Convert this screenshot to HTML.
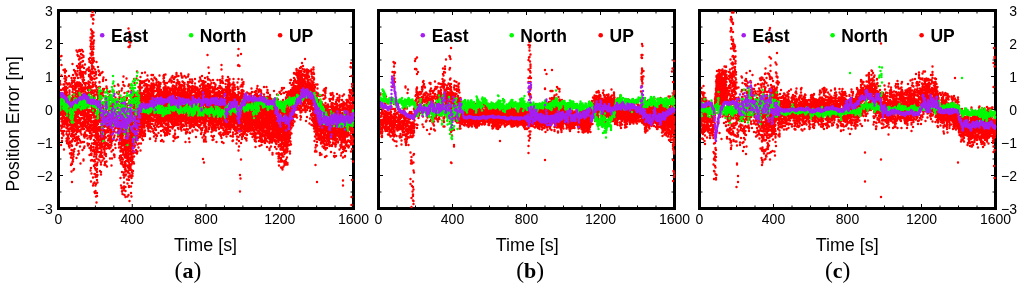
<!DOCTYPE html><html><head><meta charset="utf-8"><style>
html,body{margin:0;padding:0;background:#fff;width:1024px;height:287px;overflow:hidden}
svg{position:absolute;left:0;top:0}
text{font-family:"Liberation Sans", Arial, sans-serif}
</style></head><body>
<svg width="1024" height="287" viewBox="0 0 1024 287">
<defs>
<clipPath id="c0"><rect x="60" y="9.5" width="294.5" height="200"/></clipPath>
<clipPath id="c1"><rect x="380" y="9.5" width="295.5" height="200"/></clipPath>
<clipPath id="c2"><rect x="701" y="9.5" width="295.5" height="200"/></clipPath>
</defs>
<path d="M60 192h1.5M352 192h-1.5M60 175.5h3M352 175.5h-3M60 159h1.5M352 159h-1.5M60 142.5h3M352 142.5h-3M60 126h1.5M352 126h-1.5M60 109.5h3M352 109.5h-3M60 93h1.5M352 93h-1.5M60 76.5h3M352 76.5h-3M60 60h1.5M352 60h-1.5M60 43.5h3M352 43.5h-3M60 27h1.5M352 27h-1.5M76.9375 207v-1.5M76.9375 12v1.5M95.375 207v-1.5M95.375 12v1.5M113.812 207v-1.5M113.812 12v1.5M132.25 207v-3M132.25 12v3M150.688 207v-1.5M150.688 12v1.5M169.125 207v-1.5M169.125 12v1.5M187.562 207v-1.5M187.562 12v1.5M206 207v-3M206 12v3M224.438 207v-1.5M224.438 12v1.5M242.875 207v-1.5M242.875 12v1.5M261.312 207v-1.5M261.312 12v1.5M279.75 207v-3M279.75 12v3M298.188 207v-1.5M298.188 12v1.5M316.625 207v-1.5M316.625 12v1.5M335.062 207v-1.5M335.062 12v1.5" stroke="#000" stroke-width="1" fill="none"/>
<rect x="58.5" y="10.5" width="295" height="198" fill="none" stroke="#000" stroke-width="3"/>
<path d="M380 192h1.5M673 192h-1.5M380 175.5h3M673 175.5h-3M380 159h1.5M673 159h-1.5M380 142.5h3M673 142.5h-3M380 126h1.5M673 126h-1.5M380 109.5h3M673 109.5h-3M380 93h1.5M673 93h-1.5M380 76.5h3M673 76.5h-3M380 60h1.5M673 60h-1.5M380 43.5h3M673 43.5h-3M380 27h1.5M673 27h-1.5M397 207v-1.5M397 12v1.5M415.5 207v-1.5M415.5 12v1.5M434 207v-1.5M434 12v1.5M452.5 207v-3M452.5 12v3M471 207v-1.5M471 12v1.5M489.5 207v-1.5M489.5 12v1.5M508 207v-1.5M508 12v1.5M526.5 207v-3M526.5 12v3M545 207v-1.5M545 12v1.5M563.5 207v-1.5M563.5 12v1.5M582 207v-1.5M582 12v1.5M600.5 207v-3M600.5 12v3M619 207v-1.5M619 12v1.5M637.5 207v-1.5M637.5 12v1.5M656 207v-1.5M656 12v1.5" stroke="#000" stroke-width="1" fill="none"/>
<rect x="378.5" y="10.5" width="296" height="198" fill="none" stroke="#000" stroke-width="3"/>
<path d="M701 192h1.5M994 192h-1.5M701 175.5h3M994 175.5h-3M701 159h1.5M994 159h-1.5M701 142.5h3M994 142.5h-3M701 126h1.5M994 126h-1.5M701 109.5h3M994 109.5h-3M701 93h1.5M994 93h-1.5M701 76.5h3M994 76.5h-3M701 60h1.5M994 60h-1.5M701 43.5h3M994 43.5h-3M701 27h1.5M994 27h-1.5M718 207v-1.5M718 12v1.5M736.5 207v-1.5M736.5 12v1.5M755 207v-1.5M755 12v1.5M773.5 207v-3M773.5 12v3M792 207v-1.5M792 12v1.5M810.5 207v-1.5M810.5 12v1.5M829 207v-1.5M829 12v1.5M847.5 207v-3M847.5 12v3M866 207v-1.5M866 12v1.5M884.5 207v-1.5M884.5 12v1.5M903 207v-1.5M903 12v1.5M921.5 207v-3M921.5 12v3M940 207v-1.5M940 12v1.5M958.5 207v-1.5M958.5 12v1.5M977 207v-1.5M977 12v1.5" stroke="#000" stroke-width="1" fill="none"/>
<rect x="699.5" y="10.5" width="296" height="198" fill="none" stroke="#000" stroke-width="3"/>
<g clip-path="url(#c0)" fill="none" stroke-linecap="round">
<path transform="scale(0.5)" stroke="#ff0000" stroke-width="4.9" d="M116 144zm1-7zm0-27zm0 33zm1 4zm1 60zm0-18zm0 61zm0-137zm1 117zm0-25zm0-39zm0 59zm0 12zm0-20zm0-1zm0-54zm0 43zm0 11zm0-1zm0-20zm0-1zm0 7zm1 11zm0-32zm0 8zm0 16zm0-35zm0 60zm0-27zm0 2zm0 57zm1-81zm0 31zm0 13zm0-11zm0 77zm1-69zm0 35zm0-13zm0-25zm0-67zm0 55zm0-94zm0 140zm0-14zm0-17zm0-91zm0 72zm0 23zm1 4zm0 53zm0-39zm0-46zm0 13zm0 8zm0 25zm0-39zm0-6zm0 2zm0 76zm0-40zm0 26zm0 5zm1-65zm0 12zm0-16zm0 40zm0-4zm0-19zm0 33zm0-28zm0-6zm0 16zm0-25zm0 36zm0-30zm0 17zm0 38zm0-17zm0 16zm1-73zm0 27zm0 46zm0-33zm0 2zm0-24zm0 7zm0-1zm0-5zm0 42zm0-31zm0 24zm0-4zm0-19zm0-12zm0 3zm0 3zm0-40zm0 2zm0 88zm1-57zm0 2zm0 1zm0 57zm0-67zm0 43zm0-38zm0 2zm0 33zm0-8zm0-24zm0 9zm0-22zm0-29zm0 102zm0-52zm0 26zm0-105zm0 77zm0 1zm0-26zm1 34zm0 1zm0-1zm0 16zm0-38zm0 39zm0 19zm0-28zm0 2zm0 7zm0-74zm0 130zm0-70zm0-53zm1 11zm0 1zm0 6zm0 20zm0-9zm0-15zm0-10zm0 31zm0-22zm0 24zm0-37zm0 9zm0-28zm0 33zm0-14zm0 11zm0 60zm0 1zm0-49zm0 29zm0-88zm0 113zm0-24zm0-60zm1 39zm0-45zm0 19zm0-40zm0 45zm0 35zm0-48zm0-22zm0-9zm0 2zm0-6zm0 101zm0-77zm1 43zm0 30zm0-36zm0-11zm0-10zm0 3zm0 23zm0 10zm0-22zm0 22zm0-16zm0 18zm0 21zm0-52zm0 17zm0-16zm0-11zm0 42zm0-18zm1 6zm0-11zm0-15zm0 46zm0-40zm0-7zm0 51zm0-45zm0 16zm0-27zm0 3zm0 71zm0-21zm0 2zm0-69zm0 25zm0 6zm0 52zm0-101zm0 95zm1-22zm0 29zm0-45zm0 64zm0-80zm0 13zm0-9zm0-32zm0 47zm0-36zm0 79zm0-9zm0 20zm0 26zm0-58zm0-33zm0 86zm0-9zm1-38zm0 53zm0 3zm0-53zm0-6zm0 23zm0-27zm0-7zm0 39zm0-41zm0-11zm0 22zm0-34zm0 50zm0-56zm0 44zm0 26zm0-11zm1-25zm0-19zm0 25zm0-16zm0 15zm0-55zm0 41zm0 70zm0-58zm0 48zm0-38zm0 55zm0-35zm0-30zm0 55zm0-28zm0 27zm0-70zm0 51zm0-57zm0 46zm0-70zm0 37zm0 26zm1-12zm0 46zm0-70zm0 23zm0 45zm0-21zm0 1zm0-18zm0 2zm0 4zm0-33zm0-38zm0 45zm0 13zm0 3zm1-8zm0-30zm0 71zm0-65zm0 54zm0-14zm0 2zm0-40zm0 26zm0 4zm0 20zm0 1zm0-43zm0 79zm0-35zm0-43zm0 33zm0-12zm0 31zm0-11zm1 28zm0-49zm0-20zm0-3zm0 10zm0 24zm0 53zm0-125zm0 124zm0-83zm0 21zm0-77zm1 79zm0-43zm0 34zm0-41zm0 77zm0 25zm0-116zm0 66zm0 59zm0-24zm0-27zm0 45zm0 9zm0-122zm0 90zm0-79zm0 73zm1-41zm0 70zm0-36zm0 0zm0-44zm0 6zm0 32zm0 5zm0 58zm0-105zm0 25zm1-14zm0 17zm0 55zm0-85zm0 33zm0-10zm0-27zm0 23zm0-7zm0 10zm0-52zm0 32zm0 34zm1 12zm0 10zm0-1zm0-40zm0 18zm0-19zm0 40zm0 16zm0-59zm0 37zm0-53zm0 118zm0-66zm0-7zm0 41zm0 47zm0-73zm1-59zm0 15zm0 39zm0-28zm0 103zm0-17zm0-4zm0-150zm0 89zm0 55zm0-77zm0 31zm0 36zm0 53zm0-169zm0 30zm0 28zm0 13zm1 6zm0 22zm0 9zm0-53zm0 0zm0 33zm0-31zm0-4zm0-29zm0-37zm0 120zm0 47zm0-79zm0 19zm0-65zm0 80zm0-65zm0 74zm0-125zm0 197zm0-199zm0 65zm0 2zm0 10zm0-77zm0 63zm0-10zm1-90zm0 195zm0-132zm0 20zm0 53zm0-7zm0 59zm0-35zm0-97zm0 139zm0-119zm0-1zm0 65zm0-51zm0 51zm1-39zm0 32zm0 62zm0-81zm0-66zm0 87zm0-63zm0-5zm0 124zm0-119zm0 64zm0 0zm0-85zm0 54zm0-83zm0 157zm0-104zm0-31zm0 129zm0-54zm0-21zm0 46zm0 6zm0-30zm0-69zm1 57zm0-39zm0 17zm0 95zm0-56zm0-74zm0-2zm0 24zm0 47zm0-52zm0 19zm0 98zm0-151zm0 178zm0-79zm1-99zm0 96zm0-81zm0 55zm0-14zm0 120zm0-88zm0-40zm0 26zm0 34zm0-114zm0 34zm0 83zm0-109zm0 23zm0 21zm0 5zm0 90zm0-163zm0 101zm1-5zm0 27zm0-2zm0-20zm0-23zm0-7zm0 12zm0 7zm0-17zm0 21zm0 3zm0 61zm0-51zm0-13zm0-3zm0-70zm1 121zm0-6zm0-120zm0 49zm0 32zm0-34zm0 1zm0 13zm0-48zm0-26zm0 30zm0-31zm0 56zm1-5zm0 32zm0 23zm0-6zm0-42zm0-20zm0-4zm0 48zm0-32zm0 77zm0-102zm0 71zm0-91zm0 39zm0 37zm0 27zm0 4zm1-27zm0 28zm0 5zm0-10zm0-20zm0-25zm0 42zm0-18zm0 4zm0 35zm0-42zm0-25zm0-19zm0-15zm0 21zm0-15zm0 62zm0 43zm0-96zm1 74zm0-105zm0 63zm0-8zm0-34zm0-71zm0 66zm0 107zm0 16zm0 26zm0-71zm0-70zm0 19zm0-47zm0 50zm1 90zm0-70zm0 17zm0-10zm0 40zm0-22zm0-16zm0-16zm0 5zm0 4zm0-54zm0 116zm0-3zm0-14zm0-24zm0-89zm0-19zm0 37zm0-19zm0 80zm1-5zm0 61zm0-7zm0-36zm0 2zm0-41zm0 15zm0 5zm0 3zm0 16zm0-55zm0 71zm0-15zm0 8zm0-142zm0 137zm0-75zm0-30zm0 23zm0 3zm0 30zm0-94zm1 130zm0-67zm0 16zm0 46zm0-47zm0 15zm0 64zm0-149zm0 72zm0-28zm0 62zm0-46zm0 20zm0 0zm0 19zm0-40zm0 85zm0-120zm0 85zm0 25zm0 17zm0-65zm0 111zm0-33zm1-59zm0 26zm0 0zm0 59zm0-16zm0-63zm0-3zm0-48zm0 29zm0 72zm0 5zm0-68zm0-7zm0 37zm0 20zm0-74zm0 5zm0 71zm1-143zm0 59zm0 129zm0-53zm0-12zm0-57zm0-16zm0-4zm0 81zm0-73zm0-7zm0 34zm0 78zm0-150zm0 94zm0-87zm0-34zm0 94zm0 0zm0-15zm1 19zm0 39zm0-16zm0 15zm0-11zm0-1zm0-58zm0 38zm0-56zm0 87zm0-90zm0-14zm0 75zm0-13zm0-76zm0 61zm0-66zm0-13zm0 139zm0-19zm0-54zm1 26zm0-7zm0 38zm0-94zm0 61zm0-88zm0 179zm0-140zm0 71zm0-34zm0 40zm0 43zm0-91zm0 69zm0 54zm0-156zm1 102zm0 6zm0-120zm0 70zm0-28zm0 82zm0 78zm0-185zm0 79zm0-54zm0 73zm0-31zm0-54zm0 29zm0 25zm0 54zm0-70zm0 53zm0-33zm0 52zm0-12zm0-49zm0-8zm1-18zm0 7zm0 66zm0-143zm0 62zm0 89zm0-30zm0-19zm0 2zm0 18zm0-33zm0-53zm0 141zm0-91zm0-46zm0 4zm0 22zm0 28zm0 4zm0-72zm1 91zm0-125zm0 53zm0 56zm0-18zm0 18zm0-75zm0 66zm0-84zm0 88zm0 17zm0-13zm0-32zm0 28zm0-30zm0 95zm0-32zm0-35zm0-20zm0-30zm1 98zm0-76zm0-74zm0 101zm0-6zm0-12zm0 53zm0-15zm0 32zm0-83zm0 50zm0-41zm0-28zm0 60zm0 15zm0-75zm0 51zm0 1zm0-6zm1-38zm0 99zm0-12zm0-26zm0-13zm0 7zm0 22zm0-89zm0-14zm0 124zm0-6zm0-44zm0 77zm0-34zm0-117zm0 48zm0-58zm0 86zm0-78zm0 79zm0-20zm0 0zm0 110zm0-190zm1 105zm0-112zm0 103zm0-9zm0-2zm0-12zm0 45zm0-76zm0-30zm0 122zm0-14zm0-5zm0-25zm0-56zm0 19zm0 59zm0-29zm0-13zm0-30zm0 27zm0 50zm1 25zm0-38zm0-100zm0 91zm0 45zm0-7zm0-50zm0 3zm0-2zm0-39zm0 68zm0 8zm0-28zm0 26zm0-4zm0-113zm0 109zm0 36zm0-69zm0 131zm0 2zm1-71zm0-36zm0 82zm0-58zm0-72zm0 104zm0-134zm0 62zm0-23zm0 2zm0 36zm0 6zm0 53zm0-29zm0-16zm0 57zm0-32zm0 6zm0-33zm0-65zm1 111zm0-26zm0 30zm0-54zm0 47zm0-27zm0 1zm0-5zm0-3zm0 59zm0-62zm0 10zm0-96zm0 84zm1-13zm0 31zm0-26zm0-24zm0-2zm0-12zm0 82zm0-136zm0 49zm0 34zm0 11zm0-30zm0 19zm0-16zm0 54zm0-52zm0-10zm0-20zm0 38zm0 0zm0 20zm0 20zm0-71zm0 19zm0 48zm0-75zm1 53zm0 7zm0-30zm0 10zm0-60zm0 38zm0-15zm0 35zm0 39zm0-44zm0 28zm0-54zm0 95zm0-125zm0 65zm0-14zm0 45zm0-40zm1-2zm0 11zm0 6zm0-3zm0 42zm0 18zm0-82zm0-24zm0 63zm0 23zm0-45zm0 11zm0-42zm0 56zm0 40zm1-83zm0 44zm0-5zm0-16zm0 33zm0 16zm0-59zm0 53zm0-115zm0 104zm1 12zm0-37zm0-19zm0 15zm0-28zm0 42zm0 7zm0-46zm0 55zm0 26zm1-64zm0 51zm0-38zm0 29zm0 2zm0-18zm0-28zm0 20zm0 34zm0-34zm0-23zm0 85zm0-48zm0-62zm0 100zm0-139zm0 92zm1-8zm0-42zm0-6zm0 82zm0 35zm0-124zm0 25zm0 99zm0-94zm1-58zm0 36zm0 38zm0 26zm0 3zm0 5zm0-25zm0 5zm0-64zm0 18zm0 54zm0-49zm0 76zm0-37zm0 23zm0-11zm1-102zm0-17zm0 32zm0 138zm0-94zm0-24zm0 91zm0-7zm0-102zm0 84zm0-57zm0-8zm0-29zm0 97zm0 23zm0-30zm1-38zm0 80zm0-76zm0-45zm0 119zm0 38zm0-115zm0-54zm0 38zm0 25zm0 19zm0 33zm0 40zm0-174zm0 120zm0-70zm0-48zm0 96zm1 10zm0-21zm0 25zm0-118zm0 25zm0 121zm0-64zm0 68zm0-16zm0-51zm0 39zm0-87zm0 88zm0-116zm0 115zm0-73zm0-13zm0 1zm1-5zm0 55zm0-4zm0 79zm0-77zm0-43zm0 21zm0 76zm0-112zm0 110zm0-98zm0-62zm0 93zm0-10zm0-101zm0 32zm0 157zm0-77zm0 46zm0 108zm0-260zm0 169zm1-6zm0-146zm0 135zm0 75zm0-201zm0 256zm0-112zm0 50zm0-148zm0 139zm0-198zm0 79zm0 15zm0-62zm0-38zm0 144zm0 89zm0-45zm0-35zm0 95zm0-152zm0 115zm0-240zm1 25zm0 127zm0 96zm0-58zm0-63zm0 28zm0-121zm0 67zm0-127zm0 227zm0-24zm0 17zm0 6zm0-176zm0 141zm0 49zm0-6zm0-200zm0 185zm0 43zm0-184zm0 236zm0-48zm0-29zm0 40zm0-52zm0-228zm0 177zm0 14zm1 2zm0-136zm0 58zm0 142zm0-57zm0-155zm0 58zm0-30zm0-27zm0 244zm0-203zm0 94zm0 7zm0 2zm0-100zm0 17zm0-6zm0 54zm0-108zm0 50zm0 19zm0 48zm0-132zm0 13zm0 63zm0 21zm1-12zm0-81zm0 58zm0-58zm0 108zm0-40zm0-49zm0 58zm0 42zm0 73zm0 13zm0 0zm0-57zm0 16zm0-159zm0 74zm0-121zm0 109zm0 34zm0-95zm0 178zm0-49zm0 24zm0-11zm0-28zm0-50zm0 56zm0-127zm0 116zm0-25zm1 38zm0-60zm0 72zm0-41zm0 38zm0-165zm0 71zm0 61zm0 73zm0-48zm0 49zm0-156zm0 167zm0-11zm0-146zm0 273zm0-246zm0 19zm0 211zm0-209zm0 27zm0 88zm0-156zm0-58zm0 255zm0-237zm1 58zm0 11zm0 108zm0 125zm0-137zm0-86zm0 51zm0-123zm0 21zm0-6zm0 29zm0 20zm0-51zm0 13zm0 146zm0-205zm0 147zm0 57zm0-125zm0-88zm0 188zm0 104zm0-127zm0 0zm0 17zm0 82zm0-30zm0-40zm0-159zm0 155zm1 27zm0-166zm0 154zm0-113zm0 210zm0-120zm0 68zm0 20zm0-93zm0 44zm0 8zm0-15zm0 69zm0-71zm0-31zm0 90zm0-50zm0-9zm0 46zm0-56zm0 67zm0-13zm0-59zm1 8zm0-17zm0 35zm0-26zm0 81zm0 40zm0-44zm0-33zm0 94zm0-207zm0 34zm0-40zm0 110zm0 59zm0-66zm0-66zm0 131zm0-139zm0 78zm0 125zm0-113zm0-61zm0 77zm0 43zm1-84zm0-5zm0 82zm0-104zm0-73zm0 240zm0-163zm0-54zm0 102zm0 17zm0-29zm0 23zm0-143zm0 44zm0 79zm0-55zm0 48zm0-6zm0 87zm0-101zm0 94zm1-54zm0-29zm0 136zm0-127zm0 5zm0 79zm0-174zm0 206zm0-99zm0-25zm0 57zm0-89zm0 70zm0 64zm0-142zm0 36zm0 20zm0-18zm0-73zm0 92zm0 90zm0-71zm0-12zm0-58zm0-11zm1 65zm0-34zm0 160zm0-153zm0 58zm0 15zm0-165zm0 107zm0-5zm0-101zm0 73zm0 73zm0-123zm0 95zm0-15zm0-108zm0 101zm0 19zm0 6zm0-18zm0 116zm1-193zm0 116zm0 37zm0-23zm0-10zm0-139zm0 76zm0 66zm0 41zm0 2zm0-10zm0-72zm0 58zm0-77zm0 65zm0 100zm0-155zm0-71zm0 130zm0-120zm0 96zm0-161zm0 87zm0 83zm0-3zm0-29zm0-16zm0 55zm1 27zm0-67zm0 83zm0-6zm0-88zm0 142zm0-6zm0-99zm0-54zm0 46zm0 15zm0-110zm0 146zm0-141zm0 171zm0-160zm0 153zm0-75zm0-49zm0 68zm0 7zm0-120zm1 43zm0 4zm0 12zm0-16zm0-3zm0 78zm0-31zm0 79zm0-135zm0 45zm0 65zm0-112zm0 61zm0-35zm0-35zm0 61zm0-34zm0 10zm0-5zm0-13zm0 142zm0-142zm0-10zm0 72zm0-41zm1-30zm0-19zm0 76zm0-54zm0 20zm0-103zm0 109zm0-62zm0 24zm0-24zm0 12zm0 75zm0-38zm0-35zm0 12zm0 41zm0-51zm0 38zm0 20zm1-20zm0-60zm0 144zm0-48zm0-31zm0 21zm0-44zm0 56zm0-37zm0 20zm0 2zm0 24zm0-63zm0-22zm0 25zm0 56zm0 6zm0-143zm0 98zm0 0zm0 65zm0-49zm0-19zm0 41zm0-81zm0 5zm0 96zm0-92zm0 52zm0 33zm1-81zm0 72zm0-91zm0 13zm0-60zm0 71zm0-28zm0-2zm0 34zm0 21zm0-89zm0 85zm0 19zm0-16zm0 21zm1-22zm0-31zm0 37zm0-56zm0 37zm0-11zm0-48zm0-1zm0 10zm0 117zm0-58zm0 80zm0-55zm0-94zm0 38zm0 32zm0 9zm0 78zm0-87zm0 22zm1 86zm0-112zm0-30zm0 15zm0 96zm0-82zm0-17zm0-38zm0 20zm0 102zm0-112zm0 17zm0-51zm0 94zm0-55zm0 90zm0 8zm0-77zm0 17zm0-18zm0-61zm0 76zm0 0zm0-6zm1 56zm0-35zm0 51zm0 24zm0-57zm0-35zm0-5zm0 93zm0-48zm0-49zm0 95zm0-97zm0 44zm0 49zm0-41zm0 30zm0-20zm1-59zm0 56zm0-7zm0-77zm0 92zm0 30zm0-38zm0-16zm0 24zm0-1zm0-23zm0-62zm0 152zm0-102zm0-3zm0-49zm0 139zm0-51zm0 16zm0 31zm0 24zm0-83zm1 27zm0-8zm0-61zm0 76zm0-103zm0 80zm0-12zm0-28zm0-19zm0 65zm0-98zm0-39zm0 85zm0 60zm0-44zm0 35zm0-4zm0-57zm0-3zm1-7zm0 101zm0-56zm0-15zm0 71zm0-55zm0 11zm0 24zm0 13zm0-58zm0 42zm0 6zm0-63zm1 36zm0-32zm0 17zm0 19zm0 7zm0-11zm0 53zm0-33zm0-144zm0 170zm0-106zm0 18zm0 88zm0-54zm0-17zm0-57zm0 19zm0 53zm0-75zm1-1zm0 23zm0 32zm0-59zm0 55zm0 27zm0-75zm0 66zm0-23zm0 45zm0-62zm0 30zm0-27zm0 13zm0 48zm0-59zm0-54zm0 29zm0 21zm0 23zm0-76zm1 33zm0 40zm0 39zm0 6zm0-6zm0-28zm0-21zm0-38zm0 54zm0-83zm0 76zm0 16zm0 30zm0-70zm0-26zm0 68zm0-67zm1 80zm0-54zm0-30zm0 61zm0-2zm0 2zm0 42zm0 12zm0 5zm0-46zm0 18zm0-10zm0 26zm0-16zm0 16zm0-52zm0 20zm0 8zm0 55zm1-49zm0-15zm0 52zm0-22zm0 4zm0-76zm0 55zm0 40zm0-4zm0 7zm0 21zm0-98zm0 45zm0-73zm0 89zm1-25zm0-33zm0 62zm0 29zm0-2zm0-60zm0-30zm0 34zm0 5zm0-76zm0 95zm1-86zm0 82zm0-37zm0 57zm0-47zm0-51zm0 120zm0-97zm0 16zm0 41zm0-62zm1 47zm0-49zm0 64zm0-57zm0 75zm0-108zm0 86zm0 11zm0-137zm0 152zm0-102zm0 11zm1-15zm0 117zm0-150zm0 44zm0 32zm0 13zm0-86zm0 49zm0 36zm0-27zm0-40zm0 103zm0-44zm0 12zm1-40zm0 13zm0 10zm0 85zm0-156zm1 77zm0 33zm0-23zm0-14zm0 9zm0-28zm0-3zm0 21zm0-16zm0-50zm0 59zm0-27zm1-12zm0 40zm0 29zm0 20zm0-11zm0-53zm0 29zm0 31zm0-32zm1 6zm0-8zm0 42zm0-32zm0-36zm0 65zm0-54zm0 24zm0-24zm0 32zm0 7zm1-58zm0-27zm0 58zm0-21zm0 4zm0-9zm0-10zm0-14zm0 53zm0-39zm0 2zm0-33zm0 67zm0-43zm0-6zm0 31zm0-15zm0 30zm1-53zm0 29zm0-26zm0 57zm0-32zm0 53zm0-5zm0-27zm0-8zm0-13zm0 33zm0-37zm0-8zm0 79zm0-58zm0 65zm1 20zm0-77zm0 40zm0-49zm0-48zm0 17zm0 36zm0 44zm0-35zm0-33zm0 72zm0-94zm0 36zm0 14zm0-25zm0 45zm0-18zm0-11zm1-40zm0 65zm0 18zm0-54zm0 75zm0-24zm0-47zm0 43zm0-10zm0-30zm0 25zm0-11zm0 29zm0-11zm1 4zm0 27zm0-49zm0-18zm0 36zm0 31zm0-59zm0 19zm0-42zm0 60zm0 11zm0-47zm0 42zm0-21zm0 19zm1-29zm0 43zm0-8zm0 53zm0-60zm0-6zm0-33zm0 33zm0 20zm0-65zm0 11zm0 53zm0-43zm0 18zm0 32zm0-51zm0 63zm1-38zm0 16zm0-42zm0-8zm0-12zm0 63zm0-31zm0-58zm0 124zm0-104zm0 19zm0-19zm0 1zm0 5zm1 17zm0-5zm0-32zm0 10zm0 7zm0 27zm0 8zm0-46zm0 43zm1 5zm0-18zm0-19zm0 7zm0 1zm0 16zm0-10zm0-23zm0 17zm0 76zm0-52zm0-3zm0 21zm0-22zm1-34zm0 29zm0-12zm0-44zm0 43zm0 19zm0 35zm0-29zm0-10zm0-42zm0 64zm1-2zm0-30zm0 79zm0-1zm0-34zm1-103zm0 72zm0 66zm0-39zm0-52zm0 95zm0-51zm0-24zm1-35zm0 53zm0 32zm0-67zm0 19zm0-28zm1 83zm0-41zm0-27zm0-33zm0 13zm1-5zm0 30zm0-32zm0 80zm0-46zm0-7zm0-22zm1 47zm0-7zm0-18zm0-4zm0 15zm0 9zm1-33zm0-30zm0 94zm0-28zm0-21zm1-5zm0 31zm0-19zm0-26zm0 14zm1 48zm0-40zm0-64zm0 44zm0 50zm0-36zm0 29zm0 9zm0-57zm0 59zm0 4zm0-25zm1-20zm0-38zm0 47zm0 12zm0-21zm0-23zm0-32zm0 57zm0 31zm0 5zm0-23zm0 9zm0 3zm1-68zm0-2zm0 66zm0 37zm0-49zm0 52zm0-85zm0 15zm0 6zm0 6zm0 27zm0-24zm0 61zm0-38zm0-59zm1 87zm0-23zm0-30zm0 0zm0-14zm0 53zm0-1zm0-31zm0-12zm0 23zm0-56zm0 65zm0 3zm0-23zm0 77zm0-64zm0 4zm1 32zm0-45zm0 29zm0 40zm0-61zm0-41zm0 67zm0-11zm0 1zm0-27zm1 24zm0 30zm0-81zm0 88zm0-91zm0 55zm0-33zm0 26zm0 45zm0-56zm0-24zm0 32zm0 66zm0 35zm0-94zm0 5zm0-46zm0 55zm0 3zm0-27zm0 42zm0 26zm1-46zm0 20zm0-27zm0 20zm0-46zm0 30zm0-18zm0-46zm0 105zm0-1zm0-106zm0 91zm0 18zm0 57zm0-91zm0-8zm0 55zm0-50zm0-45zm0 64zm1 6zm0-5zm0-7zm0-30zm0-25zm0-27zm0 117zm0-40zm0-66zm0 66zm0-104zm0 195zm0-179zm0 73zm0-41zm0 97zm0-49zm0-19zm0-12zm0 79zm0-46zm0-4zm0 51zm0-74zm1 6zm0 40zm0-82zm0 55zm0-94zm0 46zm0 33zm0 22zm0 38zm0-52zm0 80zm0-68zm0 5zm0 102zm0-57zm1-79zm0 10zm0-33zm0 49zm0 30zm0-28zm0 113zm0-13zm0-57zm0-49zm0-2zm0-14zm0 18zm0-72zm0 84zm0-29zm0 75zm0-125zm0 63zm0-27zm0 51zm0-24zm0-13zm0 26zm0 101zm0-57zm0-50zm0 4zm0 39zm1-18zm0-9zm0-2zm0 31zm0-155zm0 119zm0-63zm0 41zm0-29zm0-5zm0-23zm0 105zm0-55zm0-7zm0-3zm0 20zm0 7zm0-42zm0 75zm0-96zm0 5zm1-18zm0 32zm0-31zm0 55zm0 38zm0-119zm0 136zm0-71zm0 24zm0-55zm0 141zm0-192zm0 180zm0-50zm0-59zm0 126zm1-132zm0 10zm0 12zm0 42zm0-2zm0 19zm0 66zm0-84zm0-15zm0 114zm0-160zm0 129zm0-120zm0 147zm0-21zm0 18zm0-74zm0-78zm0 108zm0-42zm0-82zm0 95zm0-48zm0 13zm0-70zm0 139zm1-76zm0-17zm0-69zm0 138zm0-83zm0-32zm0 137zm0-51zm0 9zm0-81zm0 86zm0 37zm0-46zm0 26zm0-93zm0 31zm0 140zm0-164zm0 12zm0-52zm0 97zm0-22zm0-27zm1 67zm0-70zm0 93zm0-14zm0-72zm0 42zm0-36zm0 37zm0-55zm0 62zm0-26zm0-20zm0-40zm0 112zm0 1zm0-32zm0 56zm0-14zm0-63zm0 36zm0-44zm0-17zm0-20zm1 0zm0 110zm0-83zm0 50zm0 35zm0 22zm0 31zm0-100zm0-61zm0 60zm0 57zm0-101zm0 95zm0-57zm0 68zm0-64zm0 49zm0-66zm0 65zm0 6zm0 41zm0 20zm0-127zm1 6zm0 49zm0-22zm0-39zm0-30zm0 18zm0 12zm0 1zm0-2zm0 9zm0-21zm0 3zm0 37zm0-59zm0 82zm0-3zm0-3zm0-6zm0 50zm0-67zm1 2zm0 27zm0-3zm0-5zm0-39zm0 9zm0 36zm0-152zm0 107zm0 34zm0 1zm0-45zm0-23zm0 71zm0-53zm0-34zm0 101zm0-90zm0 116zm0-67zm0 38zm0-26zm0-87zm0 47zm0 10zm0-10zm0-38zm0 106zm0-53zm1-15zm0 64zm0-61zm0 5zm0-70zm0 84zm0 15zm0-65zm0 70zm0-39zm0-54zm0 45zm0-31zm0 56zm0-29zm0 50zm0 12zm0 60zm0-145zm0 63zm1 54zm0 62zm0-140zm0 45zm0 19zm0-86zm0 32zm0-55zm0 68zm0 45zm0-54zm0 51zm0-73zm0 38zm0 10zm0-59zm0 82zm0-45zm0 25zm0-1zm0 19zm0 53zm0-123zm0 38zm1-3zm0-37zm0 64zm0-5zm0-23zm0-8zm0 73zm0-30zm0-40zm0 9zm0 14zm0 49zm0-11zm0-101zm0 38zm0-29zm0 53zm0-34zm0 61zm0-88zm0 33zm1 86zm0-73zm0-29zm0 30zm0 37zm0-146zm0 73zm0 79zm0 13zm0 53zm0-137zm0-44zm0-115zm0 222zm0 7zm0-266zm0 276zm0-76zm0-74zm0 109zm0-69zm0 136zm1-102zm0-20zm0 59zm0-30zm0 88zm0 20zm0-125zm0 14zm0 39zm0-42zm0 13zm0 8zm0-1zm0-1zm0 10zm0-215zm0 183zm0 43zm0-90zm0 36zm0 126zm0-288zm0 117zm0-32zm0 87zm0 45zm0-95zm0 103zm0-139zm0 190zm0-35zm1-100zm0 91zm0 86zm0-210zm0 124zm0 24zm0 7zm0-75zm0 13zm0 68zm0-21zm0-4zm0-51zm0 12zm0-195zm0 240zm0-47zm0 7zm0 35zm0-265zm0 199zm0 20zm1 25zm0-56zm0 100zm0-122zm0-24zm0 54zm0 15zm0-48zm0 89zm0-8zm0 27zm0-250zm0 251zm0-77zm0 22zm0-72zm0-118zm0 211zm0-80zm0 4zm0 19zm0-13zm1 34zm0-90zm0 72zm0 72zm0-45zm0 12zm0 46zm0-98zm0 53zm0-64zm0 85zm0-38zm0-65zm0 45zm0 64zm0-14zm0-41zm0 76zm0-41zm0-11zm0-28zm0 48zm0 11zm0-75zm0-166zm0 11zm0 196zm1-5zm0 97zm0-68zm0-55zm0 40zm0-12zm0-11zm0 54zm0-30zm0-26zm0 19zm0-6zm0 11zm0-16zm0 113zm0-80zm0 45zm0-62zm0-23zm0 2zm0 14zm0-54zm0 94zm0-25zm0-11zm0 8zm1-29zm0 57zm0-49zm0-27zm0 94zm0-69zm0 58zm0 24zm0-49zm0-6zm0-45zm0 103zm0-106zm0-7zm0 65zm0-74zm0-38zm0 5zm0-19zm0 211zm0-127zm0 4zm1-25zm0 47zm0-33zm0 32zm0-8zm0-7zm0 51zm0-65zm0 104zm0-46zm0-29zm0-17zm0 5zm0 2zm0-7zm0 70zm0-66zm0 35zm0-59zm0 7zm1 26zm0 31zm0-5zm0-78zm0 49zm0-71zm0 37zm0 0zm0-24zm0 40zm0-37zm0 49zm0 8zm0-23zm0-5zm0 26zm0 31zm0-22zm0 59zm0-35zm0-23zm0 53zm0-66zm0 0zm0-25zm0 15zm0-3zm1 74zm0-89zm0 49zm0-19zm0 24zm0-50zm0 21zm0-42zm0 9zm0 60zm0-48zm0-35zm0 24zm0-40zm0 57zm0-31zm0 35zm0 37zm0-9zm0-60zm1 20zm0 69zm0-84zm0 53zm0-32zm0-65zm0 50zm0-28zm0 13zm0-11zm0 30zm0 23zm0-58zm0 27zm0 44zm0 1zm0-48zm0-14zm0-15zm0 61zm0 21zm0-93zm0 83zm0-97zm0 41zm0-33zm0 1zm1 50zm0 32zm0-87zm0 71zm0-55zm0 50zm0-63zm0 35zm0 100zm0-169zm0 136zm0 19zm0-46zm0-6zm0 11zm0-12zm0 4zm0-25zm0-2zm1-23zm0 63zm0-14zm0-40zm0-3zm0 85zm0-67zm0 56zm0-74zm0 22zm0-48zm0 77zm0 5zm0-31zm0-79zm0 125zm0-46zm0-2zm0 6zm0-28zm0-36zm0 21zm0 11zm0 45zm0 13zm0-74zm0 75zm0-60zm1-17zm0 5zm0 63zm0 3zm0-36zm0 14zm0-54zm0 86zm0-24zm0 35zm0-7zm0-75zm0 14zm0 14zm0 20zm0-70zm0 65zm1-29zm0 11zm0-2zm0-16zm0 45zm0-31zm0-20zm0 16zm0 33zm0-14zm0-1zm0-49zm0 1zm0 40zm0 8zm0-1zm0-13zm0-10zm0 43zm0-30zm0-18zm0-13zm0 71zm0 0zm1-43zm0 44zm0-21zm0-10zm0 57zm0 5zm0-20zm0-48zm0 9zm0-28zm0-5zm0 62zm0 2zm0-5zm0-33zm0 27zm0-54zm0-6zm0-13zm1 16zm0-7zm0 35zm0 0zm0-19zm0 52zm0-22zm0 1zm0-11zm0 24zm0-58zm0-4zm0 65zm0-61zm0 42zm0-89zm0 83zm0-43zm0 66zm0-71zm1 16zm0 8zm0 19zm0-92zm0 52zm0 37zm0 31zm0-23zm0-18zm0 22zm0-16zm0 27zm0 0zm0 52zm0-55zm1-6zm0 31zm0-68zm0 94zm0-64zm0-42zm0 25zm0 47zm0 0zm0 20zm0-82zm0 73zm0-9zm0 18zm1-13zm0-44zm0 25zm0-15zm0-4zm0 23zm0-68zm0 44zm0-6zm0 16zm0-32zm0 24zm0-26zm0-29zm0 41zm0-13zm0-1zm1-2zm0 22zm0-16zm0-41zm0 8zm0 41zm0 17zm0 3zm0 52zm0-43zm0 7zm0-58zm0-7zm0 22zm0 25zm1-4zm0-15zm0 4zm0 61zm0-28zm0-14zm0-7zm0-5zm0-11zm0-6zm0 14zm0-9zm0-34zm0 19zm1 41zm0 7zm0 19zm0-35zm0 15zm0-34zm0 12zm0 35zm0-5zm0-64zm0-7zm0 49zm0-18zm0 8zm0 17zm0-7zm0-7zm0-1zm0-12zm0 49zm0-92zm1 18zm0-14zm0 46zm0-38zm0 86zm0-36zm0-33zm0 4zm0-1zm0-18zm0-21zm0 36zm0-5zm0-33zm0 29zm0-8zm0-16zm0 69zm0-79zm0 60zm1 8zm0-53zm0 71zm0-34zm0 16zm0-45zm0-31zm0 43zm0 104zm0-30zm0-45zm0 16zm0 18zm0-33zm1 25zm0-11zm0 27zm0-33zm0 11zm0 3zm0 15zm0-10zm0-44zm0 35zm0-15zm0 57zm0-35zm0 12zm0-46zm0-9zm0 44zm0-23zm0 5zm0-36zm0 2zm1 52zm0 5zm0-18zm0 0zm0-42zm0 41zm0-12zm0 24zm0 5zm0-20zm0-73zm0 1zm0 27zm0 36zm0-23zm0 40zm0-40zm0 1zm0-40zm0 48zm0 8zm0-23zm1-23zm0 15zm0 30zm0-7zm0 15zm0-18zm0 45zm0-55zm0-2zm0-52zm0 41zm0 90zm0-81zm0 44zm0-40zm0-8zm0 70zm0-38zm0 15zm0-73zm0 74zm0-41zm0 7zm0 28zm1 26zm0-30zm0-67zm0 49zm0 52zm0-43zm0 51zm0-64zm0 33zm0-13zm0-29zm0 54zm0-35zm0-24zm0 58zm0-3zm0-27zm0 39zm0-47zm0 12zm1 10zm0 8zm0-1zm0-47zm0 48zm0 23zm0-48zm0 4zm0 44zm0-26zm0 6zm0-27zm0 9zm0 26zm0-36zm0-31zm0 43zm0-30zm0 66zm0-24zm0 10zm0 27zm1-59zm0-4zm0 6zm0-29zm0 6zm0-14zm0 25zm0-11zm0 17zm0 10zm0 15zm0 0zm0 23zm0-53zm0 60zm0-62zm0 18zm0 10zm0-51zm0 42zm0 11zm1-24zm0-8zm0-26zm0 45zm0-32zm0 15zm0 15zm0 0zm0 12zm0-36zm0 31zm0 0zm0-22zm0 42zm0-24zm0-28zm0-35zm0 52zm0 3zm0 11zm0-60zm0 74zm0-4zm0-10zm0-16zm1-53zm0 86zm0-38zm0 24zm0-17zm0 26zm0 12zm0 0zm0-38zm0-13zm0-20zm0 64zm0 3zm0-29zm0-1zm0 43zm0-39zm0 27zm0-55zm0 35zm1 8zm0 32zm0-30zm0-4zm0-34zm0 42zm0-57zm0 12zm0-10zm0 24zm0-44zm0 27zm0 71zm0-8zm0-67zm0-49zm0 51zm0 2zm0 70zm0-56zm0-9zm0 38zm0-60zm1 11zm0 1zm0-14zm0 4zm0-6zm0 33zm0 1zm0-32zm0 63zm0-14zm0-10zm0-12zm0 18zm0-56zm0 43zm0 22zm0-17zm0 16zm0 3zm0-33zm1 34zm0-29zm0-9zm0 34zm0 12zm0-16zm0-34zm0 32zm0-3zm0 10zm0-26zm0 14zm0-1zm0-59zm0 56zm0 6zm0-26zm0 28zm0 4zm0 5zm0-27zm1 13zm0 12zm0-33zm0 20zm0 14zm0-9zm0-2zm0 6zm0-31zm0-7zm0 47zm0-6zm0-36zm0 23zm0-39zm0 4zm0 46zm0-60zm0 32zm0 6zm0 4zm0 27zm0-18zm0-3zm0-7zm0-26zm1 52zm0-45zm0 61zm0-41zm0-13zm0 49zm0-34zm0 6zm0-39zm0-10zm0 35zm0-11zm0 43zm0-48zm0 16zm0-23zm0-8zm0-3zm0 8zm0 66zm0-67zm1 10zm0 26zm0 31zm0-94zm0 19zm0 0zm0 29zm0 5zm0-6zm0 37zm0-10zm0 4zm0 24zm0-36zm0-15zm0 35zm0-7zm0 5zm0-18zm0-58zm0 20zm0 29zm0-31zm1 67zm0-14zm0-31zm0 26zm0 14zm0-55zm0 45zm0-10zm0-9zm0-7zm0 54zm0-46zm0 17zm0-6zm0-12zm0 32zm0-22zm0-18zm0 32zm0-19zm1-13zm0 19zm0 30zm0-7zm0 3zm0-38zm0 5zm0-17zm0-3zm0 32zm0-10zm0-12zm0 57zm0-6zm0-36zm0-7zm0 20zm0 3zm0-10zm0 37zm0-9zm0-40zm0-29zm0 5zm0 2zm1 31zm0-35zm0 11zm0 17zm0-24zm0 8zm0-20zm0 15zm0 16zm0 23zm0-70zm0 47zm0-39zm0 14zm0 13zm0 0zm0-17zm0-19zm0 26zm0 16zm0-5zm0 14zm1 12zm0-48zm0 57zm0-39zm0 4zm0-22zm0 13zm0 9zm0-2zm0 14zm0 16zm0-16zm0 7zm0-19zm0 51zm0-72zm0 10zm0 36zm0-20zm0 20zm0-21zm0-2zm0 38zm0-44zm1 45zm0 2zm0-18zm0 17zm0-20zm0-23zm0 57zm0-30zm0-38zm0 66zm0-22zm0-9zm0 55zm0-81zm0 29zm0 14zm0-1zm0-18zm0 58zm0-49zm0-49zm0 47zm0 21zm1-44zm0-16zm0 16zm0 19zm0-27zm0-5zm0 28zm0-11zm0 5zm0-6zm0 0zm0 11zm0-19zm0 49zm0-6zm0-9zm0 14zm0-20zm0 36zm0-22zm0-21zm0 2zm1-48zm0 18zm0-10zm0 27zm0 21zm0 24zm0-38zm0 20zm0-65zm0 22zm0 28zm0 3zm0-51zm0 47zm0 21zm0-47zm0-16zm0 19zm0 10zm0 11zm0 11zm1 0zm0-32zm0 16zm0 3zm0-66zm0 54zm0 6zm0 10zm0-12zm0-31zm0 20zm0-30zm0 41zm0 10zm0-19zm0 9zm0-28zm0-2zm0-20zm0 27zm0 55zm1-44zm0 61zm0-56zm0 16zm0 21zm0-48zm0-2zm0-6zm0-5zm0 47zm0-1zm0-13zm0-13zm0 2zm0-20zm0 47zm0-52zm0 16zm0 30zm0-7zm0-9zm0 37zm0-47zm1 9zm0-15zm0 40zm0 0zm0-17zm0-13zm0 24zm0-21zm0-21zm0 41zm0 7zm0-44zm0 27zm0 9zm0 0zm0-22zm0-7zm0 57zm0-11zm0-57zm0 38zm0 6zm0-37zm0 16zm0 19zm1-72zm0 11zm0 24zm0 2zm0 2zm0 34zm0-53zm0 32zm0 11zm0 27zm0-42zm0-7zm0 72zm0-38zm0-12zm0 50zm0-86zm0 16zm0 49zm0-11zm0-32zm0 10zm1-16zm0 6zm0 3zm0 22zm0-40zm0 25zm0-22zm0 51zm0-60zm0-5zm0 46zm0 12zm0-24zm0-40zm0 44zm0-28zm0 17zm0 61zm0-67zm0 36zm0-15zm0-1zm1 10zm0 28zm0-45zm0 2zm0-26zm0 26zm0 4zm0 4zm0-10zm0 18zm0-12zm0-6zm0 33zm0-57zm0 30zm0 53zm0-49zm0-11zm0 13zm0-13zm0 67zm0-75zm0 4zm0-2zm1 6zm0 2zm0 2zm0-7zm0-47zm0 60zm0-12zm0 1zm0 52zm0-86zm0 57zm0-29zm0-3zm0 36zm0-16zm0-21zm0-20zm0 55zm0 4zm0-41zm0 47zm0-46zm0-39zm1 56zm0 0zm0-1zm0-3zm0 22zm0-27zm0-20zm0 31zm0-18zm0 6zm0-4zm0 1zm0 11zm0-16zm0-23zm0 49zm0-5zm0-13zm0 10zm0-16zm0 3zm0 18zm1 4zm0 26zm0-77zm0 28zm0 8zm0 51zm0-31zm0-16zm0 34zm0-46zm0 50zm0 22zm0-66zm0 43zm0-33zm0 18zm0-7zm0-24zm0 10zm0 72zm0-33zm1 28zm0-34zm0 17zm0-56zm0 0zm0 24zm0 42zm0-59zm0-19zm0 48zm0-37zm0 13zm0 6zm0-23zm0 12zm0 0zm0-11zm0 3zm0 12zm0-33zm0-24zm0 38zm1-4zm0-24zm0 55zm0 13zm0-23zm0-6zm0 19zm0-34zm0 27zm0-51zm0 61zm0-31zm0 43zm0-50zm0 12zm0 1zm0 66zm0-46zm0-4zm0-55zm0-5zm1 70zm0-11zm0 17zm0-57zm0 34zm0-24zm0 1zm0 41zm0-60zm0 42zm0-10zm0-5zm0 54zm0-39zm0-35zm0 48zm0-7zm0 8zm0 45zm0-21zm0-46zm0 11zm1-16zm0 13zm0-10zm0-13zm0 44zm0-25zm0 5zm0 2zm0 8zm0 17zm0-12zm0-22zm0 5zm0 14zm0-37zm0-8zm0 50zm0-3zm0-53zm0 31zm0 26zm0-6zm0 13zm1-66zm0 61zm0-51zm0 37zm0-9zm0 34zm0-37zm0 5zm0 3zm0 16zm0-6zm0-1zm0-27zm0 6zm0 44zm0-42zm0-20zm0 56zm0-29zm0-22zm0 37zm0-19zm1 6zm0 51zm0-102zm0 64zm0-45zm0 54zm0-7zm0-3zm0-4zm0-26zm0 57zm0-56zm0 30zm0 8zm0 3zm0-62zm0 47zm0-6zm0-40zm0 46zm0-1zm0 14zm0 0zm0-30zm0-35zm1 24zm0 20zm0 27zm0-51zm0-9zm0 53zm0 7zm0-62zm0 18zm0 0zm0-31zm0 34zm0 11zm0-29zm0 33zm0-18zm0 8zm0 28zm0-20zm0-25zm0 7zm0-1zm0 28zm0-40zm0 1zm0 1zm0 18zm1-16zm0 33zm0-40zm0 12zm0 9zm0 19zm0-23zm0 15zm0-22zm0 1zm0-41zm0 38zm0-6zm0 63zm0-49zm0-2zm0 11zm0-9zm0 2zm0 26zm0-48zm0 6zm1 19zm0 13zm0 23zm0-2zm0-27zm0-3zm0 28zm0-10zm0-27zm0-13zm0 7zm0 35zm0 14zm0-46zm0-3zm0-18zm0 67zm1-34zm0-9zm0 38zm0-21zm0 32zm0 1zm0-38zm0 24zm0-65zm0 58zm0-32zm0 0zm0-6zm0 60zm0-33zm0-2zm0-2zm0 1zm0-46zm0 36zm0-8zm0 58zm0-46zm0 30zm0-20zm0 12zm1 54zm0-62zm0 20zm0-60zm0 51zm0-20zm0 27zm0-17zm0 31zm0 10zm0-59zm0 26zm0-5zm0 17zm0-5zm0 35zm0-66zm0 41zm0-20zm1 0zm0-40zm0 45zm0-29zm0 49zm0-21zm0-14zm0-25zm0 43zm0-43zm0-8zm0 27zm0 22zm0-38zm0 25zm0 5zm0 3zm0-25zm0-15zm0 34zm0 6zm0 20zm1 2zm0-15zm0-42zm0 17zm0-12zm0 31zm0-27zm0-8zm0 21zm0 14zm0-16zm0 14zm0 26zm0-67zm0 95zm0-37zm0-48zm0 47zm0-45zm0-7zm0 30zm0-22zm0 7zm0 6zm0-8zm1 37zm0-7zm0 9zm0-11zm0-4zm0-23zm0 15zm0-31zm0-2zm0 55zm0-41zm0 23zm0 18zm0-53zm0 36zm0-24zm0 35zm0-33zm1 1zm0 31zm0-46zm0 34zm0 18zm0-14zm0-23zm0-14zm0 53zm0-30zm0 16zm0-35zm0 10zm0-10zm0-1zm0 61zm0-63zm0 0zm0 15zm0 7zm0-3zm0 33zm0 18zm0 1zm1 0zm0-26zm0-28zm0-55zm0 42zm0-2zm0 16zm0 19zm0 56zm0-99zm0 20zm0-5zm0 19zm0-24zm0-37zm0 36zm0-9zm0-8zm0 19zm0-11zm0 3zm0 5zm0-28zm0 60zm1-68zm0 6zm0 15zm0-23zm0 92zm0-19zm0-37zm0 23zm0-6zm0-32zm0 28zm0-24zm0 2zm0 50zm0-19zm0-62zm0 70zm0-25zm0 22zm0-12zm0-2zm0-27zm0 88zm0-40zm0-27zm0 5zm1-9zm0-4zm0 28zm0 24zm0 16zm0-89zm0 69zm0-42zm0-3zm0-11zm0 11zm0 47zm0-17zm0-4zm0-21zm0 15zm1 21zm0-32zm0-17zm0-1zm0 38zm0-32zm0-5zm0 51zm0-28zm0 61zm0-46zm0 33zm0-36zm0 52zm0-65zm0 30zm0-10zm0 0zm0-25zm0 2zm0 34zm0-13zm0 3zm0 28zm0-42zm0-23zm0 52zm1-36zm0-21zm0 64zm0-29zm0-42zm0 45zm0-51zm0 58zm0-81zm0 75zm0 12zm0-38zm0-32zm0 21zm0 30zm0 24zm0-43zm0 24zm0-9zm0 34zm0-35zm0-14zm0 68zm0-90zm0 55zm1-17zm0 52zm0-48zm0-40zm0 10zm0-6zm0 11zm0 7zm0 17zm0-4zm0 14zm0 33zm0-36zm0 24zm0-71zm0 30zm1 21zm0 20zm0-57zm0 24zm0-37zm0 35zm0-6zm0 51zm0-34zm0-24zm0 11zm0-14zm0 22zm0-1zm0 12zm0 10zm0-18zm0-16zm0 44zm0-48zm0 10zm0 11zm0 25zm0-37zm1-30zm0 7zm0 38zm0 21zm0-69zm0 78zm0-15zm0-38zm0 62zm0 2zm0-18zm0-9zm0-24zm0-20zm0 13zm0-22zm0 31zm0-21zm0 73zm0-58zm0-35zm0 38zm0 20zm0-69zm0 63zm1-54zm0 35zm0-21zm0 6zm0 29zm0 23zm0-46zm0 37zm0 26zm0-25zm0-56zm0 52zm0-7zm0-32zm0 5zm0 30zm0-17zm0 43zm0-74zm0 30zm0 49zm0-1zm0-26zm1-11zm0 41zm0-13zm0 9zm0-42zm0 38zm0-2zm0-30zm0-18zm0 53zm0-2zm0-8zm0-29zm0 40zm0-32zm0 8zm0-36zm0-13zm0 31zm0-8zm0 36zm1-12zm0 17zm0-13zm0-10zm0 2zm0-29zm0-3zm0-3zm0 40zm0-24zm0 10zm0-30zm0-17zm0 41zm0-19zm0-9zm0 25zm0-15zm0 36zm0-26zm0 19zm0-28zm0 44zm0 6zm0-6zm0-49zm0 43zm1-15zm0 20zm0-7zm0-37zm0 5zm0-26zm0 62zm0-12zm0 16zm0-6zm0-74zm0 67zm0-36zm0 35zm0 14zm0-24zm0-32zm0 30zm0 7zm0 17zm1-26zm0-21zm0 17zm0-29zm0 0zm0-3zm0 28zm0-15zm0 10zm0 24zm0 7zm0-12zm0-9zm0 8zm0 48zm0-72zm0 45zm0-57zm0 14zm0 26zm0-21zm0 13zm1 10zm0-29zm0-36zm0 62zm0-19zm0 20zm0-17zm0-9zm0 64zm0-46zm0 24zm0 21zm0-27zm0 20zm0-34zm0 0zm0-61zm0 22zm0 31zm0 8zm0 21zm0-58zm0 29zm1-25zm0 51zm0-38zm0 24zm0-63zm0 40zm0 4zm0 21zm0 14zm0-18zm0-13zm0 2zm0 18zm0 6zm0-38zm0 11zm0 15zm0 9zm0-39zm0-16zm0 61zm0-12zm0-23zm1 10zm0-2zm0 16zm0-32zm0 14zm0 28zm0 7zm0 10zm0-47zm0-10zm0 6zm0-22zm0 32zm0-12zm0 28zm0-42zm0 26zm0 2zm0-19zm0 41zm1-76zm0-6zm0 67zm0-15zm0-42zm0 55zm0-17zm0-14zm0 41zm0-11zm0-24zm0 21zm0-8zm0 6zm0 2zm0 30zm0-38zm0-12zm0 9zm0 10zm0-5zm0-31zm0 24zm1-15zm0 60zm0-71zm0 68zm0-12zm0 1zm0-54zm0 23zm0 43zm0-49zm0 38zm0-1zm0-45zm0 17zm0 7zm0-50zm0 71zm0 5zm0-14zm0 13zm0-47zm0 16zm1 24zm0 15zm0-26zm0-28zm0 25zm0-39zm0 70zm0-54zm0 49zm0-39zm0 8zm0-34zm0 21zm0-45zm0 93zm0-74zm0 40zm0-13zm0 53zm0-36zm0 40zm0-25zm0-80zm0 46zm0 33zm0-76zm1 61zm0-32zm0-13zm0 21zm0 13zm0-5zm0 18zm0-18zm0-27zm0 35zm0 5zm0-5zm0 3zm0 26zm0-17zm0-4zm0-23zm0 30zm0 8zm0-6zm0 29zm1-33zm0 24zm0-23zm0-3zm0-15zm0 28zm0-44zm0 15zm0 79zm0-71zm0 61zm0-52zm0 18zm0-24zm0 60zm0-43zm0 21zm0-54zm0 30zm0-11zm0-45zm1 37zm0-31zm0 20zm0-20zm0 18zm0 20zm0-52zm0 49zm0 39zm0-47zm0-15zm0-7zm0-3zm0 23zm0-7zm0 0zm0 26zm0-13zm0-51zm0 45zm1-24zm0-23zm0 85zm0-68zm0 60zm0-13zm0 15zm0-11zm0-5zm0 12zm0 18zm0-48zm0 11zm0-2zm0 9zm0 16zm0-11zm0-34zm0-16zm1 93zm0-48zm0-3zm0 45zm0-34zm0-73zm0 107zm0-77zm0 85zm0-38zm0 44zm0-83zm0 19zm0 34zm0-39zm0-9zm0 80zm0-54zm0-12zm0 2zm0-3zm0-1zm0 15zm0-42zm0 56zm1-20zm0-9zm0 7zm0 8zm0 4zm0-5zm0-11zm0 37zm0-8zm0-54zm0 20zm0 5zm0 32zm0-29zm0 6zm0 10zm0-3zm0-13zm0 28zm0 7zm0-50zm0 5zm0 13zm0-22zm0 13zm0 0zm0 3zm0 32zm1-13zm0-55zm0 36zm0-15zm0 47zm0-1zm0-41zm0 17zm0 5zm0-47zm0 36zm0-9zm0 23zm0 16zm0-43zm0 17zm0 16zm0-10zm0 18zm1-44zm0 10zm0-58zm0 29zm0 24zm0 6zm0-42zm0 65zm0-31zm0 0zm0-14zm0 0zm0 18zm0 2zm0-58zm0-2zm0 63zm0-56zm0 15zm0 34zm0 22zm0-53zm0 52zm1-2zm0-31zm0 6zm0 41zm0 13zm0 0zm0-25zm0-10zm0 60zm0-43zm0-45zm0 11zm0-2zm0 0zm0 3zm0 27zm0 16zm0 4zm0-60zm1-26zm0 83zm0-17zm0-21zm0 19zm0-4zm0-12zm0-21zm0 3zm0 41zm0-19zm0-30zm0-4zm0 38zm0 8zm0-12zm0-17zm0 47zm0-61zm0 52zm0-49zm0 44zm0-45zm0 41zm0 11zm1-55zm0 15zm0 38zm0-23zm0 32zm0 32zm0-78zm0 15zm0-10zm0 35zm0-23zm0-13zm0 23zm0 33zm0-45zm0-34zm0 32zm0 1zm0-46zm0 34zm0 10zm1 42zm0-10zm0-8zm0-21zm0-18zm0 35zm0-16zm0-4zm0 39zm0-42zm0-10zm0 5zm0 26zm0 11zm0-85zm0 36zm0-5zm0 45zm0 30zm0-29zm0-65zm0 2zm0 75zm0-28zm1-16zm0 30zm0 7zm0-36zm0-6zm0 12zm0 7zm0-22zm0 27zm0 20zm0-41zm0-10zm0 3zm0-20zm0 39zm0 23zm0-55zm0 33zm0-17zm0 25zm0-18zm0 1zm0-3zm1-3zm0-14zm0-6zm0 22zm0-23zm0-4zm0 49zm0-22zm0 1zm0-11zm0-9zm0 4zm0 0zm0-15zm0 27zm0-24zm0 46zm0 10zm0-4zm0-31zm0-1zm0 23zm1-19zm0 6zm0 20zm0-19zm0-12zm0 25zm0-10zm0 34zm0 1zm0-25zm0-7zm0-2zm0-6zm0-5zm0 12zm0-10zm0 24zm0-8zm0-6zm0 39zm0-25zm0 25zm0-56zm0 24zm1 38zm0-50zm0-6zm0-19zm0 27zm0-13zm0 20zm0-32zm0 21zm0-27zm0 33zm0 4zm0 47zm0-23zm0-18zm0 29zm0-28zm0-41zm0 3zm0 47zm0-9zm0-16zm1 15zm0-16zm0-4zm0 19zm0 46zm0-37zm0 18zm0-7zm0 14zm0-13zm0-86zm0 60zm0-34zm0 56zm0-43zm0 43zm0 25zm0-46zm0 8zm0-41zm0 58zm0-4zm0 1zm1-1zm0-22zm0-37zm0 80zm0-29zm0 22zm0-62zm0 1zm0 48zm0-20zm0-40zm0 65zm0-16zm0-34zm0 38zm0-47zm0-25zm0 110zm0 0zm0-46zm0-28zm1 45zm0-2zm0-21zm0-17zm0-37zm0 45zm0 12zm0-13zm0 0zm0 20zm0 35zm0-62zm0-12zm0 8zm0 5zm0-7zm0 6zm0 19zm0-29zm0 7zm1 26zm0-14zm0 15zm0-32zm0 41zm0-37zm0-33zm0 84zm0-26zm0-4zm0 4zm0-50zm0 69zm0-25zm0-11zm0 20zm0-33zm0 19zm0 29zm0-25zm0 20zm0-21zm0 13zm0-27zm0-20zm1 65zm0-42zm0 7zm0 8zm0 23zm0-23zm0-13zm0 16zm0 1zm0-18zm0 25zm0 12zm0 17zm0-41zm0 8zm0-9zm0 43zm0-43zm0 28zm0-71zm0 64zm0-13zm0-6zm0-1zm1-7zm0-13zm0 27zm0 17zm0-49zm0 39zm0-7zm0-15zm0 18zm0-46zm0 20zm0 24zm0 3zm0 19zm0-34zm0 23zm0-40zm0 49zm0-13zm0 19zm0-32zm1 22zm0-44zm0 27zm0-8zm0 2zm0-32zm0 6zm0 3zm0-14zm0 80zm0-34zm0 41zm0-67zm0-8zm0-4zm0 0zm0 20zm0 18zm0-30zm0-22zm0 31zm1 22zm0-33zm0 51zm0-71zm0 34zm0-26zm0 28zm0 4zm0-13zm0-2zm0-22zm0 50zm0-31zm0-36zm0 58zm0 6zm0-2zm0-10zm0-8zm0 17zm0-7zm0-3zm0 10zm0 1zm1-8zm0 19zm0-14zm0 0zm0 2zm0-8zm0 38zm0-33zm0-25zm0 11zm0-14zm0 34zm0-38zm0 9zm0 17zm0-11zm0 11zm0 3zm0 11zm0 2zm0 23zm1-22zm0 6zm0-2zm0-15zm0-18zm0 30zm0 23zm0 0zm0 3zm0-13zm0 49zm0-45zm0-30zm0 36zm0 1zm0-26zm0 40zm0-44zm0 2zm0 9zm0-16zm0 31zm1-17zm0-35zm0 77zm0-46zm0 23zm0-13zm0-17zm0 28zm0 0zm0-11zm0 2zm0-16zm0 14zm0 34zm0-41zm0-69zm0 71zm0 12zm0-52zm0 16zm0 43zm0-14zm0-45zm0 11zm0 37zm0-8zm0-23zm1 13zm0 19zm0-5zm0-32zm0 35zm0-5zm0-3zm0-26zm0-1zm0 60zm0-23zm0-10zm0 0zm0-12zm0-5zm0 44zm0-43zm0 38zm1-55zm0 13zm0 27zm0 33zm0-54zm0-14zm0-4zm0 28zm0-18zm0 24zm0 1zm0-38zm0 14zm0-11zm0 44zm0-27zm0-5zm0 59zm0-35zm0-6zm0 2zm0 0zm0-6zm0-1zm0-19zm1 30zm0-46zm0-14zm0 62zm0-10zm0-10zm0-20zm0 55zm0-69zm0 31zm0 20zm0-45zm0 21zm0-11zm0 14zm0-4zm0 20zm0-23zm0-8zm0 6zm0-20zm1-7zm0 59zm0-43zm0-4zm0 57zm0-30zm0-11zm0 6zm0-33zm0 23zm0 5zm0 17zm0-64zm0 64zm0-21zm0-16zm0 79zm0-95zm0 50zm0-8zm0 14zm1-47zm0 33zm0 1zm0 2zm0-10zm0 47zm0-38zm0 35zm0-54zm0 20zm0-60zm0 49zm0-21zm0 23zm0-26zm0 60zm0 1zm0-39zm0 1zm0 2zm0-17zm0 46zm0-37zm0 45zm0-22zm0-14zm1-25zm0 32zm0 14zm0-56zm0 69zm0-13zm0-17zm0 39zm0-52zm0 30zm0-25zm0-23zm0 29zm0 45zm0-75zm0 6zm0 99zm0-31zm0-26zm1 45zm0-20zm0-7zm0-3zm0-7zm0 1zm0 12zm0 0zm0 11zm0-24zm0-35zm0 45zm0-29zm0 24zm0-60zm0 111zm0-86zm0 49zm0-43zm1 62zm0 0zm0-41zm0-39zm0 36zm0 34zm0-92zm0 52zm0 27zm0 10zm0-33zm0-10zm0-51zm0 51zm0 1zm0 27zm0-33zm0-10zm0-5zm0-4zm0-3zm0-1zm0 55zm0-12zm0-19zm0 34zm0-45zm0 22zm1-28zm0 35zm0-7zm0 0zm0 12zm0 26zm0-50zm0-9zm0 47zm0-42zm0 40zm0-17zm0 21zm0-29zm0 33zm0-12zm0-25zm0 0zm0 14zm0 27zm0-60zm0 20zm0-11zm0 11zm1-39zm0 77zm0-76zm0 65zm0-41zm0-18zm0 7zm0 32zm0-28zm0 59zm0-63zm0-2zm0 52zm0-18zm0-21zm0 7zm0-12zm0 23zm1 12zm0-53zm0 16zm0 58zm0-25zm0-29zm0 57zm0-35zm0-24zm0 27zm0 17zm0-18zm0-33zm0 45zm0-6zm0 4zm0 15zm0-37zm0 29zm0 7zm0-3zm0 7zm0-4zm0 5zm1-13zm0 13zm0-38zm0 3zm0 31zm0-12zm0-9zm0-9zm0-37zm0 51zm0-11zm0-52zm0-1zm0 43zm0-12zm0-16zm0 28zm0-32zm0 57zm0-18zm0 26zm0-56zm0-26zm1 93zm0-70zm0 55zm0-53zm0 38zm0-59zm0 9zm0 71zm0-45zm0 17zm0 27zm0-23zm0 4zm0 8zm0 30zm0-31zm0-29zm0 22zm0 40zm0-43zm0-20zm0 30zm1-30zm0 17zm0-2zm0 18zm0-17zm0-23zm0-10zm0 14zm0 12zm0 0zm0-7zm0 10zm0-15zm0 4zm0 14zm0-1zm0 14zm0-6zm0-49zm0 38zm0-12zm1 38zm0-22zm0 2zm0-39zm0 16zm0 34zm0 6zm0-3zm0-9zm0-41zm0 43zm0-2zm0-9zm0-6zm0 15zm0 18zm0-8zm0-8zm0-9zm0-7zm0-1zm0 23zm0-37zm0-2zm0-10zm1 36zm0 9zm0-31zm0 1zm0 44zm0-43zm0 14zm0-1zm0-14zm0 49zm0-9zm0-36zm0 24zm0 30zm0-31zm0 5zm0-46zm0 31zm0 11zm0-5zm0 30zm1-20zm0-13zm0 15zm0-3zm0-13zm0 6zm0-1zm0-7zm0 8zm0 25zm0-27zm0-42zm0 70zm0-73zm0 53zm0-4zm0 24zm0-20zm0 3zm0-28zm0 27zm0-5zm0-2zm0-1zm0-37zm1 34zm0-18zm0 8zm0 19zm0-18zm0-3zm0 4zm0-37zm0 37zm0-6zm0-3zm0-43zm0 9zm0 25zm0 15zm0 12zm0-20zm0-15zm0 60zm0-17zm0-36zm0 34zm1-16zm0-9zm0-12zm0 3zm0 23zm0-9zm0 54zm0-37zm0 10zm0 17zm0-31zm0 17zm0-41zm0 22zm0 18zm0-2zm0-24zm0 38zm0-21zm0 3zm0-3zm0 17zm1-33zm0 19zm0-35zm0 50zm0-43zm0 18zm0 2zm0-32zm0 86zm0-48zm0 24zm0-56zm0 16zm0 15zm0-38zm0 51zm0-58zm0 59zm0-52zm1-1zm0-7zm0 12zm0 20zm0-36zm0 4zm0 20zm0 13zm0-1zm0-6zm0-4zm0 7zm0-7zm0 5zm0-17zm0 21zm0-20zm0 21zm0-2zm0-10zm0 15zm0 25zm0-21zm1-15zm0 13zm0-21zm0 7zm0 5zm0 17zm0-3zm0-12zm0 7zm0-4zm0 23zm0-34zm0 19zm0-22zm0 20zm0 11zm0-3zm0 14zm0-7zm0-10zm0 24zm0-9zm0-39zm0 16zm0 7zm1 5zm0-7zm0-3zm0-11zm0 26zm0 11zm0-50zm0 30zm0 27zm0-30zm0 41zm0-73zm0 54zm0-32zm0-34zm0 57zm0-7zm0 2zm0-32zm0 6zm1-20zm0 31zm0-15zm0-15zm0 25zm0 41zm0 3zm0-9zm0-18zm0-4zm0-21zm0 5zm0 9zm0 15zm0-24zm0 27zm0-13zm0-25zm0 7zm0 28zm0-38zm0 6zm0 9zm0-13zm0 14zm1-6zm0 18zm0-20zm0-10zm0 16zm0 3zm0 12zm0-40zm0 50zm0-26zm0-6zm0 36zm0-15zm0-32zm0 63zm0-46zm0 12zm0-11zm0 7zm0 18zm0-15zm0 14zm0-16zm0-20zm0-5zm1 24zm0-22zm0 3zm0 40zm0-22zm0-48zm0 39zm0 26zm0-18zm0 5zm0 39zm0-74zm0 9zm0 48zm0 5zm0-47zm1 45zm0-25zm0 8zm0-35zm0 12zm0 2zm0 15zm0-34zm0 31zm0 0zm0 28zm0-35zm0 36zm0 10zm0-23zm0-5zm0-31zm0 35zm0-5zm0-11zm0-8zm0 13zm0 20zm0 17zm0-39zm1 10zm0-25zm0 29zm0-75zm0 62zm0-30zm0 51zm0 6zm0-37zm0 44zm0-21zm0-4zm0-11zm0 5zm0-2zm0 18zm0-64zm0 50zm0-9zm0-15zm0 37zm0 15zm1-38zm0-24zm0 28zm0 18zm0-18zm0 26zm0-28zm0-25zm0 55zm0-57zm0 63zm0-41zm0 5zm0-13zm0-42zm0 51zm0 24zm0-12zm0-45zm0 42zm1-3zm0-4zm0 18zm0 1zm0-10zm0 17zm0-3zm0-50zm0 34zm0 38zm0 2zm0-42zm0 12zm0-12zm0-2zm0 16zm0 2zm0-20zm0 55zm0-79zm0 41zm0-28zm0 1zm0-7zm0 61zm0-30zm1-25zm0 21zm0 14zm0-52zm0 25zm0 15zm0 22zm0-85zm0 96zm0-89zm0 96zm0-48zm0-28zm0 9zm0 8zm0 39zm0-62zm0 8zm0 24zm0 17zm0-37zm0-12zm0 37zm0-13zm0-24zm0 16zm1 19zm0-25zm0 12zm0-8zm0-45zm0 62zm0 4zm0-30zm0 1zm0 36zm0 35zm0-78zm0 40zm0 15zm0 9zm0-34zm1 3zm0-24zm0-3zm0-3zm0 71zm0-42zm0 25zm0-28zm0-3zm0 15zm0-18zm0-42zm0 31zm0 81zm0-77zm0 9zm0 32zm0-62zm0 24zm0 21zm0-28zm0-27zm0 68zm1-50zm0 3zm0-9zm0 2zm0 29zm0-42zm0 16zm0 53zm0-49zm0-2zm0 16zm0 116zm0-114zm0-27zm0 38zm0-17zm0 26zm0-50zm0 67zm0-3zm0-31zm0-9zm0 27zm0-54zm0 17zm1 14zm0 8zm0-23zm0 21zm0-36zm0 47zm0-18zm0-19zm0 47zm0 3zm0 14zm0-51zm0-33zm0 73zm0-7zm0 11zm0-22zm0-14zm0 7zm0 5zm0 31zm0-14zm0-33zm1 27zm0-31zm0-10zm0-15zm0 25zm0 50zm0-29zm0-14zm0 81zm0-95zm0-22zm0 85zm0 74zm0-45zm0-40zm0-10zm0 41zm0-67zm0 23zm0-2zm0 4zm0 41zm0-33zm1 16zm0-27zm0 19zm0 21zm0-26zm0-60zm0 60zm0-56zm0 95zm0-71zm0 28zm0-36zm0 47zm0-53zm0 9zm0-15zm0 56zm0-42zm1 0zm0-27zm0 54zm0-24zm0-1zm0 31zm0-6zm0-11zm0 16zm0 32zm0 0zm0-77zm0 16zm0 30zm0 10zm0-8zm0-13zm0 8zm0-23zm0-25zm0 40zm0-27zm0-41zm0 94zm0 11zm0-87zm0 78zm0-53zm1-35zm0 13zm0-6zm0 29zm0 53zm0-63zm0 13zm0 4zm0 67zm0-19zm0-65zm0 36zm0-2zm0 41zm0-18zm0-50zm0 81zm0-24zm0-55zm1 25zm0 39zm0-42zm0 62zm0-66zm0 3zm0 38zm0-23zm0-29zm0 22zm0-5zm0-17zm0 30zm0-27zm0 15zm0-8zm0 27zm0-29zm0 8zm0-4zm0 12zm0-19zm0-8zm1-8zm0 17zm0-6zm0 20zm0-18zm0 20zm0-13zm0 44zm0-2zm0-17zm0 14zm0-26zm0-47zm0 24zm0 5zm0-16zm0-8zm0 48zm0-18zm0 26zm0 16zm0-58zm1 34zm0-16zm0-46zm0 50zm0-45zm0 35zm0-24zm0 28zm0-21zm0 15zm0-10zm0 1zm0 2zm0-5zm0 11zm0-13zm0-2zm0 41zm0-41zm0-11zm1 29zm0 2zm0-60zm0 81zm0-20zm0-7zm0 16zm0-9zm0 3zm0-10zm0-25zm0-12zm0 48zm0-19zm0 11zm0 2zm0 15zm0-35zm0 30zm0-5zm0 0zm0-28zm0-80zm0 62zm0 52zm0 7zm0-38zm0-13zm1 39zm0 44zm0-37zm0-16zm0 20zm0-62zm0-10zm0 50zm0-7zm0 18zm0 9zm0-34zm0 48zm0-43zm0 35zm0-49zm0-26zm0 28zm0 18zm0-25zm1 5zm0-5zm0 11zm0 16zm0-17zm0 40zm0-51zm0 38zm0-45zm0 40zm0-32zm0-45zm0 36zm0 19zm0 26zm0-15zm0 28zm0-23zm0 43zm0-49zm0 34zm1 24zm0-48zm0-33zm0 26zm0 34zm0-5zm0-73zm0 66zm0-79zm0 60zm0 2zm0 48zm0 2zm0-15zm0-14zm0 16zm0-37zm0 43zm0-49zm0-27zm0 10zm0 9zm0 29zm1 12zm0-28zm0 19zm0-12zm0-27zm0 8zm0 3zm0-16zm0 12zm0 33zm0-2zm0-3zm0-8zm0-23zm0-21zm0 53zm0 1zm0 4zm0 19zm0-14zm0 11zm0-42zm1 21zm0-37zm0 17zm0-20zm0 60zm0-68zm0 63zm0-16zm0 2zm0-24zm0 18zm0-11zm0 39zm0-10zm0-6zm0-57zm0 69zm0-37zm0 24zm0-15zm0 18zm0-17zm0-18zm0 54zm1-57zm0 49zm0-26zm0-56zm0 59zm0-51zm0 60zm0 6zm0 6zm0-64zm0 6zm0 19zm0 7zm0-3zm0 9zm0-15zm0-5zm0-5zm0 8zm0 0zm0 8zm0 6zm0-10zm0-27zm1 21zm0 14zm0-36zm0 41zm0 4zm0-16zm0 16zm0-14zm0-12zm0 24zm0-20zm0 2zm0 9zm0-24zm0-10zm0 24zm0 23zm0-9zm0 17zm0-3zm0-23zm1 52zm0-45zm0-14zm0 41zm0-32zm0 38zm0-59zm0 58zm0 2zm0-44zm0 2zm0 25zm0-12zm0 57zm0-106zm0 31zm0 38zm0-5zm0-22zm0-8zm0 4zm0 60zm0-33zm0 0zm0-32zm1 40zm0-36zm0-1zm0 2zm0 55zm0-45zm0-17zm0 21zm0-14zm0 45zm0-1zm0-18zm0-9zm0-20zm0-3zm0 33zm0-14zm0-5zm0 24zm0-30zm0-8zm0 29zm1-6zm0 3zm0-8zm0-2zm0 19zm0-24zm0 0zm0 5zm0 15zm0-34zm0 53zm0-63zm0 95zm0-26zm0-11zm0-18zm0-1zm0 20zm0-62zm0 62zm0-31zm0 42zm0-13zm0-68zm1 18zm0 35zm0-10zm0 22zm0 11zm0-25zm0 18zm0-29zm0-9zm0 6zm0-33zm0 68zm0 28zm0-18zm0 5zm0-33zm0-16zm0-10zm0 26zm0-45zm0 59zm0-82zm1 40zm0-23zm0 39zm0 63zm0-95zm0 37zm0-22zm0 53zm0-75zm0 51zm0-29zm0 7zm0 3zm0-8zm0-10zm0 23zm0 23zm1-20zm0-6zm0-45zm0 45zm0 28zm0-22zm0-11zm0 43zm0-43zm0-24zm0 90zm0-38zm0-27zm0 28zm0-43zm0 50zm0 11zm0-2zm0-43zm0-5zm0-2zm0-4zm0 29zm0 4zm0 6zm0-13zm0-1zm1-18zm0-9zm0-7zm0 63zm0-84zm0 76zm0-50zm0 62zm0 5zm0-38zm0-37zm0 54zm0-12zm0-10zm0-23zm0 39zm0-24zm0-25zm0 29zm1 18zm0 12zm0-39zm0 14zm0-4zm0 4zm0-31zm0-1zm0 7zm0 21zm0-40zm0 62zm0-57zm0 24zm0 8zm0 9zm0-13zm0 14zm0-35zm0 34zm0-5zm0 13zm0-16zm0-34zm0 20zm0 20zm0-21zm0 23zm0-3zm0-23zm1-1zm0-3zm0 18zm0 10zm0-12zm0-37zm0 36zm0 9zm0-10zm0 13zm0 36zm0-35zm0-23zm0 64zm0-18zm0 4zm0-23zm0-15zm0-36zm1 30zm0 60zm0-35zm0 15zm0-36zm0-14zm0 65zm0-31zm0-24zm0 53zm0-49zm0 12zm0-14zm0 31zm0 5zm0 2zm0 9zm0-72zm0 38zm1-22zm0 41zm0-27zm0 16zm0-16zm0 47zm0-20zm0 7zm0 0zm0 0zm0-31zm0 73zm0-75zm0 40zm0-31zm0 13zm0 3zm0-8zm0 3zm0-11zm0-6zm0-15zm0 4zm0 17zm0-19zm1 12zm0 36zm0-30zm0-32zm0 17zm0 24zm0 4zm0-26zm0 6zm0 12zm0-35zm0 20zm0-4zm0 23zm0-13zm0-21zm0 44zm0 0zm0-11zm0-1zm0 10zm0-12zm1-10zm0 4zm0 10zm0-5zm0-7zm0 11zm0-22zm0-14zm0 39zm0 0zm0-68zm0 67zm0-49zm0 54zm0-4zm0-42zm0 9zm0-7zm0 28zm1-24zm0 50zm0-20zm0 8zm0 0zm0-11zm0-11zm0 46zm0-50zm0 25zm0-3zm0-35zm0 8zm0-13zm0 38zm0-15zm0 22zm0-55zm0 36zm0 38zm0-37zm0 9zm0 12zm0-2zm0-7zm0 24zm0-41zm1 21zm0-14zm0 0zm0-3zm0-25zm0 50zm0-17zm0-8zm0-28zm0 61zm0-37zm0-3zm0 3zm0 6zm0 24zm0-26zm0 3zm0-13zm0 23zm0-25zm1 3zm0-2zm0 18zm0 48zm0-31zm0 8zm0-46zm0 40zm0-18zm0 1zm0 37zm0-52zm0 35zm0-17zm0-2zm0-21zm0-19zm0 64zm0-37zm0 35zm0-60zm0 57zm1-31zm0-3zm0-6zm0 7zm0-10zm0 21zm0 4zm0-12zm0 0zm0-6zm0 33zm0-35zm0 2zm0 16zm0-17zm0-20zm0 22zm0 18zm0-52zm0 50zm0-24zm0 0zm1-1zm0 26zm0 5zm0 16zm0-12zm0-10zm0 1zm0-31zm0 4zm0-36zm0 53zm0-37zm0-4zm0 34zm0-11zm0 28zm0 25zm0-48zm0 31zm0 35zm0-50zm0 25zm0-29zm0 57zm0-79zm0 24zm0-26zm0 51zm1 8zm0 8zm0-62zm0 7zm0-23zm0 39zm0 17zm0 13zm0-14zm0-38zm0 59zm0-90zm0 64zm0-42zm0-19zm0 99zm0-67zm0 34zm1-27zm0-3zm0 29zm0-35zm0 49zm0-53zm0 13zm0 29zm0 17zm0 2zm0-43zm0 60zm0-37zm0 18zm0-42zm0 24zm0-3zm0 2zm0-57zm0 23zm0 16zm0 3zm0 37zm0 18zm0-45zm1-34zm0 23zm0 12zm0 22zm0-120zm0 106zm0 40zm0-90zm0-47zm0 109zm0-86zm0 64zm0-10zm0-20zm0-21zm0 19zm0-2zm0 26zm0-18zm0 16zm1 4zm0 30zm0-37zm0 18zm0 23zm0-72zm0 29zm0 4zm0 26zm0 8zm0 7zm0-32zm0-2zm0-20zm0 82zm0-30zm0-28zm0-19zm0 0zm0 5zm0 4zm0-3zm1 24zm0-23zm0 27zm0-6zm0-16zm0-55zm0 42zm0 16zm0-10zm0-7zm0-42zm0 84zm0-37zm0-57zm0 25zm0 8zm0 32zm0-61zm0 76zm0-35zm0 15zm0 21zm0-5zm0-16zm0 16zm0-72zm0 60zm0-33zm0 47zm1 3zm0 5zm0-15zm0-4zm0-3zm0-17zm0-16zm0 48zm0-66zm0 55zm0-14zm0 61zm0-39zm0 10zm0-43zm0 71zm0-45zm1-23zm0 87zm0-63zm0-37zm0 47zm0-32zm0 32zm0-43zm0 32zm0 47zm0-77zm0-4zm0 82zm0-23zm0-41zm0 54zm0-48zm0 11zm0 16zm0 3zm0 7zm0-12zm0-1zm0 21zm1-43zm0-3zm0-31zm0 22zm0 21zm0-43zm0 20zm0 24zm0-22zm0 30zm0-6zm0 0zm0-6zm0 26zm0-11zm0 4zm0-15zm0-12zm0 38zm0-14zm0-19zm0 10zm0 4zm1-3zm0 13zm0-17zm0 0zm0 23zm0-45zm0 51zm0-14zm0-12zm0 26zm0-25zm0 36zm0-22zm0-8zm0-31zm0 6zm0 19zm0-48zm0 38zm0-8zm0-24zm1 32zm0-4zm0 14zm0-49zm0 59zm0-2zm0-31zm0 10zm0 17zm0-34zm0 32zm0-18zm0-3zm0 13zm0 3zm0 37zm0-43zm0 15zm0-34zm1 10zm0 32zm0-28zm0-8zm0-7zm0-12zm0 21zm0 24zm0-31zm0-4zm0 17zm0 28zm0-4zm0-47zm0 60zm0-17zm0 29zm0 5zm0-23zm0-13zm0-64zm0 13zm0 58zm1-27zm0 11zm0-14zm0 16zm0-51zm0 22zm0 71zm0-13zm0-36zm0 5zm0-2zm0-42zm0 44zm0 35zm0-56zm0-18zm0 40zm0-63zm0 56zm0-26zm0 52zm0-24zm0-11zm1 27zm0-36zm0 25zm0 41zm0-63zm0-22zm0 67zm0-50zm0 41zm0 4zm0-16zm0 1zm0 31zm0-50zm0-1zm0 26zm0-49zm0 79zm0 10zm0-21zm0 15zm0-71zm0 17zm0 38zm1 1zm0-37zm0-55zm0 58zm0 36zm0-58zm0-12zm0 55zm0 12zm0-21zm0-37zm0-19zm0 19zm0 22zm0 27zm0 1zm0-37zm0-17zm0 11zm0 1zm0 23zm0 14zm0 20zm0-21zm0 28zm1-17zm0-16zm0-36zm0 26zm0-14zm0 29zm0 4zm0-28zm0 50zm0-53zm0 9zm0-4zm0 35zm0-58zm0 14zm0-29zm0 47zm0 40zm0-19zm0-43zm1 63zm0-87zm0 17zm0 11zm0-17zm0-3zm0-32zm0 99zm0-90zm0 90zm0-58zm0-26zm0 60zm0-58zm0 16zm0 2zm0-9zm0 88zm0-83zm0 35zm0-35zm0-1zm0-6zm1-8zm0 38zm0-46zm0-2zm0 18zm0 8zm0 58zm0-24zm0 8zm0-47zm0 52zm0 5zm0-66zm0 55zm0-30zm0 9zm0-38zm0 21zm0-26zm0 23zm0 25zm0-35zm1 30zm0 18zm0-20zm0-9zm0-19zm0 7zm0 5zm0 10zm0 53zm0-49zm0-36zm0 64zm0-44zm0 69zm0-85zm0 34zm0 7zm0 54zm0-89zm0 71zm0-73zm0 84zm0-47zm0-15zm0-31zm1 62zm0-1zm0-7zm0 8zm0 9zm0-70zm0 62zm0-39zm0 37zm0 25zm0-78zm0-14zm0 20zm0 27zm0 31zm0-15zm0 31zm0-7zm0-36zm0-52zm1 92zm0-8zm0 22zm0-7zm0-62zm0 20zm0-15zm0-20zm0 10zm0 7zm0 33zm0-24zm0 3zm0-1zm0 30zm0-11zm0-30zm0-8zm1 43zm0-62zm0 68zm0 21zm0-40zm0-4zm0 31zm0-29zm0 10zm0-7zm0 2zm0-36zm0 62zm0-11zm0-40zm0 57zm0 4zm0-75zm0 59zm0-12zm0-10zm0 32zm0-34zm0 25zm0 29zm0-36zm1-33zm0 34zm0-38zm0 44zm0-7zm0 1zm0-7zm0-19zm0 3zm0 26zm0-9zm0-15zm0 35zm0-21zm0-29zm0 38zm0-14zm0 30zm0-18zm0 7zm0 1zm0 4zm1-5zm0-18zm0-26zm0 50zm0-40zm0-5zm0 3zm0 17zm0 28zm0-24zm0-41zm0 19zm0 22zm0-23zm0-13zm0 36zm0-20zm0 10zm0-20zm0-9zm1 60zm0-10zm0-42zm0 37zm0-11zm0 26zm0 2zm0-26zm0 0zm0 0zm0-11zm0 23zm0-14zm0-7zm0-16zm0 11zm0 4zm0-28zm0 37zm1 17zm0-64zm0 47zm0-12zm0 20zm0-20zm0 16zm0-4zm0-11zm0-13zm0-13zm0 37zm0-33zm0 20zm0-37zm0-7zm0 31zm0 74zm0-62zm0-10zm0 15zm0-23zm0-4zm0 36zm0-45zm0 71zm0 31zm1-83zm0-23zm0 69zm0-58zm0 78zm0 16zm0-69zm0-29zm0-5zm0 72zm0 19zm0-71zm0 57zm0-71zm0 31zm0-17zm0 3zm0-12zm0 43zm0-15zm0 56zm1-102zm0 75zm0-49zm0-8zm0 31zm0-4zm0 18zm0 5zm0-7zm0-74zm0 76zm0-65zm0-4zm0 16zm0 68zm0-20zm0-6zm0 14zm0-14zm0-27zm0 27zm1 12zm0-42zm0-4zm0 1zm0 14zm0 46zm0-49zm0 33zm0-37zm0 51zm0-10zm0-6zm0-37zm0 32zm0 18zm0-5zm0 13zm0 5zm0-70zm0 26zm1 1zm0-1zm0 17zm0-32zm0 20zm0-11zm0 36zm0-33zm0 14zm0 22zm0-48zm0 39zm0-39zm0-13zm0 25zm0-41zm0 56zm0 16zm0-10zm0-8zm0 31zm0-69zm0 31zm0 14zm0 1zm0 11zm1-7zm0-42zm0 9zm0 32zm0-56zm0 9zm0-13zm0 69zm0-14zm0-8zm0 3zm0 21zm0-19zm0 9zm0 25zm0-61zm0 7zm0 22zm0 24zm0-15zm0-19zm1-8zm0 20zm0 3zm0 6zm0-2zm0 30zm0-71zm0 28zm0-5zm0-13zm0 16zm0 17zm0-9zm0 2zm0 4zm0 24zm0-36zm0-5zm0-26zm0 30zm0 4zm1-21zm0 31zm0-23zm0 2zm0 0zm0-25zm0 20zm0 1zm0-18zm0-5zm0 25zm0 7zm0-3zm0-12zm0 30zm0-18zm0 0zm0-8zm0 0zm0 29zm0-1zm0-35zm0 24zm0 29zm0-38zm0 17zm1-23zm0-8zm0 22zm0 14zm0-34zm0 8zm0 8zm0 24zm0-14zm0-34zm0 42zm0-18zm0 24zm0-5zm0-24zm0 69zm0-23zm0-48zm0 6zm1 11zm0 28zm0-17zm0 29zm0-73zm0 47zm0 32zm0-72zm0 48zm0-60zm0 33zm0-12zm0-2zm0 8zm0-3zm0 36zm0-38zm0 22zm0 4zm0-1zm0-46zm0 35zm0-6zm1 9zm0-3zm0 7zm0-44zm0 72zm0-32zm0 0zm0-20zm0-9zm0 29zm0-44zm0 34zm0-6zm0-44zm0 52zm0-30zm0 24zm0-7zm0-9zm0 1zm0 25zm0-65zm0 25zm0 62zm1-12zm0-2zm0-11zm0-15zm0 9zm0-9zm0 22zm0-26zm0 15zm0 22zm0-14zm0 12zm0-112zm0-20zm0 83zm0 32zm0-11zm0-16zm0-9zm0-12zm0 35zm0 12zm0 16zm0-20zm1-44zm0 56zm0-25zm0 21zm0-131zm0 133zm0-17zm0-28zm0 39zm0-4zm0-3zm0-6zm0 48zm0-13zm0 27zm0-90zm0 60zm0-39zm0 96zm0-171zm0 66zm0 51zm0-16zm0 21zm0-94zm0 100zm1-8zm0 8zm0-15zm0-48zm0 24zm0 31zm0-51zm0 1zm0 31zm0 62zm0-80zm0 36zm0 12zm0-23zm0-9zm0 10zm0 8zm0-36zm0-26zm0 97zm0-41zm0-21zm0-9zm0 24zm0-1zm0-14zm1-1zm0 2zm0 8zm0 13zm0-21zm0 18zm0 9zm0-7zm0-1zm0-5zm0 7zm0-32zm0 38zm0-28zm0 20zm0-40zm0 25zm0 17zm0 6zm0-116zm0 95zm0 14zm1-5zm0 114zm0-87zm0-22zm0 29zm0-24zm0-21zm0 15zm0-36zm0 179zm0-156zm0 4zm0 10zm0-7zm0-3zm0 6zm0-2zm0 0zm0-32zm0-6zm0 34zm0 1zm0-32zm0 36zm0-31zm0 46zm0-42zm1 21zm0 10zm0-24zm0 21zm0-6zm0-6zm0-52zm0 32zm0 152zm0-163zm0 31zm0 31zm0 14zm0-52zm0-31zm0 73zm0-11zm0-56zm0 17zm1 27zm0-129zm0 151zm0 27zm0-48zm0-40zm0 16zm0 37zm0-24zm0-7zm0 42zm0-45zm0 102zm0-65zm0-46zm0-7zm0 4zm0 37zm0-36zm0 7zm0 14zm0 15zm0-45zm0-5zm0 42zm0 28zm1-75zm0 49zm0-8zm0-19zm0 3zm0 49zm0 7zm0-83zm0 42zm0-16zm0 8zm0-15zm0-13zm0 13zm0-13zm0 2zm0 4zm0-9zm0-7zm0 44zm0-55zm0 36zm0-34zm0 24zm0 22zm1 60zm0-80zm0 51zm0-16zm0-45zm0 57zm0-35zm0 45zm0-34zm0 3zm0 24zm0-63zm0 7zm0 82zm0-6zm0-22zm0 15zm0-23zm0-22zm0-57zm0 97zm0-25zm0 18zm1-50zm0 26zm0-11zm0 24zm0-7zm0-35zm0 56zm0-24zm0-28zm0-20zm0 18zm0 4zm0-7zm0-24zm0 62zm0-9zm0-17zm0 4zm0-45zm0 7zm0 52zm0-17zm0 48zm1-52zm0 25zm0-36zm0 51zm0-56zm0 68zm0-61zm0 13zm0 16zm0-21zm0 69zm0-29zm0 24zm0-51zm0 2zm0-11zm0 15zm0 11zm0 18zm0-37zm1-19zm0 17zm0 55zm0-65zm0-20zm0 1zm0-15zm0 28zm0 40zm0-37zm0 53zm0-58zm0 50zm0 19zm0-19zm0-20zm0-22zm0-8zm0-30zm0 103zm1-50zm0-9zm0 18zm0 16zm0-5zm0-4zm0-29zm0 5zm0 17zm0-27zm0 59zm0-30zm0 23zm0-49zm0 35zm0 5zm0 26zm0-24zm0 14zm0-51zm0 29zm0-17zm0 4zm0 5zm0 0zm0-13zm0 14zm1-3zm0 20zm0-20zm0-1zm0 28zm0-30zm0 2zm0 9zm0-26zm0 32zm0-23zm0 4zm0-9zm0 21zm0 5zm0-26zm0 25zm0-2zm0-23zm0 18zm0-17zm0 48zm1-52zm0 23zm0 16zm0-58zm0 56zm0 19zm0-40zm0 31zm0-21zm0-5zm0 16zm0 0zm0-49zm0 24zm0 37zm0 4zm0-48zm0 13zm0-2zm0-4zm0 15zm0 12zm0-49zm0 55zm0 22zm1-47zm0 17zm0-42zm0 8zm0-10zm0 0zm0-3zm0-2zm0 4zm0 6zm0-16zm0 26zm0 15zm0-44zm0 21zm0 15zm0 3zm0-9zm0-21zm0 25zm0 22zm1-22zm0 11zm0 6zm0-16zm0-26zm0 30zm0-37zm0 36zm0-3zm0 4zm0 35zm0 16zm0-56zm0 4zm0-9zm0 11zm0 21zm0-37zm0 38zm0-25zm0 3zm0 15zm0-41zm0-4zm0 41zm1-3zm0-30zm0 35zm0-1zm0 41zm0-28zm0 2zm0 22zm0-8zm0-26zm0-25zm0 52zm0-30zm0 19zm0-42zm0-3zm1 12zm0 44zm0-15zm0-21zm0-10zm0 13zm0 7zm0-13zm0-29zm0 45zm0 7zm0 2zm0-10zm0-25zm0 28zm0-64zm0 23zm0 27zm0 15zm0-15zm0 5zm0 17zm0-13zm0 5zm1-46zm0-8zm0 60zm0-57zm0 63zm0-59zm0 56zm0-18zm0-18zm0-18zm0 22zm0-2zm0 16zm0-12zm0-30zm0 4zm0 27zm0-8zm0 10zm0 8zm0-7zm0-34zm0 49zm1-41zm0 17zm0 40zm0-45zm0 7zm0-20zm0-9zm0 19zm0 2zm0 21zm0 8zm0 5zm0-30zm0-5zm0-15zm0 24zm0-28zm0 32zm0-15zm0-3zm0-1zm0 20zm1 14zm0-37zm0 20zm0 16zm0-45zm0-4zm0 48zm0 1zm0-22zm0 4zm0-2zm0 4zm0-17zm0-1zm0 18zm0-8zm0 30zm0-40zm0 41zm0-44zm0-19zm0 58zm1-9zm0-2zm0-1zm0-3zm0 32zm0-16zm0 9zm0-6zm0-44zm0 1zm0 15zm0 5zm0 16zm0 6zm0-38zm0 11zm0 13zm0-21zm0 19zm0 2zm0-23zm0 2zm0 28zm0-13zm0-33zm1 10zm0 52zm0-44zm0 15zm0-14zm0 3zm0 25zm0-15zm0 20zm0-51zm0 25zm0 39zm0-18zm0-33zm0 14zm0-2zm0-30zm0 21zm0-24zm0 31zm0 12zm0 17zm0-41zm1 40zm0-10zm0-39zm0 14zm0 29zm0-23zm0 22zm0-6zm0-23zm0 8zm0 6zm0 24zm0-5zm0-45zm0 6zm0 31zm0-6zm0-11zm0-1zm1 34zm0 15zm0-56zm0 41zm0-22zm0 3zm0-40zm0 61zm0-53zm0 43zm0-36zm0 26zm0-20zm0 28zm0 5zm0-2zm0 16zm0-56zm0 0zm0 14zm0 26zm0-14zm0-10zm1-15zm0 25zm0-30zm0 41zm0 0zm0-38zm0 15zm0 18zm0-10zm0 22zm0-5zm0-35zm0 43zm0-28zm0-37zm0 39zm0 2zm0 14zm0-15zm0 16zm0-48zm0 19zm0 42zm0-19zm1-16zm0 7zm0-15zm0 12zm0-2zm0 6zm0-1zm0-19zm0 38zm0-12zm0-16zm0 23zm0 19zm0-59zm0-25zm0 15zm0 76zm0-69zm0 44zm0-5zm0 6zm0-14zm0-14zm1-9zm0 3zm0 26zm0-21zm0 19zm0 12zm0-34zm0 22zm0-33zm0 37zm0-37zm0-17zm0 55zm0-25zm0 7zm0-13zm0 21zm0 14zm0-7zm0 3zm0 15zm1-32zm0-8zm0 19zm0 1zm0 7zm0-3zm0-10zm0 24zm0-31zm0 38zm0-34zm0 29zm0-24zm0-26zm0 24zm0 30zm0-43zm0 59zm0-43zm0 0zm0-14zm0-10zm0 25zm0 5zm1-24zm0 7zm0-17zm0 24zm0-4zm0 6zm0-28zm0 9zm0-13zm0 32zm0 38zm0-70zm0 21zm0 18zm0 13zm0 9zm0-40zm0-3zm0 20zm0 13zm0 8zm0-20zm1-13zm0-1zm0 47zm0-46zm0 38zm0-32zm0 20zm0-45zm0-6zm0 48zm0-48zm0 42zm0-7zm0-20zm0 7zm0 16zm0 2zm0-3zm0 12zm0 24zm0-58zm0 13zm0 4zm0-1zm0 1zm1 9zm0-12zm0 5zm0 13zm0-10zm0-11zm0-2zm0-15zm0 41zm0-37zm0 12zm0-3zm0 2zm0 4zm0 16zm0-22zm0 5zm0 37zm0-49zm1 14zm0 16zm0-31zm0 32zm0 7zm0-53zm0-14zm0 22zm0 43zm0-47zm0 22zm0 20zm0-16zm0-25zm0 41zm0 5zm0-2zm0 3zm0 21zm0-34zm0 42zm0-52zm0-20zm1 59zm0 3zm0-47zm0 4zm0-9zm0 6zm0-10zm0 42zm0-15zm0 25zm0-16zm0 0zm0 25zm0-64zm0 72zm0-31zm0 19zm0-25zm0-5zm0-27zm0-23zm0 51zm0 18zm0-16zm1-44zm0 15zm0 29zm0 29zm0-46zm0 14zm0-9zm0 38zm0-32zm0-3zm0-29zm0 32zm0 5zm0-43zm0 46zm0 10zm0 39zm0-40zm0 19zm0-19zm1-18zm0-2zm0 15zm0-26zm0 33zm0-8zm0-61zm0-5zm0 59zm0-2zm0 11zm0 6zm0 21zm0-52zm0 21zm0-1zm0 38zm0-75zm0 36zm0-34zm0 32zm0 5zm0 2zm1-8zm0-9zm0-19zm0 16zm0-1zm0-35zm0-2zm0 18zm0-8zm0 53zm0-40zm0 41zm0-23zm0-7zm0-6zm0 29zm0-14zm0 3zm0-45zm0 25zm0 21zm1-25zm0 4zm0 32zm0-28zm0-44zm0 36zm0 44zm0-11zm0 3zm0-2zm0-59zm0 79zm0-10zm0-9zm0-29zm0-12zm0 50zm0-24zm0 13zm0-31zm0 37zm0 9zm0-6zm0-2zm0-15zm1 28zm0 9zm0-45zm0 20zm0-3zm0-40zm0-12zm0 54zm0-37zm0 10zm0 8zm0-9zm0-49zm0 75zm0 2zm0-9zm0-10zm0 13zm0-24zm0-21zm0 21zm1 24zm0-29zm0 26zm0-20zm0-13zm0 29zm0 5zm0-29zm0 21zm0-28zm0-10zm0 41zm0-38zm0 43zm0 4zm0-22zm0 31zm0-24zm0-13zm0 35zm0-18zm0 10zm1-14zm0-18zm0 5zm0 45zm0-41zm0-41zm0 53zm0-19zm0-7zm0 56zm0-46zm0 1zm0 17zm0-51zm0-2zm0 32zm0-2zm0 13zm0-33zm0 11zm0 5zm0-13zm1 34zm0-49zm0 62zm0-9zm0-51zm0 60zm0-11zm0-15zm0-20zm0 30zm0 31zm0-51zm0 32zm0-30zm0 42zm0 17zm0-34zm0 8zm0 41zm0-50zm0-10zm0 2zm0-28zm1 96zm0-113zm0 96zm0-57zm0-14zm0 8zm0 18zm0-10zm0 24zm0-31zm0 1zm0 36zm0-53zm0 18zm0 15zm0 18zm0 14zm0-46zm0 19zm0 8zm0 1zm0-23zm0-21zm1 53zm0 13zm0-48zm0 40zm0-7zm0 5zm0 13zm0-14zm0-23zm0 41zm0-91zm0 94zm0-60zm0 65zm0-67zm0 16zm0 22zm1 7zm0-43zm0 11zm0-36zm0 23zm0 30zm0 6zm0-54zm0 15zm0 16zm0-31zm0 62zm0-5zm0-33zm0-18zm0 25zm0-26zm0 25zm1-45zm0 28zm0 3zm0-20zm0 80zm0-3zm0-50zm0 64zm0-47zm0 10zm0-31zm0-5zm0 20zm0-47zm0 70zm0-70zm0 51zm0 26zm0-55zm0 42zm0 9zm0-38zm0 36zm0-26zm0 40zm1-12zm0-3zm0 23zm0-68zm0 7zm0 17zm0 58zm0-50zm0 3zm0-16zm0 34zm0 12zm0 1zm0-77zm0 11zm0 0zm0 6zm0 1zm0 68zm0-67zm0 64zm0-93zm0 42zm0-9zm1 21zm0 29zm0-76zm0 45zm0 13zm0-33zm0 19zm0 15zm0 31zm0-21zm0 16zm0-56zm0-16zm0 42zm0 1zm0 9zm0-4zm1 14zm0-27zm0 20zm0-41zm0 17zm0 0zm0 34zm0-52zm0 20zm0-22zm0 14zm0 29zm0-49zm0 29zm0-18zm0 43zm0-29zm0 9zm0 12zm0-39zm0-15zm0 78zm0-57zm0 25zm0-21zm1-18zm0 15zm0-27zm0 0zm0 12zm0 33zm0-15zm0 32zm0-52zm0 20zm0-28zm0 7zm0 43zm0-35zm0 20zm0-25zm0 8zm0-20zm0 19zm0 35zm0-25zm0-19zm0 28zm1 11zm0-33zm0 23zm0-10zm0 34zm0 2zm0-51zm0 4zm0 13zm0 27zm0-15zm0 17zm0-30zm0 21zm0 2zm0 20zm0-27zm0 18zm0-4zm0-48zm0 25zm0-13zm0 3zm0 24zm1-24zm0 5zm0-2zm0 7zm0-8zm0-17zm0 44zm0-66zm0-15zm0 43zm0 31zm0-19zm0 7zm0-26zm0 54zm0-54zm0 39zm0-24zm0-36zm0 5zm0 77zm0-10zm1-33zm0-4zm0 60zm0-40zm0-15zm0 40zm0 15zm0 1zm0-12zm0-45zm0-11zm0 35zm0 29zm0-10zm0-69zm0 39zm0 43zm0-1zm1-7zm0-78zm0 80zm0-15zm0-61zm0 39zm0 6zm0-16zm0-35zm0 42zm0-18zm0 42zm0-31zm0 18zm0-33zm0 70zm0-36zm0 0zm0-55zm0 75zm0-68zm0 1zm0 24zm0 10zm1 7zm0 9zm0-5zm0-7zm0 39zm0-34zm0-9zm0 40zm0-33zm0 11zm0-8zm0 14zm0-43zm0 33zm0-26zm0 20zm0-41zm0 7zm0 60zm0-3zm0-31zm0-15zm0 6zm0 8zm0 30zm1-29zm0-15zm0 43zm0-11zm0 24zm0-56zm0 26zm0-2zm0 8zm0-17zm0-12zm0-5zm0 61zm0-41zm0-14zm0 28zm0-39zm0 26zm0-8zm0-1zm0 46zm1-33zm0-12zm0 17zm0-76zm0 77zm0-3zm0-2zm0-13zm0 14zm0-22zm0 11zm0-7zm0-28zm0 22zm0 9zm0 10zm0-33zm0 19zm0-5zm0 43zm1-39zm0 4zm0-4zm0 14zm0-14zm0-15zm0 35zm0-48zm0 43zm0-57zm0 109zm0-49zm0 7zm0 8zm0-27zm0-23zm0 22zm0 9zm0 15zm0-17zm0-45zm1 23zm0 44zm0-7zm0-74zm0 76zm0-53zm0 42zm0-61zm0 40zm0 59zm0-33zm0-20zm0 12zm0 6zm0-45zm0 12zm0-21zm0 82zm0-67zm0-24zm0 84zm0-60zm0 64zm0-48zm0 21zm0 21zm1-30zm0 25zm0-33zm0-35zm0-8zm0 42zm0 2zm0 44zm0-9zm0-21zm0 11zm0-41zm0 6zm0 14zm0-1zm0-17zm0-10zm0 44zm0 0zm0-4zm0-40zm0 36zm0-28zm1 3zm0 57zm0-50zm0 25zm0-18zm0-37zm0 66zm0-10zm0-40zm0 46zm0 3zm0-31zm0 2zm0 24zm0-27zm0-19zm0-9zm0 22zm0 21zm0-18zm1-18zm0 31zm0 3zm0 8zm0-22zm0 8zm0-6zm0 41zm0 4zm0-50zm0 44zm0-54zm0 39zm0-35zm0 22zm0 11zm0-32zm0 12zm0 26zm0-28zm0 20zm0-18zm0 23zm0-8zm0 23zm1-10zm0-23zm0 51zm0-41zm0-15zm0 0zm0 27zm0-16zm0 11zm0-27zm0 0zm0 53zm0 22zm0-3zm0-49zm0-7zm0 21zm0 5zm0-4zm0-2zm1-34zm0-15zm0 44zm0-57zm0 18zm0 22zm0-8zm0-11zm0-4zm0 4zm0 25zm0-30zm0-21zm0 40zm0 49zm0-42zm0-24zm0 2zm0-2zm0-3zm0-3zm0 63zm0-75zm0-9zm0 5zm0 52zm0 26zm1-17zm0 24zm0-8zm0-37zm0-35zm0 73zm0-60zm0 45zm0-36zm0-1zm0 36zm0-15zm0 13zm0 22zm0-9zm0 5zm0-49zm0 13zm0-23zm0 11zm1 1zm0 20zm0-31zm0-7zm0 26zm0-18zm0 17zm0-18zm0 0zm0 13zm0-4zm0-15zm0 21zm0 63zm0-20zm0-48zm0 6zm0-9zm0 3zm0-20zm0 40zm0-39zm0 34zm0-7zm0 0zm1-12zm0 45zm0-32zm0 13zm0-20zm0 42zm0-71zm0 37zm0-5zm0-25zm0-4zm0 31zm0-21zm0 4zm0 27zm0 10zm0-38zm0 29zm0 10zm1-34zm0 54zm0-15zm0-40zm0 47zm0-12zm0-24zm0 9zm0-9zm0 13zm0-15zm0 8zm0-5zm0 36zm0-7zm0-34zm0-1zm0 9zm0 13zm0 31zm0 8zm0-3zm0-31zm0-13zm0 7zm0-29zm1 20zm0 0zm0 46zm0-38zm0 19zm0 43zm0-63zm0 30zm0 4zm0 32zm0-84zm0 27zm0-5zm0-9zm0-8zm0 10zm0 5zm0 4zm0 27zm1-12zm0-3zm0 7zm0-39zm0 26zm0 18zm0 0zm0 3zm0-42zm0-6zm0-7zm0-3zm0-7zm0 41zm0-35zm0 28zm0-38zm0 2zm0 2zm0 57zm0-37zm1 20zm0-26zm0 40zm0 4zm0-20zm0 6zm0-6zm0 26zm0-23zm0 16zm0-28zm0 37zm0-29zm0 21zm0 7zm0-25zm0-16zm0-5zm0 30zm0 16zm0-10zm0-11zm0-12zm0-14zm0-18zm1 50zm0 12zm0-42zm0-5zm0-25zm0 25zm0 9zm0-13zm0-7zm0-33zm0 35zm0 39zm0-46zm0-2zm0 6zm0 26zm0 28zm0-46zm0 20zm0 8zm0 4zm0-37zm0-1zm1 37zm0 4zm0-17zm0 3zm0-30zm0 1zm0 2zm0 3zm0 62zm0-78zm0 32zm0 28zm0-46zm0 36zm0-38zm0 16zm0-17zm0 59zm0-13zm0 20zm1 14zm0-31zm0-37zm0-21zm0 30zm0 8zm0 17zm0-51zm0 63zm0-35zm0 32zm0-10zm0-10zm0-3zm0-37zm0 64zm0-20zm0 15zm0 15zm0-27zm0-6zm0 4zm0-19zm1 16zm0 5zm0 18zm0-17zm0-10zm0 13zm0-24zm0 19zm0 5zm0-15zm0 26zm0-47zm0 57zm0-77zm0 26zm0 23zm0 0zm0-13zm0-17zm0 38zm0-16zm0 16zm0-33zm0 28zm1 26zm0-16zm0 9zm0 7zm0-63zm0-5zm0 28zm0 32zm0-61zm0 30zm0 7zm0-28zm0 21zm0 24zm0-6zm0-5zm0-1zm0 8zm0 24zm0-20zm0-18zm0-13zm1-8zm0 79zm0-44zm0-15zm0 28zm0-52zm0 34zm0 29zm0-18zm0 18zm0 0zm0-46zm0-35zm0 24zm0 58zm0-24zm0-35zm0-6zm0 75zm0-43zm0 0zm0-28zm0-13zm0 38zm1 6zm0-14zm0 23zm0 5zm0-16zm0 9zm0-36zm0 8zm0 31zm0-70zm0 5zm0 18zm0-32zm0 60zm0-9zm0-24zm0 30zm0-4zm0 30zm0-45zm1 38zm0-2zm0-18zm0 36zm0-27zm0 1zm0 2zm0 3zm0-52zm0 65zm0-16zm0 5zm0 13zm0-40zm0 21zm0-7zm0-9zm0 28zm0-9zm0 17zm0-25zm0 5zm0 14zm1-20zm0 14zm0-24zm0 4zm0 22zm0-41zm0 43zm0-17zm0 15zm0-67zm0 12zm0 9zm0 5zm0 7zm0 40zm0-39zm0-5zm0-11zm0 25zm0 20zm1-19zm0-10zm0 49zm0 24zm0-101zm0 55zm0 57zm0 6zm0-62zm0-11zm0-28zm0 0zm0 37zm0 3zm0 46zm0-40zm0-56zm0 72zm0-13zm0 22zm0-73zm0 8zm0 85zm0-34zm0-20zm1-17zm0 32zm0-18zm0 5zm0 55zm0-47zm0-14zm0 76zm0-74zm0 66zm0-58zm0-15zm0 12zm0 45zm0-40zm0-14zm0 61zm0-44zm0 3zm0 17zm0-29zm0 3zm1 4zm0 43zm0-57zm0 37zm0-13zm0-4zm0-46zm0 47zm0 2zm0 2zm0-4zm0-31zm0-60zm0 85zm0 2zm0 9zm0-21zm0 4zm0 7zm0-44zm0 12zm1-5zm0 37zm0-60zm0 52zm0-20zm0-30zm0 67zm0-13zm0-21zm0-26zm0-13zm0 56zm0-19zm0 2zm0 31zm0-23zm0-32zm0 45zm0-1zm0-79zm0 82zm0-63zm0 52zm0 52zm1-64zm0 52zm0-9zm0 11zm0-44zm0 23zm0-37zm0 30zm0 52zm0-81zm0 57zm0-24zm0 4zm0-59zm0 49zm0 9zm0-23zm0 9zm0 28zm0 25zm0-58zm0-25zm1 17zm0 2zm0 1zm0 54zm0-27zm0-1zm0-21zm0-5zm0 81zm0-19zm0-24zm0 26zm0 17zm0-113zm0 113zm0-17zm0-77zm0 15zm0 13zm0 50zm0-131zm0 16zm0 51zm1-9zm0-65zm0 142zm0-70zm0-7zm0-13zm0 20zm0 41zm0-70zm0 56zm0-18zm0-28zm0 3zm0-15zm0 55zm0-33zm0 4zm0-5zm0-20zm0 24zm1 7zm0-5zm0 29zm0 43zm0-14zm0-131zm0 50zm0 73zm0-92zm0 129zm0-74zm0-32zm0 42zm0-3zm0 10zm0-64zm0 71zm0-10zm0 8zm0 5zm0 21zm0-29zm0-48zm0-18zm1-37zm0 133zm0-83zm0 46zm0 21zm0-41zm0 33zm0 26zm0-55zm0 10zm0 68zm0-38zm0-83zm0 29zm0 2zm0 18zm0-36zm0 15zm0 96zm0-123zm0 39zm1-10zm0-45zm0 66zm0-17zm0-6zm0 13zm0 19zm0-12zm0-3zm0-1zm0-11zm0 26zm0-51zm0 27zm0-7zm0-17zm0-6zm0 76zm0-47zm0 18zm0-13zm0-12zm0-8zm0-8zm0-4zm0 49zm0-29zm1 15zm0 23zm0-50zm0 30zm0 3zm0 37zm0 13zm0 20zm0-96zm0 22zm0 29zm0-9zm0-16zm0-23zm0-15zm0-39zm0 58zm0-40zm0 36zm0 83zm0-61zm0-10zm0 0zm0 3zm1 31zm0 4zm0-14zm0-100zm0 32zm0 62zm0-64zm0 2zm0 27zm0 15zm0-64zm0 107zm0 11zm0-5zm0-28zm0-63zm0 71zm0 9zm0-61zm1 103zm0-48zm0-54zm0 39zm0-6zm0-9zm0 3zm0 17zm0-59zm0 65zm0 49zm0-109zm0 10zm0 9zm0 50zm0-72zm0 112zm0-55zm0-16zm0 52zm0-85zm0 54zm0-47zm0 43zm0-27zm0 32zm1-35zm0 56zm0-22zm0-39zm0 26zm0 41zm0-30zm0 9zm0-38zm0 41zm0-25zm0 4zm0 20zm0-5zm0 8zm0-1zm0 34zm0-20zm0-56zm0 41zm1-30zm0 33zm0-64zm0 12zm0 48zm0-22zm0 22zm0-59zm0 28zm0 34zm0-10zm0-43zm0 48zm0-52zm0-10zm0 49zm0 3zm0 18zm0-25zm1-33zm0 24zm0 0zm0-17zm0 47zm0-1zm0-23zm0 35zm0-101zm0 70zm0-84zm0 80zm0 60zm0 5zm0-82zm0 57zm0-56zm0 14zm0-65zm0 43zm0 50zm0 29zm0-101zm0-23zm0 17zm0 49zm0-17zm1 39zm0-23zm0 5zm0-11zm0-6zm0-27zm0 36zm0-33zm0 51zm0-4zm0-66zm0 3zm0 22zm0 18zm0-5zm0 52zm0-18zm0 28zm0-27zm0-11zm0-44zm1 4zm0-25zm0 66zm0-23zm0 25zm0-60zm0 41zm0-61zm0 30zm0-3zm0 46zm0-78zm0 39zm0 73zm0-59zm0 40zm0 37zm1-56zm0-5zm0 49zm0-74zm0 55zm0-26zm0-21zm0 63zm0-34zm0 6zm0-9zm0 15zm0-17zm0 31zm0-32zm0 69zm0-41zm0 38zm0-90zm0 14zm0-56zm0 103zm0-52zm0-12zm0 20zm0 1zm1-63zm0 41zm0-14zm0-32zm0 64zm0-56zm0 42zm0-17zm0 13zm0 5zm0 18zm0 11zm0-32zm0-4zm0 54zm0-35zm0 4zm0-34zm0 55zm0 14zm1-37zm0 10zm0 7zm0-42zm0-27zm0 57zm0 1zm0 15zm0-13zm0-22zm0-3zm0 36zm0-20zm0 27zm0-18zm0-76zm0 99zm0-68zm0 10zm1 4zm0 33zm0-9zm0 29zm0-33zm0 25zm0-34zm0-31zm0 37zm0 18zm0-4zm0 19zm0-75zm0-2zm0 43zm0 14zm0-24zm0-33zm1 52zm0-70zm0 36zm0-26zm0-5zm0 48zm0 19zm0-32zm0 7zm0-20zm0 0zm0 34zm0 26zm0-77zm0 58zm0-8zm0-21zm0 61zm0-52zm0 46zm0-24zm0 37zm0-54zm1 2zm0 37zm0 28zm0 4zm0-52zm0 0zm0-89zm0 85zm0 20zm0-13zm0 12zm0 6zm1 12zm0-39zm0 7zm0-5zm0-9zm0 17zm0-12zm0 7zm0 29zm0-64zm0-59zm0 75zm0-44zm0 39zm0 35zm0-27zm0-27zm0 37zm0 4zm0-52zm0 22zm1 1zm0-14zm0-29zm0 66zm0 43zm0-95zm0 18zm0 10zm0-35zm0 57zm0-7zm0 13zm0-25zm0-2zm0-18zm0 42zm0-32zm0 41zm0-96zm1 66zm0 16zm0-72zm0 73zm0-4zm0-46zm0 74zm0-12zm0-42zm0 26zm0-22zm0 19zm0-32zm0 26zm0-28zm0 38zm0-51zm0-5zm0 30zm1-23zm0 47zm0-35zm0-21zm0 50zm0-27zm0-7zm0 19zm0 0zm0 20zm0 9zm0-13zm0-46zm0 3zm0-9zm0 54zm1-21zm0-5zm0 32zm0-18zm0 11zm0-51zm0 44zm0-49zm0-2zm0 73zm0-60zm0 42zm0-36zm0-17zm1 16zm0-28zm0 27zm0 5zm0 35zm0-50zm0 27zm0 1zm0-9zm0 7zm0-14zm0 11zm0 41zm0 4zm0-11zm0-33zm1-4zm0-14zm0 41zm0-29zm0 33zm0-14zm0-43zm0 13zm0 7zm0 23zm0-6zm0-24zm0-8zm0-9zm0 53zm0-58zm1 12zm0-5zm0-28zm0 37zm0-22zm0 14zm0 36zm0-39zm0-11zm0 45zm0-61zm0 85zm0-45zm0 36zm0-66zm0 18zm0 4zm0 14zm1-18zm0 4zm0 30zm0-4zm0-16zm0 15zm0 40zm0-34zm0-32zm0 7zm0 7zm1 5zm0-13zm0 22zm0-16zm0 12zm0-42zm0 40zm0-27zm0 23zm0 10zm0 24zm0-13zm0-29zm0 46zm0-19zm0 2zm0-6zm0-19zm1-7zm0-5zm0-17zm0 19zm0 22zm0-7zm0-31zm0-17zm0 39zm0 33zm0-45zm0 27zm0 4zm0-24zm1 27zm0 1zm0-22zm0-25zm0 12zm0-11zm0-1zm0 0zm0 41zm0 7zm0-22zm0 14zm0 15zm0-14zm0 27zm0-57zm0 9zm0 23zm0-20zm0-4zm1-44zm0 8zm0-6zm0 49zm0-6zm0 18zm0-27zm0 17zm0-14zm0-32zm0 5zm0 23zm0 10zm0 10zm0 37zm0-90zm1 33zm0 22zm0-10zm0 11zm0 3zm0-3zm0 4zm0-25zm0 34zm0-25zm0-1zm0 52zm0-61zm0 31zm0-39zm0 48zm0-34zm1 30zm0-15zm0-4zm0-1zm0 3zm0-16zm0 26zm0 4zm0-33zm0 36zm0-37zm0-19zm0 65zm0-12zm1-1zm0-40zm0 40zm0-49zm0 30zm0 0zm0-6zm0-20zm0 16zm0-2zm0 15zm0-8zm0-31zm0-3zm0 68zm0-11zm0-23zm0 18zm0-14zm0 8zm1 9zm0-55zm0 16zm0-9zm0 2zm0 13zm0 41zm0-63zm0-7zm0 30zm0-28zm0 25zm1-12zm0 26zm0-1zm0-18zm0 35zm0-23zm0 4zm0 39zm0-66zm0 46zm0-3zm0-28zm0 52zm0-31zm0 14zm0-43zm0 39zm0-39zm0 8zm0-14zm1-6zm0 40zm0-37zm0 17zm0 22zm0 30zm0-66zm0 25zm0 22zm0-26zm0-1zm0-9zm0 21zm0 3zm0 29zm0-45zm1-27zm0 67zm0-42zm0 46zm0-56zm0 33zm0-57zm0 21zm0 45zm0 19zm0-9zm0-27zm0-43zm0 36zm1 44zm0-32zm0 42zm0-25zm0-9zm0 15zm0-24zm0 50zm0-36zm0-53zm0 64zm0-34zm0 9zm0 36zm0-28zm0-7zm0-35zm1 10zm0 19zm0 32zm0-71zm0 89zm0-61zm0 5zm0-44zm0 32zm0 10zm0 0zm0 40zm0-50zm0-5zm0 23zm0-5zm0-15zm0-9zm0 51zm1-52zm0-12zm0 13zm0 11zm0 10zm0 48zm0-18zm0-23zm0-11zm0 15zm0 20zm0-25zm0 12zm0 19zm1-30zm0-15zm0 0zm0 18zm0-30zm0 25zm0 18zm0 8zm0-81zm0 66zm0-32zm0 36zm0-33zm0 24zm0-19zm1-17zm0-3zm0 47zm0-57zm0 48zm0-26zm0 60zm0-43zm0-14zm0 3zm0-16zm0 17zm0-2zm0-7zm0 8zm0 43zm0 2zm1-79zm0 27zm0 33zm0-28zm0 13zm0 9zm0-37zm0 2zm0 13zm0 10zm0 18zm0 7zm0-35zm0 14zm0-17zm0 29zm0-18zm0 9zm0-2zm0 15zm0 1zm1-21zm0 11zm0 34zm0-51zm0 34zm0-10zm0-14zm0-7zm0 28zm0-11zm0 13zm0-35zm0-1zm0 18zm0 37zm0-13zm1-28zm0-1zm0 0zm0-4zm0 31zm0-14zm0-17zm0 20zm0 26zm0-15zm0-17zm0-4zm0 13zm0 11zm0-34zm0-31zm0 46zm0 10zm0-4zm1-18zm0 18zm0-6zm0-39zm0-11zm0 75zm0-2zm0-35zm0 26zm0-39zm0-4zm0-8zm0 51zm0 3zm0-62zm1 19zm0 36zm0-47zm0 13zm0 35zm0 5zm0-23zm0 33zm0-97zm0 102zm0-33zm0-5zm0-25zm0 41zm0-23zm0 18zm0 5zm1-21zm0-23zm0 33zm0-10zm0 5zm0-10zm0-4zm0 23zm0-50zm0 72zm0-63zm0 64zm0 10zm0-23zm0 17zm1-27zm0-4zm0 55zm0-48zm0-20zm0 38zm0-42zm0 1zm0 42zm0-34zm0 14zm0 28zm0-46zm0 14zm0-7zm1 6zm0 10zm0-10zm0 8zm0-26zm0 7zm0-29zm0 51zm0 2zm0 8zm0 5zm0-19zm0-9zm0-1zm0 3zm1-1zm0 9zm0-51zm0 75zm0-43zm0 1zm0 9zm0-45zm0-3zm0 45zm0-27zm0 77zm0-77zm0-16zm0 49zm1-43zm0 16zm0-8zm0 38zm0-46zm0 3zm0-2zm0 50zm0-30zm0-2zm0 5zm0 12zm0-33zm0 48zm0-58zm0 33zm0 12zm0-20zm0 17zm0-23zm0-7zm1 21zm0-20zm0 50zm0 10zm0-16zm0-36zm0 25zm0-34zm0 15zm0 38zm0-10zm0 21zm0-20zm0-14zm0 19zm0-32zm1-18zm0 36zm0-35zm0 0zm0 31zm0-42zm0 10zm0-6zm0 22zm0-7zm0 21zm0 1zm0 6zm0-6zm0 24zm1-23zm0-41zm0 55zm0-28zm0 6zm0-21zm0 54zm0-28zm0 7zm0-8zm0 21zm0-29zm0 14zm0 7zm0-14zm0-13zm0 15zm0 0zm0 10zm1-22zm0 21zm0 10zm0-11zm0 8zm0 19zm0 32zm0-75zm0 17zm0 5zm0-7zm0-18zm0 21zm1-10zm0 57zm0-42zm0-4zm0-13zm0 23zm0-4zm0-9zm0-21zm0 14zm0 15zm0 4zm0 22zm0-27zm0-26zm1 26zm0 13zm0-11zm0-28zm0-10zm0 46zm0-4zm0-14zm0-15zm0 15zm0-6zm0-2zm0 39zm0-45zm1-4zm0 5zm0-31zm0 65zm0 22zm0-14zm0-36zm0-10zm0-28zm0 27zm0 45zm0-10zm0-26zm0 20zm1-35zm0 37zm0-52zm0 80zm0-37zm0 17zm0 20zm0 22zm0-39zm0-7zm0 7zm0 21zm0-59zm0-34zm1 48zm0 63zm0-70zm0-27zm0 33zm0-3zm0-13zm0 39zm0-40zm0 23zm0 48zm0-61zm0 9zm0 3zm0 24zm0-35zm0-34zm0 26zm0 2zm0 10zm0 7zm0 26zm1-34zm0-20zm0 47zm0-10zm0-15zm0 8zm0 42zm0 1zm0-7zm0-36zm0 25zm0-62zm0 39zm0-22zm0 7zm0-14zm1 33zm0 27zm0-22zm0-23zm0 8zm0-5zm0 52zm0-36zm0-12zm0 55zm0-22zm0-74zm0 72zm0 21zm1-65zm0 17zm0 60zm0-27zm0-70zm0 39zm0-29zm0 44zm0-2zm0 0zm0 10zm0 0zm0-82zm0 4zm0 6zm0 85zm1 17zm0-24zm0 7zm0-82zm0 11zm0 11zm0 37zm0 45zm0-8zm0-8zm0-16zm0-63zm0 32zm0 40zm0-52zm0 2zm0 3zm0 9zm0 62zm0 4zm1-10zm0-29zm0-15zm0 17zm0-43zm0 28zm0 58zm0-81zm0 48zm0-22zm0 42zm0-35zm0-6zm0 73zm0-101zm0 59zm0-33zm1 5zm0 10zm0 6zm0 6zm0-36zm0 51zm0-37zm0-8zm0 5zm0 27zm0 67zm0-59zm0-39zm0 50zm0 18zm0-99zm0 59zm1 68zm0-57zm0 8zm0 2zm0-18zm0-1zm0 19zm0 7zm0 69zm0-35zm0-33zm0-26zm0 27zm0-38zm0 29zm1-60zm0 46zm0 9zm0 8zm0-88zm0 38zm0 47zm0-14zm0 18zm0-43zm0-16zm0 27zm0-40zm0 61zm0-6zm0 49zm0-85zm0 55zm0 8zm1-61zm0 7zm0 25zm0 30zm0-26zm0-58zm0 85zm0-64zm0 71zm0-59zm0 46zm0 7zm0 32zm0-85zm0 10zm0 23zm0 26zm0-46zm0-18zm0-22zm0 87zm0-18zm0-50zm0 47zm0-44zm1 33zm0-19zm0-3zm0 60zm0-48zm0 128zm0-168zm0 51zm0-16zm0 60zm0-75zm0 17zm1-27zm0 8zm0 43zm0-17zm0-2zm0 1zm0-10zm0 3zm0 14zm0-27zm0 49zm0-40zm0 43zm0-35zm0 42zm0-101zm0-8zm0 84zm0-20zm0 23zm1-43zm0 7zm0 41zm0 6zm0-29zm0-47zm0 38zm0 28zm0-21zm0-13zm0-36zm0 38zm0 26zm0-28zm0 19zm1-3zm0 22zm0-18zm0-11zm0 38zm0-23zm0-47zm0 30zm0 47zm0-18zm0-11zm0-11zm0-11zm0 5zm0 44zm0-26zm0-3zm0-42zm0 17zm0 41zm0-26zm1-5zm0 2zm0 9zm0 9zm0-9zm0 18zm0 9zm0-40zm0-4zm0 21zm0-7zm0-19zm0 49zm0 0zm0-27zm0-6zm0-17zm0-1zm0 34zm0-19zm0 19zm0-8zm1 3zm0 23zm0-39zm0-29zm0 26zm0 29zm0-9zm0-56zm0 35zm0 35zm0 18zm0-49zm0 18zm0-12zm0-6zm0-25zm0 27zm0 12zm0-15zm1-38zm0 33zm0-25zm0 30zm0-7zm0 17zm0 66zm0-89zm0 18zm0 11zm0 30zm0 1zm0-3zm0-46zm0 46zm0-61zm0 97zm0-74zm1 35zm0-32zm0-6zm0 46zm0-39zm0-24zm0-5zm0 98zm0-33zm0-65zm0 51zm0 4zm0-1zm0-25zm0-13zm0 48zm0-35zm1-26zm0 31zm0-6zm0 3zm0 11zm0-39zm0 63zm0-69zm0 66zm0-13zm0-11zm0 37zm0-20zm0-15zm0 33zm0-14zm0-11zm0-5zm0 3zm1-26zm0 77zm0-49zm0 17zm0-73zm0 57zm0-18zm0 24zm0-20zm0-25zm0 11zm0 51zm0-50zm0 22zm0 7zm0-27zm0-21zm0 17zm0 1zm1-23zm0 66zm0-2zm0-35zm0-12zm0-19zm0-17zm0 83zm0-13zm0 21zm0-6zm0-27zm0 12zm0-17zm0 19zm0-12zm1-16zm0-11zm0 22zm0 19zm0 28zm0-68zm0 49zm0-66zm0 54zm0-46zm0 13zm0 19zm0 16zm0-45zm0 27zm0-17zm0 12zm0 3zm0-5zm0 7zm0-36zm0 43zm1-26zm0-5zm0-8zm0 42zm0-23zm0 3zm0 48zm0-37zm0-26zm0-31zm0 22zm0 22zm0 11zm0 29zm0-21zm0 10zm0-13zm0 15zm0-21zm1-63zm0 79zm0-62zm0 64zm0 25zm0-54zm0 44zm0-14zm0 17zm0-14zm0 7zm0-18zm0 11zm0-15zm0-4zm1 48zm0-17zm0-56zm0 47zm0 18zm0-49zm0-27zm0 60zm0 22zm0-17zm0-60zm0 61zm0 1zm0-7zm0-42zm0 67zm0-26zm0-30zm1-24zm0 43zm0-7zm0 28zm0-38zm0-63zm0 96zm0-34zm0 26zm0-14zm0-18zm0 38zm0-61zm0 22zm0-56zm0 33zm0 57zm0-71zm0 34zm1 83zm0-24zm0-42zm0 12zm0-15zm0-5zm0 42zm0-54zm0 69zm0-106zm0-6zm0 50zm0-10zm0 9zm0 42zm0-47zm1-50zm0 65zm0 12zm0 43zm0-57zm0 27zm0-87zm0 49zm0 30zm0 36zm0-102zm0 73zm0-51zm0 12zm0 60zm0-45zm0 52zm0 3zm0-93zm0-20zm1-10zm0 77zm0-41zm0 21zm0 30zm0-32zm0 10zm0 0zm0-10zm0-2zm0 25zm0-28zm0 27zm0-14zm0 15zm0 6zm0-39zm0 5zm1-10zm0 33zm0-3zm0 24zm0-8zm0-17zm0 67zm0-27zm0-10zm0-14zm0-29zm0 58zm0-63zm1 12zm0 57zm0-23zm0 17zm0-40zm0-10zm0 39zm0-21zm0-39zm0 20zm0 21zm0-35zm0 29zm0 16zm0-31zm0-3zm0 5zm0 11zm0-31zm1 61zm0-25zm0-10zm0-29zm0-8zm0 38zm0 10zm0-20zm0 9zm0-15zm0 4zm0 11zm0-26zm0 34zm0-40zm0 5zm0 53zm0-28zm1 20zm0-10zm0-33zm0 50zm0-43zm0-6zm0-12zm0 57zm0-9zm0 3zm0-11zm0-16zm0-26zm0 49zm0-14zm0-23zm0 4zm0 18zm0 27zm1-10zm0-5zm0-21zm0 22zm0-42zm0 74zm0-57zm0 24zm0-12zm0 32zm0 2zm0-48zm0 19zm0 17zm0 9zm0-33zm0 4zm1-25zm0 19zm0-10zm0 50zm0-18zm0-40zm0 63zm0-43zm0 7zm0-16zm0 40zm0-18zm0-6zm0-18zm0 7zm0 14zm0 11zm0 4zm1 17zm0-51zm0-1zm0 41zm0 2zm0-49zm0-27zm0 42zm0 23zm0-6zm0-15zm0-6zm0 56zm0-21zm0-23zm0 2zm1-3zm0-15zm0 33zm0-41zm0 27zm0-30zm0 11zm0-30zm0 67zm0-69zm0 30zm0 31zm0-5zm0 1zm0 9zm0 19zm0-24zm0-41zm0 45zm0 0zm0 1zm1-34zm0-2zm0-17zm0 34zm0 44zm0-47zm0 21zm0-36zm0 35zm0-6zm0-15zm0 2zm0-58zm0 87zm0-18zm0-7zm0-17zm0 13zm1-2zm0-8zm0 10zm0 0zm0 32zm0-48zm0-39zm0 72zm0-64zm0 16zm0 56zm0-17zm0 19zm0-16zm0-4zm0 0zm0-39zm0 91zm0-47zm1-8zm0-42zm0 56zm0 11zm0-11zm0 4zm0-5zm0-24zm0 6zm0-19zm0-16zm0 57zm0 5zm0-30zm0 8zm0-25zm1-10zm0-8zm0 14zm0 33zm0 37zm0 2zm0-43zm0-18zm0 44zm0-46zm0 15zm0 16zm0-3zm0-41zm0 43zm0-25zm0-1zm0 3zm0 33zm0 2zm0 1zm0-39zm1-2zm0-5zm0 39zm0-56zm0-23zm0 78zm0-52zm0 44zm0-10zm0-58zm0 76zm0-56zm0 27zm0 37zm1-48zm0 4zm0 11zm0 9zm0-52zm0 11zm0 58zm0-66zm0 47zm0 33zm0-65zm0 59zm0-43zm0 57zm0-64zm0 21zm0 3zm0 38zm0-63zm1 0zm0 37zm0 17zm0-84zm0 57zm0-56zm0 64zm0-12zm0-3zm0-29zm0 6zm1 52zm0-25zm0-31zm0 72zm0-46zm0-7zm0 3zm0 4zm0-8zm0 10zm0-1zm0 25zm0-7zm0-22zm0-19zm0 41zm0 52zm0-35zm0-19zm0-18zm0 6zm0 27zm0-48zm1 89zm0-98zm0 90zm0-61zm0 3zm0 21zm0-10zm0-16zm0-9zm0 6zm0 33zm0 3zm0-54zm0 16zm0-13zm0 38zm1 11zm0-4zm0 11zm0 8zm0-30zm0 8zm0-6zm0-35zm0 24zm0-3zm0 9zm0 23zm0-71zm0 53zm1-39zm0 53zm0-21zm0 35zm0 0zm0-24zm0 3zm0-42zm0-6zm0 73zm0-3zm0-11zm0-19zm0-18zm0 4zm0-14zm0 2zm0-4zm0 56zm1-5zm0-24zm0-53zm0 85zm0-22zm0-42zm0 87zm0-41zm0-26zm0 24zm0-46zm0-9zm0 52zm0-28zm0 24zm1-50zm0 17zm0 34zm0 4zm0-17zm0 4zm0-18zm0-36zm0 51zm0-24zm0 56zm0-67zm0 30zm0 7zm0 13zm0-10zm0-20zm1 9zm0-57zm0 20zm0 61zm0-53zm0 33zm0 4zm0 18zm0-34zm0 2zm0-31zm0 11zm0 59zm0-31zm0-14zm0 3zm1-18zm0-6zm0 45zm0-3zm0-28zm0 15zm0-6zm0 1zm0-16zm0-24zm0 4zm0 23zm0 21zm0-1zm0 4zm0-27zm0 9zm0 9zm1 0zm0 18zm0 1zm0 27zm0-52zm0 6zm0 14zm0 31zm0-21zm0 1zm0-31zm0 53zm1-65zm0 52zm0-34zm0-10zm0 32zm0-38zm0 1zm0 19zm0 8zm0 10zm0-59zm0 17zm0 13zm0 36zm1-31zm0 20zm0-53zm0 62zm0-20zm0-17zm0 46zm0-17zm0-3zm0 10zm0-45zm0 41zm0-6zm0-13zm0-10zm0 17zm1-20zm0 41zm0-59zm0 66zm0-77zm0 39zm0-9zm0 5zm0 10zm0 55zm0-41zm0 21zm0-62zm0-23zm0 46zm0 12zm0-61zm1 62zm0 12zm0-22zm0 6zm0 8zm0-25zm0 47zm0-12zm0-48zm0 59zm0-36zm0-6zm0-11zm0 10zm0 44zm0-8zm0-23zm0-8zm0-5zm0 40zm0 2zm0-39zm0 30zm0-54zm0 44zm0-10zm1-29zm0 33zm0 2zm0 38zm0-81zm0 53zm0-31zm0 6zm0 25zm0 27zm0-70zm0-12zm0 29zm0 30zm0 22zm0-33zm1-11zm0 29zm0-36zm0 20zm0-20zm0 22zm0 34zm0-20zm0-18zm0 54zm0-72zm0 19zm0-7zm0-23zm0 32zm0-18zm0 1zm1 63zm0-43zm0 26zm0 2zm0-3zm0-28zm0-7zm0-2zm0 30zm0-50zm0 42zm0-40zm0 51zm0-35zm0 20zm0 16zm1-47zm0 36zm0-45zm0 21zm0 15zm0-35zm0 50zm0-68zm0 38zm0 5zm0 1zm0-48zm0 56zm0-56zm0 34zm0 14zm0-23zm0 16zm0-49zm0 27zm1 34zm0-6zm0-35zm0 34zm0-20zm0 38zm0-11zm0-69zm0 61zm0 8zm0-6zm0 12zm0-51zm0 33zm0-6zm0-12zm0 44zm0-49zm1 23zm0 24zm0-33zm0 22zm0 53zm0-52zm0-10zm0 20zm0 25zm0 63zm0 10zm0-142zm0 55zm0-46zm0 56zm0-44zm0 23zm0 31zm0-54zm1-6zm0 22zm0 14zm0-4zm0-7zm0-32zm0-27zm0 19zm0-25zm0 67zm0-42zm0-21zm0 56zm0 7zm0-24zm0-33zm1 49zm0-20zm0 19zm0-73zm0 62zm0-41zm0 31zm0 29zm0-56zm0 4zm0 50zm0-10zm0-23zm0 13zm0-28zm0 28zm0 29zm0-38zm0 31zm0-16zm1 21zm0 18zm0-12zm0-2zm0-62zm0 66zm0-23zm0-33zm0-7zm0 14zm0 32zm0-2zm0 6zm0-64zm0 79zm0-17zm0 0zm0 33zm0-20zm1 15zm0-20zm0 37zm0-68zm0 10zm0 27zm0-66zm0 47zm0 16zm0 33zm0-64zm0-31zm0 48zm0-46zm0 52zm0-9zm0-21zm0 15zm0 16zm0-23zm1 23zm0-48zm0 31zm0-19zm0-3zm0 41zm0-33zm0-18zm0 39zm0 0zm0 3zm0 4zm0-19zm0-18zm0 4zm0 7zm0-9zm0 3zm0-22zm0 38zm1 30zm0-65zm0 12zm0 42zm0 17zm0-81zm0 37zm0-1zm0 58zm0-51zm0 7zm0-20zm0 16zm0-29zm0 37zm0 7zm1 15zm0-73zm0 24zm0-35zm0 41zm0 47zm0-54zm0 2zm0-12zm0 40zm0 7zm0-3zm0-30zm0-30zm0 22zm0-1zm1 31zm0 24zm0-32zm0-8zm0 10zm0-52zm0 56zm0-10zm0-43zm0 32zm0-5zm0 34zm0-49zm0 34zm0-51zm0 92zm0-57zm0-17zm0 65zm0-54zm0 7zm1 30zm0-6zm0-20zm0 33zm0-3zm0-12zm0-14zm0 27zm0-21zm0-28zm0 50zm0-29zm0-6zm0 33zm0-14zm0-45zm1 40zm0-26zm0 14zm0 24zm0-50zm0 39zm0-37zm0 24zm0 30zm0 12zm0-14zm0-5zm0 4zm1-39zm0 54zm0 13zm0-47zm0 8zm0-6zm0-48zm0 50zm0-39zm0 55zm0 28zm0-4zm0-44zm0 6zm0-27zm0 32zm0 8zm0-65zm0 53zm0 3zm0-33zm0 25zm0-8zm0-16zm1 29zm0-8zm0-10zm0 12zm0-17zm0 51zm0-62zm0 25zm0 48zm0-52zm0 13zm0-31zm0-32zm0 29zm0-15zm0 65zm0-55zm1 7zm0 25zm0-34zm0 35zm0-7zm0-15zm0-46zm0 39zm0 18zm0-40zm0 44zm0-3zm0-23zm0 18zm0-14zm0-24zm0 28zm1-29zm0 32zm0 19zm0-12zm0 19zm0-9zm0 2zm0-60zm0 72zm0-51zm0 21zm0 3zm0 54zm0-73zm0 48zm0-34zm0 16zm0-59zm0 23zm0 17zm0 0zm0-1zm1-4zm0 31zm0-56zm0-58zm0 126zm0-47zm0 7zm0-35zm0 40zm0-32zm0 14zm0 36zm0-45zm0 40zm0-5zm0-3zm0 41zm1-32zm0-113zm0 150zm0-38zm0-1zm0 29zm0 15zm0-28zm0-53zm0 89zm0-73zm0 40zm0 30zm0-151zm0 98zm0 24zm0 5zm0 13zm0-36zm0 64zm1-74zm0 16zm0-20zm0 61zm0-66zm0-23zm0 1zm0-46zm0 124zm0-64zm0 198zm0-135zm0 5zm0-54zm0-38zm0 12zm0 6zm0-7zm0 33zm0 0zm0 162zm0-175zm0-39zm0 76zm1 104zm0-187zm0 46zm0 16zm0-47zm0 110zm0-42zm0-26zm0 43zm0-88zm0 93zm0-110zm0 61zm0-32zm0 33zm0-32zm0 49zm1-27zm0-1zm0 21zm0-18zm0 23zm0-59zm0 74zm0 22zm0-70zm0 6zm1-17zm0 57zm0-46zm0 25zm0 13zm0 73zm0-108zm0 34zm0-25zm0-2zm0 29zm0 9zm0-33zm0 61zm0-23zm0 22zm0-51zm0-25zm0 15zm0-16zm1 67zm0-49zm0 1zm0 20zm0-49zm0-5zm0 54zm0-18z"/>
<path transform="scale(0.5)" stroke="#00fa00" stroke-width="4.9" d="M119 208zm0 1zm1 3zm0-4zm0 0zm1 3zm0 1zm0-2zm0-2zm0 12zm0-14zm0-4zm0 14zm1-17zm1 6zm0-7zm0 3zm0 4zm0 3zm0-4zm0 1zm1 4zm0-10zm0 0zm0-7zm0 4zm1-8zm1 27zm0-18zm0 1zm0 10zm0-1zm0-2zm0 3zm0 1zm1 9zm1-11zm0 3zm0-2zm0 5zm0-11zm0 4zm1 2zm0 0zm0-6zm0-4zm0 10zm0-4zm1 9zm0-6zm0 9zm0-6zm1 9zm0-23zm0 22zm0 3zm1-9zm0 5zm0-1zm0-9zm0 7zm0 0zm1-7zm0 10zm0-7zm1 13zm0 8zm0-17zm0 10zm0-2zm0 3zm1-6zm0-5zm0 0zm1-13zm0 9zm0-9zm0 5zm1-3zm0 1zm0-7zm0 13zm0-13zm1 4zm0 11zm0-1zm0-11zm1 12zm0-13zm0-7zm0 21zm0-8zm0 17zm1-27zm0 40zm0-9zm1-8zm0 13zm0-10zm0-3zm0 15zm1-7zm0-9zm0 6zm0 8zm0 6zm1-10zm0 8zm0 8zm0-6zm1 7zm0-6zm0 6zm0 1zm1-2zm0-6zm0 6zm0-4zm0-6zm1 12zm0-11zm0-9zm0 8zm0-14zm1-8zm0 17zm0-8zm0 1zm1-6zm0-9zm0-4zm0-13zm1 17zm0-3zm0 3zm0-8zm0 8zm1 0zm0 6zm0 1zm0 4zm1-20zm0 23zm0-13zm0-7zm0 2zm1-2zm0-1zm0 12zm0 0zm1-6zm0 3zm0 0zm0 5zm0-5zm1 2zm0-2zm0 1zm0-1zm0 6zm0 1zm0-7zm1 7zm0-9zm0 7zm1-9zm0 6zm0-2zm1 6zm0-1zm0-4zm0-5zm0 4zm0-3zm1 0zm0 6zm0-2zm0-3zm0 1zm0-7zm1-14zm1 4zm0 1zm0 12zm0-7zm0 13zm1-1zm0 9zm0-14zm0-8zm0 3zm1-1zm0 6zm0 5zm0-2zm0-2zm0 15zm1-7zm0 4zm0-14zm0 6zm1 8zm0-5zm0 1zm0-4zm1 4zm0-11zm0 15zm0-13zm0-1zm1 8zm0-6zm0 6zm1-4zm0-1zm0-5zm0 17zm0-4zm0-9zm0 2zm1-8zm0 4zm0 2zm1-6zm0 7zm0 1zm0-4zm0-1zm1 0zm0 2zm0 5zm0 5zm1 0zm0-8zm0 3zm0 6zm0 2zm0-10zm1 4zm0-2zm0 1zm0-1zm1 4zm0-8zm0 3zm0 2zm1-10zm0 9zm0-6zm0 8zm1-10zm0 6zm0-7zm0 9zm0-1zm1-9zm0 10zm1-4zm0 1zm0 0zm0 10zm0-23zm0 14zm0-6zm0-3zm0 4zm1-11zm0 7zm1-1zm0-7zm0-9zm0 32zm0-17zm1 9zm0 0zm0 1zm0-4zm0 3zm1-8zm0 11zm0-11zm0 0zm1 14zm0-11zm0 6zm0-1zm0 3zm0 3zm1-13zm0 6zm1-9zm0 0zm0 1zm0-2zm1 10zm0 7zm0-10zm0 4zm0-7zm1 15zm0-13zm0 22zm0-14zm0 6zm0-6zm1-4zm0 5zm0-5zm0 1zm1-6zm0 8zm0-3zm0 5zm0 0zm1 5zm0-3zm0 0zm0-2zm1-12zm0 10zm0-3zm0 3zm0 1zm0-3zm1-1zm0 12zm0-3zm1 1zm0-1zm0 0zm0 14zm1-10zm0-3zm0 0zm0 14zm0-11zm1 12zm0-4zm0 0zm0-2zm1 8zm0-3zm0-1zm0 11zm0-22zm1 21zm0-23zm0 13zm0 7zm0-11zm0 1zm1-16zm0 16zm0-15zm1-1zm0 11zm0-7zm0-29zm0 18zm0-13zm1 8zm0-19zm0 16zm0-9zm1 11zm0 15zm0-7zm0 7zm1-13zm0 5zm0-20zm0 13zm0 12zm1-14zm0 26zm0-6zm1 15zm0-45zm0 13zm0 30zm0 23zm1-29zm0 45zm0-26zm0 17zm0-49zm0 23zm0-1zm1 3zm0 25zm1-27zm0-8zm0 12zm0 35zm1 14zm0-34zm0-18zm0-2zm0-21zm0-1zm0-2zm1 29zm0-10zm0 15zm0-29zm1 20zm0-34zm0 28zm0-15zm1-10zm0-13zm0 43zm0-10zm1-26zm0 26zm0-5zm0-20zm1 14zm0-14zm0 6zm0 2zm0 27zm0-16zm1 2zm0-15zm0 6zm0-21zm1 18zm0-22zm0 34zm0-10zm0 3zm0 3zm1-13zm0 16zm1 5zm0-31zm0 9zm0-1zm0 9zm0 2zm1-8zm0 9zm0-1zm0 4zm1-6zm0 27zm0-5zm0-23zm1 27zm0-15zm0 12zm0-9zm1-10zm0 1zm0 15zm0-30zm0 13zm1-10zm0 0zm0 11zm0-18zm1 3zm0 2zm0 4zm0 28zm0 8zm1-19zm0 3zm0-19zm0-2zm0 0zm1 6zm0-9zm0-12zm0-9zm0 27zm0-27zm1 17zm0-12zm0 72zm1-84zm0-15zm0 69zm0-22zm1-13zm0-23zm0 38zm0-20zm0 46zm1-15zm0 23zm0 10zm0-13zm1-4zm0-29zm0 30zm0-1zm0-23zm1 26zm0-18zm0 0zm0-5zm0 7zm0 25zm1-11zm0-5zm0 15zm1-21zm0-4zm0-11zm0 44zm0-2zm1 2zm0 1zm0-16zm0 13zm1-28zm0 11zm0-23zm0 27zm1-32zm0 10zm0 8zm0-20zm1 2zm0-15zm0 21zm0 63zm0-57zm0 17zm1-10zm0 17zm0-1zm0-16zm0 6zm0-1zm1 11zm0-8zm0 6zm1-7zm0 9zm0-7zm0-8zm1 11zm0 2zm0-10zm0-13zm0 23zm1-15zm0 8zm0-35zm0 13zm0-12zm1 24zm0-18zm0 5zm1 13zm0-4zm0 5zm0-3zm1-7zm0 8zm0-3zm0-12zm0 25zm1-10zm0 10zm0-15zm0 12zm1 1zm0-12zm0 11zm0 1zm0-7zm0 10zm0-3zm1 4zm0-12zm0-11zm0-7zm0 18zm1 3zm0-3zm0-1zm1-19zm0 62zm0-26zm0-20zm0 57zm1-60zm0 14zm0-23zm0 15zm0 19zm0-29zm1 31zm0-15zm0-1zm1 6zm0-14zm1-19zm0 29zm0-1zm0 11zm0 1zm0 8zm1-7zm0-42zm0 26zm0-31zm0 35zm0 20zm1 49zm0-32zm0-15zm1 20zm0 8zm0-16zm0-12zm0-2zm0-15zm1 24zm0-4zm0-2zm0-36zm0 32zm1-39zm0 16zm0 16zm0-8zm1 6zm0-41zm0 36zm0 13zm0-35zm1 5zm0-4zm0-12zm0 34zm1-10zm0-2zm1-22zm0 21zm0-37zm0-6zm0 26zm0-28zm0 20zm1-4zm0 25zm0-42zm0 29zm0 39zm0-33zm1-2zm1 10zm0 31zm0-35zm0-36zm0 50zm0-21zm0-23zm1 9zm0-23zm0 27zm0-14zm1 26zm0-3zm0-18zm1 102zm0-8zm0-42zm0-13zm0-21zm1 2zm0 47zm0-43zm0-47zm0 27zm1-15zm0 6zm0 23zm0-38zm0 36zm1 9zm0 20zm0-30zm1 33zm0-19zm0 1zm0-1zm0 5zm0-11zm0 17zm1-35zm1 34zm0-20zm0-34zm0-14zm0 38zm1-45zm0 51zm0-12zm0 17zm0-14zm0-2zm0 5zm1-8zm0 32zm0-54zm0 48zm1 19zm0-16zm0-6zm0 5zm1-4zm0-7zm0 6zm0-14zm0 4zm0 15zm1-5zm0 5zm0 3zm0-8zm0 0zm1 9zm0 6zm0-9zm1 4zm0 7zm0-9zm0 1zm1 2zm0-4zm0 0zm1 2zm0 9zm0-9zm0 1zm0 4zm0 3zm1 2zm0-5zm0 1zm1-1zm0 1zm0-1zm0 3zm0-5zm1 2zm0-3zm0 1zm0 3zm0-4zm0-3zm1 10zm0-4zm0-4zm0 1zm1 7zm0-4zm0 0zm1-4zm0 0zm0 2zm0 1zm0-2zm0 1zm1 0zm0 2zm0 5zm1 0zm0-3zm0 0zm0-2zm0 5zm0-3zm1-1zm0 2zm0-3zm0 3zm0-3zm1 2zm0 0zm0-1zm1-5zm0 3zm0-1zm0 4zm1 4zm0-8zm0 6zm0 1zm0-7zm0-2zm1 4zm0 0zm0 1zm0-4zm0 10zm1 1zm0-8zm0 8zm0-4zm0-6zm1 7zm0-2zm0-2zm1 0zm0-4zm0 1zm0-5zm1 5zm0 1zm0-5zm0 5zm0 2zm0-3zm1 7zm0-3zm0 1zm0 0zm1-2zm0-1zm0 2zm0 1zm0-1zm0 0zm0 1zm1-7zm0 5zm0-4zm0 2zm0-1zm1 0zm0-2zm0 2zm0 1zm1-3zm0 0zm1 1zm0-5zm0 2zm0 2zm0-1zm1-2zm0 2zm0-3zm1 4zm0-1zm0 5zm0-2zm1 8zm0-4zm0 2zm0 1zm0 1zm0-1zm0 1zm0 1zm1-4zm0 0zm1 0zm0 2zm0-5zm0 0zm0 1zm0 3zm1-3zm0-6zm0 8zm0-4zm1 4zm0-13zm0 6zm0-2zm1-1zm0 8zm0-4zm0 0zm0 3zm1-5zm0-5zm0 7zm1 1zm0 0zm0 5zm0-4zm0 8zm0-5zm1-7zm0 8zm0-5zm0 7zm0-11zm1 0zm0 3zm0-7zm0-2zm0 6zm0 4zm1-6zm0 7zm1-3zm0 0zm0 1zm0 6zm0-7zm0 11zm1-3zm0-9zm0 9zm1-2zm0 5zm0-2zm0-5zm1-1zm0-14zm0 3zm0-5zm1 10zm0 0zm0 12zm0 1zm0-2zm0-2zm1 4zm0-5zm0 8zm0-2zm0 6zm1-14zm0 10zm0-10zm0 14zm0-3zm0-7zm1-7zm0 1zm0 8zm1 4zm0-9zm0 8zm0 2zm1-2zm0-3zm0 5zm0-6zm0-3zm1 5zm0-1zm0-4zm0 0zm0 1zm1-2zm0 6zm0-2zm1-1zm0-5zm0 0zm0-1zm0 4zm1-4zm0 5zm0 6zm0-2zm0 1zm1-5zm0 1zm0 2zm1 0zm0 0zm0-2zm0 0zm0 2zm0-1zm1 1zm0-1zm0-1zm1-1zm0 2zm0 3zm0-2zm0-8zm0-5zm1 1zm0-1zm0 1zm0-7zm1 6zm0 0zm0-1zm0 12zm0-3zm1-2zm0-3zm0 3zm0 9zm0-9zm1 1zm0-4zm0 0zm0-9zm1 7zm0 6zm0-4zm0-3zm1 8zm0-6zm0 1zm0-1zm0 2zm1 2zm0-3zm0 0zm0 3zm0 2zm1 2zm0-1zm0-3zm0 3zm1-1zm0-4zm0 2zm0-1zm0-1zm0 2zm1-2zm1 1zm0-1zm0 0zm0 1zm0-1zm0 1zm0 5zm1-5zm0 3zm0-6zm0-1zm1 2zm0-3zm0-1zm0 1zm0-5zm1 3zm0 6zm0-3zm0-1zm1 7zm0-7zm0 8zm0-7zm0-1zm1-6zm0 3zm0-1zm1 2zm0-4zm0 12zm0-6zm0 1zm0-2zm1 2zm0 8zm0-1zm0 2zm0-2zm0-3zm1 5zm0-1zm0-1zm0 5zm1 0zm0-1zm0 2zm0-2zm1 1zm0 1zm0 0zm0 2zm1-3zm0-5zm0 0zm0-3zm0 3zm0-7zm1 8zm0-7zm0 4zm0-3zm1-1zm0 7zm0-2zm1 5zm0-2zm0 2zm0-4zm1 3zm0-5zm0 4zm0 1zm0-1zm0 1zm0 2zm1-4zm0-1zm1 7zm0-6zm0 0zm0 0zm0 0zm0 0zm0 0zm1-3zm0 1zm0 2zm1-2zm0 3zm0-2zm0 0zm0-1zm0-1zm1 1zm0-18zm0 8zm1 7zm0-13zm0 2zm1 14zm0 7zm0 0zm0-4zm0 1zm0-1zm0-3zm1 4zm0 0zm1-5zm0 2zm0-5zm0-1zm0 2zm0-2zm0 5zm1-3zm0-1zm0 1zm1-7zm0 4zm0-6zm0 2zm0 9zm1 4zm0 0zm0-2zm0 3zm1 1zm0-5zm0 8zm0-2zm0-2zm1 5zm0 4zm0-5zm0-1zm0-7zm1 9zm0-8zm0-2zm1-4zm0 5zm0-2zm0 3zm0-1zm0-4zm0 3zm1 1zm0 0zm0-1zm0-4zm1 8zm0 2zm0-3zm0-2zm0 0zm1 3zm0-1zm0 3zm0-7zm1 10zm0 4zm0-9zm0 4zm1-1zm0 2zm0-5zm0 2zm1 2zm0-6zm0 6zm0 5zm0-4zm1-3zm0-3zm0 11zm0-16zm0 12zm0-10zm1-7zm0 17zm0-10zm0-1zm0 5zm1-9zm0 5zm1-3zm0-1zm0 11zm0-9zm0-6zm0 10zm0 9zm1-5zm0-6zm0 9zm1-8zm0 3zm0-4zm0 0zm1-3zm0-1zm0 4zm0-2zm0-2zm1 6zm0-1zm0-4zm0 2zm1 3zm0-5zm0 3zm0 0zm0 0zm0 1zm1 0zm0-7zm1 4zm0-6zm0-2zm0 14zm0 10zm1-12zm0 10zm0-3zm0-3zm0 1zm1 4zm0-5zm0-3zm0 5zm1-2zm0 0zm0-1zm0 2zm0-3zm1 0zm0 1zm0 0zm0 5zm0-6zm0-1zm1 11zm0-6zm0-3zm0-6zm1 2zm0 3zm0-1zm0 5zm0-1zm1-1zm0 5zm0-7zm0 6zm1-9zm0-4zm0 3zm0 6zm1 2zm0-6zm0 5zm0 1zm1 1zm0 2zm0 1zm0 1zm1 0zm0-5zm0 6zm0-8zm1 0zm0 0zm0 0zm0 0zm0 0zm1 2zm0-4zm0 2zm0 1zm0 0zm1-1zm0-1zm0 1zm0-2zm0 1zm1 0zm0-4zm0 2zm0-3zm1 5zm0-1zm0 0zm0-2zm1 3zm0-2zm0 6zm0-7zm0 5zm0-5zm1 2zm0 3zm0-2zm0 5zm1-1zm0-1zm0-3zm0 6zm0-3zm1-4zm0 0zm0 1zm0 2zm1 3zm0-1zm0-7zm0 2zm1 0zm0-2zm0 0zm0 0zm1-1zm0 6zm0 3zm0-1zm0 6zm1-8zm0 0zm0-2zm0 0zm1 1zm0-3zm0-1zm0 1zm0-2zm0 7zm1-7zm0-1zm0 4zm0 0zm1-1zm0-6zm0 3zm0 0zm0 6zm1-4zm0-1zm0 7zm0-1zm1-2zm0 1zm0-1zm0-1zm0 1zm1-4zm0 7zm0-2zm0 3zm0 0zm1 1zm0 0zm0-2zm0 5zm1 3zm0-3zm0 3zm0-2zm1-5zm0 2zm0-3zm0-1zm0-1zm1 0zm0 4zm0-4zm1 5zm0 1zm0-1zm0-15zm0 13zm0-4zm1-2zm0-2zm0 0zm0 0zm0 3zm1 2zm0-2zm0 4zm0-5zm1 1zm0-2zm0 2zm1-4zm0 7zm0 1zm0 0zm0-6zm0-5zm1 7zm0-2zm0 15zm0-5zm1-7zm0 5zm0-3zm0 8zm1-2zm0-6zm0-2zm0 2zm0-6zm1 1zm0-2zm0 14zm0-14zm0 7zm0 3zm1-3zm0 0zm0-1zm0 2zm1-1zm0 0zm0 0zm0 1zm0 2zm1 6zm0-3zm0 3zm0-4zm1 1zm0-3zm0-2zm1-3zm0-2zm0 3zm0 4zm0-4zm0 4zm1-3zm0-1zm0 1zm0 2zm0 0zm0 0zm0-1zm1 3zm1-2zm0 0zm0 1zm0-3zm0-2zm1-1zm0 5zm0-3zm1 3zm0 2zm0 3zm0-2zm0 2zm0-2zm1 6zm0-1zm0-4zm0 0zm1-2zm0 6zm0-1zm0 1zm0-10zm0-8zm1 14zm0-16zm0 6zm0 1zm1-9zm0 3zm0 1zm0 2zm1-5zm0 1zm0 3zm0-2zm0 4zm1 1zm0-6zm0-2zm0 2zm0 4zm1 2zm0 0zm0-1zm0 2zm0-4zm0 3zm1-4zm0 2zm1 5zm0-2zm0-10zm0-3zm0 6zm1-4zm0 11zm0-9zm0 3zm1 1zm0-4zm0 1zm0 11zm0-11zm1 16zm0-7zm0-5zm0-4zm1 1zm0 11zm0-6zm0-4zm0 3zm1-8zm0 7zm0 2zm0 3zm0-2zm1-6zm0 7zm0 1zm0-5zm1-3zm0 7zm0-10zm1 1zm0 5zm0-3zm0-2zm0-1zm0 6zm1 1zm0 0zm0-1zm0 4zm1-4zm0 0zm0 1zm0 1zm0-1zm0 2zm0-2zm1 6zm0 0zm0-4zm1 2zm0-1zm0-1zm0-3zm0 2zm1 2zm0-2zm0 1zm0 1zm1 2zm0-4zm0-3zm0 6zm0 2zm1-9zm0 6zm0 4zm0 1zm1 2zm0-8zm0-2zm1 3zm0-4zm0 3zm0-1zm0 1zm1-4zm0 3zm0-2zm0 1zm0 1zm1-1zm0 5zm0-7zm0 4zm1-4zm0 10zm0-11zm0 4zm0-6zm1 7zm0 0zm0 5zm1-2zm0-1zm0-7zm0 12zm0-13zm0 6zm0-6zm0 0zm1 5zm0-3zm0 0zm0 2zm1 1zm0-2zm0-7zm0 3zm0-6zm1 9zm0-3zm1-4zm0 1zm0-1zm0 2zm0 2zm1-6zm0 10zm0-9zm0-1zm0-6zm0-1zm1 9zm0-5zm1 0zm0 7zm0-5zm0-2zm0 11zm0-3zm1 4zm0-5zm0 1zm0-2zm0 5zm0 4zm0-6zm1 10zm0-1zm0-4zm1-14zm0 5zm0 5zm1 1zm0-5zm0 9zm0-2zm0 0zm0-4zm1 7zm0-7zm0-2zm0 2zm1 0zm0 3zm0-1zm0 0zm0 1zm1 4zm0 0zm0-4zm1 2zm0-9zm0 4zm0-2zm0 2zm1-1zm0 2zm0 3zm0-3zm0 7zm1-3zm0-6zm0 1zm0 1zm0-1zm1 0zm0-3zm0 3zm1-4zm0 1zm0 3zm0-2zm0 3zm1 1zm0-2zm0 1zm1-1zm0 1zm0-3zm0 1zm0 1zm1-1zm0 4zm0-2zm0-2zm0 5zm0-2zm1-2zm0-1zm0 6zm0-5zm0 7zm0-8zm1-2zm0 3zm0-6zm1 5zm0 3zm0 0zm0 4zm0-5zm1 2zm0 2zm0 1zm0 7zm1-9zm0 13zm1 6zm0-10zm0-4zm0 6zm0-14zm0-2zm1-2zm0-2zm0 3zm0-7zm0 1zm1 10zm0-6zm0 7zm0-8zm1 0zm0 3zm0 2zm0 3zm0-3zm1 3zm0 2zm0 1zm0 5zm0-11zm1 6zm0 9zm0-15zm0 6zm1-7zm0-1zm0 6zm0-10zm0 3zm0-5zm1 10zm0-6zm0-11zm0 13zm0-10zm1 4zm0 18zm0-14zm1 11zm0-9zm0 5zm0-4zm0-1zm1-4zm0 14zm0-5zm1-12zm0 3zm0-3zm0-1zm0 2zm1-8zm0 8zm0-2zm0 0zm0-2zm1-2zm0 4zm0 0zm0 2zm0-2zm1 3zm0-3zm0 5zm0-4zm0 1zm1 0zm0-6zm0 2zm1 2zm0-3zm0 7zm0 2zm0 0zm1 2zm0-1zm0 1zm0-1zm0-2zm1 2zm0 5zm0 0zm0-3zm0-3zm0 3zm0 1zm1-1zm1 0zm0 2zm0-3zm0 0zm0 2zm0-3zm1-2zm0 2zm1-2zm0 4zm0-4zm0 3zm0 2zm0-4zm0 2zm0 1zm1-6zm0 2zm1-1zm0-7zm0 3zm0-5zm1 2zm0 0zm0 1zm0 7zm0-3zm0-9zm1 13zm0 4zm0-2zm1-1zm0 3zm0 1zm0-1zm0 0zm0-3zm0 8zm1-2zm0 4zm1-5zm0-2zm0 4zm0 1zm0-1zm0-7zm1-2zm0-3zm0 6zm1-6zm0 1zm0 2zm0 2zm0-3zm0-1zm1 1zm0-4zm0 3zm1 1zm0-2zm0 2zm0 4zm0-7zm0 10zm1-4zm0 3zm0 3zm0-6zm0 6zm1-10zm0 4zm0 1zm1-6zm0 3zm0 9zm0-5zm0-2zm1-2zm0 4zm0-8zm0 14zm1-11zm0 4zm0-2zm0-3zm0 3zm0-4zm0 3zm1-3zm0 2zm0-7zm1-1zm0 2zm0 1zm0-4zm1 1zm0 2zm0 2zm0 1zm0 0zm0-3zm1 6zm0-1zm0-9zm1 2zm0 5zm0 6zm0-1zm0-6zm0-1zm0 0zm1 4zm0-7zm0 6zm1 8zm0-2zm0 2zm0 3zm1 4zm0 1zm0-17zm0 11zm0-18zm1 14zm0 9zm0-10zm0 5zm0 5zm0-7zm1-6zm0-4zm0 15zm0-8zm0-20zm1 22zm0-3zm1 6zm0-1zm0 1zm0-9zm0 1zm0-1zm0 2zm1 1zm0 1zm0 2zm0-2zm1-1zm0-1zm0 1zm1 4zm0-10zm0 2zm0 0zm0 2zm1 5zm0 3zm0-9zm0 9zm1 0zm0 2zm0-4zm0 4zm0-6zm1 5zm0-3zm0 2zm1 6zm0-5zm0 6zm0-10zm0 2zm0-2zm1 0zm0-2zm0 5zm0-7zm1 5zm0-2zm0 6zm0-13zm0 7zm1 0zm0 6zm1 7zm0-5zm0 14zm0-24zm0 9zm0-1zm1-3zm0-1zm0-1zm0-9zm0 8zm1-2zm0 3zm0-1zm0-5zm0 1zm0 0zm1 1zm0-2zm0 1zm0-2zm1-4zm0 6zm1-1zm0-1zm0-4zm0 3zm0-2zm0 4zm0-3zm0-3zm0 1zm1 0zm0 2zm0-1zm1 1zm0 3zm0 1zm1-4zm0 1zm0 1zm0-1zm0 1zm1-2zm0 1zm0-1zm0-3zm1-5zm0 16zm0-13zm0 8zm0-2zm1-4zm0 2zm0-1zm0-4zm0 8zm0-2zm0 1zm1 1zm0 1zm0-6zm1 6zm0 0zm0-1zm1 3zm0 1zm0-4zm0-5zm0-2zm1 0zm0 2zm0-3zm0 1zm0-1zm1-1zm0 2zm0 2zm1 1zm0-2zm0 0zm0 3zm0 3zm0-1zm0 1zm1-1zm0-1zm0-4zm1 9zm0-10zm0-1zm0 1zm0 1zm1 4zm0-8zm0 4zm1 3zm0 1zm0 1zm0-3zm0 2zm1-2zm0 5zm0 0zm0 0zm0-1zm1-9zm0 8zm0 1zm0 1zm0 2zm0-6zm1-3zm0 3zm0-4zm1-3zm0-3zm0-2zm0 1zm0 0zm1-1zm0 5zm0 0zm0 0zm0-2zm1-1zm0 2zm0 3zm0-2zm1 5zm0 3zm0-3zm0 3zm0-2zm1 1zm0-2zm0-2zm1-1zm0 1zm0-1zm0 7zm0-3zm0-2zm1 2zm0 2zm0-5zm1 3zm0 1zm0-10zm0 7zm0 0zm1-7zm0 8zm0-5zm1 6zm0-6zm0-9zm0 9zm0-5zm0 10zm0-5zm0 1zm1 2zm0-1zm0-1zm1-4zm0-1zm0 6zm0-4zm0 3zm1-2zm0-3zm0 8zm0-6zm1-2zm0 6zm0-1zm0-7zm0-4zm1 6zm0-6zm0 0zm0 4zm1-3zm0 2zm0 1zm0 1zm1-1zm0-1zm0 0zm1 5zm0-3zm0 0zm0 2zm0-9zm0 4zm1-6zm0 3zm0 1zm0 2zm0 3zm0-6zm1-2zm0 4zm0 8zm0-7zm0 8zm1-3zm0-4zm0-1zm1 3zm0 4zm0 0zm0-4zm0-7zm1 10zm0-4zm0 1zm0-5zm1 1zm0 1zm0 5zm0-2zm0 1zm1-5zm0 3zm1-1zm0-4zm0 1zm0 1zm0 1zm0 1zm1-1zm0 4zm0-1zm0-2zm0-2zm1-2zm0 3zm0 1zm0 2zm1-2zm0 1zm0-1zm0 0zm0 6zm0 0zm1-2zm0-2zm0 2zm1-1zm0 0zm0 0zm0 3zm0-2zm0 0zm1-2zm0-3zm0 8zm1-5zm0 2zm0 0zm0-2zm0 2zm1-2zm0 1zm0 2zm0-4zm0 2zm1 0zm0 0zm0 9zm0 1zm0-12zm1 7zm0-10zm0 7zm0 1zm0 3zm1 2zm0-6zm0 4zm1 5zm0-4zm0 1zm1 4zm0-5zm0 8zm0 1zm0-5zm1-3zm0 5zm0-2zm0-6zm0 6zm1-1zm0-2zm0 9zm0-3zm0 0zm1 2zm0 4zm0 0zm0 0zm0 1zm0 0zm1 2zm0-5zm0 10zm1-1zm0-6zm0 1zm0 7zm0 5zm1 6zm0 3zm0-17zm0 5zm0 2zm1-7zm0-9zm0 19zm0 3zm1 1zm0-20zm0-7zm0-14zm1 9zm0 5zm0-2zm0 0zm0 16zm1-3zm0 7zm0 2zm0 4zm0-19zm1 1zm0 0zm0-5zm0 8zm1 6zm0 6zm0 5zm0-6zm1-9zm0 4zm0 4zm0 8zm0 1zm0 11zm0-26zm0 12zm1-13zm0-2zm0 14zm0 2zm2 2zm0 5zm0-2zm0 13zm0-18zm0-12zm0 5zm1 6zm0-2zm0 7zm0 4zm0-2zm1 1zm0 0zm0-6zm0 9zm0-1zm1-8zm0 3zm0-5zm1-4zm0 3zm0 4zm0 0zm0 3zm1 4zm0-5zm0-5zm0 5zm1 2zm0-3zm0 6zm0 2zm1 1zm0 0zm0-2zm0-2zm0 7zm1-7zm0-2zm0 5zm0-2zm1-4zm0 2zm0 3zm0-4zm0 2zm1 2zm0-3zm0 5zm0-1zm0-2zm1 1zm0 1zm0-3zm0 4zm1-3zm0 3zm0-1zm0 5zm0-9zm0 4zm1-3zm0-4zm0 2zm0 3zm1-5zm0-5zm0-6zm0 18zm0-8zm1 2zm0-1zm0 4zm1 4zm0 2zm0 3zm0-5zm0-2zm1-1zm0 4zm0-6zm0-4zm1 0zm0 0zm0 8zm0-4zm0-1zm1-1zm0-8zm0 12zm0-7zm1 14zm0 0zm0 6zm0-6zm1-2zm0-1zm0 0zm0-1zm0 4zm0-9zm1 3zm0-1zm0 0zm1 1zm0 3zm0-3zm0 0zm0 5zm1-2zm0-7zm0 5zm0 1zm0-5zm0 2zm0 7zm1-2zm0-2zm1 3zm0-5zm0 4zm0 2zm0 7zm1-3zm0-4zm0-4zm0 1zm0-3zm0-1zm1-6zm0 13zm0 1zm0-1zm1 7zm0-7zm0 6zm1-5zm0-4zm0 3zm0-1zm0 2zm1-2zm0-3zm0 5zm0-3zm0-2zm0 4zm1 0zm0 0zm0 0zm0 5zm0-3zm1 4zm0 0zm0-4zm1-1zm0 4zm0 3zm0-4zm0 2zm0-8zm1-3zm0 8zm1-6zm0-1zm0 2zm0-2zm0 0zm0 7zm1-9zm0 5zm1 3zm0 2zm0-3zm0 1zm0 5zm0-4zm0 4zm1-6zm0 1zm0-4zm1 2zm0-4zm0-1zm0 3zm0 1zm1-1zm0-4zm0-2zm0-10zm0 13zm0-17zm1 11zm0 0zm0-2zm0 0zm1 4zm0 5zm0 8zm1-1zm0 3zm0-9zm0 0zm0 5zm0-4zm0-3zm1 5zm0 4zm0-2zm1-1zm0 2zm0 1zm0-3zm0 3zm1 0zm0-2zm0 10zm0-2zm1-1zm0 6zm0-12zm0 5zm1-6zm0 0zm0-2zm0 3zm0-5zm0-4zm0 1zm1-2zm0-2zm1 7zm0-2zm0-2zm1 6zm0 3zm0-2zm0 0zm0 0zm0-3zm0 4zm1-4zm0 1zm0 1zm0 1zm1 4zm0-2zm0 1zm0-4zm0 1zm1-3zm0 0zm0-5zm0 8zm0 2zm1-3zm0-6zm0 4zm1 2zm0 4zm0 2zm0-6zm1-7zm0 6zm0-21zm0-3zm0 17zm0-2zm1 3zm0-8z"/>
<path transform="scale(0.5)" stroke="#a41ef2" stroke-width="4.9" d="M119 187zm0 0zm1 0zm0 2zm0-1zm0-1zm0 1zm1-1zm0 2zm0-2zm0 3zm0-2zm1 2zm0 2zm0-4zm1 1zm0 1zm0 3zm0-3zm0 1zm1 0zm0 1zm0-4zm0-2zm0 2zm0 0zm1-1zm0 1zm1 0zm0 3zm0-3zm0 6zm0-4zm1 2zm0 2zm0 0zm0-3zm0 4zm1-4zm0 2zm0 2zm0-2zm1 1zm0 0zm0-2zm0 0zm0 4zm1 0zm0 0zm0-2zm1 1zm0-1zm0 3zm0-2zm0 4zm1-3zm0 1zm0 2zm0 0zm0 0zm0-1zm1 1zm0 0zm0 4zm0-4zm0 5zm1-3zm0-2zm1 0zm0 1zm0 2zm0-2zm0-2zm0 5zm0-3zm1 2zm0 0zm0 1zm0 2zm1 0zm0 0zm0-1zm1 0zm0 1zm0 3zm0-3zm0 2zm0 0zm1 0zm0 2zm0-2zm0 1zm1 1zm0-2zm0 1zm0 0zm0 0zm1 0zm0 0zm0 0zm0 0zm0 5zm1-4zm0 1zm0 3zm0-4zm0 2zm1-5zm0 3zm1 0zm0 0zm0 1zm0 0zm0-2zm0 0zm1 2zm0-4zm0 3zm0-5zm0 1zm0 1zm1 2zm0-2zm1 0zm0-1zm0 1zm0-1zm1 0zm0 0zm0 0zm0 0zm0 0zm1 0zm0-1zm0 1zm0-1zm0 0zm0-1zm1 1zm1-4zm0 2zm0 0zm0-2zm0 1zm0 1zm0-1zm0 0zm1 0zm0 0zm0 1zm0 0zm1 0zm0 1zm0 0zm1 0zm0-1zm0 0zm0 0zm0 4zm0-3zm0-1zm1 1zm0-2zm0 1zm0-1zm1 1zm0-2zm0-1zm0 0zm1-2zm0 2zm0-1zm0 0zm0 0zm1 0zm0 1zm0-1zm0 1zm1-2zm0 1zm0-2zm0 2zm0-1zm1-1zm0 1zm0-2zm0 0zm1 0zm0 1zm0 1zm0 1zm1 0zm0-1zm0-1zm0-1zm1 3zm0 1zm0-1zm0-1zm0 0zm1-2zm0 0zm0-1zm0 1zm0-1zm1 2zm0-3zm0 3zm0-3zm0 1zm1-1zm0-2zm0-1zm0 1zm1 1zm0 3zm0 2zm0-5zm0 2zm0 3zm1-6zm0 2zm0-2zm0 0zm0 2zm1 0zm0-4zm0 0zm1 1zm0 0zm0-1zm0 2zm0-1zm1 4zm0-2zm0 5zm0-2zm1 1zm0-1zm0 0zm0 0zm0 2zm1 1zm0 0zm0 1zm1-7zm0 2zm0 3zm0 1zm0 1zm0-3zm1-2zm0 4zm0 7zm0-2zm1-4zm0-4zm0 3zm0-2zm1 2zm0 1zm0-3zm0-1zm1 7zm0 0zm0 4zm0-6zm0 0zm1 3zm0 2zm0-4zm0 2zm0-3zm1 2zm0-2zm0 2zm0 1zm0-2zm0 0zm1 1zm0-1zm0 2zm1-3zm0 3zm0-1zm0 3zm0-3zm1 5zm0-1zm0 2zm0-1zm1-1zm0-1zm0-2zm0 0zm1-1zm0 1zm0-2zm0 1zm0 0zm1 1zm0 0zm0-3zm0 3zm0 1zm1-3zm0-2zm1 3zm0 0zm0 1zm0 5zm0-7zm0 2zm0 0zm0-1zm0-1zm1 1zm0 1zm0 1zm1-3zm0 4zm0 1zm0-4zm1 0zm0 1zm0 0zm0 2zm1 2zm0-2zm0 1zm0 1zm0 0zm1 1zm0 2zm0-3zm0 0zm1 1zm0-1zm0 1zm0 1zm0-6zm1 6zm0-5zm0 5zm0 1zm1-2zm0-2zm0 8zm0-6zm1 3zm0-6zm0 3zm0 5zm0-10zm0 0zm1 2zm0 6zm1-2zm0 1zm0-3zm0 6zm1 2zm0 2zm0 1zm0-7zm0 6zm0-5zm0 3zm0-12zm1 6zm0 5zm0 5zm0-5zm0 7zm1 1zm0 9zm0-14zm1 12zm0 15zm0-14zm0-1zm0 21zm0-28zm1 51zm0-4zm0-31zm1 19zm0-8zm0 15zm0-19zm1 0zm0-12zm0-3zm0 11zm1-16zm0 3zm0-15zm0 25zm0-17zm1 13zm0 2zm0-10zm0 13zm0-4zm1-8zm0 15zm0-1zm0-15zm1 19zm0-8zm1 3zm0 2zm0 5zm0-1zm0 2zm0 0zm1-3zm0-22zm0-15zm0-11zm0 15zm0 28zm0-23zm1-7zm0 14zm0-10zm0-10zm1 11zm0 28zm0-6zm0 14zm0-15zm1 5zm0-5zm0 3zm0 0zm0-8zm0-7zm1 2zm1 9zm0-8zm0 5zm0 17zm1-6zm0-10zm0 9zm0-8zm0 8zm0-13zm0 6zm1-1zm1 0zm0 10zm0-15zm0 12zm0-7zm0 1zm0 14zm0-4zm0-3zm1 4zm0-2zm0 11zm1-19zm0 9zm0 1zm0-4zm0 8zm1-3zm0-25zm0 10zm0 6zm1-19zm0 5zm0 2zm0 18zm0 25zm1-14zm0-24zm1-15zm0 51zm0-40zm0 14zm0-11zm0 3zm1 27zm0 18zm0-45zm0-24zm1 27zm0 1zm0 1zm0-46zm0 0zm1 33zm0 21zm0-5zm0-53zm0 37zm1-5zm0 25zm0-6zm0 10zm1-1zm0-8zm0-12zm0 16zm0-3zm0 11zm1-23zm0 22zm0-3zm0 17zm1-25zm0-8zm0 10zm0 10zm1 1zm0-21zm0 3zm0-31zm1 35zm0-23zm0 17zm0 0zm0 5zm0 0zm1 3zm0 3zm0 6zm0 3zm0-7zm1 21zm0-42zm0 22zm0-2zm1-13zm0 34zm1-21zm0 17zm0-9zm0 0zm0 27zm0-53zm0 21zm1-17zm0 14zm0-7zm0 26zm1-13zm0-13zm0 22zm0-35zm1 10zm0 10zm0 9zm0-16zm0 12zm1 6zm0-24zm0 4zm0-17zm1 12zm0-25zm0 28zm0 2zm0 11zm1 0zm0-6zm0-7zm0 17zm1-45zm0 16zm0 26zm0-31zm1 26zm0 6zm0 14zm0-14zm0 1zm0 3zm1-17zm0 18zm0-30zm0-2zm1 23zm0-5zm0-1zm0 11zm1-24zm0-9zm0-12zm0 59zm1-24zm0 16zm0-16zm0 6zm0 6zm0-43zm1 67zm0-33zm0 18zm0 1zm0-1zm1-5zm0-5zm0-20zm1 16zm0 9zm0-4zm0-29zm0 33zm1 14zm0-38zm0 45zm0-39zm0 39zm1-35zm0-24zm0 55zm0-22zm0 16zm1-31zm0 0zm0 2zm0 0zm1 4zm0 4zm0-6zm0-1zm1-16zm0 12zm0 11zm0-1zm1-13zm0 1zm0 11zm0-5zm0-28zm1 16zm0 27zm0-44zm0 8zm1-33zm0 38zm0 33zm0-30zm0 9zm1 24zm0-48zm0 21zm0-10zm0 6zm1 9zm0 17zm0-24zm0 12zm0-7zm1 27zm0-3zm0-21zm0 15zm1 29zm0 2zm0 13zm0-19zm0 17zm1 1zm0-17zm0 4zm0-31zm0 12zm1 39zm0-14zm0-50zm1 24zm0-12zm0-18zm0-10zm1 23zm0-10zm0 4zm0 28zm0-17zm1 18zm0-16zm0 10zm0-21zm1 32zm0-22zm0-4zm0 19zm0-2zm0 11zm1 0zm0-8zm0-18zm0 5zm1 13zm0 12zm0-27zm0 2zm1-36zm0 23zm0 14zm0-13zm1-8zm0-8zm0-2zm0 18zm0 19zm1-33zm0 0zm0-4zm0-8zm0 24zm0-12zm1 14zm0-10zm0-7zm0 18zm1 6zm0-32zm0-7zm1 10zm0 14zm0-4zm0-16zm0-3zm0 0zm0 5zm1 1zm0 1zm1-4zm0 3zm0 5zm0 0zm1-9zm0 4zm0-1zm0-1zm0-6zm0 0zm0-2zm1 6zm0-2zm0-2zm0 2zm1 0zm0 1zm0-1zm0 1zm1 0zm0-1zm0 2zm0 0zm0 0zm1-1zm0 1zm0 0zm0 0zm1-4zm0-3zm0 4zm0-1zm0-3zm1 2zm0 3zm0 2zm0 0zm0-4zm1 1zm0 1zm1 0zm0 1zm0 4zm0-5zm0 1zm0 1zm0 3zm0-2zm1-1zm0-1zm0-2zm0 5zm1-5zm0 2zm0-1zm1-3zm0 2zm0-2zm0 0zm1 1zm0 2zm0-3zm0 2zm0-2zm1 6zm0-5zm0 3zm0 1zm0-2zm0 0zm1-2zm0 1zm1-1zm0 2zm0 1zm0-2zm0 0zm1 1zm0-1zm0 1zm0-1zm0-1zm0 1zm1-3zm0 2zm1-3zm0-2zm0-3zm0 4zm0 1zm0 2zm0 3zm0-6zm1 6zm0 0zm0-1zm1-3zm0 0zm0 3zm0-3zm1-2zm0 1zm0 2zm0 2zm0-3zm1-1zm0-4zm0-7zm0 4zm0 2zm1 2zm0-2zm0 2zm1 2zm0 4zm0 5zm0-3zm0 0zm0 2zm0-3zm1-1zm0 3zm1-4zm0-5zm0 1zm0 3zm0-3zm0 0zm1 3zm0-10zm0 10zm0 0zm1-4zm0 16zm0-14zm0-2zm0 6zm1-10zm0 5zm0 1zm0 4zm1-13zm0 6zm0-2zm0 3zm0-1zm0 1zm1 2zm0-5zm0 2zm1-3zm0 3zm0 0zm0-6zm0 9zm0 0zm1-8zm0 5zm1 4zm0-3zm0-6zm0 5zm0 0zm0-1zm1-1zm0-4zm0 3zm0 4zm0-4zm1 6zm0-3zm0 2zm0 2zm0-5zm1 3zm0-2zm0-3zm0 3zm1-2zm0 0zm0 0zm1 1zm0-7zm0 6zm0 1zm0-4zm1 3zm0 4zm0-3zm0 2zm0-1zm1 0zm0 5zm0-6zm0 0zm1 1zm0 1zm0-6zm0 8zm0-4zm0-3zm0 2zm1 2zm0 0zm1 3zm0-1zm0 2zm0-1zm0-2zm1 3zm0-4zm0 0zm0 3zm0-7zm1 2zm0 2zm0-4zm0 2zm1 2zm0 0zm0-3zm0 1zm0-1zm1 2zm0-1zm0 1zm0-2zm1 4zm0-1zm0-1zm0-1zm0-1zm1 0zm0 0zm0 0zm0 0zm0 1zm1 0zm0 0zm0 0zm1-1zm0 1zm0 0zm1 1zm0-1zm0 3zm0 0zm0-7zm0 2zm0-2zm0 2zm1-3zm0 0zm0 2zm1 0zm0-2zm0 2zm1 2zm0-1zm0 2zm0-1zm0-1zm0 1zm1-2zm0 1zm0-5zm1 7zm0-3zm0-4zm0 3zm0-2zm0 11zm1 4zm0-6zm0-1zm0-6zm1 5zm0 8zm0-7zm0-6zm0 2zm1 2zm0 2zm0-8zm0 0zm0 8zm0 5zm1-12zm0-4zm1 0zm0 8zm0-4zm0 1zm1 4zm0-1zm0-2zm0 7zm0 1zm0-1zm1-1zm0-9zm0 7zm0-4zm0 2zm0 0zm1 4zm0 0zm0 0zm1-4zm0 9zm0-5zm1 0zm0-1zm0 0zm0-3zm0 4zm0 2zm0-2zm0-4zm1 1zm0 1zm0 1zm0 1zm0 2zm1-2zm0 0zm0-2zm1 1zm0 1zm0 3zm1-1zm0-3zm0-2zm0 11zm0-8zm1-9zm0 18zm0 1zm0-10zm0 6zm0-3zm1-3zm0 11zm0-8zm0-1zm1-1zm0-6zm0 0zm1 8zm0-5zm0-6zm0 10zm0 0zm1-2zm0 4zm0-1zm0-3zm0-3zm0 8zm1-5zm0-1zm0-1zm1-3zm0 3zm0-2zm0 4zm0-2zm1 6zm0-8zm0 3zm0 2zm0 0zm0-2zm1-1zm0-1zm0 1zm1 6zm0-11zm0 6zm0-3zm0-1zm1 4zm0 1zm0-2zm0-3zm1 4zm0-4zm0 2zm0 2zm1 3zm0-7zm0 3zm0 0zm0-3zm0 4zm1-2zm0 2zm0 2zm0-2zm1 1zm0-1zm0 4zm0-2zm0-2zm1 2zm0 0zm0-2zm0 1zm1 1zm0-4zm0 3zm0-1zm0-4zm0 5zm1-1zm0 1zm1 0zm0 0zm0 1zm0 0zm0-1zm0 1zm1-3zm0 0zm0-1zm0 0zm1 2zm0-1zm0 1zm0 0zm0-2zm1 0zm0 2zm0 0zm0-4zm0 2zm1 0zm0 3zm0-1zm1-1zm0 1zm0-2zm0 6zm0-5zm0 3zm1 1zm0 2zm0-2zm0 0zm1 0zm0-2zm0 2zm0 1zm0 1zm1 0zm0-2zm0 1zm1-1zm0-2zm0 1zm0-1zm0 0zm1 5zm0-1zm0 0zm0 5zm1-11zm0-3zm0-1zm0 4zm0-1zm0-7zm0 8zm1-3zm0-4zm0 10zm0-2zm0 1zm1-2zm0 0zm1-1zm0 0zm1 0zm0-1zm0 3zm0-1zm0-3zm0 0zm0 4zm1-4zm0 1zm0 0zm0 3zm1-2zm0 1zm0 0zm0 0zm1 0zm0 5zm0-3zm0 5zm0-4zm0-1zm1 2zm0-6zm0 1zm0 0zm0 5zm1-2zm0 0zm0-1zm0 2zm0-2zm1 1zm0-2zm1 0zm0 1zm0-1zm0-1zm0 2zm0 0zm0-3zm1 0zm0 3zm1-1zm0 1zm0-3zm0 1zm0-2zm0-2zm0 2zm1 1zm0 4zm1-3zm0 1zm0 0zm0-2zm0 0zm0 4zm0-4zm1 4zm0-1zm1 0zm0 0zm0 0zm0 2zm0-2zm0 4zm0 5zm1 9zm0-12zm0 9zm0-11zm1-4zm0 4zm0-1zm1 0zm0-2zm0 3zm0-7zm0 5zm1 4zm0-11zm0 4zm0-8zm0-9zm1 18zm0-12zm0 6zm0 2zm1 6zm0 1zm0-2zm0-3zm0 0zm0 2zm1-2zm0 1zm0-1zm1-1zm0 1zm0 3zm0-2zm1-1zm0 2zm0-1zm0 1zm1-1zm0-2zm0 1zm0 1zm0-2zm0-2zm1 2zm0 0zm0 5zm0-2zm1-4zm0 1zm0 5zm0-1zm0 6zm1-3zm0-6zm0 5zm0-6zm0 2zm0-4zm1 6zm0-2zm0 3zm1-1zm0 1zm0-4zm0 4zm0-4zm1 0zm0 3zm0-2zm0 2zm0 0zm1 7zm0-4zm0-4zm1 6zm0 0zm0-2zm0 1zm0-4zm1 4zm0-3zm0-2zm0-3zm0 4zm0 2zm1-5zm0 1zm0-2zm0-1zm0 1zm1 3zm0-6zm0 6zm0 1zm1 2zm0-2zm0 1zm0-1zm1 1zm0-2zm1-6zm0 6zm0-3zm0-3zm0 4zm0 1zm0-2zm1 6zm0-7zm0 6zm1-3zm0-1zm0-4zm0 6zm0 0zm1 2zm0-1zm0 1zm0-1zm0-6zm1 4zm0 2zm1-3zm0-4zm0 3zm0 6zm0-5zm0 1zm0 7zm0-4zm1 4zm0-4zm0-9zm1 7zm0-2zm0-2zm0-3zm1 2zm0 4zm0 0zm0-1zm0 0zm0 0zm0-2zm1-1zm0 3zm0 2zm0 0zm1 3zm0 2zm0-3zm1 4zm0-3zm0-2zm0 2zm1 1zm0-4zm0 2zm0 3zm0-3zm0-3zm1 4zm0 3zm0-4zm0 2zm1 3zm0 0zm0-2zm0-2zm1 1zm0 3zm0-6zm0-5zm1 3zm0-1zm0 1zm0-1zm0 0zm1 0zm0-4zm0 3zm0 4zm0-4zm1 7zm0-4zm0-1zm0-2zm0 3zm0 0zm1 2zm0 1zm1 0zm0 2zm0-5zm0-2zm0 8zm0-7zm0 0zm1-1zm1-1zm0 0zm0 4zm0 1zm0-3zm0-3zm0 6zm0-4zm1 2zm0-11zm0 13zm1-5zm0 1zm0-13zm0 20zm0-2zm1 3zm0 2zm0 16zm0 13zm1-22zm0 24zm0-22zm0 9zm0-8zm1 13zm0 0zm0-3zm0 13zm0-20zm1-4zm0 6zm0 2zm0-5zm0-2zm1 7zm0-7zm0-1zm1 7zm0-9zm0 2zm0-2zm0 1zm0 0zm1-1zm0 1zm1-3zm0 3zm0-4zm0 3zm0-1zm0 1zm0-5zm1 1zm0-1zm0-2zm1-2zm0-2zm0 1zm0 2zm0-6zm0 7zm1 2zm0 4zm0-3zm0 1zm1 0zm0-6zm0 6zm0-4zm0 1zm1-7zm0 4zm0 1zm0-1zm1-1zm0 3zm0-1zm0 1zm0-3zm1 2zm0-1zm0 2zm0-6zm1 9zm0-1zm0-4zm0 3zm1 2zm0-4zm0-1zm0 3zm0-3zm1-4zm0-1zm0-1zm0 2zm1-2zm0 0zm0-1zm0-3zm1 12zm0-11zm0 5zm0 3zm1 0zm0 1zm0-4zm0 6zm0-2zm1 4zm0-6zm0 1zm0 4zm0-2zm0 2zm1-1zm0 4zm0-2zm1 2zm0-8zm0 12zm0-10zm0-5zm1 22zm0 3zm0 7zm0 1zm1-16zm0 5zm0 1zm0 1zm0-1zm1 2zm0 4zm0 4zm0 2zm0 3zm1 4zm0-4zm0 0zm0 1zm0-27zm1-2zm0 3zm0 18zm0 11zm0 16zm1-30zm0-6zm0 7zm0 0zm1-10zm0 4zm0-12zm0 7zm1-7zm0-5zm0 0zm1 0zm0 0zm0 7zm0-10zm0 7zm0-6zm0 4zm1 0zm0-7zm0 5zm0-1zm0-2zm1 0zm0-5zm0 9zm0-5zm1 1zm0 0zm0-4zm0 2zm1-2zm0 1zm0-3zm1-5zm0 4zm0 0zm0 2zm1 2zm0 4zm0 2zm0-19zm0 3zm0 0zm1 1zm0 13zm0-3zm0-1zm0 5zm1-16zm0 1zm0 6zm0-12zm1 1zm0-2zm0 5zm0-1zm1 4zm0-4zm0 1zm0 3zm0 2zm1 1zm0-1zm0 1zm0-3zm1 1zm0-2zm0 2zm0 3zm0-4zm0 4zm1 4zm0-6zm0 0zm0-1zm1 1zm0 0zm0-3zm0 3zm0 2zm1-1zm0-4zm0 3zm0-4zm0 2zm1 0zm0 3zm0 0zm0-3zm1 4zm0-2zm0-5zm0 3zm1 0zm0 4zm0-1zm0-1zm1 3zm0-2zm0 1zm0-1zm1 3zm0 0zm0-3zm0 2zm0-1zm0 1zm1-1zm0-1zm0 1zm0-2zm0 4zm1-3zm0 0zm0-1zm0 2zm1 1zm0 1zm1 2zm0-1zm0 1zm0-3zm0-1zm0-1zm0-6zm0 6zm1-3zm0 3zm0 1zm0-1zm1 1zm0-2zm1 0zm0 2zm0 1zm0 0zm0-3zm0-1zm0 2zm1 0zm0 1zm0 1zm0-4zm1 4zm0-1zm0 1zm0 0zm1 0zm0-1zm0 0zm0-1zm1 2zm0-2zm0 0zm0 1zm0-1zm1 3zm0-2zm0 0zm0-1zm1 2zm0-1zm0-1zm0 3zm0-1zm0-1zm0 0zm1-1zm0 0zm1-1zm0 2zm0 0zm1 0zm0 0zm0 0zm0-1zm0 1zm1-2zm0 3zm0-2zm0 3zm0-1zm0 0zm1 0zm0-5zm0 4zm0-10zm0 8zm1 0zm0 1zm0-2zm0 4zm0 0zm1-4zm0 3zm0-4zm0 2zm0 1zm1-2zm0 3zm1-1zm0 4zm0-4zm0 2zm0 1zm1-2zm0-1zm0 2zm0-3zm0-2zm1 1zm0 3zm0-4zm0 4zm0-2zm0 2zm1-3zm0 3zm0 1zm1 4zm0-2zm0 0zm0 1zm0-3zm1-1zm0 4zm0-5zm0 2zm1 1zm0-3zm0 2zm0-2zm0 6zm1-2zm0 2zm0 0zm0-2zm1 0zm0 6zm0 1zm0-6zm0 5zm1-3zm0 2zm0 1zm0-2zm1-3zm0 0zm0 1zm0-1zm1-1zm0 1zm0-1zm0 0zm0-1zm1 4zm0-3zm0 3zm0-3zm1 2zm0 5zm0-5zm0 0zm0 1zm1-1zm0 1zm0 2zm0-3zm0 2zm1-2zm0-1zm0 1zm0-1zm0-1zm1 2zm0 0zm0-1zm1-1zm0 2zm0 2zm0 1zm0-1zm1 0zm0-1zm0 2zm0-1zm0 2zm1-4zm0 2zm0-2zm0-2zm0 1zm0 0zm1 0zm0-1zm0 2zm0-2zm0 0zm1 6zm0-5zm1 0zm0 6zm0-5zm0 4zm0-6zm1 0zm0 3zm0-1zm0 2zm1-7zm0 0zm0 3zm0 5zm1-10zm0 14zm0-12zm0 14zm0-14zm0 15zm1 9zm0 2zm0-7zm0 8zm0-12zm1 6zm0-2zm0 0zm0 5zm1 0zm0 1zm0 4zm0 0zm0-5zm1 3zm0-8zm0-2zm0 10zm1-2zm0 7zm0-10zm0 21zm0-20zm1 14zm0-2zm0 8zm0-4zm0-6zm1 2zm0 5zm0 1zm0-12zm1 10zm0-1zm0 1zm0 1zm0-4zm0 8zm1-1zm0-3zm1 1zm0 9zm0-1zm0-5zm0 3zm1-5zm0 12zm0-15zm0-7zm1 3zm0 3zm0-5zm0 1zm0 2zm1 0zm0-1zm0 4zm0 0zm0-2zm0 3zm1 0zm0 0zm0-1zm0 0zm1-1zm0 2zm0 1zm0-1zm1 0zm0 1zm0-1zm0 3zm1-1zm0-4zm0 3zm0-1zm1 0zm0 2zm0-2zm0 0zm0 1zm1-1zm0-3zm0 2zm0 3zm1 0zm0-7zm0 4zm0-3zm1-3zm0 6zm0-7zm0 15zm0-5zm0-1zm1 21zm0-19zm0 1zm0 3zm1 1zm0-4zm0-2zm0-1zm1-2zm0 7zm0-10zm0 3zm0 0zm0-2zm0 4zm0 2zm1-3zm0 6zm0 1zm0 0zm1-2zm0-4zm1 3zm0-1zm0 15zm1 1zm0-9zm0 2zm0 1zm0-15zm0 20zm0-13zm1-3zm0-1zm0-2zm0 4zm1-8zm0 0zm0-3zm1 3zm0 1zm0 1zm0-5zm0-4zm0 11zm1-4zm0 2zm0-5zm0 3zm1-4zm0-2zm0-3zm0 0zm1-5zm0 9zm0 1zm0-10zm0-6zm1 23zm0-17zm0 7zm0-4zm0 6zm1-1zm0-6zm0 2zm0-3zm0 7zm1-8zm0 5zm0-4zm0 4zm1 0zm0-11zm0 1zm0-3zm1 4zm0 0zm0 2zm0 2zm0-1zm1-7zm0 3zm0 3zm0-4zm0 2zm1 4zm0-2zm0-6zm0-2zm1 7zm0-6zm0 1zm0-3zm0 2zm0-5zm1 0zm0 0zm0-4zm1-4zm0 3zm0 6zm0-5zm0 0zm1 3zm0 3zm0-6zm0 1zm0-1zm1 3zm0-3zm0-3zm0 2zm0 0zm1 1zm0-1zm0 1zm0 0zm0 2zm1-1zm0-2zm0-4zm1 2zm0-5zm0 2zm0-2zm0 3zm1-3zm1 9zm0-2zm0 6zm0-11zm0-2zm0 2zm0-1zm0-1zm1 7zm0-10zm0 10zm1-21zm0 6zm0-1zm0 4zm0-4zm0 3zm1-1zm0 8zm0-8zm0 1zm0-7zm1 6zm0 2zm0 4zm0-2zm0-9zm1 10zm0 2zm0-2zm1-15zm0 9zm0-5zm0 12zm0-10zm0 0zm1 0zm0 0zm1 0zm0 4zm0-2zm0 6zm0-5zm1 7zm0-6zm0-2zm0-4zm0 2zm1 9zm0-6zm0 4zm0 1zm1-3zm0-3zm0 0zm0 3zm0-6zm1-1zm0 7zm0-5zm0 0zm0-1zm1-2zm0-1zm0 2zm1 3zm0-4zm0 1zm0-2zm0 1zm1 7zm0 2zm0 6zm0-5zm0 0zm0-6zm1-1zm0 9zm0-6zm1-2zm0 1zm0 4zm0-2zm1 5zm0-2zm0 4zm0-9zm0 7zm1 0zm0-4zm0 0zm0-2zm0 3zm1 0zm0-1zm0 3zm0 3zm0 1zm1 2zm0-2zm0-1zm1-8zm0 6zm0-3zm0 0zm0 2zm0-2zm1-2zm0 7zm0-5zm1 7zm0-3zm0 3zm0-2zm0 2zm0-2zm0-1zm1 2zm0 0zm0-4zm1 6zm0-2zm0-1zm0 9zm0-9zm1 6zm0 2zm0-3zm0 1zm0 10zm1-8zm0-1zm0 5zm0 17zm1-9zm0 8zm0-12zm0-5zm1 21zm0-9zm0-3zm0 1zm0-4zm1 11zm0-11zm0-3zm1 7zm0 2zm0 1zm0 5zm0-5zm0-2zm0-1zm1-2zm0 1zm0 5zm0 1zm0 7zm1 6zm0-3zm0 3zm1-2zm0 7zm0 0zm0-8zm1 5zm0 4zm0 3zm0-2zm0-18zm0 14zm1-13zm0 22zm0-28zm0 13zm0 0zm1-4zm0 7zm1 5zm0 7zm0-7zm0 12zm0-2zm0-21zm1 6zm0-11zm0 20zm0-12zm1 1zm0-3zm0-3zm0 6zm0 4zm0-8zm1-3zm0 19zm0 4zm1-3zm0-1zm0-1zm0 3zm0 10zm0-8zm1-7zm0 6zm0-5zm1 3zm0 1zm0-7zm0 4zm1-2zm0 0zm0 3zm0-12zm0 5zm0 1zm1 7zm0-2zm0-11zm0-5zm1 11zm0-3zm0 6zm0-1zm0-2zm1 6zm0 1zm0-1zm1-5zm0 9zm0-7zm0-3zm0 0zm0-3zm1 3zm0 10zm0 2zm1-15zm0 5zm0 10zm0-6zm0 1zm0 3zm1 3zm0-15zm0 0zm0 5zm0 3zm1-3zm0-2zm0 2zm0 2zm1-4zm0 7zm0-3zm0 2zm0-4zm1-3zm0 3zm1 7zm0-3zm0 1zm0 0zm0-1zm0 14zm1-18zm0 15zm0 2zm0-10zm0 4zm1 9zm0-4zm0-2zm0-20zm0 4zm0 4zm1 0zm1-8zm0 11zm0 2zm0 27zm0-34zm1 2zm0-1zm0-10zm0 38zm0-16zm0-21zm1 9zm0 4zm0-13zm0-2zm1 5zm0-3zm0 0zm0 5zm0 0zm1 5zm0 2zm0 3zm1-6zm0 2zm0 4zm0 1zm1-4zm0 1zm0-4zm0-9zm1 3zm0 9zm0-14zm0-2zm0 12zm0-2zm0-6zm0-1zm1 1zm0 6zm0 1zm0-4zm1 1zm0 1zm0-5zm1 4zm0-5zm0 2zm0 7zm1 8zm0-5zm0 3zm0-7zm1 13zm0-8zm0-2zm0 3zm0-6zm0 15zm0-16zm1 10zm0-13zm0 15zm0-7zm0-20zm1 9zm0-4zm1 15zm0 2zm0-5zm0 0zm0-9zm0 0zm0 6zm1 4zm0-3zm0 7zm1-8zm0 8zm0-9zm0 3zm1-5zm0 2zm0-2zm0 4zm0 3zm0-3zm0-1zm0 1zm1 4zm0-3zm1 1zm0 1zm0-11zm0 3zm1-3zm0 22zm0-16zm0 18zm0-14zm1 3zm0-2zm0-6zm0 2zm0 6zm1-11zm0 0zm0 11zm0-6zm0 5zm1-1zm0 1zm0-2zm1 0zm0-1zm0 5zm0-3zm0-1zm0 0zm1-2zm0 4zm0 1zm1-3zm0-4zm0-2zm0-12zm1 4zm0 8zm0 25zm0-25zm0 13zm0 3zm1-10zm0 1zm0 2zm0-1zm0 2zm1-4zm0-1zm0 0zm0-3zm0-3zm1 5zm0-2zm0 2zm1-3zm0 4zm0-1zm1-2zm0-1zm0-4zm0-7zm0 1zm0-2zm1 14zm0-10zm0 4zm0-1zm1 5zm0 0zm0 7zm0 2zm0-3zm0-3zm0 7zm1-12zm0 7zm0-1zm1 6zm0-10zm0 1zm0 7zm1-8zm0 2zm0-2zm0 5zm1-1zm0 3zm0-3zm0-2zm0 9zm0-6zm1-4zm0 4zm1-2zm0 2zm0 1zm0-8zm0 10zm0 0zm0-15zm1 5zm0 7zm0-1zm0-9zm0 3zm0 3zm1 5zm0-10zm1 3zm0 3zm0-2zm0-6zm0 6zm0-2zm1-7z"/>
</g>
<g clip-path="url(#c1)" fill="none" stroke-linecap="round">
<path transform="scale(0.5)" stroke="#ff0000" stroke-width="4.9" d="M759 260zm0-11zm0 12zm1-20zm0 3zm0 10zm0-10zm0 22zm0-33zm0 16zm0 18zm1-9zm0-14zm0 1zm0-11zm0-33zm0-12zm1 44zm0 9zm0-38zm0 22zm0 14zm0 8zm0-33zm0 33zm1-32zm0 48zm0-35zm0 44zm0-14zm0 5zm1-18zm0 10zm0 3zm0-1zm0 16zm0-24zm0 22zm0-28zm0-44zm0 64zm0-42zm0 22zm0 23zm1-21zm0 17zm0-11zm0-7zm0-20zm0 16zm1 14zm0-8zm0-29zm0 22zm0-12zm0 12zm0 5zm0 5zm0 2zm1-2zm0-11zm0 5zm0 8zm0-27zm0 21zm0-8zm0 11zm0-16zm0 9zm0 1zm1 3zm0-12zm0 11zm0-3zm0-6zm1-21zm0 14zm0-22zm0 15zm0 17zm1 15zm0-14zm0 3zm0 14zm0 2zm0-14zm0-13zm0 6zm0-5zm0 9zm0-13zm0 0zm0-1zm1 9zm0 25zm0-23zm0-31zm0 20zm1 32zm0-37zm0 26zm0 1zm0 3zm0-17zm0 18zm0-18zm0-43zm0 34zm0 10zm1-5zm0 24zm0-23zm0 21zm0-5zm0-12zm0-1zm0 10zm0 4zm1-9zm0 6zm0-10zm0 12zm0-19zm0 9zm0 9zm0-13zm0 24zm0-16zm1 19zm0-33zm0 15zm0-6zm0-1zm0-10zm0 0zm0 7zm0-2zm1 1zm0-8zm0 16zm0-15zm0 43zm0-30zm0-5zm0-7zm0-20zm0 51zm0-53zm0 40zm0-10zm1 0zm0 1zm0 0zm0 18zm0-12zm0 1zm0-1zm0-7zm1-7zm0 16zm0 2zm0-4zm0 5zm0-4zm1 15zm0-54zm0 30zm0 9zm0-17zm0 44zm0-31zm0 26zm1-4zm0-13zm0-1zm0-8zm0-14zm0 24zm0-10zm0 12zm0 2zm0-4zm1 14zm0 10zm0-54zm0 10zm0 17zm0 26zm1-42zm0-6zm0 21zm0-14zm0 10zm0-12zm0 9zm1-8zm0 29zm0-41zm0 12zm0 33zm0-49zm0 20zm0 16zm0 9zm0-17zm1 23zm0-8zm0 8zm0-13zm0 5zm0-11zm0 8zm1-18zm0-3zm0 20zm0 4zm0-7zm0-106zm0 103zm0 24zm0-97zm1-17zm0 76zm0 38zm0-25zm0-87zm0 84zm0 36zm0-12zm0-99zm0 76zm0 7zm0 17zm1-144zm0 121zm0 10zm0-85zm0 88zm0-1zm0-12zm0-6zm0 23zm0-95zm0 51zm1-56zm0 100zm0-89zm0 81zm0-17zm0-74zm0-4zm0 49zm0-36zm0 80zm0-9zm0-92zm0 82zm0 40zm0-24zm0-21zm0 23zm0-118zm1 101zm0 21zm0-9zm0-119zm0 136zm0 1zm0-13zm0 10zm0 21zm0-138zm0 13zm0-11zm1 18zm0 86zm0-124zm0 92zm0 51zm0-124zm0 78zm0 15zm0 8zm0 0zm0 0zm1 4zm0-44zm0 35zm0-5zm0-5zm0-10zm1 7zm0 7zm0-7zm0 6zm0 10zm1 14zm0-16zm0 9zm0 7zm0-23zm0 37zm0-16zm0 36zm0-9zm1-28zm0-1zm0-28zm0 17zm1 12zm0 6zm0-8zm0-10zm0 12zm1-5zm0-5zm0-5zm0 5zm0-33zm0 23zm0-22zm1 10zm0 24zm0-12zm0 24zm0-23zm0 13zm0-1zm0 3zm0-22zm0 8zm1 22zm0-19zm0 2zm0 8zm0-17zm0 11zm0 10zm0-1zm1-34zm0 53zm0-48zm0 49zm0-32zm0-22zm1 19zm0 20zm0-26zm0 40zm0-37zm0 40zm0-18zm1-6zm0 2zm0-18zm0 13zm0 2zm0-15zm0 9zm0 24zm1-23zm0-16zm0 44zm0-15zm0-34zm0 12zm0 16zm0-18zm0-11zm1 28zm0 38zm0-15zm0-19zm0 19zm0-31zm0-9zm0 21zm0 26zm1-49zm0 22zm0-9zm0-2zm0 8zm1-6zm0 14zm0-26zm0 27zm0-28zm0 30zm0-9zm0-11zm0 20zm1 3zm0-14zm0 4zm0 15zm0-18zm0 2zm0-29zm0 23zm0 7zm0-27zm1-11zm0 32zm0-27zm0 37zm1-34zm0 6zm0 14zm0-15zm0 6zm0-7zm0 8zm0 20zm0-8zm0-16zm1-10zm0 41zm0-23zm0-6zm0 9zm1-30zm0 23zm0-8zm0-12zm0 33zm0 29zm0-37zm0 5zm0 23zm0-30zm0 29zm1-96zm0 76zm0 1zm0 5zm0-3zm0 32zm0-109zm0 61zm1 15zm0 33zm0-6zm0-6zm0-31zm0 49zm0-17zm0 0zm0 14zm0-27zm1 8zm0 16zm0-3zm0-2zm0-6zm0-12zm0 9zm1-38zm0 10zm0-25zm0 41zm0-11zm0 5zm0-7zm0-30zm0 63zm0-15zm1 1zm0-78zm0 66zm0 16zm0-21zm0 19zm0-30zm1 15zm0-21zm0 35zm0-86zm0 80zm0 15zm0-67zm1 83zm0-29zm0-23zm0 19zm0-14zm0 22zm0-1zm0-3zm0 5zm0-21zm1 30zm0-18zm0-27zm0 23zm0-24zm0 46zm0-43zm0-1zm0 14zm1-14zm0 5zm0 18zm0-9zm0-19zm0 18zm1 10zm0-30zm0 14zm0 21zm1-7zm0-5zm0 6zm0 18zm0-11zm0-4zm0 112zm0-63zm0-59zm0 112zm0-93zm0-1zm1 57zm0-47zm0-28zm0 6zm0 14zm0-20zm0 8zm0 73zm1-72zm0-31zm0 7zm0 92zm0 91zm0-149zm0-8zm0-5zm0 6zm0 1zm0 55zm0-65zm0-22zm0 169zm0-75zm1-72zm0 0zm0 78zm0-81zm0-11zm0 18zm0-3zm0 122zm1-127zm0 5zm0 6zm0-1zm0-1zm0 8zm0 121zm0-131zm0 22zm1 100zm0 15zm0-26zm0-108zm0 1zm0 15zm0-21zm0 16zm0 135zm0-151zm0-1zm0 8zm0-28zm0 163zm1-82zm0 98zm0-163zm0 96zm0-107zm0 29zm0 8zm0 54zm0 77zm0-151zm0 128zm1-129zm0 7zm0 8zm0 80zm0-37zm0-89zm0-2zm0 21zm0 0zm0 24zm1-31zm0 18zm0-8zm0 13zm0-22zm0-29zm1 4zm0 8zm0-4zm0 22zm0-111zm0 16zm0 83zm0 7zm0-1zm1 0zm0-2zm0-33zm0-74zm1 93zm0-10zm0-11zm0-52zm0 61zm0 9zm1 1zm0-27zm0 3zm0-7zm0-39zm0 61zm0 49zm0-70zm1-2zm0 79zm0-81zm0 21zm0-8zm0-73zm0 33zm0 71zm1-23zm0 9zm0 45zm1-63zm0-2zm0-41zm0 51zm0 15zm0-22zm0 4zm1 44zm0-40zm0 31zm0-16zm1 0zm0 15zm0-23zm0 28zm0-10zm0-18zm1-3zm0 20zm0 7zm0-15zm1 10zm0-9zm0 8zm0-25zm0-12zm0 5zm0 37zm1-38zm0 24zm0 7zm0-18zm0 8zm1 8zm0 3zm0-12zm0 15zm0-18zm0 5zm0 5zm0-8zm0-20zm0 18zm1 15zm0-19zm0-1zm0 18zm1-24zm0-20zm0 32zm0-28zm0 5zm1-4zm0-3zm0 73zm1-55zm0 4zm0 35zm0-34zm0-35zm0 38zm1-31zm0 44zm0 39zm0-82zm0 17zm0 1zm0-28zm1 60zm0-11zm0-43zm0 45zm0 7zm1-16zm0-1zm0 11zm0-27zm0-14zm0 37zm0 9zm1-44zm0 15zm0 9zm1 4zm0-8zm0 6zm0 20zm1 22zm0-32zm0 0zm0-26zm1 23zm0 33zm0-27zm0-14zm1-7zm0 4zm0-10zm0 73zm0-31zm0-34zm1 2zm0 7zm0 31zm0-43zm0 10zm0 19zm1-25zm0 12zm1-19zm0 27zm1-16zm0-2zm0 29zm0-21zm1 11zm0-19zm0 29zm0-61zm0 102zm0-53zm1-22zm0-12zm0 2zm0 36zm0 23zm0-35zm0 17zm1-56zm0 20zm0 17zm0-39zm0 47zm1-36zm0 45zm0 18zm0-19zm0-23zm0 60zm0-1zm0-57zm0 7zm1 31zm0-34zm0 18zm0 12zm1-41zm0 4zm0-15zm0 55zm0-39zm0 29zm0-1zm0-25zm0-5zm0 1zm1 12zm0-1zm0-4zm0 23zm0 18zm0-19zm0-32zm0 19zm0 2zm0-8zm0-5zm1 5zm0-10zm0 5zm0-17zm0 21zm0 23zm0-19zm0-24zm1 63zm0-27zm0-3zm0 18zm0-14zm1 28zm0 8zm0-64zm0 48zm0-62zm0 43zm0-30zm0 15zm1 20zm0 8zm0-2zm0-15zm0 13zm0-42zm1 1zm0 69zm0-31zm0-42zm0-10zm0-15zm1 11zm0 4zm0 46zm0-18zm0-8zm1 13zm0 1zm0 23zm1-27zm0 23zm0 7zm0 0zm0-19zm0-14zm0-28zm0 17zm1 16zm0 2zm0 16zm0-9zm0-2zm0 22zm0-44zm1 32zm0-33zm0-4zm0 18zm0 14zm0-14zm0-14zm0 3zm0 15zm0-38zm0 56zm1-13zm0-18zm0 18zm0-27zm0 27zm0 2zm0-8zm0-13zm0 45zm0-5zm0-21zm1-23zm0 34zm0-38zm0 16zm0-12zm0 16zm0-26zm0 22zm0-39zm0 49zm0-14zm0-16zm0 9zm0-2zm0-11zm1 15zm0 15zm0-22zm0-5zm0-18zm0 52zm0-18zm0 2zm0-9zm0 21zm0 20zm1-46zm0 9zm0 15zm0-16zm0-3zm0 10zm0 34zm0-48zm0 9zm0 24zm0-4zm0 8zm0 3zm1-4zm0-1zm0-10zm0 12zm0-33zm0-3zm0 19zm0-24zm0 4zm1 1zm0-16zm0 27zm0 22zm0-30zm0 8zm0-8zm0 6zm0-17zm0 35zm0-50zm0 36zm0 8zm1-14zm0-18zm0 49zm0-43zm0-5zm0 34zm0-19zm0 9zm0-1zm0 22zm0-20zm1 20zm0 6zm0-34zm0 19zm0-8zm0 5zm0-9zm0 3zm0-40zm0 22zm0 6zm1 0zm0 7zm0 4zm0-15zm0 7zm0-26zm0 27zm0 21zm0-26zm0 19zm0-20zm0 29zm0-15zm0-2zm1-48zm0 47zm0 1zm0 19zm0-3zm0-8zm0-2zm0-2zm0 5zm0-23zm1 32zm0-32zm0-29zm0 52zm0 10zm0-20zm0 17zm0-18zm0 0zm0-32zm0-35zm0 33zm0-22zm1 70zm0-51zm0 35zm0-37zm0-14zm0 14zm0 71zm0-47zm0-21zm0 30zm0 55zm0-11zm0-69zm0-1zm0-8zm0 12zm0 20zm1 15zm0-21zm0 30zm0-46zm0 69zm0-70zm0 71zm0-72zm0 65zm0-20zm0-19zm0-54zm1 17zm0 21zm0 32zm0-28zm0 6zm0-5zm0 66zm0-26zm0 7zm0-34zm0-21zm0 23zm0 0zm0 31zm0-45zm1-19zm0 14zm0-38zm0 47zm0-8zm0 4zm0-9zm0 14zm0-55zm0 46zm0 7zm0 11zm0-4zm0 16zm0-15zm0-20zm0-46zm0 83zm1 8zm0-14zm0 7zm0-8zm0-22zm0 25zm0 10zm0-1zm0-16zm0 15zm0 3zm0-17zm1-26zm0 7zm0 6zm0-4zm0 26zm0-10zm0-86zm0 94zm0-16zm0-6zm0 17zm0 0zm0-7zm0 4zm0-5zm0 2zm1 1zm0-3zm0 13zm0-20zm0 23zm0 4zm0-11zm0 2zm0-4zm0-4zm0-6zm1 0zm0-26zm0 21zm0-16zm0 31zm0-12zm0 25zm0-10zm0 7zm0 13zm0-33zm0 13zm1-22zm0 7zm0-4zm0-2zm0-11zm0 20zm0-11zm0 1zm0 20zm0-22zm0 32zm0-29zm0-5zm0 10zm0 0zm0 6zm1 9zm0-8zm0 8zm0 1zm0-18zm0 0zm0-6zm0 27zm0-25zm0-12zm0 48zm0 6zm0-17zm0 11zm1-22zm0 5zm0-1zm0-13zm0 31zm0-15zm0-6zm0-15zm0 6zm0 8zm0 5zm0-20zm0-20zm0 58zm0-36zm0-12zm1 31zm0-18zm0 14zm0-17zm0-19zm0 35zm0 9zm0-15zm0-4zm1 4zm0-12zm0-73zm0 75zm0-9zm0 11zm0 0zm0 38zm0-35zm0-53zm0 80zm1-47zm0 64zm0-48zm0 11zm0-40zm0-23zm0-22zm0 85zm0-28zm0 41zm0 4zm0 8zm0-52zm0 49zm0 23zm0-53zm1 40zm0-113zm0 78zm0 33zm0 2zm0-27zm0-18zm0 41zm0-49zm0 2zm0 78zm0-101zm1 33zm0-5zm0 11zm0-17zm0 26zm0 2zm0 29zm0-26zm0 0zm0 5zm0 16zm0-135zm0 82zm0 27zm0 120zm0-104zm0-47zm0 6zm0-12zm0 45zm0 51zm0-45zm1-24zm0-1zm0-11zm0 44zm0-41zm0 25zm0 115zm0-101zm0 13zm0-34zm0 27zm1-44zm0 20zm0-15zm0-7zm0 9zm0 10zm0-5zm0 6zm0-11zm0 4zm0-5zm0 68zm0-22zm0-43zm0 23zm0 52zm1-52zm0-6zm0 3zm0-19zm0 19zm0-10zm0 1zm0-6zm0 4zm0 27zm1-21zm0 29zm0-9zm0-20zm0-24zm0-1zm0 27zm0-24zm0 11zm0-5zm0 8zm0 7zm0 3zm0-15zm0-6zm0 20zm0-9zm0-15zm1 12zm0-1zm0 6zm0 30zm0-23zm0 6zm0-18zm0 26zm0 0zm0-17zm0 3zm0-2zm0-7zm1-11zm0 39zm0-32zm0 61zm0-50zm0 83zm0-87zm0 22zm0 62zm0-115zm0 20zm0 10zm1-43zm0 9zm0 24zm0-16zm0 10zm0 17zm0 27zm0-25zm0 9zm0-6zm1-6zm0-1zm0-6zm0 10zm0-20zm0 32zm0-30zm0 20zm0-17zm0 7zm0 27zm0-33zm0-7zm0 48zm1-20zm0-8zm0 1zm0-15zm0 31zm0 12zm0-26zm0-5zm0 37zm0-4zm0-8zm0-13zm1 18zm0-35zm0-1zm0 43zm0-29zm0 17zm0-3zm0 14zm0-17zm1 17zm0-19zm0-17zm0 24zm0-27zm0 7zm0 9zm0-54zm0 40zm0-32zm0 52zm0-44zm0 21zm0-23zm0 10zm1 28zm0-1zm0-33zm0 63zm0-23zm0 3zm0-1zm0-43zm0 31zm0-6zm1 8zm0-13zm0 26zm0 17zm0-32zm0 10zm0-5zm0 28zm0-2zm0-18zm1 20zm0-23zm0-1zm0-24zm0 17zm0-9zm0 16zm0-41zm0 23zm0 27zm0-37zm0 22zm0-5zm0-18zm1 43zm0-61zm0 4zm0-9zm0 46zm0-32zm0-15zm0 50zm0-5zm0-12zm0-20zm0 1zm0-8zm1-7zm0 61zm0-48zm0 59zm0-20zm0-8zm0 33zm0-36zm0 7zm0 16zm0-34zm0 27zm1 18zm0-26zm0-15zm0 30zm0 2zm0 11zm0 13zm0-25zm0-47zm0 48zm0-11zm0-19zm0 23zm1-14zm0 3zm0 10zm0 10zm0 9zm0-35zm0-11zm0 39zm0 10zm0-27zm0 11zm0 21zm0-22zm0 10zm0-8zm0 3zm0 21zm0-24zm0-11zm1 36zm0-17zm0-17zm0 5zm0-8zm0 6zm0-4zm0 18zm0-17zm0 10zm0-14zm0 18zm0-15zm0-2zm0 5zm0-9zm0-1zm0-19zm1 30zm0-3zm0 6zm0-9zm0-14zm0 5zm0 2zm0 14zm0-13zm0 14zm0 5zm0-25zm0 8zm0-8zm0-4zm1 0zm0 37zm0-22zm0-1zm0 14zm0-24zm0 29zm0-28zm0 7zm0 23zm0-16zm0-3zm0 10zm0-23zm0 19zm0 21zm1-9zm0-30zm0 11zm0-2zm0 31zm0-19zm0 13zm0-16zm0 5zm0-4zm0-8zm0 1zm0 9zm0-2zm0 0zm0-1zm1 9zm0-17zm0 11zm0-1zm0-5zm0 4zm0 5zm0-2zm0 8zm0-21zm0 17zm0-12zm0 11zm0-17zm0 6zm0 12zm0-15zm0-4zm0 16zm0-23zm0 9zm0 6zm0-1zm1 1zm0-3zm0 12zm0 11zm0-13zm0 5zm0-5zm0-24zm0 11zm0 4zm0 3zm0-9zm0 3zm1 5zm0 17zm0 4zm0-13zm0 6zm0-17zm0 13zm0-4zm0-13zm0 16zm0 2zm0 1zm0-5zm0-6zm0 9zm0 3zm0-12zm0-3zm0 5zm1 13zm0 11zm0-13zm0-8zm0 8zm0 8zm0-24zm0 23zm0-20zm0 16zm0-15zm0 17zm1 2zm0 0zm0-21zm0 4zm0-7zm0 24zm0 7zm0-19zm0 9zm0-16zm0 1zm0 20zm0-16zm0-1zm0 4zm0-6zm0 8zm0-8zm0-7zm0 14zm1-3zm0 0zm0-10zm0-6zm0 10zm0-8zm0 18zm0 5zm0 8zm0-8zm0-4zm0 2zm0-11zm0 4zm0-12zm0 0zm1 25zm0-10zm0-3zm0-3zm0-2zm0-2zm0 4zm0-1zm0 9zm0-3zm0 2zm0 4zm0-6zm0-7zm0 12zm0-6zm0-4zm0-13zm0 16zm0-5zm0 12zm1-10zm0-7zm0 13zm0-4zm0-4zm0 6zm0 2zm0-9zm0 10zm0-9zm0 6zm0-11zm0 17zm0-3zm0-5zm0-1zm0-3zm0 4zm0-21zm1 3zm0 19zm0-2zm0-15zm0 8zm0 19zm0-17zm0-8zm0 13zm0-18zm0 27zm0-2zm0-15zm1 12zm0-2zm0-3zm0 8zm0 5zm0 2zm0-13zm0-11zm0 32zm0-1zm0-20zm0-11zm0 5zm0-8zm0 21zm0-7zm0 4zm0-3zm0 2zm1 4zm0-14zm0-14zm0 24zm0 7zm0-15zm0 20zm0-13zm0-1zm0-9zm0 2zm0 17zm0-14zm0 11zm0-11zm0 6zm0-2zm0-24zm1 14zm0 6zm0-1zm0 7zm0-15zm0-1zm0 13zm0-11zm0 8zm0 10zm0-1zm0 3zm0-17zm0 3zm0-12zm0 21zm0-20zm0 7zm0 9zm0-7zm0 9zm1 10zm0-9zm0 2zm0-11zm0 15zm0-13zm0 4zm0-1zm0 25zm0-9zm0-3zm0-1zm0 8zm0-26zm0 18zm0-6zm0 4zm0 5zm0-13zm1 21zm0-33zm0 18zm0 7zm0-12zm0 12zm0 5zm0-28zm0 17zm1-15zm0 21zm0 7zm0-11zm0-1zm0-11zm0 20zm0-19zm0 21zm0-36zm0 4zm0 12zm0 0zm0-17zm0 18zm0-7zm0 9zm0-19zm1 15zm0 11zm0-13zm0-7zm0 14zm0-5zm0-7zm0 23zm0-20zm0-2zm0 2zm0 19zm0-11zm0-8zm0-13zm0 10zm0 4zm0-2zm0-4zm1 21zm0-15zm0-4zm0-1zm0 13zm0-4zm0 7zm0-8zm0 6zm0-1zm0-5zm0 18zm1-22zm0 12zm0-11zm0 4zm0 0zm0 4zm0-12zm0 16zm0-13zm0-6zm0 13zm0 3zm0 9zm0-7zm0 3zm0-18zm0 17zm0-17zm0 1zm0-12zm0 7zm0 15zm1-18zm0 18zm0-5zm0-3zm0-2zm0 28zm0-10zm0-18zm0 14zm0-4zm0-9zm0 25zm0 0zm0-8zm0-8zm0 5zm0-7zm1 7zm0 11zm0-19zm0 10zm0-17zm0 21zm0-14zm0 7zm0-2zm0 10zm0-5zm0-4zm0 0zm0-8zm0-10zm0 14zm0-4zm0-7zm0 32zm1-15zm0-1zm0-6zm0-13zm0 24zm0-6zm0-6zm0-3zm0 3zm0-14zm0 8zm0 11zm0-11zm0 10zm0-15zm0-3zm0 18zm0-7zm1 3zm0-18zm0 11zm0 10zm0-10zm0 2zm0 14zm0-20zm0 19zm0-19zm0 7zm0-2zm0 4zm0 8zm0-12zm0 10zm0-1zm1 4zm0-6zm0-5zm0 3zm0 1zm0 3zm0-12zm0 18zm0-10zm0-5zm0 8zm0-16zm0 14zm0 5zm0-8zm0 19zm0-9zm0 0zm0-5zm1-1zm0 0zm0 13zm0-11zm0-1zm0-4zm0 0zm0 14zm0-7zm0-2zm0 5zm0-12zm0 2zm0-5zm0 15zm0-16zm0 16zm0-9zm1 0zm0 1zm0 6zm0-9zm0-6zm0 3zm0 8zm0 4zm0-16zm0 2zm0 15zm0 12zm0-22zm0-9zm0 32zm0-12zm0-6zm1-1zm0 1zm0-2zm0 4zm0 18zm0-24zm0-4zm0 22zm0-29zm0 14zm0 5zm0-15zm0-5zm0 22zm0-28zm0 19zm0-4zm0 16zm0-25zm1 28zm0-13zm0 11zm0-8zm0 5zm0 1zm0 8zm0-5zm0-3zm0 0zm0-15zm0 4zm0-21zm0 23zm0-6zm0-7zm0 16zm1-4zm0 9zm0-21zm0 5zm0 20zm0-13zm0-1zm0 26zm0-34zm0 20zm0-14zm0-5zm0 22zm0-18zm0 15zm0-7zm0 1zm1 10zm0-30zm0 23zm0-28zm0 28zm0 14zm0-36zm0 8zm0 20zm0-7zm0-2zm0 5zm0 4zm0-26zm0 14zm1-8zm0 6zm0-5zm0 10zm0-2zm0 7zm0-27zm0 42zm0-30zm0-4zm0 4zm0 20zm0-12zm0-10zm0 22zm0-8zm0-9zm0 6zm0 2zm0-4zm1 5zm0-3zm0 6zm0 11zm0-17zm0 7zm0 6zm0-7zm0-4zm0-3zm0 1zm0 13zm0-12zm0-2zm0-5zm0 12zm1-8zm0 1zm0 0zm0 6zm0-18zm0 12zm0-10zm0 3zm0 1zm0-5zm0 2zm0 9zm0 3zm0-3zm0-7zm0-5zm0 14zm1-8zm0 5zm0-10zm0 11zm0-3zm0-3zm0 8zm0-10zm0 14zm0-12zm0 8zm0-5zm0-5zm0-1zm0 10zm0-1zm0 6zm1 12zm0-36zm0 21zm0-24zm0 27zm0-6zm0 0zm0 4zm0 2zm0-10zm0 16zm0-12zm0 6zm0 4zm0-3zm0-7zm0-8zm0 9zm0-1zm0-13zm0 20zm0 1zm1 5zm0-3zm0-25zm0 17zm0-12zm0 17zm0-24zm0 32zm0-19zm0-2zm0 12zm0-6zm0-11zm0-3zm1-2zm0-2zm0 26zm0-10zm0-8zm0 13zm0-12zm0 14zm0-15zm0 8zm0 2zm0 7zm0-22zm0 11zm0 19zm0-17zm0 5zm0-18zm0 15zm0-1zm0 15zm0 1zm1-11zm0-1zm0-5zm0 11zm0-7zm0-11zm0 7zm0 9zm0-10zm0 4zm0-13zm0 9zm0 3zm0 2zm0-10zm0 14zm0-6zm1 7zm0-8zm0 4zm0-6zm0 7zm0-12zm0 11zm0-10zm0 0zm0 10zm0-7zm0-5zm0 3zm0-14zm0 14zm0 0zm0-3zm1-6zm0 8zm0 2zm0-11zm0 13zm0 5zm0 0zm0-12zm0 12zm0-12zm0 6zm0-8zm0-4zm0-5zm0 25zm0-14zm0 12zm0-16zm0 10zm0 3zm1-3zm0 5zm0-21zm0 18zm0-9zm0 10zm0 17zm0-26zm0 3zm0 11zm0-6zm0-21zm0 5zm0 12zm0-5zm0 11zm1-11zm0 8zm0 6zm0-9zm0-2zm0 0zm0-10zm0 23zm0 4zm0-31zm0 28zm0-21zm0 14zm0 2zm0-5zm0 1zm0 17zm0-17zm0 6zm1 5zm0-7zm0-11zm0 15zm0 5zm0-11zm0 1zm0 4zm0-2zm0 7zm0-9zm0-2zm0 0zm0-3zm0 9zm0-8zm0 2zm0 11zm1-19zm0 12zm0-3zm0-1zm0 7zm0-4zm0-1zm0 0zm0-4zm0 2zm0 11zm0-2zm0-6zm0-7zm0 14zm0-2zm0-15zm1-15zm0 29zm0-17zm0 23zm0-15zm0 4zm0 10zm0-9zm0-3zm0-6zm0-4zm0 0zm0 18zm0 1zm0-19zm0 11zm0-19zm1 26zm0-7zm0 3zm0-5zm0-8zm0 14zm0 1zm0-13zm0 19zm0-5zm0 1zm0-14zm0 24zm0-18zm0-9zm0 9zm0 8zm0-6zm0 12zm0-1zm0-3zm1 6zm0-20zm0 21zm0-14zm0-23zm0 36zm0-13zm0 2zm0-12zm0 8zm0-1zm0 0zm0-3zm0-13zm0-4zm0 13zm0 5zm1 6zm0-14zm0 9zm0-5zm0 7zm0-12zm0 0zm0 5zm0 2zm0 2zm0 5zm0 9zm0-28zm0 14zm0-6zm0 20zm0-22zm0 6zm0 4zm0 3zm1 1zm0-1zm0 0zm0-5zm0 0zm0 4zm0-9zm0 5zm0 9zm0-6zm0 0zm0-1zm1-2zm0-6zm0 1zm0 5zm0-7zm0 8zm0-1zm0 4zm0-12zm0 3zm0 5zm0 4zm0-6zm0-16zm0 13zm0 5zm0 7zm0-7zm0-12zm1 7zm0 2zm0 3zm0-4zm0 5zm0 5zm0-2zm0-9zm0 0zm0 13zm0-6zm0 3zm0-1zm0 0zm0-14zm0 9zm0-11zm0 15zm1-18zm0 15zm0 10zm0 5zm0-22zm0 13zm0 1zm0-3zm0-4zm0 4zm0 5zm0-7zm0 3zm0 1zm0 3zm0-23zm0 24zm0 2zm0-9zm0-6zm1-15zm0 19zm0-4zm0 6zm0 10zm0-10zm0 4zm0 3zm0-1zm0-11zm0 0zm0 11zm0-1zm0 2zm0-5zm0 8zm0-15zm1 3zm0 2zm0-1zm0 3zm0-4zm0 14zm0-12zm0-2zm0-1zm0-3zm0 17zm0-16zm0 9zm0 3zm0-6zm0-7zm0 24zm0-1zm0-24zm0 14zm1 0zm0 1zm0 5zm0-2zm0-8zm0 15zm0-13zm0 1zm0 7zm0-4zm0-13zm0 16zm0-7zm0 8zm0 3zm1-27zm0 13zm0 8zm0-9zm0-6zm0 20zm0-20zm0 12zm0-12zm0-8zm0 19zm0-8zm0 10zm0-10zm0-1zm0 8zm0-8zm0 4zm0-7zm0 2zm0 2zm1-21zm0 35zm0-15zm0-4zm0-2zm0 8zm0-1zm0 9zm0 3zm0-16zm0 8zm0-13zm0 15zm0 3zm1 2zm0-15zm0-5zm0 18zm0-18zm0 12zm0-5zm0 16zm0-23zm0-3zm0 18zm0-6zm0 10zm0-12zm0 7zm0 2zm0-7zm1-2zm0-1zm0-3zm0 4zm0-1zm0 12zm0-4zm0-6zm0 8zm0-2zm0 0zm0-8zm0-3zm0 9zm0-7zm0 13zm0-12zm0 2zm0 13zm0-3zm0-7zm0 1zm0-9zm1 1zm0 8zm0-10zm0-3zm0 8zm0 6zm0-6zm0 6zm0-4zm0 7zm0-8zm0 3zm0-19zm0 10zm1 11zm0 6zm0-23zm0 19zm0-5zm0-17zm0-1zm0 22zm0 0zm0-3zm0-9zm0 13zm0 4zm0-21zm0 33zm0-21zm0 2zm0 1zm1 3zm0 0zm0 1zm0 0zm0-23zm0 20zm0 10zm0 2zm0-7zm0 16zm0-10zm0-16zm0 0zm0 27zm0-3zm0-14zm0-6zm0 9zm0 0zm1-4zm0-7zm0 18zm0-11zm0-6zm0 5zm0 12zm0-4zm0-15zm0 13zm0-11zm0 23zm0-14zm0 8zm0-7zm0 3zm0-15zm0 19zm0-24zm1 15zm0 9zm0-18zm0 14zm0-15zm0-3zm0 0zm0-3zm0 4zm0 0zm0 5zm0-18zm0 12zm0-4zm0-1zm0 3zm1 13zm0-10zm0-7zm0 12zm0-19zm0 38zm0-24zm0 6zm0 1zm0-17zm0 22zm0-24zm0 19zm0 9zm0-11zm0-4zm1 2zm0 13zm0 1zm0-14zm0-10zm0 5zm0 6zm0 10zm0-18zm0 0zm0 9zm0-13zm0 9zm0-19zm0 20zm0 10zm0 9zm0-7zm1-14zm0 6zm0-2zm0 8zm0-5zm0 3zm0 4zm0-19zm0 17zm0-4zm0 0zm0 0zm0-2zm0 7zm0-9zm0 12zm0-12zm0-16zm0-1zm1 35zm0-7zm0-12zm0 0zm0-2zm0-11zm0 26zm0 4zm0-26zm0 2zm0 11zm0-6zm0-4zm0 0zm0 14zm0-11zm0-6zm0-2zm0-13zm0 15zm0 11zm1-7zm0-8zm0 1zm0 11zm0 1zm0-5zm0 26zm0-13zm0-1zm0 3zm0 11zm1-15zm0 3zm0-2zm0 1zm0-6zm0 3zm0 6zm0 6zm0-6zm0-3zm0-4zm0 15zm0 6zm0-21zm0 10zm0-11zm0-6zm0 19zm1-15zm0-11zm0 9zm0 3zm0 1zm0-4zm0 0zm0 7zm0 0zm0-1zm0-2zm0-5zm0-5zm0 18zm0 5zm0-8zm0 8zm0-4zm0-10zm0 16zm0-22zm1-2zm0-5zm0 17zm0 1zm0-1zm0 6zm0-11zm0 1zm0 8zm0 13zm0-7zm0-2zm0-21zm0 7zm0 8zm0-8zm0 13zm1-19zm0 30zm0-24zm0 18zm0 5zm0-20zm0 11zm0-6zm0 2zm0-21zm0 2zm0 17zm0 18zm0-21zm0-13zm0 9zm0-16zm1 17zm0-19zm0-5zm0 14zm0 2zm0 6zm0-13zm0 14zm0-4zm0-15zm0 33zm0-23zm0 22zm0-26zm0 2zm0 3zm0 19zm1-17zm0 2zm0-10zm0 9zm0 16zm0-13zm0-13zm0 28zm0-5zm0-6zm0-1zm0 21zm0-12zm0 0zm0 7zm0-14zm0 1zm0-9zm1 14zm0-1zm0 0zm0-1zm0-5zm0-14zm0 8zm0-8zm0 9zm0 1zm0 6zm0-9zm0 14zm0-14zm0 7zm0-12zm0 4zm1-2zm0-6zm0 8zm0-1zm0 17zm0-13zm0-2zm0 54zm0-50zm0 5zm0-8zm0-3zm0 15zm0-9zm0 3zm0 8zm0-3zm0 14zm0-25zm0 2zm1 1zm0 9zm0-8zm0 9zm0-7zm0 0zm0 0zm0 9zm0-16zm0 6zm0 8zm0 9zm0-26zm0 12zm0-9zm0 9zm0-14zm1-2zm0 18zm0-12zm0 19zm0-28zm0 19zm0-10zm0-9zm0 12zm0 0zm0-7zm0 11zm0 12zm0-3zm0-26zm1 22zm0-13zm0 13zm0 10zm0-4zm0-7zm0-4zm0-8zm0 9zm0-8zm0 9zm0-4zm0-5zm0 0zm0-7zm0 6zm0 7zm0-3zm0-10zm0 10zm1 6zm0-9zm0 10zm0-9zm0 4zm0-2zm0-7zm0 3zm0 12zm0 7zm0-7zm0-12zm0 1zm0 5zm0-1zm0-2zm0 9zm0 4zm0-6zm0-8zm1-3zm0 1zm0 6zm0-4zm0 8zm0 5zm0-2zm0-8zm0 16zm0-13zm0-12zm0 14zm0 2zm0-20zm0 24zm0-24zm1 10zm0 1zm0-1zm0 5zm0-1zm0 11zm0-8zm0-7zm0 1zm0 6zm0-3zm0 2zm0-9zm0-5zm0 6zm0-11zm0 11zm0-12zm0 25zm0-18zm0 21zm0-19zm0 6zm1 6zm0 0zm0-2zm0 0zm0-17zm0 14zm0-10zm0 16zm0 7zm0-6zm0 5zm0-13zm0 4zm0 2zm0 4zm0 0zm1-9zm0-4zm0-8zm0 20zm0 8zm0-17zm0 0zm0-11zm0 11zm0 7zm0 1zm0 8zm0-1zm0-9zm0-10zm0 13zm0 8zm0-10zm0-8zm1 7zm0-2zm0-2zm0 2zm0 10zm0-8zm0 3zm0 12zm0-6zm0-2zm0-18zm0 19zm0-2zm0 0zm0-5zm0-1zm0-8zm1 26zm0-20zm0 3zm0 6zm0-4zm0 0zm0-8zm0 13zm0-11zm0 8zm0-17zm0 11zm0-2zm0 6zm0-4zm0-2zm0 2zm0-3zm1-2zm0 6zm0 3zm0-6zm0 2zm0-11zm0 1zm0 19zm0-13zm0 0zm0 7zm0-14zm0 9zm0-3zm0-1zm0-3zm0 7zm0-13zm0 23zm1-14zm0 0zm0 13zm0-10zm0 9zm0-13zm0-2zm0 10zm0-18zm0 19zm0-3zm0-8zm0 11zm0 8zm0-22zm1 26zm0-10zm0 11zm0-1zm0-13zm0-4zm0-13zm0 14zm0-16zm0 15zm0 19zm0-22zm0 11zm0-2zm0 4zm0-17zm0 9zm0 0zm0 10zm0-13zm0-6zm1 11zm0 6zm0-8zm0 2zm0-7zm0 8zm0 13zm0-25zm0 1zm0 1zm0 1zm0 3zm0 6zm0-12zm0 13zm0-6zm1-5zm0 1zm0 5zm0-4zm0 0zm0 2zm0-13zm0 6zm0 2zm0-2zm0-4zm0 6zm0 2zm0-13zm0 30zm0-10zm0-1zm0-9zm0 11zm0-16zm0 24zm1-19zm0 4zm0 20zm0-35zm0 3zm0 14zm0 1zm0 5zm0-6zm0-4zm0 7zm0 4zm0-12zm0 6zm0 8zm0-20zm0 10zm1-3zm0-10zm0 13zm0-8zm0 20zm0-19zm0 1zm0 3zm0 4zm0 8zm0-3zm0 2zm0-2zm0-5zm1-9zm0 18zm0-9zm0-7zm0-3zm0 11zm0 3zm0-2zm0-2zm0 5zm0-3zm0 0zm0 4zm0-7zm0 3zm0 12zm0-18zm0 7zm0-1zm1-1zm0-7zm0 1zm0 17zm0-14zm0 2zm0 1zm0 2zm0 9zm0-20zm0 6zm0-9zm0 4zm0 1zm0 6zm0 12zm0-9zm0-9zm1-1zm0 8zm0 8zm0 4zm0-15zm0 0zm0 18zm0-9zm0-3zm0-7zm0 11zm0-12zm0 13zm0-5zm0-5zm0-1zm1 15zm0-9zm0-2zm0-7zm0 4zm0 7zm0-14zm0 4zm0 9zm0-17zm0 20zm0-9zm0-1zm0 21zm0-17zm0 4zm0 6zm0-25zm0 18zm0-11zm0 20zm0-4zm1-4zm0-5zm0-9zm0 6zm0-3zm0-2zm0 18zm0-4zm0-23zm0 26zm0 5zm0-16zm0 6zm0-14zm0 11zm0-5zm1-7zm0 17zm0-22zm0 3zm0 3zm0 6zm0 4zm0 8zm0-12zm0 0zm0-10zm0 31zm0-15zm0-12zm0-1zm0 33zm0-17zm1 6zm0-15zm0-10zm0 24zm0 4zm0-27zm0 1zm0 21zm0-2zm0-11zm0 2zm0-2zm0 7zm0 1zm0 2zm0-8zm0-6zm0 25zm0-6zm0-10zm1-3zm0 18zm0-6zm0-2zm0-1zm0 5zm0-2zm0-13zm0 6zm0 0zm0 10zm0-7zm0 16zm0-18zm0 8zm0-2zm0-5zm0 11zm1-7zm0-4zm0-28zm0 31zm0 1zm0-4zm0-17zm0 24zm0-10zm0 2zm0-18zm0 3zm0 8zm0 22zm0-1zm1-29zm0-6zm0 35zm0-37zm0 34zm0-5zm0-5zm0 16zm0-18zm0-6zm0 4zm0 5zm0-2zm0 3zm0 10zm0-3zm0-18zm0 9zm0 16zm0-17zm1-3zm0-10zm0 4zm0-4zm0 30zm0-11zm0 1zm0-15zm0 14zm0-11zm0-8zm0 4zm0 4zm0 1zm0-6zm0 8zm0 5zm1-7zm0-5zm0 4zm0 6zm0-1zm0-9zm0 8zm0-4zm0 2zm0-3zm0 0zm0 12zm0 6zm0-21zm0 13zm0-20zm0 17zm0-4zm1-4zm0 4zm0-10zm0 10zm0 0zm0 4zm0-6zm0 3zm0 5zm0-6zm0 4zm0 0zm0 3zm0 8zm0-13zm0 5zm0-11zm0-2zm0 15zm0 4zm0 0zm1-21zm0 3zm0 16zm0 3zm0-6zm0-1zm0 7zm0 1zm0-18zm0-3zm0 7zm1 0zm0 5zm0-10zm0 16zm0-11zm0 2zm0-3zm0 10zm0 8zm0-17zm0-2zm0 2zm0 3zm0-2zm0-9zm0 5zm0 8zm0-4zm0-8zm0 1zm0 10zm0-17zm1 19zm0 3zm0-20zm0 5zm0-2zm0 7zm0-5zm0 1zm0 11zm0-1zm0-17zm0 13zm0-4zm0 0zm0-1zm0-7zm0 7zm0-9zm0 11zm0-10zm1 20zm0-9zm0 11zm0-22zm0 12zm0 17zm0-4zm0-20zm0 10zm0 0zm0-14zm0 1zm0 6zm0-13zm0 6zm0 1zm0 1zm1-2zm0-7zm0 17zm0-10zm0-1zm0 9zm0-3zm0-7zm0 33zm0-28zm0-5zm0 24zm0-14zm0 2zm0-4zm1 2zm0 14zm0-6zm0 4zm0 0zm0-4zm0 3zm0-5zm0-14zm0 21zm0-5zm0-22zm0 11zm0 9zm0-7zm0-1zm0 6zm0-2zm1-8zm0 11zm0 6zm0-6zm0-9zm0 1zm0 10zm0-1zm0-2zm0 17zm0-22zm0 6zm0-7zm0 18zm0 4zm0-15zm0-7zm0 1zm0 7zm0 15zm0-29zm0 22zm0-5zm0-3zm1 5zm0-22zm0 4zm0 0zm0 9zm0 15zm0-21zm0-5zm0 10zm0 5zm0-1zm0-4zm0-2zm0 1zm0 11zm0-12zm0-4zm1 11zm0-10zm0-2zm0 1zm0-2zm0 12zm0-1zm0 0zm0 1zm0-1zm0-11zm0 6zm0-3zm0 2zm0-6zm1 16zm0-1zm0-6zm0 0zm0-15zm0 23zm0-5zm0 8zm0 1zm0-17zm0 5zm0 8zm0-15zm0-4zm0 2zm0-10zm1 18zm0 9zm0-15zm0 6zm0-15zm0-1zm0 27zm0 8zm0-16zm0-17zm0 27zm0-1zm0-15zm0-12zm0 26zm0 0zm0 4zm0-20zm0 14zm0 2zm0-12zm0 9zm1-1zm0 5zm0 0zm0 1zm0 4zm0-11zm0 7zm0-18zm0 24zm0-22zm0 13zm0-9zm0 11zm0-20zm0 18zm1 6zm0-10zm0 5zm0-6zm0 11zm0-30zm0 16zm0-13zm0 8zm0 14zm0-8zm0-7zm0 9zm0 2zm0 3zm0-11zm1-4zm0 4zm0 12zm0-9zm0 3zm0 1zm0-3zm0-12zm0 8zm0 18zm0-29zm0 22zm0-15zm0 19zm0-18zm0 5zm0-21zm0 22zm0 0zm1-2zm0-8zm0 19zm0-16zm0 20zm0-13zm0-2zm0-7zm0-7zm0 14zm0 5zm0-15zm0 15zm0-14zm0-9zm0 17zm0 4zm1 2zm0-1zm0-4zm0-5zm0-3zm0 2zm0 0zm0 2zm0 25zm0-21zm0-7zm0 19zm0-17zm0 4zm0 5zm0-5zm0 14zm1-3zm0 5zm0-16zm0 23zm0-27zm0 11zm0-9zm0 6zm0 2zm0 14zm0-11zm0 4zm0-18zm0 9zm0-16zm0 22zm0-12zm0 12zm1-18zm0 14zm0 12zm0 7zm0-4zm0-27zm0-1zm0 6zm0 6zm0 2zm0 2zm0-9zm0-1zm0 24zm0-26zm0 23zm0-15zm0-2zm0 9zm0-7zm0 14zm1 3zm0-10zm0 8zm0-17zm0 20zm0 4zm0-16zm0 3zm0-4zm0 11zm0-25zm0 30zm0-15zm0 16zm1-11zm0-21zm0 8zm0-5zm0 25zm0-7zm0-6zm0-23zm0 24zm0-18zm0 3zm0-1zm0 34zm0-24zm0 13zm1-7zm0-12zm0 4zm0-4zm0-2zm0-4zm0-4zm0 12zm0 2zm0-11zm0 5zm0 18zm0-11zm0-7zm0 25zm0-26zm0 7zm0 9zm0 1zm0-7zm0-2zm1-16zm0 25zm0-7zm0 5zm0-5zm0 5zm0 7zm0-8zm0 1zm0 17zm0-32zm0 11zm0 10zm0 3zm0-24zm0 0zm1 4zm0-12zm0 5zm0-1zm0-4zm0 8zm0-4zm0 8zm0-13zm0 7zm0 1zm0 5zm0 18zm0-8zm0 1zm1-2zm0 20zm0-22zm0-21zm0 14zm0-6zm0 7zm0 14zm0-22zm0 13zm0-3zm0 6zm0 11zm0-17zm0-14zm1 22zm0-3zm0 9zm0-10zm0 12zm0-17zm0 8zm0 10zm0-15zm0 4zm0-14zm0 5zm0-4zm0 11zm0 4zm0 1zm0-18zm0 5zm1 10zm0-22zm0 14zm0-9zm0 6zm0-3zm0 9zm0-14zm0 11zm0 8zm0-6zm0-11zm0 9zm0-9zm0 11zm0-10zm0 12zm0 15zm0-20zm0 5zm1-6zm0 64zm0 14zm0-87zm0 1zm0 7zm0 45zm0-41zm0 7zm0 13zm0-14zm0-8zm0-90zm0 100zm0-9zm0 12zm0-86zm0-66zm0 138zm0-64zm0-44zm0 122zm0 14zm0-14zm1-6zm0-20zm0 37zm0-14zm0-53zm0 3zm0 0zm0 55zm0 1zm0-14zm0-46zm0 64zm0-34zm0 26zm0-30zm0 31zm0 39zm0-61zm0-8zm0 32zm0-26zm0 24zm0-127zm1 64zm0 60zm0-50zm0 52zm0-157zm0 159zm0-129zm0 121zm0 10zm0-6zm0 24zm0-22zm0-14zm0 25zm0-9zm0-11zm0 5zm0 7zm0-8zm0 5zm0-146zm0 6zm0 136zm0 9zm1-58zm0 59zm0-12zm0-6zm0 8zm0-84zm0 81zm0-3zm0 38zm0-28zm0-1zm0-149zm0 83zm0-21zm0 88zm0-12zm0-87zm0 95zm0 1zm0-115zm0 153zm0-44zm0-15zm0 3zm0-27zm0 40zm0 5zm1-7zm0 4zm0-9zm0 15zm0-6zm0-42zm0 32zm0 13zm0 0zm0-48zm0 44zm0-105zm0 102zm0-122zm0 133zm0-97zm0 27zm0-36zm0 95zm0-3zm0-3zm0 7zm0 13zm0-81zm0-32zm0 110zm0 21zm0-107zm0-20zm0 42zm0 49zm1-4zm0 25zm0-9zm0-83zm0 85zm0-17zm0 22zm0-14zm0-37zm0 41zm0 5zm0-7zm0 10zm0-2zm0 6zm0 4zm1-15zm0-3zm0-1zm0 5zm0-3zm0-1zm0 2zm0 0zm0 8zm0-3zm0-4zm0 4zm0-3zm0-2zm0-5zm0 12zm0 4zm0-21zm0 24zm1-24zm0 23zm0-13zm0-14zm0 21zm0-20zm0 28zm0-25zm0 4zm0 3zm0-18zm0 34zm0-6zm0-6zm0-5zm0-12zm0 3zm0 8zm0 13zm0-13zm0 1zm0 2zm1-6zm0 13zm0-12zm0 1zm0-1zm0 0zm0 5zm0 3zm0-17zm0 22zm0 4zm0-15zm0 11zm0-11zm0 18zm1-9zm0-9zm0-16zm0 27zm0-2zm0-9zm0-3zm0 16zm0-16zm0 7zm0 11zm0-15zm0 14zm0-11zm0 12zm0 6zm0-9zm0 5zm0-8zm0-5zm0-10zm1 11zm0 17zm0-18zm0 1zm0 1zm0 3zm0-3zm0-16zm0 14zm0-9zm0 18zm0-2zm0-26zm0 20zm0-13zm1 1zm0 3zm0-1zm0 2zm0 2zm0 5zm0 6zm0-13zm0-8zm0 13zm0-13zm0 8zm0 3zm0 3zm0 7zm0-1zm0-18zm0 14zm1-2zm0 0zm0-4zm0 0zm0-5zm0 10zm0-5zm0-8zm0 19zm0-11zm0 17zm0-25zm0 14zm0 10zm0-10zm0-18zm0 15zm0-11zm0 23zm0-31zm1 15zm0 13zm0 6zm0-6zm0 6zm0-7zm0-3zm0 4zm0 3zm0-3zm0 13zm0-9zm0-17zm0 4zm0 4zm0 4zm0 3zm0-19zm0 3zm0 0zm0 6zm0 1zm1-10zm0 11zm0 9zm0-13zm0 7zm0 3zm0-15zm0 1zm0-2zm0 9zm0-2zm0 11zm0-11zm1-2zm0 6zm0-10zm0-19zm0 22zm0 2zm0-12zm0 10zm0-5zm0 10zm0 18zm0-19zm0-13zm0 11zm0 3zm0-19zm0 14zm0-6zm0 13zm0 13zm0-4zm0-15zm1-22zm0 21zm0-4zm0 4zm0 6zm0-19zm0 20zm0-15zm0 5zm0-11zm0 24zm0-13zm0 3zm0 0zm0 6zm0-6zm0-9zm0 5zm1 18zm0-17zm0 9zm0-4zm0-15zm0 15zm0 0zm0 7zm0-12zm0-11zm0 26zm0 11zm0-9zm0-18zm1-4zm0 1zm0-8zm0-6zm0 8zm0-2zm0 31zm0-6zm0-23zm0 1zm0 17zm0-25zm0 17zm0 10zm1-1zm0 16zm0 0zm0-25zm0 21zm0-15zm0-2zm0 19zm0-11zm0-9zm0-7zm0-4zm0 20zm0-1zm0 18zm0-23zm0 8zm0 10zm0-6zm0-12zm1 18zm0-30zm0 4zm0 6zm0-4zm0 13zm0-17zm0 13zm0 12zm0-14zm0-7zm0-3zm0-3zm0 10zm0 11zm0-15zm0 15zm0-14zm0-5zm0 21zm1-3zm0-11zm0-1zm0 6zm0-2zm0 9zm0-2zm0-10zm0 13zm0 10zm0-14zm0-14zm0 0zm0 22zm0-3zm0-1zm0-7zm0 0zm1 2zm0-8zm0 13zm0-5zm0-2zm0-12zm0 18zm0-7zm0 14zm0-17zm0 11zm0 15zm0-26zm0 2zm0 19zm0-31zm0 25zm0 8zm0-25zm0-12zm1 32zm0-1zm0-21zm0 9zm0-3zm0-1zm0-11zm0 14zm0 9zm0-16zm0-7zm0 11zm0-5zm0-7zm0 3zm0 11zm0-9zm1 20zm0-4zm0 1zm0-4zm0-6zm0 7zm0 8zm0-14zm0 4zm0-4zm0-3zm0-2zm0-1zm0 5zm0 3zm0-5zm1-12zm0 15zm0-2zm0-3zm0-2zm0 5zm0 3zm0-5zm0-3zm0 18zm0-2zm0-2zm0-5zm0 1zm0-4zm0 13zm0-16zm0 19zm0-7zm0-5zm0 4zm0 6zm1-8zm0 12zm0-12zm0-15zm0 23zm0 1zm0-18zm0-7zm0 1zm0 15zm0-2zm0-28zm0 17zm1 17zm0-1zm0 5zm0-3zm0-21zm0 3zm0 9zm0-16zm0 21zm0-16zm0-3zm0-2zm0 8zm0 16zm0-15zm0 26zm0-41zm0 17zm0 29zm0-20zm0-7zm1-3zm0 0zm0 11zm0-22zm0 16zm0-13zm0 22zm0-3zm0-13zm0 23zm0-15zm0 7zm0-12zm0-12zm0 3zm0 11zm1 13zm0-15zm0 14zm0-8zm0 10zm0-17zm0 3zm0-9zm0 5zm0 0zm0 4zm0 11zm0-24zm0 10zm0-4zm0 7zm0 8zm0 2zm0-18zm0 9zm1-12zm0 12zm0 8zm0-15zm0 16zm0-13zm0-7zm0 8zm0 3zm0-5zm0 13zm0-3zm0-8zm0 15zm0-12zm0 8zm0 15zm1-12zm0 0zm0-7zm0 4zm0-5zm0 6zm0-3zm0-8zm0 18zm0-7zm0 14zm0-28zm0 20zm0 0zm1-9zm0 17zm0-21zm0-5zm0-2zm0-10zm0 6zm0-1zm0 1zm0 12zm0 12zm0-22zm0 10zm0-16zm0 22zm0-24zm0 34zm0-16zm0 20zm0-22zm1 11zm0-8zm0-8zm0-11zm0 22zm0-23zm0 7zm0-7zm0 24zm0-6zm0 1zm0-5zm0 5zm0 84zm0-180zm0 95zm0-2zm0 10zm0-65zm0 65zm0-66zm0 61zm0 1zm0-18zm0-7zm1 25zm0-3zm0-6zm0-3zm0 1zm0 8zm0 9zm0-10zm0 29zm0-37zm0 12zm0-14zm0 7zm0-9zm0-12zm0 19zm0 7zm1 0zm0 14zm0-20zm0-2zm0-6zm0 27zm0-7zm0-10zm0 17zm0 2zm0-10zm0-7zm0 0zm0 3zm0 4zm0-7zm0-1zm0 7zm1 11zm0-8zm0-25zm0-71zm0 74zm0 21zm0 0zm0-22zm0-3zm0 20zm0-5zm0 13zm0-37zm0 35zm0-16zm0-8zm0 12zm1-1zm0 5zm0-14zm0 24zm0-21zm0-18zm0 39zm0-14zm0 23zm0-30zm0 14zm0-20zm0 36zm0-18zm0-23zm0 24zm1 7zm0-12zm0 6zm0-23zm0 6zm0 32zm0-16zm0-3zm0-20zm0 12zm0 33zm0-43zm0 11zm0-10zm0-9zm0 4zm0 25zm1-11zm0 9zm0-6zm0 0zm0-13zm0 2zm0 12zm0 6zm0-24zm0 8zm0 11zm0 1zm0 0zm0-8zm0-17zm0 12zm0-3zm0-2zm0 5zm0-5zm0 4zm0 9zm0-10zm0 14zm1-10zm0 0zm0 10zm0 0zm0 0zm0 1zm0-21zm0 25zm0-11zm0-13zm0 22zm0-7zm0-9zm0 1zm0-6zm1 8zm0 5zm0-3zm0-10zm0 10zm0 21zm0-17zm0-6zm0 6zm0-3zm0 10zm0-22zm0 14zm0 9zm0-32zm0 23zm0 21zm0-19zm1-16zm0 13zm0 19zm0-11zm0-11zm0 29zm0-13zm0-14zm0 7zm0 1zm0-7zm0 15zm0-8zm0-22zm0 17zm0 0zm1 12zm0 1zm0-44zm0 42zm0 18zm0-26zm0-27zm0 19zm0 17zm0-16zm0 22zm0-18zm0-6zm0 19zm0-3zm0 18zm0-13zm0-4zm0 3zm1-21zm0 5zm0 13zm0-9zm0 16zm0-9zm0-11zm0 26zm0-9zm0-61zm0 27zm0 16zm0 25zm0-18zm0 20zm0-17zm0-8zm1 10zm0-9zm0-9zm0 9zm0-8zm0 14zm0 9zm0-9zm0 2zm0-2zm0-26zm0 36zm0-25zm0-2zm0 6zm0-20zm0 31zm0-5zm0-25zm1 22zm0 13zm0-42zm0 51zm0-16zm0-13zm0-1zm0 19zm0-6zm0 2zm0-28zm0 55zm0-54zm0-24zm0 66zm0-13zm0 14zm0-35zm0 16zm0-20zm1 25zm0-29zm0 12zm0 1zm0-10zm0 19zm0-4zm0-19zm0 27zm0-33zm0-3zm0-56zm0 65zm0 16zm0-4zm0 5zm0-5zm0 22zm0 3zm1-14zm0-7zm0 0zm0 21zm0-30zm0 28zm0-9zm0 14zm0-10zm0-29zm0 17zm0 9zm0 14zm0-16zm0-1zm0 15zm0-1zm0-61zm0 63zm0-20zm0-6zm1 13zm0-29zm0 5zm0 29zm0 7zm0-26zm0 17zm0-1zm0-6zm0-14zm0 23zm0-7zm0 8zm0-36zm0 8zm0 7zm0 2zm0 21zm0-16zm1-13zm0 26zm0-28zm0 25zm0-13zm0-13zm0 17zm0-1zm0-16zm0-2zm0 3zm0 3zm0 3zm0 19zm0 6zm0-36zm0-3zm1 4zm0 23zm0-33zm0 23zm0-21zm0 2zm0 20zm0-15zm0 20zm0-7zm0 5zm0-19zm0 27zm0-17zm0-16zm0-2zm0 11zm1 6zm0-11zm0 0zm0-10zm0 16zm0 16zm0-26zm0 20zm0 0zm0 37zm0-35zm0-2zm0 11zm0-2zm0 9zm0-3zm0 10zm0 3zm0 15zm0 2zm1-52zm0 12zm0-9zm0 23zm0-1zm0-34zm0 16zm0 36zm0-21zm0 10zm0-26zm0 11zm0 3zm0 23zm0-17zm0 12zm0-37zm0 20zm1 12zm0-27zm0 9zm0-28zm0 25zm0 6zm0-6zm0 17zm0-4zm0-15zm0 21zm0-15zm0-9zm0-15zm0 19zm0 19zm0 6zm0-13zm1 5zm0 3zm0-5zm0-11zm0 21zm0-4zm0-22zm0 17zm0-2zm0-9zm0-4zm0 17zm0-15zm0 12zm0-5zm1 5zm0-9zm0 4zm0-6zm0 12zm0-10zm0 5zm0 5zm0-36zm0 36zm0-3zm0-1zm0 2zm0-46zm0 50zm0-32zm0 36zm0 1zm0-17zm0 23zm0-30zm1-46zm0 70zm0-35zm0 36zm0-9zm0 10zm0-2zm0-21zm0-9zm0 5zm0 36zm0-11zm0-16zm0 21zm0-31zm0 17zm0-10zm1 12zm0-12zm0 20zm0-3zm0-15zm0 16zm0 0zm0-1zm0-10zm0 9zm0-1zm0-29zm0 39zm0-42zm0 18zm0-25zm0 25zm1 15zm0 11zm0-14zm0 26zm0-23zm0-5zm0-3zm0-7zm0 25zm0 14zm0-23zm0 21zm0-49zm0 40zm0-12zm0-9zm0-6zm0 14zm0 3zm0-25zm0-2zm0-40zm1 67zm0-12zm0 4zm0-8zm0 11zm0-26zm0 25zm0-13zm0 11zm0-22zm0 11zm0 0zm0 0zm0-16zm0 11zm0-3zm0-23zm0 25zm1 18zm0 1zm0-23zm0 11zm0 8zm0-6zm0 8zm0-16zm0 13zm0 17zm0-24zm0 14zm0 12zm0-30zm0 16zm0-23zm0 34zm0-28zm0 16zm0-9zm1 1zm0 0zm0-22zm0 28zm0-6zm0-13zm0-38zm0 40zm0 30zm0-30zm0 32zm0-51zm0 47zm0-10zm0 0zm0-15zm0-38zm0 40zm0 6zm0 8zm0-19zm0 20zm0 17zm1-16zm0 10zm0-28zm0 4zm0 9zm0 5zm0 12zm0-49zm0 50zm0-17zm0-7zm0-25zm0 25zm0-4zm1 1zm0 18zm0-26zm0 25zm0-41zm0 15zm0 4zm0 3zm0 11zm0 7zm0-19zm0 15zm0-13zm0-3zm0 8zm0 20zm0-5zm0-12zm0 7zm1 7zm0-20zm0 29zm0-4zm0 8zm0-9zm0-29zm0 26zm0 1zm0 2zm0-8zm0-7zm0-13zm1 10zm0 16zm0-18zm0-8zm0 23zm0-5zm0 24zm0-3zm0-30zm0 7zm0-2zm0-6zm0 15zm0-26zm0 18zm0-7zm0 19zm0-18zm0-3zm0 12zm0-6zm0-16zm1 13zm0 5zm0-2zm0 1zm0-35zm0 55zm0-34zm0 20zm0-11zm0 0zm0-6zm0 14zm0-18zm0 26zm0-8zm0-9zm0-21zm0 23zm0 13zm1 0zm0-20zm0 24zm0-6zm0-14zm0-12zm0 12zm0 12zm0 3zm0-14zm0-1zm0 6zm0 13zm0-10zm0-1zm1 6zm0-6zm0 16zm0-40zm0 17zm0 7zm0-17zm0 15zm0 0zm0 7zm0-7zm0-7zm0-3zm0 24zm0-21zm0-1zm0 0zm0-1zm0-9zm0 3zm1-6zm0 11zm0-9zm0 11zm0 20zm0-6zm0 17zm0-24zm0-19zm0 2zm0 14zm0-9zm0-8zm0 30zm0-5zm0-6zm0 4zm1-7zm0 5zm0 3zm0-8zm0 16zm0-14zm0-2zm0 8zm0-4zm0 5zm0-9zm0-6zm0 18zm0-8zm0 2zm0-2zm0 0zm0 3zm1 4zm0-7zm0-6zm0-4zm0-1zm0 4zm0-1zm0-1zm0 2zm0 9zm0-14zm0 17zm0-13zm0 10zm0-19zm0 13zm0 1zm1 12zm0-13zm0-2zm0-9zm0 25zm0-19zm0-6zm0 28zm0-21zm0 12zm0-5zm0 6zm0-4zm0 2zm0-4zm0-4zm1 4zm0 3zm0 1zm0-6zm0 3zm0 2zm0 10zm0-3zm0-13zm0 17zm0-6zm0-3zm0 1zm0 9zm0-18zm0 7zm0 11zm0-3zm0-14zm1 4zm0 6zm0-2zm0-7zm0 9zm0 0zm0 4zm0-7zm0 0zm0-28zm0 32zm0-4zm0 0zm0 8zm0-23zm0 17zm0-17zm0 26zm0-14zm1-4zm0-1zm0 13zm0 9zm0-3zm0-15zm0 4zm0 11zm0 1zm0 8zm0-35zm0 12zm0-9zm0 19zm0-13zm0-7zm0 26zm0-23zm0 1zm1-2zm0 5zm0 16zm0-6zm0-3zm0-20zm0 19zm0-28zm0 15zm0 8zm0 17zm0 6zm0-16zm0 2zm0-2zm0 6zm1-8zm0 5zm0-7zm0 14zm0-14zm0 10zm0-10zm0 8zm0-17zm0 2zm0 18zm0-2zm0-10zm0 2zm0-19zm0 23zm0-10zm0 20zm0-16zm1-1zm0 5zm0-10zm0 3zm0 6zm0-4zm0 16zm0-17zm0-4zm0 2zm0-2zm0 8zm0 11zm0-13zm0-25zm0 25zm1 3zm0 3zm0 1zm0-17zm0-2zm0 13zm0 9zm0-1zm0 2zm0-9zm0-11zm0 13zm0 6zm0 2zm0-4zm0-6zm1-11zm0 16zm0-17zm0 23zm0-24zm0 9zm0 8zm0-3zm0-4zm0 6zm0 11zm0 5zm0-11zm0 10zm0-11zm0 6zm0-20zm0 20zm0-12zm0 6zm0-22zm0 12zm1-1zm0 1zm0 3zm0-5zm0 0zm0-4zm0 15zm0-3zm0 20zm0-15zm0 0zm0 0zm1 0zm0-27zm0 28zm0 10zm0-26zm0 11zm0 3zm0 4zm0-6zm0 17zm0-10zm0 1zm0 0zm0-6zm0-8zm0 16zm0 0zm0-12zm0 23zm0-9zm0-12zm0-14zm0 27zm0-18zm1 18zm0 3zm0-19zm0 20zm0-37zm0 18zm0 13zm0-2zm0-12zm0-3zm0-20zm0 27zm0-21zm0 17zm0 12zm0-12zm1 5zm0-18zm0 11zm0 19zm0-15zm0 1zm0 9zm0 1zm0-5zm0-14zm0 17zm0-4zm0 2zm0 8zm0-9zm0-11zm1-7zm0 0zm0-4zm0 31zm0-11zm0-14zm0 13zm0-10zm0-5zm0-2zm0 18zm0-7zm0 12zm0-2zm0 1zm0-10zm0 8zm0-10zm1 6zm0-9zm0 1zm0 10zm0-27zm0 21zm0-1zm0 7zm0 2zm0-11zm0 11zm0-2zm0-8zm1 2zm0-14zm0 15zm0 8zm0-22zm0 9zm0 4zm0 6zm0-2zm0 3zm0 4zm0-20zm0 26zm0-25zm0 24zm0-17zm0 16zm0-31zm0 24zm0 10zm0-16zm0 0zm0-1zm1 8zm0-11zm0 9zm0-8zm0-21zm0 20zm0-7zm0-4zm0 18zm0-9zm0-9zm0 9zm0-9zm0 5zm0 23zm0-24zm0 1zm0 3zm0-4zm1 5zm0 0zm0-2zm0-3zm0 2zm0 7zm0-8zm0 13zm0-15zm0 22zm0-15zm0 11zm0-19zm0 4zm0 18zm1-6zm0 2zm0 4zm0-7zm0 4zm0-9zm0 5zm0 10zm0-15zm0 1zm0 1zm0 1zm0-6zm0 7zm0 0zm0 1zm0 1zm0-16zm0 9zm1 0zm0 0zm0 4zm0-10zm0 5zm0 21zm0-16zm0 5zm0 2zm0-19zm0 9zm0 2zm0-6zm0 8zm0 5zm0-10zm0 4zm0-11zm0 15zm1-5zm0-5zm0-18zm0 19zm0 15zm0-25zm0 7zm0 11zm0 4zm0-11zm0 0zm0 7zm0-3zm0-31zm0 14zm0 25zm0-13zm0 8zm0 1zm1 5zm0-20zm0 13zm0-12zm0 3zm0 10zm0 4zm0-5zm0-6zm0 12zm0-15zm0-6zm0 9zm0-3zm0 8zm0-9zm1 7zm0-3zm0 7zm0 0zm0-8zm0 4zm0-4zm0-6zm0 8zm0 11zm0-9zm0-5zm0 3zm0 1zm0 6zm0-11zm0-1zm0 0zm0 4zm0-5zm1 18zm0-22zm0 20zm0-11zm0 5zm0-4zm0-10zm0-4zm0 14zm0 3zm0-8zm0 9zm1-3zm0 7zm0-7zm0-2zm0 6zm0-6zm0 4zm0-10zm0 7zm0 10zm0-14zm0 0zm0 7zm0-2zm0 3zm0-18zm0 17zm0-20zm0 28zm0-12zm0-19zm0 24zm1-9zm0-4zm0 4zm0 3zm0-15zm0 22zm0-12zm0 4zm0 6zm0-7zm0 0zm0-2zm0 11zm0-4zm0-8zm0-1zm0 13zm1-1zm0-10zm0 11zm0-3zm0-9zm0-6zm0-3zm0 24zm0-29zm0 14zm0-2zm0 3zm0 1zm0 5zm0 16zm0-8zm1-21zm0 18zm0-19zm0 25zm0-1zm0-17zm0 34zm0-23zm0 16zm0-33zm0 20zm0-14zm0-2zm0-1zm0 28zm0-21zm0-11zm1 33zm0-24zm0 1zm0-5zm0 11zm0-9zm0 6zm0 0zm0 4zm0 1zm0-9zm0 13zm0-12zm0-16zm0 18zm0-13zm0 11zm0 0zm0-11zm0 1zm0 19zm0-30zm0 25zm1 17zm0-37zm0 4zm0 8zm0 9zm0-3zm0-10zm0 8zm0-3zm0 15zm0-22zm0 13zm0-9zm1 24zm0-8zm0-19zm0 4zm0 5zm0 16zm0-20zm0 7zm0-11zm0 2zm0 1zm0 12zm0-1zm0-20zm0 6zm0 24zm0-2zm0-19zm1-14zm0 12zm0 2zm0-6zm0 2zm0-1zm0 21zm0 5zm0-30zm0 4zm0 1zm0 11zm0-1zm0 15zm0-33zm0 21zm0 5zm0-2zm0-23zm0-9zm1 29zm0-7zm0 1zm0 19zm0-15zm0-10zm0 17zm0-23zm0 11zm0 2zm0-20zm0 31zm0-9zm0-3zm0 4zm1 2zm0-10zm0 20zm0 6zm0-14zm0 5zm0-9zm0 23zm0-46zm0 29zm0 0zm0 6zm0-25zm0 34zm0-6zm0-21zm0 15zm0-13zm0 3zm1-6zm0 11zm0 6zm0 13zm0-20zm0 4zm0-11zm0-5zm0 33zm0-37zm0 21zm0 2zm0 3zm0-21zm0 2zm0 6zm0 7zm1 8zm0 7zm0 7zm0-19zm0 12zm0-13zm0 14zm0-14zm0-8zm0-12zm0 21zm0 6zm0-25zm0 8zm0 5zm0 9zm1-1zm0-15zm0 2zm0-1zm0 14zm0 2zm0-6zm0-16zm0 9zm0-16zm0 14zm0-4zm0 9zm1 16zm0-9zm0-11zm0-8zm0 24zm0-17zm0 3zm0-2zm0-5zm0 7zm0 19zm0-13zm0-3zm0 25zm0-29zm0-22zm0 32zm0 4zm0 5zm0-23zm0 11zm0 7zm0-25zm0 12zm1-3zm0 16zm0 6zm0 5zm0-18zm0 10zm0-7zm0-4zm0-11zm0 19zm0-23zm0 9zm0-9zm1 27zm0-33zm0 24zm0-10zm0 0zm0 12zm0-22zm0 26zm0 1zm0 3zm0 0zm0-19zm0-10zm0 8zm0 9zm0-3zm0 19zm1-8zm0-21zm0 15zm0-14zm0 24zm0-35zm0 9zm0 18zm0-11zm0 7zm0-5zm0-17zm0 26zm0-12zm0 0zm0 4zm0 13zm0-3zm0-25zm1 3zm0 3zm0 12zm0-1zm0-3zm0 18zm0-25zm0 16zm0 8zm0-27zm0-4zm0 7zm0 2zm0 12zm0-18zm0 24zm0 2zm0-8zm0 0zm0-4zm0 22zm1-21zm0-1zm0 9zm0 1zm0-22zm0 18zm0-3zm0-8zm0 4zm0 4zm0 13zm0-14zm0-2zm1 6zm0-5zm0 0zm0-6zm0-3zm0 4zm0-6zm0 12zm0 1zm0-6zm0 0zm0-4zm0 13zm0 1zm0 2zm0 7zm0-11zm0-9zm0-3zm0-1zm0 18zm1-10zm0 8zm0-9zm0 4zm0 5zm0-19zm0 11zm0 11zm0-11zm0 15zm0-34zm0 39zm0-19zm0-18zm0 16zm0 3zm1 0zm0 4zm0 7zm0 8zm0-15zm0-3zm0 7zm0-9zm0-3zm0-11zm0 26zm0-4zm0-3zm0-17zm0 24zm0-11zm0 4zm0-22zm0 0zm0 20zm0 0zm1 1zm0-13zm0-4zm0 2zm0 10zm0-4zm0 15zm0-5zm0 11zm0-24zm0-7zm0 31zm0-23zm0 30zm0-13zm0 7zm0-28zm0 33zm1-21zm0-11zm0 10zm0 18zm0-42zm0 36zm0 8zm0-49zm0 33zm0 15zm0-3zm0-10zm0-23zm0 30zm0-23zm1 11zm0-7zm0-28zm0 38zm0 1zm0-9zm0-13zm0-3zm0 14zm0 1zm0-28zm0 28zm0-16zm0 18zm0 1zm1 7zm0-21zm0 28zm0-2zm0-17zm0-9zm0-11zm0 44zm0-18zm0 7zm0 4zm0 4zm0-16zm0 0zm0 1zm0-13zm0-3zm0 14zm1 15zm0-10zm0-9zm0 4zm0 7zm0 2zm0 3zm0-6zm0 5zm0-4zm0-26zm0 27zm0-18zm0-14zm0 9zm0 29zm0 1zm0-24zm0-7zm1 13zm0 7zm0 7zm0-10zm0-5zm0 16zm0 13zm0-28zm0 7zm0-10zm0 9zm0 4zm0-2zm0-1zm0-2zm0-13zm1-2zm0 18zm0-17zm0 6zm0-3zm0-2zm0 8zm0-4zm0-7zm0 7zm0-1zm0 1zm0 0zm0-5zm0-3zm0 6zm0-1zm1-11zm0 11zm0-5zm0-14zm0 16zm0 10zm0-10zm0-8zm0 10zm0 8zm0-13zm0-3zm0-6zm0 12zm1-7zm0 3zm0-17zm0 8zm0 1zm0 17zm0 0zm0-13zm0-16zm0 22zm0-6zm0 15zm0 8zm0-13zm0 4zm1 16zm0-19zm0 8zm0-10zm0-8zm0 16zm0-8zm0-2zm0-10zm0 9zm1 0zm0 6zm0-10zm0 6zm0 5zm0 2zm0-12zm0-7zm0-3zm0-16zm0 37zm0-16zm0 0zm0 9zm1 4zm0-20zm0-13zm0 21zm0 3zm0-7zm0 7zm0 4zm0-6zm0 15zm0-25zm0 15zm0-8zm0 17zm0-14zm1 10zm0-5zm0-6zm0 6zm0-3zm0-19zm0 21zm0-21zm0 23zm0-3zm0-12zm0 2zm0 2zm1-15zm0 20zm0 13zm0-37zm0 30zm0-23zm0 20zm0-11zm0-7zm0 12zm0 2zm0-26zm1 27zm0 24zm0-30zm0 10zm0-17zm0 2zm0 11zm0-7zm0 6zm0 7zm0-15zm0 22zm0-18zm1-17zm0 24zm0-27zm0 34zm0-21zm0 17zm0-13zm0 11zm0-22zm0 11zm0 8zm0 12zm1-7zm0 7zm0-29zm0 19zm0 7zm0-10zm0 18zm0-19zm0-10zm0 23zm0-14zm1-31zm0 43zm0-43zm0 14zm0 0zm0-13zm0 7zm0 11zm0-8zm0 24zm0-1zm0-11zm0-14zm1 31zm0-11zm0-7zm0 10zm0-15zm0 18zm0 2zm0-4zm0-24zm0 31zm0-14zm0 12zm0-4zm0 6zm0-20zm0 26zm0-26zm0 15zm1-6zm0 2zm0-13zm0 12zm0-7zm0-3zm0 25zm0-2zm0-4zm1-2zm0-11zm0-8zm0 0zm0 19zm0-8zm0 20zm0-8zm0-19zm0 15zm0 4zm0 8zm0-14zm0 2zm0-13zm0 4zm0-4zm1-2zm0 7zm0-28zm0 46zm0-32zm0 38zm0-16zm0-39zm0 23zm0 10zm0-20zm0 5zm0 1zm0-6zm1 0zm0 10zm0-14zm0-6zm0 13zm0 17zm0-4zm0-17zm0 5zm0 6zm0-10zm0 44zm0-24zm0 6zm1 2zm0-9zm0 10zm0-27zm0 10zm0 12zm0-22zm0 11zm0 3zm0-11zm0 21zm0-5zm0-10zm0 2zm1-6zm0 22zm0-7zm0-7zm0-9zm0 12zm0 4zm0-2zm0 6zm0 3zm0-14zm0 5zm0-25zm1 2zm0 12zm0 19zm0-4zm0-3zm0-1zm0 1zm0-17zm0 10zm0 12zm0-12zm1 16zm0-7zm0-18zm0 20zm0 0zm0-16zm0-7zm0 12zm0 10zm0 6zm0 23zm0-21zm0 14zm1-35zm0 21zm0-2zm0-2zm0-14zm0 6zm0 9zm0-3zm1 11zm0-19zm0 14zm0-3zm0-15zm0 9zm0-4zm0 17zm0-11zm0 1zm0-8zm0 3zm0 2zm0-9zm1 0zm0 1zm0 12zm0-6zm0-6zm0 1zm0-13zm0 31zm0-10zm0-6zm0 7zm0 0zm0-18zm0 19zm0 11zm0-4zm0-28zm0 6zm1 1zm0 14zm0 7zm0-22zm0 21zm0 6zm0-7zm0-21zm0 4zm0 24zm0-47zm0 54zm0-39zm0-2zm1 35zm0-14zm0 24zm0-30zm0-7zm0 11zm0 6zm0-13zm0-30zm0 54zm1-17zm0-18zm0 8zm0 2zm0 3zm0-2zm0 14zm0-11zm0 8zm0-32zm0 26zm0-16zm0 3zm0 7zm1-16zm0 50zm0-20zm0-25zm0 27zm0-7zm0-5zm0 30zm0-4zm0-19zm0 9zm1 9zm0-22zm0 6zm0 2zm0-21zm0-2zm0 13zm0 10zm0-8zm0 3zm0-27zm1 55zm0-35zm0-10zm0-2zm0-2zm0 35zm0-29zm0 13zm0 17zm0-38zm0 36zm0-23zm1 13zm0 10zm0-27zm0 9zm0-10zm0 9zm0-18zm0 46zm0-27zm0 11zm0-25zm0 13zm1 12zm0 4zm0-10zm0-23zm0 15zm0-6zm0 4zm0 1zm0-21zm0 18zm0 1zm0-4zm1 27zm0-6zm0-17zm0-7zm0 25zm0-28zm0 12zm0 6zm0-7zm0 23zm0-21zm0 20zm1 0zm0-9zm0-14zm0 7zm0 10zm0-11zm0-7zm1-5zm0 9zm0 3zm0 26zm0-36zm0 9zm0 7zm0 8zm0-1zm0-8zm0-10zm0-3zm0-14zm1 6zm0 31zm0-11zm0-4zm0-22zm0 5zm0-3zm0-6zm0 27zm0-20zm0-3zm0 10zm0 12zm0-26zm0 15zm0 8zm0-8zm0-12zm1 8zm0 14zm0-18zm0 52zm0-18zm0-32zm0 12zm0 1zm0 11zm0 14zm0-23zm0-3zm0 29zm0-29zm1 2zm0-2zm0 7zm0-5zm0 19zm0-11zm0 1zm0 13zm0-8zm0-8zm0-11zm0 1zm1 20zm0-29zm0 6zm0 14zm0-20zm0-3zm0 20zm0-9zm0-3zm0-4zm0 16zm0-12zm1 3zm0 11zm0-10zm0 17zm0-23zm0 22zm0 8zm0 5zm1-35zm0 15zm0-21zm0 6zm0-3zm0 3zm0-9zm0 12zm0-10zm0 33zm0-10zm0-9zm0-13zm0 3zm0 22zm0-9zm0-9zm1 9zm0 11zm0 13zm0-22zm0 18zm0-27zm0 24zm0 7zm0-28zm0 32zm0-61zm0 62zm0-41zm0 21zm0-19zm1 34zm0-29zm0 1zm0-17zm0 23zm0-3zm0-9zm0-4zm0 1zm0 43zm0-11zm0-2zm1 5zm0-2zm0-10zm0-1zm0 8zm0 5zm0 6zm0-23zm0-2zm0-2zm0 7zm0-11zm0 16zm0-8zm1-14zm0 30zm0-13zm0 2zm0 2zm0-16zm0-4zm0 21zm0-14zm0 9zm0-6zm0 13zm0-1zm0 6zm0 10zm1-22zm0-13zm0 22zm0-19zm0 1zm0 18zm0-16zm0 14zm0-16zm0 8zm0-22zm0 35zm0-10zm0-6zm0-14zm0 33zm1-34zm0 9zm0-19zm0 38zm0 3zm0-24zm0 18zm0-31zm0-10zm0 27zm0 15zm0-6zm0 0zm0-33zm0 35zm1-6zm0-12zm0-10zm0 24zm0 6zm0-13zm0 11zm0-15zm0 3zm0 20zm0-7zm0 14zm0-25zm0 7zm0 11zm1 2zm0 2zm0-4zm0-19zm0 17zm0 16zm0 3zm0-24zm0 3zm0-1zm0-24zm0 15zm0 24zm0-12zm0-13zm0-16zm0 12zm0-6zm1 19zm0-13zm0 9zm0-9zm0 18zm0-8zm0-8zm0 6zm0-10zm0 8zm0-10zm0-7zm0 9zm0 16zm0 10zm1-26zm0 17zm0-13zm0 4zm0 0zm0 17zm0 7zm0-15zm0-25zm0 40zm0-31zm0 17zm0-22zm0 10zm0-7zm0 0zm0 15zm0-19zm0 7zm1 2zm0 4zm0 7zm0-19zm0-4zm0 16zm0-2zm0-10zm0 22zm0-26zm0 15zm0 12zm0 1zm0-21zm0 25zm0-15zm0 10zm0-8zm1 27zm0-15zm0 11zm0-27zm0 13zm0 6zm0 0zm0-14zm0 12zm0 3zm0-5zm0-9zm0-6zm0 28zm0-13zm0-1zm0-18zm0 29zm0-19zm0 14zm0-32zm0 26zm1-23zm0 15zm0-14zm0 11zm0-3zm0-17zm0 20zm0 9zm0 21zm0-40zm0-6zm0 36zm0-43zm0 38zm0-16zm0 21zm0-22zm0 9zm0-17zm1 11zm0-4zm0-7zm0 7zm0-11zm0 32zm0-22zm0 0zm0 0zm0-1zm0 16zm0-15zm0 9zm0-3zm0-11zm0 22zm1-2zm0-13zm0 5zm0 1zm0-2zm0-1zm0-1zm0 1zm0 12zm0 4zm0-11zm0-5zm0-13zm0 1zm0 20zm0 9zm0-20zm1 11zm0-19zm0 15zm0-21zm0 29zm0 0zm0-11zm0-8zm0-4zm0-6zm0-5zm0 35zm0 1zm0-16zm0-11zm0 2zm0-3zm0 2zm1 13zm0-16zm0 31zm0-28zm0 36zm0-47zm0 8zm0 0zm0 39zm0-17zm0-4zm0 2zm0 9zm0-3zm0-20zm0 6zm0-20zm1 3zm0 13zm0-19zm0 37zm0-3zm0-23zm0-2zm0 24zm0 8zm0-32zm0 31zm0-16zm0 3zm0-12zm0 41zm0-33zm1-15zm0 2zm0-14zm0 23zm0 6zm0-5zm0 7zm0-18zm0 4zm0 16zm0 27zm0-33zm0 19zm0 8zm0-22zm0 13zm0 13zm0-19zm0-7zm1-8zm0 2zm0 12zm0 4zm0-6zm0-21zm0 41zm0-43zm0 19zm0 3zm0-15zm0 10zm0 35zm0-29zm0-3zm0 10zm0 5zm0-22zm1 7zm0 15zm0-6zm0-2zm0-9zm0-10zm0 24zm0-11zm0 6zm0-9zm0-1zm0-6zm0-1zm0 13zm0 8zm0-5zm0-4zm0-12zm1 8zm0-10zm0 30zm0-21zm0 7zm0-9zm0 17zm0-5zm0-11zm0 7zm0 22zm0-16zm0-5zm0-20zm0 30zm0-16zm0 5zm0 6zm0-9zm0 25zm0-10zm1-15zm0 1zm0 9zm0-4zm0 2zm0-26zm0 20zm0-12zm0 10zm0 12zm0-15zm0-10zm0 19zm0-3zm0 5zm1 3zm0-1zm0-25zm0 23zm0-11zm0 3zm0 0zm0 3zm0 6zm0-16zm0 21zm0-17zm0 1zm0-2zm0-8zm0 2zm0 12zm1 6zm0-14zm0-9zm0 16zm0-13zm0-6zm0 5zm0 12zm0 12zm0-19zm0 9zm0-2zm0 4zm0-7zm0-4zm0 4zm0 0zm0-12zm0 28zm0 1zm0-30zm1 18zm0-7zm0 1zm0-3zm0 6zm0 1zm0-7zm0 9zm0 11zm0-22zm0 8zm0-2zm0 3zm0 4zm0 9zm1 5zm0-16zm0 15zm0-15zm0-13zm0 24zm0-8zm0-7zm0 16zm0-14zm0 6zm0 12zm0-16zm0 6zm0-11zm0 7zm0 17zm1-17zm0-4zm0 16zm0-25zm0 36zm0-22zm0 5zm0-10zm0 16zm0-15zm0 31zm0-44zm0 15zm0 2zm0-5zm0 19zm0-1zm0 2zm0 6zm0-32zm0 21zm1-22zm0 19zm0 18zm0-39zm0 18zm0 8zm0-8zm0 6zm0-4zm0-8zm0-10zm0 24zm0-16zm0 5zm0-28zm0 31zm0-10zm0 21zm0-2zm1 5zm0-5zm0-4zm0-2zm0 10zm0-1zm0-5zm0-18zm0 12zm0 2zm0-26zm0 30zm1-23zm0 22zm0 16zm0-34zm0 17zm0 5zm0 3zm0-12zm0-4zm0 1zm0 4zm0-12zm0 5zm0-9zm0 0zm0 11zm0 1zm0 4zm1-28zm0 19zm0 8zm0-21zm0 22zm0 14zm0-11zm0-12zm0 18zm0-30zm0 18zm0-10zm0 13zm0-26zm0 33zm0-23zm1 15zm0-4zm0-4zm0 9zm0-14zm0 19zm0-23zm0 8zm0-5zm0 17zm0-36zm0 22zm0 4zm0-20zm0 9zm0 15zm0 8zm0-10zm0-7zm1-7zm0 17zm0-5zm0-17zm0 0zm0-6zm0 25zm0-8zm0 2zm0-15zm0-8zm0 17zm0 13zm0-22zm0 33zm0-18zm0 3zm1 12zm0-4zm0-24zm0 9zm0 6zm0 12zm0-24zm0 9zm0 3zm0-19zm0 18zm0-8zm0 14zm0-12zm0-11zm0 5zm0 25zm0-28zm0 23zm1-31zm0 27zm0-5zm0-11zm0-9zm0 13zm0 8zm0 4zm0-10zm0 16zm0-18zm0-2zm0 7zm0-4zm0 23zm0-20zm0 0zm0 1zm0 8zm1 7zm0-22zm0 20zm0-14zm0-1zm0 4zm0-5zm0 9zm0 16zm0 2zm0-13zm0-15zm0 2zm0 13zm0-1zm0 1zm0-7zm0 1zm0 11zm1-3zm0-5zm0-3zm0 16zm0-19zm0 7zm0 5zm0-5zm0-3zm0-15zm0 21zm0-12zm0 28zm0-10zm1-17zm0-9zm0 34zm0-29zm0 25zm0-12zm0 7zm0-11zm0-12zm0 0zm0 14zm0-5zm0 2zm0 8zm0-2zm0-10zm0-11zm0 5zm0 0zm1-1zm0 13zm0-7zm0 12zm0 5zm0-1zm0-12zm0-16zm0 9zm0 3zm0 2zm0 0zm0-9zm0 22zm0-33zm0 21zm0 9zm0-12zm0-1zm0 12zm0-1zm1-22zm0 20zm0-2zm0 17zm0-23zm0-16zm0 17zm0-13zm0-5zm0 18zm0 2zm0 12zm0-31zm0 12zm0 2zm0 1zm0-14zm1 11zm0 3zm0-1zm0 4zm0-4zm0 22zm0-17zm0 0zm0 7zm0-7zm0-8zm0 8zm0 7zm0-1zm0-11zm0 16zm0 0zm1 6zm0-11zm0-6zm0 16zm0-17zm0 13zm0-17zm0 16zm0-5zm0-6zm0 13zm0-17zm0 1zm0 8zm0-14zm0 5zm0-1zm0 16zm0-6zm1 16zm0-18zm0 12zm0-13zm0 0zm0 20zm0-9zm0-13zm0 12zm0-3zm0-6zm0-2zm0-5zm0 10zm0-12zm1 10zm0 20zm0-9zm0-7zm0 0zm0 7zm0-7zm0-6zm0-7zm0 20zm0-7zm0 4zm0-8zm0 3zm0-13zm0 8zm0 5zm0 3zm0-7zm1 0zm0-1zm0 1zm0-1zm0 0zm0-7zm0 11zm0 14zm0-6zm0-5zm0-9zm0-2zm0 8zm0 9zm1-3zm0-1zm0-12zm0 17zm0-13zm0 12zm0-8zm0-3zm0 4zm0-12zm0 4zm0 0zm0 6zm0-16zm0 13zm0-3zm0 9zm0-13zm0 12zm0-7zm0 2zm0 7zm1-16zm0-2zm0 3zm0 6zm0 10zm0-10zm0-7zm0 17zm0-14zm0 16zm0-12zm0 9zm0-8zm0 9zm0-10zm0 5zm0-4zm0 5zm1 11zm0-9zm0-3zm0-7zm0 17zm0-16zm0 6zm0 11zm0-5zm0 8zm0-20zm0-5zm0 7zm0 9zm0-17zm0 6zm0-1zm1 4zm0-6zm0 0zm0 9zm0-1zm0-9zm0-12zm0 16zm0 10zm0-5zm0-12zm0 2zm0 1zm0 9zm0-10zm0 2zm0 3zm0 1zm0-5zm0 1zm0 3zm1-1zm0 24zm0-4zm0-26zm0 28zm0-16zm0 9zm0-15zm0 16zm0-10zm0 1zm0 4zm0-18zm1 6zm0-4zm0 13zm0-4zm0 21zm0-24zm0 19zm0-7zm0-17zm0 4zm0 7zm0 4zm0-7zm0 0zm0 2zm0-12zm0 11zm0-8zm0 10zm1-10zm0 12zm0-15zm0-2zm0 13zm0-9zm0 5zm0 6zm0-1zm0-12zm0 10zm0 7zm0-10zm0-2zm0-4zm0 3zm0 6zm1-13zm0 8zm0-3zm0 5zm0 5zm0 4zm0-16zm0-2zm0-5zm0 21zm0-2zm0 5zm0-11zm0-9zm0-2zm0 23zm0-24zm1 9zm0 13zm0-13zm0 0zm0 18zm0-13zm0-12zm0 18zm0 4zm0 7zm0-11zm0 1zm0-4zm0-5zm0 19zm0-26zm0 21zm0 0zm0-2zm0-16zm1 2zm0 5zm0-2zm0 7zm0-2zm0 5zm0-10zm0-9zm0 12zm0 17zm0-15zm0-2zm0-7zm0-3zm0 2zm0-1zm0 5zm1 10zm0-13zm0 1zm0 9zm0-7zm0 3zm0 5zm0 0zm0-12zm0 5zm0-6zm0 6zm0 3zm0 7zm0-8zm0 7zm0-10zm1-3zm0 10zm0 5zm0-22zm0 8zm0 7zm0-9zm0 1zm0 11zm0-19zm0 7zm0 3zm0 3zm0-3zm0 2zm0-9zm0 9zm0-10zm0 6zm0 3zm1 6zm0-16zm0 4zm0 2zm0 22zm0-9zm0 3zm0-11zm0 8zm0-17zm0 10zm0 5zm0-13zm0 26zm0-23zm0 5zm1-5zm0-1zm0 0zm0-4zm0-2zm0 10zm0 3zm0-42zm0 14zm0 36zm0-19zm0-6zm0 10zm0-9zm0-6zm0 26zm0 0zm0-10zm0-12zm0 22zm1-57zm0 39zm0 13zm0-114zm0 108zm0-64zm0-39zm0 116zm0-8zm0 2zm0-9zm0 6zm0 9zm0-26zm0-3zm0 7zm0-51zm0-11zm0 12zm0 73zm0-11zm0 6zm0-1zm1-86zm0 85zm0-2zm0-135zm0 150zm0-122zm0 122zm0-16zm0-7zm0-71zm0 29zm0 48zm0 7zm0-19zm0 16zm0-22zm0 26zm0-13zm0-27zm0 56zm0-83zm0 44zm0-69zm0 91zm0-9zm0-3zm1 12zm0-6zm0-55zm0 57zm0 10zm0 0zm0-5zm0 5zm0-12zm0-112zm0 48zm0 71zm0-63zm0 80zm0-31zm0 11zm0-134zm0 120zm0-15zm0 46zm0-16zm0 16zm0-53zm0 42zm0-10zm0 14zm0-17zm0 7zm1 4zm0-1zm0-10zm0-1zm0 13zm0-32zm0 28zm0 3zm0 4zm0-23zm0 14zm0 17zm0-8zm0-2zm0-6zm0-73zm1 72zm0 1zm0-73zm0 72zm0-4zm0 13zm0-15zm0 4zm0 9zm0-90zm0 75zm0 6zm0 19zm0 3zm0-7zm0-31zm0 2zm0 10zm0-2zm1 32zm0-22zm0-3zm0 8zm0-10zm0 14zm0 12zm0-18zm0 10zm0 0zm0-17zm0 25zm0 0zm0-15zm0 13zm0-22zm0-2zm0 22zm1-17zm0 2zm0 13zm0-4zm0-4zm0-12zm0-9zm0 28zm0-6zm0 6zm0-17zm0 5zm0 13zm0-8zm0 15zm0-3zm0-9zm0-18zm0 1zm0 23zm0-2zm0-2zm0-18zm0 2zm1 22zm0-44zm0 55zm0-30zm0-12zm0 30zm0-15zm0-2zm0 3zm0 3zm0 26zm0-1zm0-12zm0 17zm0-33zm1-2zm0 7zm0 16zm0-27zm0 41zm0-22zm0-12zm0-15zm0 5zm0 33zm0-6zm0-28zm0 14zm0 1zm0 3zm0-2zm0 10zm1-20zm0 13zm0-21zm0 38zm0-21zm0-8zm0-4zm0-13zm0 31zm0-20zm0 34zm0-9zm0 13zm0 3zm0-14zm0-13zm0 13zm0-13zm0 1zm1-3zm0 12zm0 8zm0-18zm0 19zm0-10zm0 7zm0-8zm0-6zm0 12zm0-23zm0 22zm0-8zm0-8zm0 6zm0 21zm1-26zm0 15zm0 2zm0-8zm0 2zm0-33zm0 37zm0-22zm0 10zm0 8zm0-15zm0 14zm0-7zm0-4zm0-8zm0 18zm0 6zm0-8zm0 4zm1-16zm0-6zm0 13zm0 26zm0-28zm0-10zm0-2zm0-13zm0 23zm0-19zm0 31zm0-38zm0 7zm0 21zm0 11zm0-25zm1 5zm0 22zm0-16zm0-12zm0 4zm0 0zm0-2zm0 19zm0 1zm0-31zm0-8zm0 19zm0 8zm0 0zm0-9zm0 7zm0-15zm1-4zm0 20zm0 1zm0-15zm0 27zm0-30zm0 0zm0 8zm0 5zm0-4zm0-6zm0-7zm0 23zm0-4zm1 0zm0 8zm0 5zm0-13zm0 3zm0-2zm0-1zm0 30zm0-21zm0-4zm0 3zm0-3zm0 16zm0-19zm0-11zm0 38zm0-35zm0 0zm0 33zm0-4zm0-26zm0 6zm1-8zm0-12zm0 4zm0 23zm0-24zm0 46zm0-54zm0 9zm0 11zm0 5zm0 13zm0-11zm0-7zm0 2zm1 4zm0 4zm0-13zm0-3zm0 6zm0 2zm0 2zm0 2zm0 8zm0 10zm0-25zm0-1zm0-3zm0 6zm0 4zm0 10zm0-9zm0-9zm0 9zm1 19zm0-18zm0 17zm0-19zm0 9zm0-7zm0 14zm0-18zm0 14zm0 0zm0-16zm0-1zm0-6zm0 12zm0 11zm0-10zm1 3zm0 5zm0-18zm0 13zm0-15zm0 30zm0 2zm0-18zm0-3zm0-3zm0 3zm0 3zm0 1zm0-5zm0 4zm0 3zm0-15zm0 14zm0-9zm0-2zm0-2zm0-5zm1 12zm0 2zm0 17zm0-9zm0-4zm0 0zm0 4zm0-14zm0 13zm0-4zm0 19zm0-13zm0-12zm0-10zm0 22zm0-10zm1 12zm0-5zm0-29zm0 33zm0-40zm0 37zm0-32zm0 34zm0-32zm0 35zm0 6zm0-22zm0 0zm0-1zm0 21zm0 1zm0-15zm0-3zm0-6zm0 18zm0-35zm0 2zm1 25zm0-7zm0-14zm0 4zm0-2zm0 3zm0 33zm0-19zm0-16zm0 27zm0-36zm0 10zm1-15zm0 23zm0 5zm0 13zm0-7zm0 2zm0-8zm0-6zm0 14zm0-12zm0 18zm0-12zm0-18zm0 12zm0 17zm0-5zm0-14zm0 5zm0-10zm1-1zm0 13zm0 1zm0 13zm0-11zm0-4zm0 2zm0 0zm0 15zm0-27zm0 3zm0-11zm0 25zm0-3zm0-2zm0-19zm0 18zm0-19zm1 15zm0-5zm0 16zm0 15zm0-14zm0-9zm0 8zm0-16zm0 9zm0 7zm0-5zm0-3zm0-2zm0 0zm0 6zm1-2zm0-11zm0 7zm0 3zm0 6zm0-7zm0 1zm0 14zm0-9zm0 4zm0-3zm0-10zm0-9zm0 8zm0 3zm0-1zm0 5zm0-9zm0-26zm0 32zm1 13zm0-23zm0 14zm0-12zm0-14zm0 11zm0 9zm0 1zm0-5zm0-4zm0 12zm0-3zm0 6zm0-10zm0 0zm0 20zm0-18zm0-15zm0 12zm1-3zm0 24zm0-9zm0-10zm0 1zm0 13zm0-11zm0 3zm0 2zm0-10zm0 7zm0 9zm0-16zm0 5zm0 5zm0 0zm0-7zm0 10zm0 8zm1-4zm0 14zm0-35zm0 1zm0 13zm0-11zm0 3zm0-6zm0 6zm0 21zm0-13zm0-8zm0-1zm0 4zm0-10zm0 14zm1-8zm0 23zm0-41zm0 13zm0 10zm0-12zm0 16zm0-19zm0 10zm0-13zm0 1zm0 17zm0 16zm0-29zm0 0zm0 21zm0-19zm0 17zm1 1zm0 4zm0 18zm0-19zm0-8zm0 15zm0-31zm0 10zm0 23zm0-26zm0 27zm0-23zm0 26zm1-32zm0 4zm0-3zm0 20zm0 17zm0-26zm0 4zm0-9zm0 19zm0-1zm0 10zm0-29zm0-6zm0 10zm0 26zm0 1zm0-24zm0-12zm1 14zm0-3zm0-5zm0 15zm0 1zm0-41zm0 7zm0 27zm0-5zm0-1zm0 5zm0-6zm0 6zm0-16zm0-4zm0 14zm0 3zm0 4zm1 9zm0-24zm0 26zm0-28zm0 35zm0-40zm0 19zm0-21zm0 22zm0 2zm0-2zm0-3zm0-15zm0-5zm0 5zm0 20zm0-28zm0 39zm0-19zm1-21zm0 25zm0 14zm0-35zm0 37zm0-32zm0 21zm0-8zm0 5zm0 3zm0 8zm0 2zm0 2zm0-23zm0-7zm0 4zm0-6zm0 15zm0 9zm0-13zm1 11zm0 10zm0-19zm0-9zm0-6zm0 5zm0 12zm0-4zm0 21zm0-9zm0-21zm0 4zm0 14zm0-7zm0 6zm0-10zm1-16zm0 16zm0-14zm0 3zm0-5zm0 12zm0-17zm0 23zm0-23zm0 30zm0-8zm0-9zm0 6zm0 21zm0-30zm0-4zm0 22zm0-24zm1 34zm0-32zm0 25zm0 10zm0-15zm0 23zm0-38zm0 8zm0 8zm0-8zm0-9zm0 15zm0-3zm0 5zm0-2zm0-16zm0 9zm0-27zm0 44zm1-5zm0-3zm0-21zm0 10zm0 17zm0-37zm0 20zm0 13zm0 6zm0-14zm0-2zm0 0zm0 29zm0-23zm0 14zm0-26zm0-4zm0 29zm0-30zm1-14zm0 39zm0-12zm0 30zm0-6zm0-21zm0 1zm0 3zm0 17zm0 5zm0-6zm0-28zm0 9zm0 22zm0 4zm1-36zm0 27zm0-3zm0-17zm0 3zm0 9zm0-29zm0 22zm0 2zm0-10zm0 3zm0 14zm0 16zm0-43zm0 27zm0 24zm0-23zm0-24zm0 11zm0 11zm1 10zm0-5zm0 19zm0-4zm0-15zm0-19zm0 22zm0-10zm0-11zm0 19zm0 7zm0-7zm0 26zm0-56zm0 19zm0-12zm1 1zm0-7zm0 11zm0 2zm0 16zm0-7zm0 8zm0-16zm0 5zm0-10zm0 26zm0-28zm0-1zm0 26zm0-19zm0 5zm0 15zm1-19zm0-17zm0 40zm0 9zm0-2zm0-23zm0-23zm0 4zm0 1zm0-6zm0 18zm0 13zm0-4zm0 12zm0 5zm0 4zm0-18zm0-18zm0 19zm0 5zm0-13zm0 23zm1-16zm0-4zm0 11zm0-29zm0 22zm0 5zm0-2zm0 5zm0 5zm0-44zm1-4zm0 10zm0 9zm0 11zm0-7zm0 2zm0 18zm0-17zm0-15zm0-2zm0-10zm0-4zm0 33zm0 9zm0-29zm0 17zm0 16zm0-37zm0 39zm0 8zm0-52zm0 29zm0-2zm0 34zm0-27zm0 10zm1 0zm0-18zm0-1zm0 20zm0-23zm0 5zm0-9zm0 41zm0-23zm0-14zm0 3zm0 2zm0 25zm0-5zm0-7zm0-21zm1 1zm0 15zm0-18zm0 24zm0-19zm0 7zm0 21zm0-13zm0 6zm0-8zm0-19zm0 0zm0 8zm0 13zm0-11zm0-14zm0 31zm0 2zm1-9zm0-20zm0 6zm0 0zm0 20zm0-26zm0 42zm0-26zm0 1zm0-28zm0 30zm0 9zm0-18zm0 32zm1 1zm0-58zm0 49zm0-16zm0 4zm0 6zm0-3zm0 15zm0-12zm0 11zm0-60zm0 2zm0 66zm0-55zm0 12zm0-9zm0-7zm0 32zm0-2zm0-4zm1-17zm0-2zm0-7zm0 1zm0 26zm0-22zm0 27zm0-31zm0-1zm0-5zm0 12zm0-19zm0 28zm0 4zm0 1zm0-27zm1 49zm0-5zm0-46zm0 6zm0 17zm0 20zm0-8zm0-21zm0 14zm0-21zm0 24zm0 4zm0 10zm0-4zm0-42zm0 11zm0 45zm0-26zm1 8zm0-9zm0 9zm0-12zm0 44zm0-41zm0 33zm0-23zm0-8zm0 25zm1-57zm0 41zm0-50zm0 54zm0 13zm0-20zm0 7zm0-42zm0 54zm0-8zm0-20zm0 17zm0-4zm0 2zm0-11zm0 15zm0-1zm0 5zm0-11zm0 4zm0-27zm0 47zm1-17zm0-6zm0-11zm0 20zm0 1zm0 11zm0-50zm0 50zm0 4zm0-46zm0 29zm0-4zm0-13zm0-3zm0 14zm0-32zm0 66zm0-35zm1 23zm0-39zm0-29zm0-1zm0 62zm0-23zm0-18zm0 14zm0-16zm0 17zm0-7zm0 11zm0 15zm0-5zm0 11zm0 4zm1-15zm0-10zm0 10zm0 33zm0-49zm0-40zm0 37zm0 5zm0 15zm0-11zm0-7zm0 21zm0-38zm0 30zm0-15zm0-16zm1 36zm0-31zm0 21zm0 4zm0 37zm0-61zm0 54zm0-44zm0 36zm0-19zm0-18zm0-29zm0 80zm0-66zm0 28zm0-2zm0 35zm0-61zm1 55zm0-14zm0 15zm0-33zm0-2zm0-8zm0 3zm0-31zm0 53zm0-13zm0-2zm0-27zm0 59zm0-35zm0 3zm0 10zm0-3zm0-27zm0 35zm0-1zm0-20zm1-1zm0 10zm0 22zm0-15zm0 22zm0-27zm0-12zm0 10zm0 1zm0-4zm0 36zm0-26zm0 15zm0-19zm0-2zm1-13zm0 5zm0 25zm0-4zm0-12zm0 8zm0-2zm0 19zm0 0zm0-34zm0 19zm0-32zm0 32zm0-22zm0 28zm0-7zm0-11zm0-7zm0-90zm0 99zm0 10zm1-21zm0-94zm0 100zm0-3zm0-4zm0 30zm0-41zm0 14zm0 12zm0-10zm0-5zm0 18zm0 5zm0 26zm0-38zm0 7zm0 12zm1-9zm0-8zm0-24zm0 78zm0-68zm0 13zm0-78zm0 71zm0-11zm0-11zm0-4zm0 26zm0 20zm0-1zm0-62zm0 100zm0-73zm0 143zm0-151zm0 109zm0-58zm0 27zm0 8zm1-97zm0-3zm0-8zm0 75zm0 9zm0-8zm0-13zm0 9zm0 39zm0 42zm0-93zm0-15zm0 51zm1-13zm0 30zm0 3zm0-33zm0 8zm0-54zm0 81zm0 47zm0-108zm0 32zm0-92zm0 32zm0-22zm0 60zm0-134zm0 223zm0-63zm0-67zm0 50zm0-83zm0 108zm0-106zm0 82zm0 20zm1-48zm0 19zm0-49zm0 45zm0-33zm0 130zm0-108zm0-8zm0-15z"/>
<path transform="scale(0.5)" stroke="#00fa00" stroke-width="4.9" d="M759 204zm0 1zm1-1zm0-6zm0 5zm0-4zm1 6zm0-2zm0-8zm0 4zm0 0zm1 1zm0 3zm0-1zm1 5zm0-9zm0 11zm0-1zm0-7zm0-2zm1 16zm0-17zm0 4zm0 8zm0-2zm1-5zm0-14zm0 17zm0-27zm1 3zm0 6zm0 15zm1-10zm0 5zm0-1zm0-9zm0 5zm0-12zm1 11zm0-7zm0-1zm0 8zm1 10zm0-5zm0 2zm1-4zm0-3zm0 2zm0-1zm0 7zm0-13zm0 4zm1-1zm0 10zm0-2zm0 2zm1 3zm0-5zm0 1zm0 2zm0 0zm1 3zm0-1zm0 1zm0 0zm1-1zm0 0zm0 2zm1-6zm0 0zm0 1zm0 0zm0 0zm1 3zm0 2zm0-2zm0 1zm0-2zm1 0zm0 2zm0-1zm0-1zm0 1zm1 0zm0-1zm0 0zm1-6zm0 11zm0-8zm0-3zm0 0zm0 3zm0 2zm1 0zm0-3zm1 0zm0 1zm0-1zm0-1zm0 2zm1-1zm0 2zm0 6zm0-3zm0 1zm1 3zm0 0zm0-1zm0-2zm0 0zm1-3zm0-1zm1-2zm0-1zm0 5zm0-4zm0 3zm0 1zm1-5zm0 5zm0-2zm0-3zm0 3zm1 0zm0-2zm0 1zm0 1zm0 0zm1 5zm0 1zm0-5zm0-2zm0-1zm1 1zm0-1zm0 2zm1 1zm0-1zm0 1zm0-1zm1-1zm0 0zm0 3zm0 4zm0 3zm1 0zm0 1zm0-5zm0 1zm0-2zm0 4zm1 6zm0-4zm0-6zm0 7zm1-1zm0-4zm0-2zm0-2zm1 1zm0-2zm0 5zm0-3zm0 0zm1 5zm0 0zm0-1zm0-2zm0-1zm1-1zm0 1zm0-1zm0-1zm1 4zm0-4zm0 0zm0 1zm1 1zm0-5zm0 1zm0 1zm0 4zm0-6zm1 5zm0 1zm0-3zm1 1zm0-4zm0 0zm0 1zm0 4zm1-3zm0 2zm0-2zm0 0zm0 0zm1 4zm0-1zm0 3zm0 0zm1-11zm0 5zm0 5zm0 3zm1-5zm0 3zm0-5zm0 14zm1-7zm0 2zm0-7zm0 5zm0-3zm0 0zm0 3zm1-3zm0 0zm1-4zm0 5zm0 6zm0-7zm1-1zm0 4zm0-1zm0 4zm0 0zm0-11zm1 5zm0-7zm0 3zm1 6zm0-6zm0 5zm0 0zm0-2zm1 7zm0 0zm0-1zm0-2zm0 3zm0-1zm1-5zm0 9zm0-7zm0-7zm1 7zm0-7zm0 5zm0-1zm0-5zm1 2zm0 6zm0-6zm1 5zm0-3zm0-5zm0 4zm1-2zm0-2zm0-1zm0-2zm0 0zm0 0zm1 5zm0 1zm0-5zm0 10zm0-2zm1 7zm0-2zm0 0zm1-1zm0 0zm0 0zm0-1zm0-2zm0-1zm0-1zm1-1zm0-2zm0 2zm0 0zm0 2zm1-3zm0 4zm1 3zm0-1zm0-8zm0 5zm0 2zm1-6zm0 7zm0-1zm0-7zm1-1zm0 4zm0 1zm0-4zm0 0zm1 5zm0-1zm0 1zm0 0zm1 4zm0-3zm0 1zm0-3zm0 4zm0-3zm1 2zm0-3zm0 3zm1 0zm0 3zm0-2zm0 1zm0 4zm1-7zm0 5zm0-3zm1 1zm0 8zm0-5zm0 3zm0-1zm0-2zm1 3zm0 1zm0-2zm0 5zm0-5zm1 6zm0-3zm0 12zm0-15zm1 18zm0-8zm0-3zm0 3zm0 0zm1-7zm0 6zm0-5zm1 4zm0 3zm0 4zm0-4zm0 6zm0-2zm0-4zm1-4zm0 6zm0-6zm1-5zm0 1zm0 1zm0-1zm0-3zm0 1zm1 3zm0 1zm1-11zm0 6zm0-8zm0 7zm0-1zm0-1zm1-9zm0 6zm0-8zm0-2zm1 24zm0-9zm1 10zm0-2zm0-3zm0 3zm0 4zm0-5zm0 0zm1-8zm0 4zm0 0zm0 1zm1-4zm0 8zm0 2zm0 7zm0-1zm1-9zm0-1zm0 1zm0 1zm0-7zm1 6zm0 2zm0 1zm0-6zm1 3zm0-1zm0-2zm0-2zm1 6zm0-2zm0-1zm0 5zm0-5zm0 6zm1-4zm0 2zm0-6zm1-2zm0-4zm0 8zm0 0zm0 4zm1 0zm0 5zm1-3zm0 2zm0-3zm0-6zm0 1zm0 14zm1-8zm0-5zm0-7zm0 3zm0 2zm1 3zm0-4zm0 4zm0 2zm1 1zm0-4zm0 2zm0 3zm0-4zm1 0zm0 2zm0 2zm0-16zm0 9zm1 15zm0-11zm0 5zm0-8zm1 16zm0-9zm0 1zm0-9zm0 2zm0-14zm1 18zm0-5zm0 8zm0-15zm0 12zm1-8zm0 2zm0 3zm0 7zm1-12zm0 7zm0-4zm0 2zm1 0zm0-7zm0 13zm0-5zm1 17zm0-25zm0 0zm1 18zm0-18zm0 28zm0-6zm0 5zm0-13zm0 16zm1-7zm0-15zm0-8zm1 10zm0-1zm0 0zm0 6zm1-3zm0-2zm0-1zm0 7zm0-2zm0-11zm1 13zm0 3zm0-23zm1 3zm0-1zm0-2zm0 6zm0 1zm1 3zm0 0zm0 2zm0 1zm0 4zm0 1zm1-4zm0-1zm1-3zm0-18zm0 15zm0 4zm0-6zm0 7zm1 1zm0-8zm0 6zm0-16zm1 20zm0-7zm0-2zm0-5zm1 18zm0-5zm0 4zm0-7zm0 4zm1 0zm0 6zm0-3zm0 1zm0-3zm1-10zm0 5zm0-1zm0-18zm0-10zm1 15zm0-8zm0-1zm1 18zm0-14zm0 29zm0-10zm0 4zm0 4zm0-12zm1 6zm0-2zm0-2zm1 7zm0-5zm0-14zm0 16zm0-20zm1 24zm0 5zm0-18zm1 18zm0-9zm0 9zm0-3zm0 19zm0-6zm0 8zm1-24zm0 2zm0-16zm0-17zm0 17zm1-11zm0-9zm1 7zm0 10zm0 8zm0-1zm0 9zm0-10zm0 3zm0-10zm1 15zm1-6zm0 7zm0 5zm0-16zm0 12zm1-4zm0-2zm0 11zm0-17zm0 7zm1-2zm0 6zm0-8zm0 6zm1-8zm0 4zm0-1zm0-4zm0 3zm1 8zm0-11zm0 10zm0 8zm0 3zm1-7zm0 6zm0 9zm1 1zm0-21zm0 28zm0-24zm0 11zm1-3zm0 4zm0-11zm0 1zm0 4zm0-15zm1 17zm0-4zm0-6zm1-29zm0 36zm0-19zm0-16zm0 3zm1 38zm0-13zm0-16zm0 40zm1-1zm0-16zm0 38zm0-36zm0 2zm0-8zm0 34zm1-21zm0-18zm0 19zm0-1zm0 9zm0 8zm0-21zm1 12zm0 12zm0-20zm0 9zm0-10zm0 5zm0 11zm0-15zm0 10zm1 27zm0-20zm0-25zm0 2zm1 45zm0-5zm0-44zm0-5zm0 9zm0 11zm0-18zm0 12zm1-9zm0 4zm0 25zm0-30zm0-17zm1 8zm0 9zm0-9zm0 9zm1 0zm0-12zm0 8zm0 32zm0-36zm1 5zm0 15zm0-17zm0 29zm1-25zm0 4zm0-33zm0 24zm1-18zm0 7zm0 9zm0 5zm0 3zm1-9zm0 4zm0 3zm0-7zm0-5zm1-2zm0 3zm0-6zm0 15zm0-23zm1 28zm0-21zm0 19zm0-30zm1 19zm0 3zm0-4zm1 17zm0 9zm0 17zm0-21zm0 5zm0-17zm1 8zm0-11zm0 13zm0-13zm0 7zm1 4zm0-19zm1 2zm0 17zm0-12zm0-2zm0 0zm0 8zm0-9zm1 1zm0 1zm0 9zm0-10zm1-3zm0 9zm0-12zm1 4zm0-7zm0 14zm0-2zm1-3zm0 1zm0-14zm0 6zm0-6zm1 0zm0 3zm0-1zm0 2zm1-4zm0 3zm0 9zm0-8zm0-1zm0 6zm1-3zm0-3zm0 2zm0 2zm0-1zm1 0zm0-9zm0 1zm1 3zm0-1zm0 15zm0-13zm0-2zm0 11zm1-1zm0-3zm0 2zm1-9zm0 8zm0-11zm0-1zm0 4zm1-3zm0 2zm0 3zm0-6zm0-2zm1 8zm0-2zm0 1zm0 1zm1 12zm0-8zm0 6zm0-6zm0 9zm1-5zm0 3zm0 3zm0-2zm1-4zm0 5zm0 4zm0-17zm0 2zm1 9zm0-7zm0 1zm0-10zm1 3zm0 0zm0-3zm0-2zm0 6zm1 3zm0-7zm0 2zm0 4zm0-2zm1-1zm0-1zm0 0zm0 10zm1-6zm0-1zm0 2zm0 0zm0-3zm1-1zm0-1zm0 4zm0 1zm1 4zm0-7zm0 1zm0 0zm0 0zm1-1zm0 1zm0-1zm0-6zm0 5zm1-4zm0 12zm0-13zm0 14zm1-6zm0 3zm0 1zm1-5zm0-2zm0 9zm0-5zm0-3zm1 5zm0 0zm0 1zm0 3zm1-4zm0 2zm0 0zm0 0zm0 0zm1 4zm0-3zm0-5zm0-3zm0 6zm0-9zm1 11zm0-4zm0 2zm1-1zm0 1zm0-1zm0 0zm0 1zm0 1zm1 0zm0 1zm1-5zm0 15zm0-9zm0 0zm0 3zm0 2zm0-8zm1 8zm0-11zm0-17zm1 2zm0 5zm0 6zm0 1zm0-3zm1 4zm0-8zm0 7zm0 1zm1 3zm0-12zm0 16zm0-2zm0 0zm1-6zm0 0zm0 1zm0 4zm0-4zm1-4zm0 4zm1-1zm0 0zm0 0zm0-1zm0 1zm0-4zm0 3zm1 5zm0-6zm0 7zm0-1zm1-3zm0 1zm0-3zm0 4zm0 4zm1 2zm0-5zm0-2zm0 5zm0-2zm0 0zm1 1zm0-4zm1 1zm0 2zm0-14zm0 23zm0-13zm1-8zm0-5zm0 11zm0-5zm0 3zm0 1zm0 0zm1-2zm0 2zm1 8zm0-11zm0 0zm0 2zm1-4zm0-2zm0 2zm0 5zm1-2zm0 0zm0 0zm0-4zm0 1zm0 0zm1-3zm0 3zm0 7zm1-4zm0 0zm0-2zm0 2zm0-3zm0 1zm1 3zm0-1zm0 0zm0-1zm0 1zm1 0zm0-2zm0 1zm0-1zm1 8zm0 2zm0 0zm0-4zm0 3zm0-3zm1 4zm0-2zm1-2zm0 1zm0 2zm0-3zm0 4zm0-3zm0 1zm1 1zm0 5zm1 2zm0-5zm0-1zm0 1zm0 0zm1 1zm0 3zm0-3zm1-1zm0 0zm0 3zm0-2zm0-1zm0 3zm0-4zm1 2zm0-3zm0-1zm1 5zm0-3zm0 2zm0 4zm1-8zm0 1zm0 2zm0-1zm0-2zm0-4zm1 6zm0-4zm0 3zm1 2zm0-3zm0 6zm0-7zm0 1zm1-2zm0 4zm0-1zm0 1zm1 1zm0 1zm0-4zm0-1zm0 0zm1 3zm0-1zm0 4zm0-1zm0 1zm1-1zm0-1zm0-2zm0 2zm0 1zm0 3zm0-1zm1 0zm0 1zm0-1zm1-2zm0 4zm0-4zm1 2zm0-5zm0 1zm0-3zm0 6zm0-7zm0 5zm1-3zm0 1zm1-1zm0-2zm0 5zm0 0zm0-3zm0 1zm1-5zm0 9zm0-10zm1 4zm0-3zm0 1zm0 7zm0-22zm1 12zm0-11zm0 9zm0 4zm0 4zm0 0zm1 3zm0-4zm0 8zm0-6zm1 4zm0 2zm0-14zm1 10zm0 7zm0-6zm0 5zm1-16zm0 5zm0 2zm0 2zm0-4zm0-4zm1 6zm0 6zm0-3zm0 1zm0-2zm1 2zm0 3zm0 0zm1-6zm0 7zm0-5zm0 2zm0-1zm1-5zm0 2zm0 4zm1 0zm0 1zm0-2zm0 2zm0 7zm0-21zm0-3zm1 10zm0-2zm0 0zm0 1zm1-7zm0 3zm0-3zm0 4zm0 8zm1 4zm0-1zm0-12zm0 15zm0-3zm1 2zm0 7zm0-4zm1-3zm0-2zm0-1zm0 3zm0-3zm1 0zm0 4zm0-5zm0 0zm1-3zm0 3zm0 1zm0-2zm0-3zm1 1zm0 1zm0-1zm0 3zm0-1zm0 4zm1-1zm0 2zm0-7zm1 4zm0-5zm0 6zm0-5zm0 6zm0-2zm1 1zm0-1zm1 0zm0-5zm0 5zm0-1zm0 3zm0-9zm0 8zm1-8zm0 1zm0 5zm0-1zm1 4zm0-5zm0 2zm0-7zm1 3zm0-1zm0 1zm0-6zm1 4zm0 2zm0-6zm0 0zm1 6zm0-8zm0-1zm0 7zm0 3zm1 2zm0-7zm0 1zm0 2zm1-2zm0-6zm0 3zm0 3zm0-1zm1 5zm0-1zm0-3zm0 8zm0-3zm1 0zm0 0zm0-2zm0 4zm1-4zm0 3zm0-3zm0-1zm0 3zm1-1zm0-2zm0-1zm0-1zm1 6zm0-4zm0 2zm1 0zm0-6zm0 4zm0-4zm0 6zm0-3zm1 3zm0 0zm0 1zm0-1zm1 2zm0 0zm0 2zm0 4zm0 0zm0-8zm0 5zm1 1zm0-5zm1 7zm0 1zm0-12zm0 11zm0-8zm1 11zm0-3zm0 5zm0-6zm0-2zm1-3zm0 4zm0 0zm0 1zm1-1zm0-2zm0 0zm0 3zm0-7zm1 1zm0-1zm0-3zm1 3zm0-5zm0 1zm0 0zm0 2zm0-9zm1 8zm0-6zm0 6zm1-4zm0 10zm0-1zm0-1zm0-4zm0-2zm1 0zm0-3zm0-4zm0 8zm0-9zm1 1zm0 1zm0 6zm1 2zm0-7zm0 6zm0 3zm0-1zm1-1zm0 3zm0-2zm0 14zm0-8zm1-1zm0 2zm0-3zm0-15zm0 23zm1-16zm0-1zm0 0zm1 0zm0-11zm0 22zm0 2zm0-4zm0-1zm1 0zm0 1zm0 2zm0-6zm1 1zm0 1zm0 2zm0 1zm1 2zm0-7zm0 8zm1 2zm0-6zm0 6zm0-7zm0 0zm1 7zm0-5zm0 4zm0 3zm0-4zm1-1zm0 1zm0-3zm0-3zm0 1zm0 0zm1-6zm0 0zm0 5zm1-3zm0 2zm0 3zm0 4zm1-9zm0 4zm0-2zm1 5zm0-2zm0-4zm0 0zm0-2zm0 3zm0 2zm0-2zm1 7zm0-4zm0-4zm0 2zm1 0zm0 2zm0 2zm0-4zm1 0zm0-3zm0 3zm0 7zm0-9zm1 6zm0-2zm0-2zm0 3zm0-3zm0 2zm1-2zm0 0zm1 3zm0-2zm0-2zm0 3zm0 0zm0-1zm1 1zm0 2zm0-2zm0-1zm1-2zm0-4zm0 7zm0-6zm0-1zm1 9zm0-5zm0 9zm0-6zm1 4zm0 5zm0 0zm1-6zm0 0zm0 0zm0-2zm0 3zm0 3zm1 0zm0-4zm0-2zm0-4zm0 9zm1-3zm0 3zm0 2zm1-2zm0 5zm0-9zm0-4zm1 2zm0-4zm0 7zm0-6zm0 6zm0-4zm1 6zm0 4zm0-1zm0-2zm0 0zm0-1zm0-1zm1-4zm1 2zm0 1zm0 2zm0-6zm0 1zm1-3zm0 0zm0 6zm0-1zm0-5zm1 3zm0-4zm0-1zm0 4zm1 1zm0 1zm0-1zm0 0zm0 0zm0 1zm1-5zm0 6zm0-1zm1 2zm0-2zm0 1zm0 0zm0 2zm1-4zm0-1zm0 3zm1 1zm0-4zm0 1zm0 3zm0-7zm1 1zm0-3zm0 2zm0-2zm0 2zm0 4zm0-7zm1 5zm0 6zm0 1zm0-2zm1-2zm0-1zm1-2zm0-4zm0 4zm0-3zm0 1zm1 2zm0 1zm0 0zm0 0zm0-1zm1-6zm0 5zm0-3zm0-1zm0 1zm0-5zm1 4zm0-1zm0 5zm1-3zm0 3zm0 1zm0 0zm0-2zm0 7zm1-4zm0 4zm0-5zm1 6zm0-3zm0-2zm1 3zm0 0zm0 0zm0 1zm0-3zm1 0zm0 4zm0-2zm0-5zm0 3zm1 1zm0-1zm0 1zm0-3zm0-1zm0 3zm1 0zm0 0zm0-1zm0 1zm0 0zm1 3zm0-1zm0 3zm0-2zm1 3zm0-6zm0-2zm0-3zm0 4zm1-3zm0 2zm0-3zm0-1zm1 3zm0 4zm0-1zm0-3zm1 9zm0-1zm0-4zm0 0zm0 7zm1-8zm0-1zm0 6zm0-11zm0 2zm1-1zm0 0zm0 4zm0-8zm1 6zm0-5zm0 4zm0-6zm1 7zm0 1zm0 0zm0-1zm1 4zm0-6zm0 0zm0 6zm1-1zm0-6zm0 5zm0 3zm0-4zm1 0zm0-3zm0 1zm0-6zm1 3zm0 2zm0-8zm0 6zm0 3zm1-27zm0 16zm0-1zm0 6zm1 0zm0-4zm0 4zm0 3zm0-1zm1 1zm0 0zm0 1zm0-8zm0 13zm1-4zm0-5zm0 6zm0 3zm0-8zm1 5zm0-2zm0 3zm1 0zm0 2zm0-2zm0 0zm0 4zm1 0zm0 0zm0 0zm0-3zm0 9zm0-3zm1-8zm0 2zm0 1zm1-2zm0-1zm0-2zm0 4zm0-1zm0 3zm1 4zm0-8zm0 6zm0-6zm0 5zm1-5zm0 1zm0 5zm1-9zm0 9zm0-2zm0-2zm1-4zm0 2zm0-4zm0-1zm1 0zm0 1zm0 3zm0-4zm0-1zm0 1zm0 2zm0 0zm1-2zm1 4zm0 1zm0 0zm0-2zm0 0zm1-1zm0 0zm0-1zm0-1zm1-1zm0 2zm0 4zm0-3zm1 8zm0-4zm0 3zm0 1zm0-4zm0 8zm1-2zm0 4zm0-13zm0 10zm1 1zm0 0zm0-5zm0 2zm0 4zm1-8zm0 1zm0 1zm0 3zm1-7zm0 7zm0-2zm0 0zm0 2zm1-5zm0 10zm0-10zm0 5zm1-2zm0-7zm0 0zm0 4zm0-1zm0 0zm1 2zm0 1zm0 4zm0 3zm1-1zm0-4zm0-2zm0 2zm1 1zm0-2zm0 2zm0-3zm1-7zm0 5zm0-4zm0 1zm0-6zm1 4zm0 3zm0-5zm0 0zm1 1zm0-1zm0 4zm0 0zm1-2zm0 5zm0-7zm0 1zm0 4zm1 4zm0 1zm0 2zm0 1zm0 2zm1-1zm0-5zm0-1zm0 2zm1 1zm0-2zm0-9zm0 6zm1-3zm0 3zm0-3zm0-2zm0 2zm0 10zm1 0zm0-6zm0 2zm0 4zm1-1zm0 1zm0-1zm0 1zm0-3zm1 1zm0-5zm0 0zm0 3zm1-2zm0 3zm0-3zm1 7zm0-5zm0 2zm0-1zm0 0zm1-3zm0-1zm0 1zm0 2zm0-1zm0-3zm1 0zm0 3zm0 1zm0 2zm0-1zm1 2zm0 1zm0 1zm0 1zm0-3zm1 0zm0 0zm0 4zm0 3zm1 2zm0-2zm0-8zm1-3zm0 8zm0-6zm0-2zm1 6zm0 2zm0-1zm0-2zm0 0zm0-1zm1 5zm0-12zm0 7zm0-3zm0 3zm1-12zm0 2zm1 8zm0-6zm0 1zm0 0zm0 8zm0 3zm1-8zm0 7zm0 2zm0-6zm0-3zm0 0zm1-3zm0 3zm0 1zm1-1zm0 5zm0-6zm0-2zm0-1zm0 4zm0-4zm1 10zm0-4zm1 1zm0-1zm0-2zm1 4zm0-3zm0 6zm0-5zm0-2zm0 3zm1-1zm0 0zm0 1zm0 0zm1-3zm0 3zm0 0zm0-2zm0 1zm1 0zm0-2zm0-1zm0-3zm1 1zm0 3zm0-3zm0 2zm0 0zm0 2zm1-4zm0 4zm0-1zm0 4zm0 3zm1-3zm0-2zm0 2zm1-2zm0 2zm0-2zm1 1zm0 6zm0-1zm0-6zm0 5zm0 1zm1-4zm0 2zm0 0zm0-2zm1-10zm0-1zm0 8zm0-3zm0 1zm1 0zm0-7zm0 5zm1 7zm0-2zm0-1zm0 2zm0 1zm1-6zm0 6zm0-6zm0 0zm0-1zm0 0zm1 0zm0 0zm0-1zm0-1zm1 0zm0 0zm0 2zm0 1zm1-1zm0 0zm0 0zm0 1zm1 7zm0-6zm0 6zm0-3zm0 3zm0-1zm1 3zm0-5zm0 0zm0 6zm1 0zm0-1zm0 1zm0 2zm0-3zm1 3zm0 3zm0 1zm0 1zm0-4zm1 2zm0 0zm0 12zm0-5zm1-10zm0 8zm0 4zm0 7zm1-13zm0 8zm0 5zm0 2zm0-1zm1-2zm0-2zm0-1zm0 2zm0 4zm1-5zm0 4zm0-7zm0 3zm1 3zm0 0zm0-3zm0 12zm0-9zm1 4zm0 2zm0 0zm0-1zm1-2zm0 10zm0-8zm0 1zm1-1zm0 3zm0 10zm0-13zm1-1zm0 6zm0-6zm0 2zm1 1zm0-4zm0-5zm0 2zm0-2zm0 2zm0 1zm1-3zm0-19zm1 6zm0 18zm0-12zm0 11zm0 7zm0-23zm1-3zm0 4zm0 7zm0-4zm0-4zm0 14zm1-4zm0 4zm0 10zm1-1zm0 4zm0-6zm0-1zm1 7zm0-5zm0-3zm0 3zm0 6zm0-18zm1 1zm0 15zm0-9zm0 23zm1-15zm0-3zm0-16zm0 4zm1 11zm0-5zm0-1zm0-6zm0 13zm1 3zm0 11zm0 3zm1-9zm0 7zm0-12zm0-11zm0 12zm0-17zm0-8zm1 21zm0 5zm1 22zm0-22zm0 11zm0-3zm0 4zm0-9zm1 4zm0-10zm0-10zm0 17zm0 2zm1-5zm0-8zm0 9zm1-2zm0-5zm0-2zm0-1zm0 0zm0-2zm1-1zm0-3zm0 6zm0 1zm0-5zm1 11zm0-6zm0 3zm1 1zm0 2zm0-4zm1 4zm0-13zm0 9zm0-2zm0-8zm1-1zm0 0zm0-2zm0 5zm0 1zm1 3zm0-1zm0-7zm0 6zm1 16zm0-5zm0-2zm0 4zm0 5zm0-23zm0 2zm0 2zm1-6zm1-1zm0 1zm0 2zm0-2zm0-4zm0 8zm0-12zm1 6zm0-8zm0 1zm1 2zm0-3zm0 6zm0-2zm0-1zm0-3zm1-2zm0-5zm0 8zm0-1zm1 0zm0-1zm0 7zm0-1zm1 4zm0-6zm0-9zm1 6zm0 0zm0-12zm0 6zm1-3zm0-6zm0 5zm0-2zm0-5zm0 9zm1 1zm0-13zm0-2zm0-3zm0 5zm0 5zm1 0zm0-7zm0 2zm0-6zm1 7zm0-5zm0-1zm1 7zm0-1zm0-3zm0 0zm0-1zm1 1zm0-1zm0 2zm0 1zm1 0zm0-6zm0 4zm0 0zm0-3zm0-3zm0 10zm1-5zm0 3zm1 0zm0-5zm0 4zm0-5zm0 3zm1-2zm0 2zm0-1zm0 0zm0-2zm1 0zm0-6zm0-3zm0 6zm1-4zm0 5zm0 0zm0 0zm1 6zm0-3zm0 2zm0 8zm1-3zm0 2zm0 1zm0-2zm1-5zm0 5zm0-4zm0 7zm0-5zm0-1zm0-4zm1-5zm0 9zm0 3zm1-3zm0 4zm0 5zm0-10zm0 5zm0-2zm1 6zm0-8zm1 5zm0-1zm0 10zm0-14zm0 9zm1-8zm0-6zm0 4zm0 2zm0-8zm0 7zm1-3zm0 5zm0 0zm0-1zm0-1zm1-3zm0 1zm0 1zm0-6zm0 5zm1 2zm0-5zm0 0zm1 2zm0 0zm0 8zm0-11zm1 2zm0 0zm0-1zm0 1zm1 2zm0 4zm0-1zm0-2zm0 0zm1 5zm0-4zm0-4zm0 3zm0-4zm0-1zm1 6zm0-3zm0 4zm0-3zm1-1zm0-1zm0 4zm0 1zm0 2zm1 0zm0-1zm0 2zm1-5zm0 2zm0 0zm0 4zm1-2zm0-5zm0-1zm0 2zm0 0zm0 1zm1-4zm0 2zm0 0zm1 2zm0 10zm0-12zm0 8zm0-12zm0 25zm1-8zm0-3zm0 0zm0-9zm0 4zm1-10zm0 5zm0-1zm0 1zm1-3zm0 11zm0-5zm0-5zm1 3zm0-1zm0 2zm0-1zm1 2zm0 0zm0-4zm0 3zm1-1zm0 2zm0 0zm0-1zm0 1zm1-5zm0 0zm0 1zm0-1zm1 4zm0-5zm0 1zm0 4zm1-2zm0 0zm0-3zm0 1zm0 2zm0-2zm1 2zm0 0zm0-2zm1 2zm0-2zm0 0zm0 2zm0-4zm0 2zm0-2zm1 6zm0 0zm0-1zm1-9zm0 5zm0 3zm0-6zm0 2zm0 0zm1 3zm0-1zm0-4zm0-1zm1 1zm0 1zm0-1zm1 0zm0 0zm0 1zm0 4zm0-2zm1-2zm0 2zm0-3zm0-1zm0 4zm0-2zm1 4zm0-4zm0-1zm0 9zm1-6zm0 2zm0-1zm1-5zm0 1zm0 2zm0-3zm0-5zm0-4zm0 8zm1 6zm0 0zm0 0zm1 3zm0 2zm0-3zm0-3zm0 3zm1 6zm0 5zm0-12zm0 6zm0-6zm0 13zm1-3zm0-14zm0 13zm1-8zm0 4zm0-5zm0 4zm1-10zm0 5zm0 6zm0-10zm0 0zm1 16zm0-6zm0 7zm1-6zm0-3zm0 1zm0 0zm0-1zm0 0zm0-2zm0 2zm1-1zm0 6zm0-2zm1 0zm0 3zm0-6zm0-1zm1 10zm0-6zm0-1zm1-1zm0-1zm0 5zm0-2zm0-3zm1 5zm0-3zm0 3zm0 0zm1-2zm0-4zm0 0zm0 1zm0-5zm0 1zm0 4zm1-3zm0 3zm0-3zm1 2zm0 1zm0-4zm0 8zm1-7zm0 1zm0-6zm0 0zm0 4zm1-5zm0-2zm0 1zm0 2zm1-2zm0 3zm0-1zm0 7zm0-3zm1 5zm0-6zm0 11zm0-6zm1 0zm0 4zm0-2zm0 1zm0-8zm1 2zm0-2zm0 0zm0 0zm0 4zm1-6zm0 4zm0-4zm1-3zm0 3zm0 4zm0 4zm0-1zm0-11zm1 12zm0-2zm0-3zm0 7zm1-6zm0 5zm0-4zm0 8zm0-6zm1 5zm0-1zm0 0zm0 1zm1 0zm0 3zm0 0zm0-2zm0 0zm0 2zm1-3zm0 0zm0 0zm1-5zm0 6zm0-5zm0-7zm0 12zm1 3zm0-4zm0 0zm0-12zm0 10zm1-11zm0 2zm0 2zm1-1zm0-1zm0 1zm1 4zm0-5zm0 9zm0 0zm0 0zm0-4zm0 0zm0 3zm1-9zm0 5zm0-2zm0 2zm0-4zm1-1zm0 0zm0 5zm1-2zm0 2zm0-1zm0-2zm1 3zm0 2zm0-1zm0 1zm0-2zm1-6zm0 8zm0-7zm0 7zm0-1zm1-3zm0 4zm0-6zm0 7zm0-3zm1-1zm0 4zm1 0zm0-4zm0-1zm0 5zm0 1zm0 0zm1-8zm0 2zm0 11zm0-3zm1-6zm0 4zm0-5zm0 5zm1 1zm0-2zm0 2zm0-1zm0 0zm0 3zm0 2zm1 1zm0-10zm0 6zm0-12zm1 6zm0 3zm0-3zm1 9zm0-5zm0 1zm0 0zm1-8zm0 0zm0 3zm0-1zm0-6zm1 3zm0 5zm0-1zm0 2zm1 1zm0 0zm0-2zm0-2zm0 14zm1-12zm0 4zm0 1zm0 5zm0-11zm1-3zm0 0zm0 5zm0-5zm1 3zm0 1zm0-2zm0 1zm1-1zm0 0zm0 3zm0-2zm0 5zm0-3zm0 3zm1-2zm0 0zm1-5zm0 0zm0-2zm0 2zm0-2zm1 3zm0-2zm0 0zm0-2zm0 8zm1-3zm0 1zm0 3zm1 2zm0-2zm0 0zm0 1zm0-6zm0 1zm1-9zm0-1zm0 1zm0 3zm1 10zm0-6zm0 4zm0 1zm0 3zm1-1zm0-11zm0 7zm1 10zm0-9zm0 0zm0-1zm0 0zm1-4zm0 7zm0-5z"/>
<path transform="scale(0.5)" stroke="#a41ef2" stroke-width="4.9" d="M759 207zm1 2zm0-1zm0 0zm0-3zm0-1zm1 4zm0-2zm0 3zm0-1zm0 3zm0-2zm1 2zm0 2zm0-1zm0-3zm1 3zm0 1zm0-4zm0 0zm0 0zm1-1zm0 0zm0-1zm0 3zm1-3zm0 2zm0 4zm1-2zm0 1zm0 3zm0-4zm0 3zm1 3zm0-2zm0-2zm0 1zm1-2zm0 2zm0 1zm0-2zm0 1zm1-1zm0 0zm0 1zm0 0zm0-1zm0 0zm1-2zm0 1zm0-2zm0 1zm1 0zm0 0zm0 2zm1 0zm0 2zm0 0zm0 1zm0-2zm0 0zm1 1zm0-1zm0 0zm0 1zm1 1zm0-2zm0 1zm1 1zm0-2zm0 2zm0 0zm0 2zm1 0zm0 2zm0 0zm0-3zm0 3zm0 0zm1 0zm0-2zm0-2zm0-2zm0 2zm1 0zm0-2zm0 1zm1 0zm0 0zm0 1zm0-2zm0 0zm0 3zm1-2zm1-1zm0 2zm0-2zm0-1zm0 1zm0-2zm1 1zm0 1zm0-1zm0-7zm0 6zm1-17zm0 5zm0-12zm0-23zm0 8zm0 7zm1-27zm0 5zm0 1zm0-2zm1-2zm0 3zm0 1zm1 0zm0 2zm0 4zm0 2zm0-4zm1 2zm0 1zm0 2zm0 0zm0 3zm1-4zm0 6zm0-5zm0 3zm1 3zm0 7zm0-3zm0 4zm0-6zm1 10zm0-2zm0 3zm1-2zm0 4zm0 2zm0-3zm0 4zm1 3zm0 2zm0 6zm0-4zm0 6zm0 1zm0-4zm1 5zm0 3zm0-1zm1-1zm0 2zm0-2zm0 1zm1 0zm0-1zm0 2zm0 3zm0 2zm1-7zm0 10zm0-3zm0 0zm1 4zm0-3zm0-1zm0-1zm0 4zm0 1zm1 0zm0 1zm0-2zm0 3zm1 0zm0 0zm0-1zm0-1zm1 1zm0-1zm0 2zm0 0zm0 1zm1 1zm0-2zm0 1zm0 2zm1-1zm0 2zm0 0zm1 0zm0 0zm0-1zm0 0zm0 1zm0-1zm0-1zm1-1zm0 1zm0 1zm0-2zm1 1zm0 1zm0-1zm1 3zm0-2zm0 1zm0 1zm0 0zm1 0zm0-1zm0 0zm0 0zm0-1zm0 1zm1 2zm0 1zm0-3zm0 1zm1 1zm0-2zm0-2zm1 5zm0-1zm0 0zm0 1zm1 2zm0-4zm0 1zm0 2zm0 0zm0-1zm0 2zm1-1zm0-2zm0 4zm0 0zm1 1zm0 0zm0-1zm0 0zm0-1zm1 0zm0 2zm0-1zm0 0zm0-2zm1 0zm0 3zm1 0zm0 2zm0-5zm0 0zm0 3zm1-1zm0 0zm0-1zm0 2zm1 2zm0 0zm0-1zm0-1zm1 0zm0 0zm0-1zm0 1zm0 2zm0-1zm0 0zm1-1zm0 2zm0 0zm1 0zm0 2zm0-1zm0 0zm0-3zm0 0zm1 0zm0 1zm0 1zm0-1zm1 3zm0 0zm0 0zm1-2zm0-3zm0 1zm0 1zm0-1zm0 2zm1 1zm0 0zm0 1zm0 0zm0 0zm1 0zm0 2zm0-1zm1-2zm0 3zm0-1zm0 1zm0-2zm0-2zm1 0zm0 0zm0 2zm0-4zm1-2zm0-1zm0 4zm0-10zm1 3zm0-1zm0 4zm0-7zm0 2zm1 1zm0-2zm0 2zm0-1zm0 3zm0-3zm1 0zm0 5zm1-2zm0-3zm0 1zm0 2zm0-1zm0-3zm1-1zm0-1zm0-2zm1 1zm0 0zm0 0zm0 4zm0-2zm1-3zm0-4zm0 6zm0 2zm0-7zm1 0zm0 6zm0-2zm0-2zm1-1zm0-2zm0 6zm0-9zm1-1zm0-1zm0 1zm0 3zm0-2zm1 7zm0 1zm0-7zm0 4zm1-5zm0 1zm0-4zm0 4zm0 1zm0 3zm1-1zm0-3zm1 3zm0 0zm0 1zm0-3zm0 3zm0-3zm0 3zm0 2zm1-1zm0 6zm1 2zm0-8zm0 14zm0-15zm0 4zm1 0zm0 1zm0-2zm0 5zm0-4zm1 0zm0 0zm0-2zm1-1zm0-1zm0 0zm0 4zm0-6zm1 5zm0-6zm0 5zm0-3zm0 1zm0-2zm1 2zm0-1zm1 1zm0-1zm0 0zm0 0zm0 2zm0 1zm0 0zm1-2zm0 2zm0 0zm1 2zm0 1zm0-4zm0 3zm0 5zm1-4zm0-1zm0 10zm0-11zm0 9zm0 1zm1-5zm0-7zm0 6zm0-8zm1 1zm0 1zm0 4zm1-2zm0 0zm0 7zm0-3zm0 1zm1-2zm0 3zm0-14zm0 7zm0 3zm1-6zm0 3zm0-1zm0-5zm1 6zm0-4zm0 7zm0-8zm0 2zm1-4zm0 0zm0 2zm0-3zm0-2zm1 0zm0 2zm0-3zm1 0zm0 1zm0 1zm0-5zm0-2zm1 2zm0 0zm0 2zm0 2zm0-2zm1 6zm0 6zm0-11zm1 2zm0 8zm0-7zm0 6zm0 5zm1 0zm0-2zm0 3zm0-7zm0 3zm0-3zm1 0zm0-6zm0 4zm0 0zm1 1zm0 5zm0-1zm0-2zm0 0zm1 0zm0 2zm0-1zm1 0zm0 1zm0 4zm0-6zm0 2zm1 3zm0 1zm0 2zm0 1zm0-5zm1 4zm0-7zm1 0zm0-6zm0-2zm0 6zm0 0zm0-7zm0 2zm1 4zm0-2zm0 4zm0-1zm0-1zm1 0zm0-3zm0 1zm1-2zm0-1zm0 4zm1 5zm0 2zm0 4zm0-17zm0 13zm1-9zm1 10zm0-1zm1-7zm0 2zm1 1zm0-5zm1 9zm0-4zm1-14zm0 9zm0-16zm1 12zm1 9zm0-16zm0 10zm0-3zm1 2zm0 6zm0 0zm1 2zm0-17zm0-1zm1 1zm0-11zm0-5zm0 10zm1 6zm1 24zm0-12zm0 5zm1 2zm0 0zm0 0zm0-4zm0 9zm1-11zm0 1zm1-4zm0 9zm2-9zm0-6zm0 0zm1-6zm0 11zm0 11zm1-5zm0 16zm0-15zm1 19zm0-5zm1-11zm1 1zm0-12zm1 20zm0-5zm0-11zm1 26zm0-17zm0 33zm1-24zm0 19zm1-6zm0-7zm0-9zm1-25zm1-9zm0 6zm1 11zm1-11zm0 37zm0-24zm1 7zm1-8zm0 0zm0 7zm1 0zm1-1zm0 1zm0 12zm0-9zm1 10zm1-9zm0 10zm0-6zm1 9zm0-14zm1 17zm1-23zm0 0zm0-6zm1 2zm0-6zm1 14zm0 4zm0-1zm0 1zm1-6zm0-1zm0-8zm1-10zm0 12zm1-3zm0 15zm1-1zm0 3zm1 1zm0 0zm0-4zm1 3zm0 6zm0-4zm0-2zm1 9zm0-2zm1 4zm0-1zm0 0zm0 0zm0 1zm1-2zm0 0zm0 1zm0-1zm0 2zm0 0zm1-1zm0 1zm0 0zm1 0zm0 0zm0-1zm0 1zm0 0zm1 0zm0 0zm0 0zm1-1zm0 0zm0 1zm0 1zm0-2zm0 1zm1 0zm0-2zm0 1zm1-1zm0 1zm0 0zm0-1zm0 0zm0 0zm0 1zm1 1zm0-1zm0-1zm1 1zm0-1zm0 0zm0-1zm0 0zm1 1zm0-1zm0 0zm1-1zm0 1zm0 1zm0-1zm0 0zm0 1zm1 1zm0-2zm1 1zm0 0zm0 0zm0 0zm0-1zm0 1zm0 1zm0 0zm1-1zm0 1zm0 0zm1-1zm0 1zm0 0zm0 0zm0-1zm1 1zm0 1zm0-1zm0 1zm0-2zm0 1zm1 1zm0 0zm1 0zm0-1zm0 2zm0 0zm0-1zm1-1zm0 0zm0 2zm0-2zm0 2zm0 0zm1 0zm0-1zm0 0zm1-1zm0-1zm0 0zm0 0zm1 1zm0 0zm0 1zm0 1zm0-2zm1 1zm0 2zm0-1zm0 1zm0-1zm1-1zm0 0zm0 0zm0-1zm0 2zm1-3zm0 1zm0 0zm0 0zm0 1zm1 0zm0-1zm0 0zm0 0zm1 0zm0 1zm0-1zm1 1zm0-1zm0 1zm0-1zm0 2zm0-1zm0 0zm1 1zm0 0zm1-1zm0 2zm0-1zm0 1zm0-1zm0-1zm1 1zm0-1zm0 0zm1 0zm0-1zm0 0zm0-1zm0 2zm1-1zm0 0zm0 1zm0 0zm1 0zm0 1zm0-2zm0 2zm0 0zm1 0zm0-1zm0-2zm0 0zm1 2zm0-1zm0 0zm0 0zm0-1zm0 1zm1-1zm0 1zm0 0zm1 0zm0 0zm0 1zm0-1zm0-1zm0-1zm1 1zm0 0zm0-1zm0-1zm0 1zm0 0zm1 1zm0 1zm0-1zm1 1zm0 1zm0-2zm0-1zm0 2zm1 2zm0-1zm0 0zm1 0zm0 0zm0-1zm0 1zm1 0zm0 0zm0-1zm0 0zm0 2zm0-1zm1 0zm0 0zm0 0zm1 0zm0 1zm0 0zm0-2zm1 0zm0 0zm0-1zm0 0zm0 0zm0-1zm1 1zm0 1zm0-1zm0-1zm1 1zm0 0zm0 0zm1 0zm0 0zm0 1zm0-1zm0 0zm0-1zm0 0zm1 1zm0 0zm0-1zm1 0zm0 1zm0-1zm0 0zm0 1zm1 0zm0-1zm0 1zm0 0zm1-1zm0 0zm0 1zm0-1zm0 1zm1 0zm0 0zm0-1zm0 0zm1 0zm0-1zm0 0zm0 0zm0 2zm1-2zm0 0zm0 0zm0-1zm0 2zm1 1zm0-2zm0 1zm0 2zm1 1zm0-2zm0 2zm0-1zm1 0zm0 1zm0-1zm0-1zm0 0zm1 0zm0-1zm0 1zm0 0zm1 0zm0 0zm0 0zm0 1zm1-1zm0 1zm0-1zm0 0zm0 0zm0 0zm1 1zm0-1zm0 1zm0 0zm1 0zm0 0zm0 0zm1-1zm0 1zm0 0zm0-1zm0 0zm0 1zm0-1zm1 1zm0-1zm0 0zm0 0zm1-1zm0 1zm0-1zm0 1zm0-1zm0 1zm1-1zm0 0zm0 1zm1-1zm0 1zm0 0zm0 1zm0-1zm0 0zm1 0zm0 0zm1 0zm0 0zm0 1zm0-1zm0 0zm0 0zm1 2zm0 0zm1 0zm0 0zm0 0zm0 0zm0 0zm0 0zm1 0zm0-1zm0 0zm0-1zm0 1zm0 0zm1 1zm0 0zm0 0zm0-1zm1 1zm0-1zm1 0zm0 0zm0 1zm0-1zm0 1zm0-1zm1-1zm0 0zm0 0zm0 0zm0 1zm1 0zm0 1zm0 0zm1-1zm0 1zm0 1zm0 0zm0-1zm0 0zm1-1zm0 0zm0 1zm0 0zm0-2zm1 0zm0 0zm0 2zm0 0zm1 0zm0 2zm0-1zm0 1zm0-1zm1 0zm0 0zm0-1zm0 0zm0 0zm1 1zm0 0zm1 0zm0 1zm0-1zm0-1zm0 3zm0-1zm1 0zm0-2zm0 2zm0-2zm0 0zm1 1zm0 0zm0-1zm0 1zm0-1zm1 2zm0-1zm0 0zm0 0zm1 0zm0-1zm0 2zm0-1zm1-2zm0 2zm0-1zm0-1zm0 1zm1 0zm0-2zm0 1zm1-1zm0 1zm0 0zm0 0zm0 1zm1 0zm0 0zm0 0zm0-2zm0 2zm1-1zm0 1zm0-2zm0 1zm0 0zm1 1zm0 0zm0 1zm1 0zm0-1zm0 0zm0 2zm1-1zm0 0zm0-1zm0 0zm0 1zm0-1zm1 0zm0 0zm0 1zm1-2zm0 0zm0 3zm0-1zm0-1zm0 1zm1 0zm0 1zm0-1zm0-1zm1 1zm0 1zm0 0zm0 0zm0-1zm0 0zm1-2zm0 1zm0 0zm0 0zm1 1zm0-1zm0 0zm0 0zm1-1zm0 1zm0 1zm0-1zm1 0zm0 0zm0 0zm0 1zm0-1zm0 0zm1-1zm0 2zm0-1zm1 2zm0 0zm0-1zm0 2zm0 0zm0-1zm1 0zm0-1zm0 0zm0-1zm1 0zm0 1zm0 0zm0 2zm1-2zm0 0zm0 2zm0-1zm1-2zm0-1zm0 0zm0 1zm0 0zm0 0zm1 0zm0-1zm0 0zm1 1zm0 0zm0 1zm0-1zm0 1zm0-1zm1 1zm0 0zm0 0zm0 0zm0-1zm1 1zm1 0zm0-1zm0 0zm0 0zm0 1zm1 0zm0 0zm0 0zm0 0zm0-1zm0 0zm1 0zm0 1zm0 0zm0-1zm0 0zm1 0zm0 0zm0-1zm1-1zm0-1zm0 2zm0 0zm0-1zm0 3zm0-1zm1 1zm1 0zm0 1zm0 1zm0 0zm0-4zm1 5zm0-1zm0-2zm0 3zm0-2zm1 4zm0-10zm0 6zm0 0zm0-6zm1 5zm0-5zm0 3zm0-3zm1-3zm0 5zm0 5zm0-5zm0 4zm1 0zm0 4zm0-76zm0 50zm0-32zm0 68zm0-6zm0-70zm1 75zm0 0zm0-51zm0-27zm0 73zm0-27zm0 31zm0 0zm1-5zm0-4zm0 0zm0-1zm0 0zm1-41zm0 45zm0-2zm0-3zm0-6zm0-11zm0 14zm0-55zm0 56zm1-9zm0-23zm0-39zm0 27zm0 29zm0 2zm1-10zm0-39zm0 44zm0-49zm0 53zm0-2zm0 6zm1-4zm0 1zm0 13zm0-5zm0 0zm0 1zm1 5zm0-8zm0-1zm0 5zm1 12zm0-9zm0 10zm1-5zm0 1zm0-4zm0-15zm0 7zm0-1zm0 1zm1-5zm0-5zm0-5zm0 11zm1 10zm0-24zm0 16zm1 2zm0-9zm0 0zm0 8zm0 7zm1-7zm0 3zm0 9zm1-18zm0 15zm0-19zm0 19zm0-17zm0 3zm1 0zm0-4zm0 5zm0 4zm1-10zm0 15zm0 4zm0-5zm0 4zm0-8zm1 0zm0-4zm0 5zm0 1zm1 0zm0-2zm0 4zm0-5zm0 3zm1 0zm0 0zm0 3zm0 2zm0 1zm1-5zm0 2zm0 4zm1 0zm0-6zm0 2zm0 1zm0-6zm0-1zm1 8zm0-4zm0-1zm0 10zm0-7zm1 5zm0-1zm0 1zm1 4zm0-14zm0 13zm0-5zm1-8zm0 1zm0-3zm0 8zm0-1zm0-1zm1 4zm0-1zm0 5zm1 0zm0 3zm0-2zm0-7zm0-2zm0 4zm1 3zm0 4zm0-4zm1-4zm0 7zm0-4zm0-2zm0 0zm0-1zm1-6zm0 5zm0-6zm1 10zm0-7zm0 5zm0 2zm0-3zm0 0zm1 2zm0 0zm1 5zm0-10zm0 8zm0 3zm0-2zm0-33zm1 31zm0-5zm0 8zm0 2zm0-4zm0 0zm1-6zm0 7zm0-2zm0-20zm1 10zm0 6zm0-4zm0-34zm0 3zm0 24zm0 9zm0-4zm1 6zm0 4zm0 1zm0 8zm0-10zm0 1zm1 9zm0-6zm0-3zm0-9zm0 0zm1 3zm1-2zm0 3zm0 0zm0 0zm0 0zm0-2zm1-1zm0 6zm0-2zm0 4zm0-2zm0-1zm1 2zm0-2zm0 3zm0 9zm1-6zm0 6zm0-4zm1-2zm0 3zm0-2zm0 5zm0-1zm0-6zm1-1zm0 8zm0-15zm0-3zm1 3zm0 0zm0-3zm0 8zm0-3zm1 9zm0-1zm0-11zm0 7zm1-9zm0 6zm0-2zm1 6zm0 1zm0-7zm0 5zm0-4zm1 1zm0-6zm0 5zm0 2zm0-1zm0 0zm1-5zm0 3zm0-2zm0 2zm0-1zm1-2zm0 3zm0-5zm0 8zm1 5zm0-1zm0 8zm0 0zm1-7zm0 2zm0 4zm0 0zm0-8zm1-12zm0 9zm0-10zm0 4zm0-1zm0-4zm1 9zm0-2zm0-4zm1 6zm0 1zm0 3zm0-4zm1 5zm0-5zm0-2zm0-7zm0 0zm1 9zm0 6zm0-20zm0 17zm1 4zm0-2zm0-10zm0 7zm1-7zm0 11zm0-11zm0-3zm1 7zm0 5zm0-1zm0-7zm0 9zm0-5zm1-2zm0-3zm0 2zm0-4zm0 3zm0-7zm1 5zm0 0zm0 0zm1-3zm0 0zm1 2zm0 0zm0-4zm0 8zm0 5zm0-2zm1-9zm0 2zm0 7zm0 0zm0 2zm1-7zm0-2zm0-4zm0 5zm0-7zm1 8zm0-1zm0-6zm0 5zm0 4zm1-2zm0-3zm1 5zm0-1zm0-1zm0-3zm0 2zm0-1zm0 1zm1-1zm0 1zm0 6zm1 0zm0 7zm0 0zm0-14zm0 7zm1-1zm0 1zm0 5zm0-4zm0-2zm1-6zm0-1zm0-1zm1 5zm0-2zm0-3zm0-1zm0 4zm1-8zm0 1zm0 5zm0 6zm0-1zm1 6zm0 0zm0 2zm1-3zm0 4zm0 2zm0-2zm0-4zm0-11zm0 7zm1-13zm0 2zm0-2zm0 4zm1-1zm0 3zm0-4zm0 6zm0-6zm1 2zm0-3zm0-1zm0 5zm1-3zm0 7zm0-12zm0-1zm1 7zm0-2zm0-1zm0 9zm1-8zm0 11zm0 0zm0 0zm0-3zm0 8zm1-7zm0 10zm0-6zm1-5zm0 2zm0 2zm0-3zm1 5zm0-1zm0 3zm0 1zm0-4zm0 1zm1 1zm0 3zm0 0zm0-3zm0-3zm1 3zm0-1zm0-2zm0-1zm1-4zm0 11zm0-9zm0 1zm0 1zm1-3zm0-1zm0 6zm0 0zm1 3zm0-1zm0 0zm1 4zm0-4zm0 3zm0-12zm0 0zm0 3zm0 1zm1 0zm0 0zm1 0zm0-6zm0 1zm0-6zm0-2zm0 9zm1-5zm0 1zm0-4zm0 3zm1 10zm0-3zm0-4zm0 3zm0 1zm0-1zm1 2zm0 0zm0-3zm1 4zm0 0zm0 21zm0-13zm0-4zm1 2zm0 6zm0-14zm0 6zm1-3zm0 0zm0-1zm0 1zm0-2zm1-4zm0 4zm0-7zm0 3zm0 0zm1 1zm0-1zm0 7zm1-6zm0 7zm0-1zm0 1zm0-3zm0 1zm1-3zm0 1zm0-2zm1 0zm0 2zm0 0zm0 0zm0 1zm0-1zm1-1zm0 0zm1-1zm0 0zm0 3zm0-3zm0-5zm0 1zm1-2zm0 0zm0 3zm0-4zm1 2zm0 7zm0 2zm0 0zm1 3zm0-3zm0-1zm0-1zm0 3zm0-3zm0 0zm1-2zm0 0zm0-3zm0-3zm1 6zm0-7zm0 7zm1 4zm0-4zm0-2zm0 1zm0 3zm1-8zm0-1zm0 1zm0 5zm0-4zm0-1zm1-3zm0-2zm0 5zm1-4zm0 6zm0-1zm0 3zm0 1zm1 2zm0-9zm0 6zm1-8zm0 8zm0-2zm0-6zm0 0zm0 2zm0 0zm1-4zm0 1zm0-1zm1 4zm0 2zm0-5zm0 4zm0-6zm1 3zm0-1zm0-1zm0 4zm0-6zm1 17zm0-1zm1 0zm0 2zm0-2zm0 3zm0-3zm0 7zm1-4zm0 3zm0-3zm0 8zm0-11zm1 8zm0-1zm1-3zm0-4zm0 2zm0-5zm0 4zm1-2zm0-2zm0-2zm0 1zm0 4zm0-1zm1 2zm0 2zm0-2zm0-12zm1-2zm0 5zm0-10zm0 7zm1 2zm0 0zm0-3zm0 1zm0 3zm0-4zm0 2zm0-8zm1 1zm0 1zm0 4zm1-1zm0 2zm0-8zm0 10zm0-8zm1-7zm0 10zm0-8zm1-4zm0 1zm0 1zm0-5zm0 3zm1 5zm0 1zm0 7zm0-8zm0 4zm1-5zm0 9zm0-6zm0-2zm0-2zm1 0zm0 0zm0 1zm1 0zm0 6zm0-3zm0-2zm1 1zm0 2zm0-1zm0 2zm0 1zm1 2zm0-5zm0 5zm0-3zm0 4zm1-3zm0-6zm0 6zm0-1zm0-7zm1 0zm0-7zm0 2zm1 0zm0 1zm0 1zm0-1zm0 6zm1 6zm0 1zm0 4zm0 6zm1-7zm0-4zm0 6zm0-2zm0 6zm1-8zm0 1zm0 4zm0 2zm0-4zm1-3zm0 5zm0-7zm0-3zm0 0zm0-1zm0 1zm1 4zm0 2zm1-2zm0-6zm0 6zm0-2zm1-4zm0 3zm0 1zm0-7zm0 9zm1-7zm0 6zm0 1zm0 0zm0-2zm1 3zm0 0zm0-1zm0-4zm0 1zm1 1zm0 0zm0 2zm0-5zm1 4zm0 3zm0-3zm0-4zm0 2zm1 1zm0 5zm0 0zm0-1zm1 3zm0-4zm0 0zm1 1zm0 2zm0-2zm0 1zm0 2zm1 1zm0 0zm0-2zm0-1zm1 0zm0-7zm0-4zm0-1zm0 6zm0-2zm0 5zm1 3zm0-5zm0-2zm1 4zm0-2zm0 2zm0 0zm0 1zm1-1zm0-1zm0 3zm0 3zm1-2zm0 1zm0-2zm0 4zm1-3zm0 0zm0 1zm0 7zm0-2zm1-6zm0-1zm0-1zm0-1zm0 1zm1-1zm0 2zm0-2zm1 3zm0 0zm0-1zm1 2zm0-1zm0 0zm0-1zm0-1zm0 2zm0-5zm1 5zm0-3zm0-3zm0 3zm0 1zm1-1zm0-2zm1-1zm0 2zm0 2zm0-2zm0-1zm0 1zm1-2zm0 4zm0-7zm0 2zm1 1zm0 4zm0-5zm0 1zm0 3zm0-3zm0 1zm1 2zm0-6zm1 3zm0-6zm0-2zm1 9zm0-6zm0 8zm0-3zm0 5zm0-3zm1 2zm0 0zm0-5zm0 1zm0-2zm0 2zm1 1zm0-2zm0 4zm0-1zm1-2zm0 3zm0-2zm0 2zm1-5zm0 3zm0-3zm0 3zm1 3zm0-4zm0-1zm0-3zm0 4zm0-1zm0 3zm1-1zm0 1zm1 0zm0 1zm0-3zm0 1zm0 2zm0 0zm1 0zm0 2zm0-3zm0 3zm1-6zm0 3zm0-9zm0 0zm0 3zm1-2zm0-3zm0 2zm0 0zm1 1zm0-3zm0 4zm0 0zm1 0zm0 5zm0-4zm0 0zm1 2zm0 2zm0-3zm0 0zm0-2zm0 2zm0 2zm1-3zm0 6zm0-2zm1 5zm0-1zm0-3zm0 1zm1-1zm0 1zm0 2zm0-3zm1 1zm0 0zm0 1zm0-3zm0 3zm1 1zm0-1zm0 1zm0 1zm0-1zm1-4zm0-1zm0-1zm0 3zm1-8zm0 2zm0 3zm0 0zm1-2zm0 3zm0-4zm0 5zm0 2zm0-1zm1 2zm0-5zm0 4zm1-5zm0 2zm0 1zm0-5zm0 4zm1-3zm0 2zm0 0zm0-1zm1-1zm0 4zm0-1zm0 6zm0 2zm0-4zm1 0zm0-1zm0-5zm1 5zm0-5zm0 0zm0-1zm0 0zm1-2zm0 3zm0 1zm0 1zm0-1zm0 0zm1 2zm0-3zm0 5zm0-1zm1-2zm0 3zm0 0zm0-5zm0 3zm1-2zm0 0zm1-1zm0-2zm0 1zm0-1zm0 1zm0 1zm1-1zm0 1zm0 0zm0 5zm1-3zm0 1zm0-1zm0 0zm0 1zm1 0zm0 0zm0 3zm1-1zm0-2zm0 1zm0 1zm0-2zm0 2zm1-2zm0 1zm0 1zm0 4zm0-3zm1 1zm0 3zm0 2zm0-4zm1 5zm0-5zm0-4zm0 2zm1 2zm0-1zm0 2zm0-5zm0 4zm1-3zm0 1zm0 1zm0-3zm0 1zm1 4zm0-3zm0 2zm0 3zm1-2zm0-5zm0 3zm0 0zm0-2zm1 7zm0-4zm0 2zm0 0zm1 6zm0-1zm0-5zm1-5zm0-2zm0 1zm0 0zm0-4zm0 7zm0 2zm1-1zm0 0zm0-1zm0-43zm0 28zm0-3zm0 11zm1 15zm0-5zm0-1zm0 4zm0 2zm0-2zm1-37zm0 41zm0-3zm0-4zm0 4zm0-23zm0-29zm0 51zm1 3zm0-19zm0 10zm0 1zm0 6zm0-17zm0 17zm0 0zm1-35zm0 46zm0-7zm0 2zm0-49zm0 53zm0-39zm1 27zm0 11zm0-9zm0-4zm1 3zm0-6zm0 4zm1 3zm0 1zm0 7zm0-8zm0 6zm0 2zm0-11zm1 4zm0-5zm0 8zm0 3zm1-5zm0 15zm0-13zm0 4zm0 11zm1-3zm0-6zm0 1zm1-4zm0 1zm0-1zm0 9zm0-4zm1-3zm0 0zm0 2zm0 2zm0-1zm1 1zm0 3zm0-5zm0-4zm0-2zm1 9zm0 1zm1 0zm0-4zm0 1zm0-5zm0 13zm0-9zm1-2zm0 4zm0 8zm0-13zm0 4zm1 2zm0 4zm0-4zm0 0zm1-3zm0 7zm0-9zm0 0zm0 0zm0-5zm1 2zm0 9zm0-4zm1 9zm0 3zm0-10zm0 6zm1 1zm0 4zm0-6zm0 7zm0-8zm0 3zm1-3zm0 2zm0 1zm0-7zm1 4zm0 0zm0-1zm0-4zm1-2zm0 2zm0-7zm0 3zm0 0zm1 2zm0-2zm0 3zm1-8zm0 9zm0-13zm0 7zm0-11zm0 1zm1 9zm0-8zm0 0zm0-2zm1 4zm0 4zm0-4zm0-8zm0 3zm1 13zm0-7zm0 1zm0 3zm1 3zm0 2zm0-2zm0 8zm0-7zm1-1zm0 4zm0 3zm0 0zm1-2zm0 5zm0-3zm0-5zm1 3zm0 2zm0-4zm0 4zm0-4zm1-2zm0 2zm0-4zm1 8zm0-4zm0-4zm0 8zm0-6zm0 1zm1-6zm0 14zm0-2zm0-3zm0-1zm0 0zm0-2zm1-4zm0 10zm1-8zm0-3zm0 8zm0 2zm0 8zm1-1zm0-5zm0 8zm0 0zm1-20zm0 4zm0 12zm0-7zm0-4zm1-1zm0 3zm0-3zm0 3zm0 2zm1-7zm0 0zm0 3zm0-3zm1 4zm0 4zm0-10zm0 0zm1 1zm0-5zm0 9zm0-9zm1 8zm0 2zm0 3zm0-2zm0-5zm0-2zm1 0zm0 9zm0-2zm0 2zm0-7zm1 6zm0-11zm0 7zm0-1zm0-3zm1 4zm0 3zm0-3zm0 6zm1-3zm0-6zm1-1zm0 1zm0 2zm0-6zm0 4zm1-7zm0 6zm0-2zm0-3zm0 3zm0-1zm0 0zm1 1zm0 0zm0 1zm1 2zm0-1zm0 2zm0 0zm1-1zm0-2zm0 1zm0-6zm0 0zm0 6zm1-7zm0-3zm1 7zm0-2zm0 4zm0-4zm0 2zm0-3zm1 5zm0-1zm0-2zm0-1zm0 2zm0-1zm1 2zm0-7zm0 5zm0-6zm1-1zm0 5zm1 0zm0 0zm0 1zm0-6zm0 4zm0 2zm1-3zm0 3zm0 0zm0 3zm1-3zm0-2zm0-4zm0 2zm0 3zm1-3zm0 0zm0 2zm1 0zm0-6zm0 2zm0 2zm0 2zm1-2zm0 3zm0-2zm0 0zm0-2zm1 2zm0 2zm0-4zm0-1zm1 2zm0-1zm0 0z"/>
</g>
<g clip-path="url(#c2)" fill="none" stroke-linecap="round">
<path transform="scale(0.5)" stroke="#ff0000" stroke-width="4.9" d="M1401 223zm0 5zm0-27zm0 33zm0-2zm1-13zm0-12zm0 40zm0 13zm0-33zm0-43zm0 42zm0-42zm0 66zm1-47zm0 34zm0 10zm0-21zm0-41zm0 47zm0 4zm0 0zm0 2zm0 21zm0-18zm0 24zm0-89zm0 63zm0-24zm1 8zm0 13zm0 15zm0-64zm0 56zm0-46zm0 80zm0-18zm0-74zm0 30zm0 43zm1-2zm0 8zm0-47zm0 6zm0 18zm0 9zm0-29zm0 28zm1-63zm0 14zm0 28zm0-30zm0-13zm0 93zm0 0zm0-87zm0 10zm0 17zm0 21zm0 29zm0-39zm1 30zm0-6zm0 2zm0-5zm0-78zm0 18zm0-4zm0 50zm0 3zm1 4zm0 9zm0-20zm0-30zm0 61zm0-49zm0-19zm0 17zm0 37zm0-28zm0-5zm0 43zm0-36zm0 9zm0-24zm0 56zm0-26zm1-40zm0-1zm0-11zm0 72zm0-40zm0 19zm0-27zm0 9zm0 63zm0-38zm0-45zm0 23zm1 21zm0 28zm0-49zm0 40zm0-5zm0 31zm0-58zm0-19zm0 50zm0-29zm0-6zm0 25zm0-23zm0 28zm0-13zm1-26zm0 44zm0-55zm0 3zm0 29zm0-9zm0-20zm0-13zm0 6zm0 23zm0-17zm0 0zm1 12zm0 7zm0 26zm0-33zm0 24zm0-20zm0-7zm0-2zm0 17zm0-6zm0 11zm0 21zm0-22zm1-10zm0-20zm0 45zm0-2zm0-15zm0-33zm0 35zm0-4zm0-23zm0 8zm0-16zm1 23zm0-1zm0 18zm0-18zm0 12zm0 20zm0-17zm0 37zm0-22zm0 4zm0-2zm0-22zm1 15zm0-32zm0 43zm0-40zm0 27zm0-16zm0-21zm0 38zm0-12zm1 14zm0-23zm0 37zm0-26zm0 5zm0-14zm0-6zm0 4zm0-12zm0 35zm0 14zm1-9zm0-30zm0-12zm0 1zm0 2zm0 41zm0-22zm1 19zm0-10zm0-30zm0-10zm0 23zm0-13zm0 29zm0 18zm0-3zm1-14zm0-2zm0-15zm0 13zm0 20zm0-24zm0-18zm0 49zm0-40zm1 41zm0-15zm0 24zm0-39zm0 34zm1-29zm0 0zm0 18zm0-15zm0-10zm1 24zm0 0zm0-30zm0 21zm1-22zm0 17zm0 18zm0-36zm0 14zm0 2zm0 3zm1 14zm0-36zm0 4zm0 39zm0-36zm0-4zm0 15zm0 2zm0 17zm0-31zm0-8zm0-16zm0 45zm1 0zm0-15zm0 16zm0 5zm0 14zm0-5zm0-34zm0 6zm0-10zm1 14zm0-1zm0 9zm0-9zm0 23zm0-9zm0 16zm0-35zm0 1zm0-12zm1 45zm0 6zm0-44zm0 9zm0-17zm0 12zm0 68zm0-63zm0 0zm0 10zm0 78zm0-69zm0-21zm1-21zm0 24zm0 10zm0 35zm0 30zm0-66zm0 55zm0-55zm0-7zm0 75zm0-63zm0 86zm0-85zm0 101zm1-129zm0 11zm0-21zm0 6zm0 11zm0-4zm0-9zm0 10zm0 74zm0 36zm0-132zm0 20zm1-22zm0 21zm0-21zm0-2zm0 6zm0 14zm0-11zm0 97zm0 7zm0-116zm0 31zm0-14zm0 26zm0-44zm0-5zm0 1zm0 13zm0 107zm0-122zm0 135zm0-46zm1-77zm0 99zm0-120zm0 12zm0 96zm0-101zm0 126zm0-132zm0 31zm0 115zm0-134zm0 4zm0-3zm0 7zm0-13zm0-3zm0 1zm0 104zm0-103zm0 153zm0-147zm0 18zm0-6zm1-14zm0 1zm0 5zm0 95zm0-101zm0-7zm0 167zm0-148zm0-26zm0-6zm0 7zm0 128zm0-137zm0 24zm0-38zm0 18zm0 6zm0 169zm1-148zm0-41zm0 6zm0-13zm0 190zm0-164zm0-32zm0 58zm0-30zm0-20zm0 17zm0-8zm0-3zm0-2zm0 27zm0-39zm0 21zm0-23zm0 1zm0 12zm0 14zm1-12zm0 4zm0 17zm0-37zm0 19zm0 2zm0 2zm0 15zm0 16zm0-63zm0 58zm0 0zm0-44zm0 43zm1-38zm0 65zm0-65zm0 54zm0-52zm0 24zm0-16zm0 0zm0 8zm0-13zm0-2zm0 8zm0 10zm0-9zm0 1zm0-19zm0 38zm0-26zm0 16zm0 4zm1 9zm0 5zm0-28zm0 29zm0-16zm0 3zm0-24zm0-4zm0 1zm0 5zm0-1zm0 31zm0-25zm0-3zm0 11zm0 22zm0-33zm0-20zm0 16zm0 73zm0-79zm1 7zm0-2zm0 49zm0-57zm0 3zm0 0zm0-10zm0 78zm0-25zm0-20zm0-22zm0-9zm0-9zm0 104zm0-61zm0 25zm1-61zm0-9zm0 34zm0 3zm0 3zm0 14zm0-12zm0 33zm0 19zm0-47zm0-22zm0 18zm0-31zm0 41zm0-24zm0 65zm0-48zm0-23zm0-1zm0 3zm0 5zm0 11zm1-26zm0 23zm0-5zm0 13zm0-6zm0 6zm0 36zm0-39zm0 26zm0-63zm0 48zm0 37zm0-7zm0-21zm0 63zm0-95zm0-16zm1 37zm0-13zm0 3zm0-8zm0 32zm0-22zm0 2zm0-29zm0 9zm0 21zm0 12zm0-18zm0-15zm0 13zm0 2zm0-32zm0 26zm0 4zm0-23zm0 78zm1-70zm0 3zm0 13zm0-32zm0 44zm0-28zm0 9zm0-32zm0 29zm0 1zm0-10zm0-4zm0 8zm0 1zm0 12zm0-26zm1-2zm0 14zm0-9zm0 6zm0 45zm0-40zm0 18zm0-1zm0 5zm0-27zm0-1zm0 1zm0 14zm0 25zm0-40zm0 9zm0 1zm0 32zm0-50zm0 42zm0-4zm0 11zm1-34zm0 45zm0-19zm0 9zm0-29zm0 16zm0 5zm0-5zm0-37zm0 72zm0 54zm0-104zm0 19zm0-45zm0 22zm0 28zm1-5zm0-4zm0-10zm0 16zm0-49zm0 42zm0 17zm0-2zm0-54zm0 16zm0-3zm0 31zm0-29zm0 45zm0-41zm0 4zm0 12zm0-29zm0 12zm1 12zm0-23zm0 19zm0 2zm0-13zm0 12zm0-9zm0-3zm0-25zm0 35zm0-31zm0 38zm0-9zm0 7zm0 5zm0-19zm0 38zm0-11zm0 41zm1-61zm0 7zm0-11zm0 21zm0-24zm0 19zm0 14zm0-23zm0-29zm0 13zm0 46zm0-56zm0 27zm0 12zm0-7zm1-1zm0-1zm0-19zm0 24zm0-26zm0 36zm0 11zm0-15zm0-21zm0-7zm0 29zm0-12zm0 14zm0 19zm0-13zm0-12zm0 25zm0-28zm1-20zm0 17zm0-15zm0 35zm0-44zm0 14zm0-3zm0 17zm0-18zm0 2zm0 37zm0-33zm0 56zm0-35zm0-22zm0 19zm0-13zm0-9zm0 0zm0 51zm0-64zm0-10zm0 47zm0-16zm0 0zm0 10zm0-2zm0-12zm0 73zm1-87zm0 15zm0-9zm0-32zm0 59zm0-7zm0-22zm0 35zm0-34zm0-22zm0 46zm0-2zm0 5zm0-11zm1 6zm0-36zm0 38zm0-5zm0-10zm0-21zm0 9zm0 32zm0 6zm0-18zm0-39zm0 37zm0-21zm0 6zm0 25zm1-45zm0 4zm0 18zm0 8zm0-14zm0 14zm0-13zm0 12zm0-9zm0 6zm0 22zm0-17zm0 7zm0-24zm0-4zm0 15zm0-27zm0 20zm0-17zm0 36zm0 52zm0-36zm1 22zm0-16zm0-44zm0 11zm0-37zm0 49zm0 70zm0-8zm0 7zm0-117zm0 90zm0-26zm0-11zm0-17zm0-5zm0-7zm0 7zm0 16zm0 0zm1-25zm0 19zm0 7zm0-7zm0 11zm0-36zm0-7zm0 21zm0 23zm0 11zm0-19zm0 7zm0 9zm1 82zm0-84zm0-38zm0 23zm0 98zm0-82zm0-7zm0 0zm0 15zm0 72zm0-76zm0 5zm0 28zm0-33zm0 63zm0-54zm0-29zm0 38zm1 10zm0-45zm0 40zm0 38zm0-38zm0 9zm0 6zm0-7zm0-9zm0-29zm0 23zm0 24zm1-21zm0 17zm0-5zm0 1zm0-29zm0 41zm1-24zm0-3zm0 5zm0 39zm0-33zm0 37zm0-13zm0-68zm0-24zm0 58zm0 18zm0-23zm0-35zm0 9zm0 51zm1-26zm0 26zm0-25zm0-59zm0 51zm0-59zm0 45zm0-17zm0 93zm0-57zm0-5zm1-21zm0-30zm0 87zm0-12zm0 13zm0-20zm0 42zm0 16zm0-34zm0-56zm0 27zm0 27zm0-22zm0 23zm0-21zm1 57zm0-124zm0 111zm0-96zm0 87zm0-22zm0-83zm0 58zm0 27zm0-98zm0 6zm0 69zm0-53zm0-9zm0 104zm0-58zm0-35zm1 105zm0-63zm0-86zm0 75zm0 8zm0-53zm0 55zm0 15zm0-7zm0-35zm0-2zm0 49zm0-185zm0 227zm0-203zm0 165zm0-36zm0 93zm0-132zm0 113zm0-101zm0 52zm0 22zm1-8zm0-170zm0 165zm0-11zm0-10zm0-14zm0 10zm0-35zm0-132zm0 22zm0 203zm0-27zm0 66zm0-2zm0-94zm0 29zm0 54zm0-3zm0-53zm0-132zm1-54zm0 209zm0-86zm0 93zm0-221zm0 168zm0 8zm0 55zm0-142zm0 103zm0 19zm0-190zm0 20zm0 187zm0 25zm0-217zm0 162zm0-199zm0 161zm0 17zm0-62zm0 66zm0-17zm1-16zm0-98zm0 39zm0 81zm0-47zm0-9zm0 4zm0-8zm0-109zm0 111zm0 31zm0-28zm0 82zm0-78zm0-20zm0-112zm0 167zm0-26zm0 16zm1-15zm0-17zm0-37zm0 70zm0-58zm0 67zm0 0zm0 40zm0-103zm0 70zm0-28zm0-42zm0-84zm0 136zm0-35zm0 27zm0-13zm1-67zm0 125zm0-172zm0 102zm0 51zm0 5zm0 4zm0 7zm0-48zm0-24zm0 93zm0-188zm0 142zm0-108zm0 152zm0-105zm0-65zm0 199zm0-97zm0 0zm0-54zm0-15zm0 105zm0-123zm0 187zm1 14zm0-111zm0-21zm0 121zm0-2zm0-44zm0-136zm0-62zm0 257zm0-133zm0 32zm0 66zm0-10zm0-145zm0 142zm0-55zm0 39zm0-46zm0 80zm0-99zm0-26zm0 8zm0 121zm1-78zm0-26zm0 67zm0-68zm0 76zm0-62zm0 52zm0-15zm0-38zm0 38zm0-24zm0-77zm0 128zm0-113zm0 67zm0-65zm0 60zm0 16zm1 19zm0-69zm0 59zm0 7zm0-114zm0-6zm0 87zm0-11zm0 32zm0-26zm0 99zm0-1zm0-168zm0 61zm0 93zm0-78zm1-37zm0 4zm0 38zm0-49zm0 36zm0-2zm0-29zm0-25zm0 71zm0 28zm0-42zm0 4zm0-8zm0 22zm0 23zm0-119zm0 136zm1-107zm0-20zm0 75zm0 8zm0 65zm0-127zm0 50zm0 58zm0-26zm0-7zm0-85zm0 170zm0-12zm0-126zm0-18zm0 29zm0 14zm0-14zm0 52zm0 38zm1-97zm0 38zm0-28zm0-15zm0 31zm0 31zm0-10zm0 40zm1-71zm0 79zm0-47zm0 177zm0-101zm0-98zm0 2zm0 62zm0-1zm0-33zm0 78zm1-82zm0 46zm0 80zm0-55zm0 19zm0 38zm0-107zm0-3zm1 47zm0-35zm0-7zm0 35zm0-43zm0 15zm0-26zm0 15zm1 53zm0 91zm0-138zm0 126zm0-112zm0-7zm0 37zm0-41zm0 43zm1-73zm0 64zm0-44zm0 14zm0 3zm0-41zm0 27zm0-27zm0 41zm0-61zm0 33zm0 11zm0-22zm1 33zm0-16zm0 16zm0-3zm0 26zm1-30zm0-18zm0 35zm0-39zm0 11zm0-1zm0 9zm0-5zm1 75zm0-48zm0 43zm0-51zm0 6zm1-10zm0 19zm0-29zm0 30zm0-12zm0 22zm0-8zm0-22zm0-6zm1 32zm0-26zm0 10zm0-9zm0 19zm0 26zm1-68zm0 11zm0-36zm0 0zm0-30zm1 85zm0-2zm0-17zm0-64zm0 45zm0 42zm0-48zm0-14zm1 106zm0-77zm0 42zm0-85zm0 39zm0-11zm0 13zm0 55zm0-49zm1 45zm0-21zm0-49zm0 44zm0-11zm0 81zm0-98zm1 4zm0 76zm1-8zm0-48zm0 28zm0-15zm0 53zm0-31zm0 3zm0-44zm0 54zm0-18zm1 8zm0-57zm0 47zm0 11zm0-41zm0 28zm0-49zm0 49zm1-93zm0 118zm0-47zm0-31zm0 43zm0 25zm0-101zm0 60zm1-14zm0 8zm0-4zm0 44zm0-82zm0 45zm0-1zm0 15zm0-46zm0 59zm1-15zm0-37zm0-29zm0 27zm0 72zm0-112zm0 150zm1-85zm0 70zm0-97zm0 19zm0-53zm0-16zm0 23zm0 58zm0-42zm1 1zm0 30zm0 17zm0-8zm0 29zm0-19zm1 5zm0-27zm0-23zm0 23zm0 17zm0-25zm0-21zm0 30zm0-42zm1 32zm0 30zm0 21zm0-90zm1 22zm0 33zm0 4zm0 27zm0-43zm0 9zm0-23zm0 38zm0-49zm1 36zm0-16zm0 54zm0-1zm0 6zm0-6zm0-1zm0-41zm0-9zm1 34zm0-3zm0-62zm0 48zm0-17zm0 3zm0 3zm0-25zm0 50zm0-18zm0-44zm1 49zm0-34zm0 40zm0-7zm0-80zm1 20zm0 50zm0 5zm0 5zm0-22zm0-20zm0-18zm1 85zm0-4zm0-41zm0-14zm0-23zm0 69zm0-3zm1-39zm0 20zm0-15zm0-3zm0 9zm0 45zm1-35zm0-28zm0 3zm0 68zm0-54zm1-15zm0 26zm0-63zm0 46zm0-17zm0 46zm0-31zm1 11zm0 3zm0-24zm0 7zm0-13zm0 20zm1 4zm0 39zm0-37zm0 15zm0-7zm0 18zm0-2zm1 36zm0-17zm0-23zm0-4zm0-42zm0 11zm0 29zm1-12zm0 25zm0 3zm0 11zm1-74zm0 30zm0 17zm0-35zm0 7zm0 23zm1 1zm0-31zm0 28zm0 24zm0-65zm0 57zm0-24zm1 31zm0 1zm0-15zm0 53zm0-86zm0 36zm0 42zm0-16zm0-11zm0 3zm1-5zm0-11zm0 9zm0-5zm0-5zm0-9zm0-17zm0 43zm1-52zm0 13zm0 54zm0-52zm0 2zm0 9zm0-19zm0 6zm1 10zm0 35zm0-31zm0 22zm0 33zm0-27zm0-13zm0 39zm0-65zm0 56zm0-63zm1-30zm0 15zm0 20zm0 46zm0-31zm0 9zm0-24zm1 22zm0 3zm0 1zm0-18zm0 53zm0-54zm0-4zm1 36zm0 11zm0-28zm0 42zm0-35zm0-7zm0-1zm0 8zm0 11zm0 25zm0-16zm0-63zm0-12zm0 39zm0-3zm1 5zm0-27zm0 25zm0-3zm0-7zm0 55zm0 16zm0-67zm0 26zm0-13zm0 14zm1-22zm0-4zm0 0zm0-6zm0 27zm0-16zm0 8zm0-32zm0 24zm0-33zm0-26zm0 24zm1 39zm0 40zm0-74zm0 51zm0 33zm0-36zm0-13zm0-9zm0-11zm0 17zm0-49zm0 128zm0-40zm0-12zm0-85zm0 46zm1-21zm0 25zm0 21zm0-7zm0 37zm0-58zm0 30zm0-40zm0 35zm0-68zm0 23zm0 50zm1-62zm0 68zm0-84zm0 17zm0 71zm0-41zm0 26zm0-53zm0 55zm0-9zm0 27zm0 68zm0-110zm0 49zm0-2zm0-15zm0-67zm0 47zm0 32zm1-5zm0 38zm0-46zm0-34zm0 43zm0-33zm0 41zm0 16zm0 31zm0-2zm0 31zm0-68zm0-9zm0 77zm0-49zm0 39zm0-22zm0-70zm0 46zm1 24zm0-24zm0-74zm0 102zm0 20zm0-87zm0 13zm0-35zm0 48zm0 64zm0-30zm0-68zm0-3zm0 52zm0-120zm0 42zm0 78zm0-118zm0 38zm0 25zm0-54zm0 45zm1 36zm0 25zm0-18zm0-56zm0 63zm0 15zm0 4zm0 0zm0 19zm0-64zm0 14zm0-45zm0 56zm1-4zm0 18zm0-43zm0-1zm0-24zm0 71zm0-18zm0-6zm0 23zm0-5zm0-9zm0-32zm0-11zm0-35zm0 64zm0 0zm0-47zm1 30zm0-59zm0 71zm0-18zm0-58zm0 17zm0 116zm0-78zm0 29zm0-30zm0 85zm0-103zm0 1zm0 29zm0-10zm0-64zm0 31zm0 112zm0-49zm0-37zm0 36zm1-36zm0 35zm0-30zm0 2zm0-25zm0 69zm0-49zm0-15zm0 76zm0-10zm0-79zm0 24zm0 104zm0-19zm1-43zm0 1zm0-65zm0-1zm0-44zm0 30zm0 14zm0 7zm0-17zm0 99zm0-117zm0 41zm0 97zm0-75zm0-12zm0 54zm0-88zm0-18zm1 100zm0-33zm0-39zm0 52zm0-106zm0 91zm0-91zm0 164zm0-154zm0 63zm0 90zm0-101zm0 59zm0-47zm0 40zm0-41zm0 24zm0-59zm0 143zm0-99zm0 20zm1-25zm0-12zm0 12zm0 66zm0-76zm0 39zm0-39zm0 107zm0 2zm0-83zm0 8zm0-42zm0 52zm0-1zm0-33zm1 84zm0-80zm0 95zm0-157zm0 28zm0 69zm0 18zm0-31zm0-19zm0 7zm0-15zm0-3zm0-44zm0 44zm0 9zm0-17zm0 37zm0-47zm0 64zm0-56zm1 49zm0-30zm0-2zm0-11zm0 9zm0 31zm0-5zm0-39zm0 18zm0 22zm0-28zm0 61zm0-50zm0-24zm0 65zm0-74zm0 20zm0-2zm0-15zm0 34zm0-30zm0-9zm1 20zm0-3zm0-23zm0 21zm0 81zm0-24zm0-78zm0 110zm0-68zm0-16zm0 47zm0 50zm0-47zm1-37zm0 71zm0-72zm0 21zm0-25zm0 30zm0-77zm0 59zm0 68zm0-10zm0-12zm0 17zm0-146zm0 144zm0-64zm0 30zm0-28zm0 16zm0-39zm0 17zm1-13zm0 14zm0-22zm0 17zm0 32zm0-48zm0 1zm0 6zm0 8zm0 41zm0-45zm0-4zm0 3zm0 10zm0-2zm0 41zm0 8zm1-36zm0-23zm0 11zm0-22zm0-3zm0 72zm0-59zm0 36zm0 45zm0-36zm0-11zm0 1zm0-63zm0 52zm0-86zm0-64zm0 121zm0-3zm1 8zm0 23zm0-11zm0-22zm0-86zm0-54zm0 118zm0 23zm0 39zm0-40zm0 2zm0-122zm0 167zm0-96zm0 48zm0 50zm0 33zm0 24zm0-124zm0 93zm0-65zm1-25zm0-31zm0 4zm0 46zm0 16zm0 52zm0 47zm0-263zm0 198zm0-29zm0 35zm0-48zm0-15zm0-6zm0 22zm0 22zm0-6zm0 23zm0-44zm0 9zm1 31zm0-51zm0 46zm0 8zm0-30zm0-12zm0 8zm0-4zm0 11zm0 2zm0-84zm0 94zm0-8zm0-12zm0 14zm0-48zm0 72zm0-123zm0 65zm0 47zm0-7zm1 0zm0-66zm0 99zm0-76zm0 12zm0-88zm0 67zm0 62zm0 3zm0-20zm0-2zm0 33zm0-69zm0 62zm0-6zm0-15zm0 72zm0-66zm1-33zm0 33zm0-21zm0 38zm0-60zm0 77zm0-43zm0-54zm0 40zm0-27zm0 40zm0-37zm0-36zm0 31zm0 43zm0 33zm0-50zm0-9zm0 24zm0-8zm0-44zm0 25zm1-15zm0 82zm0-81zm0 25zm0 24zm0-78zm0 106zm0-27zm0-38zm0 7zm0 32zm0 17zm0-39zm0 17zm1-34zm0 31zm0-39zm0 64zm0-25zm0 40zm0-71zm0-24zm0 54zm0-49zm0 50zm0 4zm0 25zm0-67zm0 111zm0-35zm0-70zm0 12zm0-36zm0 61zm0-52zm0 49zm1-10zm0 10zm0-69zm0 117zm0-78zm0 54zm0 12zm0-43zm0 27zm0-18zm0-40zm0 45zm0-44zm0 15zm0-25zm0 56zm0-15zm1-30zm0 47zm0-13zm0-33zm0 40zm0-14zm0 21zm0-31zm0 3zm0 23zm0-18zm0-6zm0-24zm0 24zm0 46zm1-67zm0 50zm0-40zm0 7zm0 24zm0-26zm0 55zm0-34zm0 5zm0-61zm0 92zm0-76zm0-10zm0 19zm0 57zm0 6zm0-38zm0-11zm0-8zm0 45zm0 2zm1 17zm0-75zm0 55zm0-10zm0 8zm0-59zm0 37zm0 11zm0 25zm0-26zm0-25zm0 1zm0 93zm0-97zm0-21zm0 43zm0-2zm0-2zm1-42zm0-5zm0 134zm0-101zm0-11zm0-2zm0-7zm0-12zm0 31zm0-24zm0 7zm0 4zm0-10zm0 72zm0-71zm0-7zm0 21zm0 51zm0-15zm1-30zm0 22zm0-12zm0-8zm0 34zm0 30zm0 2zm0-44zm0-106zm0 92zm0-1zm0 34zm0-43zm0 77zm0-42zm0 20zm0-75zm0 16zm1 34zm0 2zm0 29zm0-45zm0 2zm0-30zm0-18zm0 115zm0-147zm0 83zm0-8zm0 18zm1-85zm0 62zm0-25zm0-61zm0 102zm0-37zm0 33zm0-80zm0 84zm0-53zm0 32zm0-45zm0 75zm0-75zm0 58zm0 5zm1-13zm0-4zm0-105zm0 90zm0 0zm0 0zm0 30zm0-4zm0-9zm0-8zm0-9zm0-43zm0 74zm0-39zm0-5zm0 31zm0 4zm0-17zm0-26zm0 52zm0 0zm0-52zm1-21zm0 52zm0 8zm0-25zm0-34zm0 7zm0 27zm0 13zm0 29zm0-41zm0-25zm0 2zm1 66zm0 1zm0-65zm0 89zm0-23zm0-70zm0 48zm0 2zm0-2zm0-11zm0 44zm0-50zm1 59zm0-45zm0-14zm0 74zm0-43zm0 11zm0-16zm0-17zm0 16zm0 12zm0 17zm0-39zm0 60zm0-66zm0 22zm0-27zm1 12zm0-3zm0 1zm0 24zm0-21zm0 22zm0-70zm0 71zm0-16zm0 14zm0-17zm0 31zm0-7zm1 26zm0-25zm0 31zm0-4zm0-36zm0 28zm0-58zm0 27zm0-5zm0 8zm0 20zm0 17zm0-30zm0-12zm0 0zm1 26zm0-31zm0 23zm0-31zm0-20zm0 43zm0-50zm0 49zm0-24zm0 8zm1-11zm0 11zm0-10zm0 8zm0 16zm0-26zm0 13zm0-1zm1 1zm0-20zm0 22zm0 4zm0-48zm0 65zm0-43zm0 47zm0-53zm0 21zm0 12zm0 17zm0-40zm0 27zm0-8zm1-17zm0 19zm0-21zm0 15zm0 33zm0-6zm0-5zm0-11zm0-18zm1 27zm0-13zm0-34zm0 9zm0 26zm0 26zm0-17zm0 16zm0-29zm0-10zm1-1zm0 30zm0-49zm0 19zm0 32zm0-30zm0-9zm1 24zm0-4zm0 17zm0-29zm0 37zm0-60zm0 47zm0-27zm0 15zm1-17zm0-14zm0 20zm0 9zm0-3zm0-21zm0 3zm0-9zm0 17zm0-4zm0 23zm1 15zm0-33zm0 17zm0-18zm0 13zm0 1zm0-16zm0 49zm0-24zm0-48zm0 21zm0-1zm0-2zm0 23zm1 11zm0 0zm0-38zm0 33zm0-27zm0-7zm0-12zm0 26zm0 9zm0-11zm1 14zm0-20zm0 34zm0-8zm0-13zm0-6zm0 14zm0 25zm0-14zm0-31zm0 34zm1-23zm0-27zm0 5zm0 43zm0 7zm0-33zm0 7zm0 6zm0-9zm0 11zm0 16zm0-9zm0-34zm1 13zm0-9zm0 31zm0-21zm0-3zm0 33zm0-25zm0-20zm0 22zm0 0zm0 5zm0-4zm0-3zm0 11zm1-21zm0 18zm0-16zm0 14zm0 20zm0-36zm0 49zm0-1zm0-20zm0-10zm0 1zm0 11zm0-10zm0-27zm0 45zm0-8zm1-22zm0 30zm0-26zm0 18zm0-16zm0-32zm0 10zm0 25zm0 2zm0-37zm0 26zm1 7zm0-10zm0 0zm0-30zm0 20zm0 26zm0-21zm0 31zm0-28zm0-13zm0-10zm0 9zm1 11zm0 14zm0 23zm0-15zm0-29zm0 1zm1 45zm0-54zm0 16zm0-23zm0 47zm0-16zm0-31zm0 11zm0 34zm0-39zm0 36zm0-4zm0 30zm0-23zm0 7zm0-27zm0 22zm0-24zm1 27zm0-20zm0-6zm0 13zm0 22zm0-35zm0 5zm0-35zm0 28zm0-8zm0 15zm0 4zm0-3zm0 5zm0 11zm1-15zm0-14zm0 2zm0 14zm0-2zm0 10zm0 7zm0-9zm1-17zm0 8zm0 11zm0-3zm0 3zm0 3zm0 9zm0-19zm0-6zm1 4zm0-4zm0-10zm0-2zm0 20zm0-3zm0-10zm0 12zm0-18zm0 29zm0-23zm0 37zm0-32zm0 7zm1 1zm0 8zm0-6zm0-2zm0 12zm0-57zm0 50zm0 3zm1-4zm0-7zm0 0zm0 12zm0-16zm0-21zm0 35zm0 5zm1-3zm0 16zm0-23zm0 27zm0-52zm0-5zm0 22zm0 6zm0-28zm0 7zm0-8zm0 22zm0-13zm1 7zm0 11zm0 3zm0-15zm0 16zm0 1zm0-27zm0 22zm0 5zm0-27zm0 21zm0-28zm1 29zm0-8zm0 5zm0-10zm0-11zm0 24zm0 7zm0-12zm0-27zm0 28zm1 23zm0-46zm0 29zm0-13zm0 6zm0 0zm0-6zm0 14zm0-4zm0-6zm0 20zm1-25zm0 26zm0-21zm0 19zm0-24zm0-3zm0-1zm0 6zm0 3zm0-17zm0 9zm0 3zm0-1zm0 23zm0-14zm0-9zm1-10zm0 25zm0-14zm0 4zm0 2zm0-4zm0-4zm0 20zm0 30zm0-12zm0 6zm0-28zm1 27zm0-48zm0 20zm0 7zm0 11zm0-17zm0-32zm0 67zm1 0zm0-23zm0 11zm0-17zm0-37zm0 10zm0-18zm0 28zm0-8zm0 22zm0 8zm0-22zm1-7zm0 15zm0-38zm0 30zm0 10zm0-23zm0 11zm0-10zm0 17zm0-3zm1 0zm0-11zm0-27zm0 32zm0-22zm0 27zm0-4zm0 8zm0 18zm0 7zm0-45zm1 3zm0 17zm0 11zm0 2zm0-29zm0 38zm0 13zm0-18zm0-35zm0 31zm0-11zm0-17zm0 24zm1-7zm0 18zm0 1zm0-13zm0-13zm0 35zm0-5zm0-13zm0 5zm0-19zm0 17zm1-3zm0-9zm0 9zm0-10zm0 32zm0-30zm0 20zm0-33zm0 21zm0 1zm1-2zm0-4zm0 2zm0 27zm0-24zm0-12zm0 11zm0-12zm0-7zm0 7zm0 7zm0 30zm1-26zm0-1zm0 16zm0-33zm0-4zm0-8zm0 36zm0-37zm0 13zm0-15zm0 37zm0 4zm0-8zm1-10zm0 19zm0 3zm0 4zm0-7zm0 15zm0-20zm0-38zm0 7zm1 27zm0-13zm0 32zm0-25zm0-11zm0 11zm0-1zm0-30zm0 31zm0 8zm0-17zm0 0zm0 15zm0-1zm0-19zm0 3zm1 27zm0-30zm0 21zm0-7zm0 3zm0 7zm0-3zm0-19zm0 10zm0-7zm0-3zm0-15zm0 16zm1 16zm0 12zm0-61zm0 31zm0-24zm0 38zm0-44zm0 26zm1 6zm0-1zm0-6zm0 8zm0 12zm0 0zm0-6zm0 8zm0-50zm0 15zm0 68zm1-48zm0 39zm0-29zm0 5zm0-6zm0-22zm0 26zm0-26zm1 10zm0 53zm0-34zm0-20zm0 17zm0 19zm0-18zm0-11zm0-3zm0 23zm0-20zm0 18zm0 9zm0-13zm0-16zm1 13zm0-25zm0 27zm0 10zm0-5zm0-9zm0-9zm0 12zm0 7zm0-14zm0-17zm0 8zm0 8zm1 27zm0-16zm0-7zm0 4zm0 5zm0 15zm0-32zm0 24zm0-24zm0-7zm0 10zm0-22zm0 4zm1 44zm0-25zm0 30zm0-22zm0-15zm0 6zm0-15zm0-9zm0 2zm0 53zm0-20zm0-21zm0 37zm0-18zm0-9zm1 17zm0-3zm0-5zm0 8zm0-28zm0 29zm0-35zm0 15zm0-1zm0 30zm0 0zm0 14zm0-14zm0-17zm0 6zm1-44zm0 32zm0-18zm0 10zm0-14zm0 16zm0-4zm0-1zm0-7zm0 13zm0-6zm0 21zm0-9zm0 5zm0-32zm1 36zm0-31zm0-10zm0 29zm0 10zm0 4zm0 3zm0 9zm0-42zm1 8zm0 17zm0-20zm0 8zm0 15zm0 11zm0-11zm0-24zm0 13zm1-9zm0 38zm0-34zm0 11zm0 9zm0-15zm0-4zm0 10zm0-25zm0 5zm0 5zm0 18zm0-6zm0 10zm0-13zm0 0zm1 15zm0 3zm0-13zm0 0zm0-4zm0-19zm0 21zm0-21zm0 37zm0-37zm0 16zm1-2zm0-2zm0 5zm0 5zm0-1zm0 8zm0-13zm0-7zm0-6zm0 7zm1 1zm0 0zm0 3zm0 3zm0-9zm0 29zm1-31zm0 24zm0-32zm0 25zm0 6zm0 0zm0-8zm0-2zm0 8zm0 15zm0-14zm0-9zm0 13zm1-7zm0 2zm0-7zm0 3zm0 10zm0-16zm0 25zm0 9zm0-30zm1 35zm0-11zm0-39zm0 24zm0 11zm0-23zm0 7zm0-11zm0 13zm0 6zm0-13zm0-11zm0 13zm0 18zm0-6zm0-5zm1-13zm0-1zm0 32zm0 6zm0-35zm0 3zm0-7zm0-3zm0-13zm1 25zm0-4zm0-4zm0-7zm0 0zm0-7zm0 31zm0-21zm0 8zm0 12zm0-4zm1-38zm0 32zm0-4zm0 2zm0-10zm0-16zm0 11zm0 21zm0 9zm0-21zm0 0zm0-2zm0 7zm1 5zm0-2zm0-13zm0-6zm0 29zm0-21zm0 18zm0-34zm0 20zm0-2zm0-24zm1 26zm0-4zm0-14zm0 40zm0-10zm0-18zm0-1zm0 14zm0-7zm0 17zm0-5zm0-8zm0-17zm1 19zm0-28zm0 42zm0-20zm0 7zm0-9zm0 35zm0-7zm1-8zm0-5zm0-7zm0-9zm0 20zm0-32zm0-1zm0-5zm0 3zm0 5zm0 34zm0-25zm0 42zm0-55zm0 9zm1-5zm0 0zm0-13zm0 27zm0 9zm0-22zm0 9zm0 10zm0 1zm0-22zm0 20zm0-1zm0-6zm1 5zm0-31zm0 59zm0-6zm0-35zm0-19zm0 25zm0 43zm0-51zm1 46zm0-19zm0 4zm0 3zm0-7zm0-29zm0 9zm0 14zm0 9zm0-37zm0 26zm0-20zm1 20zm0-17zm0 30zm0-27zm0 18zm0-11zm0 9zm0 18zm0-18zm1-6zm0 0zm0-20zm0 10zm0-6zm0 1zm0 36zm0-17zm0-13zm0 23zm0-26zm0-8zm1 5zm0 14zm0-11zm0 0zm0-1zm0 6zm0 4zm0-5zm0-1zm0-12zm0 23zm0-4zm0 13zm0-6zm0-10zm0-3zm1-6zm0 6zm0 29zm0-12zm0-7zm0-2zm0-2zm0-2zm0 8zm0 8zm1-32zm0 8zm0 13zm0 10zm0 3zm0-19zm0 17zm0-24zm0 16zm0-10zm0-4zm0 17zm0 1zm0-26zm1 35zm0-5zm0-1zm0 13zm0-19zm0 18zm0-13zm0-17zm1-4zm0 9zm0 27zm0-2zm0-19zm0-10zm0 14zm0-2zm0-17zm0 9zm0 1zm1-10zm0 0zm0-4zm0-3zm0 20zm0-17zm0 23zm0 5zm0 0zm0-6zm0 4zm1-2zm0-5zm0-16zm0 16zm0-25zm0 40zm0-22zm0 32zm1-8zm0-30zm0 22zm0-44zm0 24zm0 2zm0 4zm0 15zm0-33zm0 2zm0 9zm0-15zm1 32zm0 0zm0-33zm0-12zm0 27zm0 23zm0-53zm0 14zm1 1zm0 24zm0-9zm0 23zm0-28zm0 15zm0 3zm0-18zm0-24zm0 24zm0 36zm0-11zm0-29zm1-17zm0 55zm0-37zm0 16zm0-3zm0 33zm0-10zm0-23zm0 13zm0 24zm0-39zm0-4zm1 15zm0-14zm0 37zm0-24zm0-14zm0 5zm0 10zm0 12zm0 7zm0-20zm0-11zm1-13zm0 11zm0-1zm0-1zm0-14zm0 26zm0 21zm0-35zm0-8zm0 11zm0-4zm0 5zm1 15zm0 7zm0 9zm0-30zm0 14zm0-24zm0 5zm0-2zm0 33zm0-60zm0 50zm0 26zm1-32zm0-5zm0 7zm0-16zm0 40zm0-25zm0 19zm0-17zm0 24zm0-12zm0 15zm1-71zm0 43zm0-43zm0 44zm0-11zm0-16zm0 1zm0 15zm0-7zm0 18zm0-3zm0-39zm1 22zm0 53zm0-78zm0 35zm0-39zm0 14zm0-4zm0 18zm0 7zm0-8zm1-12zm0-7zm0 40zm0-9zm0-14zm0-25zm0 36zm1 0zm0 16zm0-20zm0 8zm0 5zm0-22zm0 20zm0-7zm0-6zm0 9zm0-7zm0 22zm0 18zm1-41zm0 31zm0-15zm0-4zm0-3zm0-8zm0-8zm0-16zm1 66zm0-24zm0-7zm0 3zm0-41zm0 13zm0-1zm0 13zm0 24zm0-13zm0-11zm0 19zm1 22zm0-68zm0 34zm0 36zm0-19zm0-12zm0 22zm0 11zm0-22zm1-28zm0 50zm0-17zm0-17zm0 0zm0-10zm0 49zm0-20zm0 15zm0-40zm0-2zm0-9zm0 23zm1-5zm0 30zm0-19zm0-35zm0 38zm0-26zm0-6zm1 51zm0-33zm0 26zm0 8zm0-11zm0-24zm0-32zm0 51zm0-31zm0 9zm0-11zm0 8zm0-3zm1 2zm0 7zm0 7zm0-15zm0 21zm0-8zm0-13zm0 19zm0-6zm0 3zm1-25zm0-2zm0 55zm0-48zm0-1zm0 12zm0-6zm0-15zm0 1zm0 7zm0 19zm0 4zm0 6zm0-2zm0-9zm1 15zm0-3zm0-31zm0 14zm0 2zm0 10zm0-4zm0-8zm0 23zm0-50zm1 7zm0 48zm0-19zm0 1zm0-21zm0 15zm0-8zm0 10zm0-22zm1 14zm0-8zm0 0zm0 33zm0-43zm0 7zm0 13zm0-2zm0 18zm0-4zm0-11zm1-14zm0-22zm0 46zm0-28zm0 31zm0-34zm0-3zm0 28zm0 4zm1 8zm0-37zm0 7zm0 13zm0-7zm0 20zm0-14zm0 0zm0 13zm0-13zm0-3zm0-15zm0 34zm1-12zm0-24zm0 21zm0-12zm0 29zm0-32zm0 40zm0-20zm0 26zm0 4zm0-18zm0 3zm0-20zm0 23zm0-10zm1-20zm0 9zm0 1zm0-1zm0-3zm0 15zm0-20zm0 19zm0-14zm0-2zm0-2zm0-1zm1 12zm0 28zm0-20zm0-14zm0 14zm0-28zm0 25zm0-11zm0 8zm0-21zm0 8zm1 24zm0-13zm0 13zm0-15zm0-24zm0 7zm0 21zm0-2zm0 2zm0-1zm0-18zm1 26zm0-11zm0-2zm0 18zm0-23zm0 3zm0 9zm0 3zm0-12zm0 4zm0 12zm0 13zm0-8zm1-11zm0 10zm0-13zm0-15zm0 32zm0-16zm0-3zm0-7zm0 4zm0-7zm0 6zm0-26zm0 47zm0-10zm0-12zm0 14zm0-29zm0 28zm1-2zm0 3zm0-13zm0-38zm0 55zm0-57zm0 53zm0 2zm0-46zm1 23zm0 16zm0-17zm0 13zm0 2zm0-22zm0 10zm0-8zm0-3zm0 11zm0 19zm0-34zm1 23zm0-22zm0 17zm0-2zm0-19zm0 40zm0-5zm0-20zm0-1zm0 11zm0 14zm0-21zm0 5zm0-31zm0 12zm1 22zm0 8zm0-37zm0 19zm0 18zm0-8zm0 9zm0-13zm0 4zm0 6zm0-23zm1 4zm0 14zm0 29zm0-29zm0 11zm0 2zm0-23zm0 12zm0 10zm0-13zm1 36zm0-22zm0-24zm0 13zm0-3zm0 14zm0-16zm0 11zm0 6zm0-26zm0 14zm1 31zm0-2zm0-34zm0 7zm0 3zm0-13zm0-12zm0-5zm0 18zm0-1zm1-4zm0 30zm0-18zm0 11zm0-31zm0 31zm0-10zm0-9zm0 29zm0-27zm0 8zm0-3zm0-12zm0 31zm1-16zm0-28zm0 3zm0 35zm0-3zm0-8zm0-28zm0 15zm0 11zm1 8zm0-10zm0 4zm0-38zm0 35zm0-12zm0 8zm0-38zm0 30zm0 1zm0 4zm0 5zm0-7zm1 0zm0-8zm0 14zm0 12zm0-17zm0 16zm0-21zm0-11zm0 16zm0 12zm1-27zm0-1zm0 30zm0-28zm0-10zm0 32zm0 21zm0-10zm0 1zm0-26zm0 36zm0 4zm0-23zm0-4zm1 9zm0 34zm0-60zm0 40zm0-17zm0 2zm0 2zm0 22zm0-33zm0-29zm0 72zm0-40zm1-17zm0 44zm0-49zm0 34zm0-12zm0 15zm0-42zm0-2zm0 15zm0-11zm1 10zm0 18zm0-5zm0-11zm0 26zm0-33zm0 51zm0-15zm0-44zm0-10zm1 36zm0-12zm0-16zm0 13zm0-3zm0-13zm0 21zm0-19zm0-12zm0 42zm0-36zm0 8zm0 18zm1-4zm0 2zm0-5zm0 8zm0 26zm0-15zm0-34zm0-2zm0 63zm1-35zm0 46zm0-19zm0-22zm0-4zm0-18zm0 45zm0 18zm0-58zm1 29zm0-46zm0 11zm0 37zm0-29zm0 3zm0-5zm0 51zm0-29zm0-12zm1-6zm0-1zm0-1zm0 3zm0 23zm0-16zm0-7zm0 16zm0-33zm0 24zm0-10zm1 28zm0-19zm0 2zm0-18zm0 7zm0 9zm0 25zm0-41zm0 42zm0-50zm0 15zm0 32zm0-6zm0-32zm0-14zm1 29zm0-5zm0-6zm0 42zm0-45zm0 8zm0 5zm0 28zm0-53zm0 25zm0 19zm0-8zm1 29zm0-48zm0 4zm0 22zm0-14zm0-3zm0 0zm0 14zm0-7zm0 1zm0 16zm0-5zm1-2zm0-5zm0-25zm0 23zm0-13zm0 1zm0 39zm0-49zm0 31zm0 5zm0-24zm0 5zm0-26zm1 35zm0 13zm0-22zm0-4zm0-2zm0-6zm0 8zm0 35zm1-18zm0-28zm0 24zm0-2zm0-6zm0 24zm0 4zm0-21zm0-3zm0-17zm0 12zm0 12zm0 1zm0 4zm1 1zm0-6zm0-11zm0 2zm0 2zm0 6zm0-11zm0-16zm0 23zm0-11zm0-12zm0 9zm0 16zm0-24zm1 1zm0 41zm0-8zm0-22zm0-5zm0-7zm0 19zm0 0zm0-5zm0 4zm0 8zm0-15zm0 43zm1-42zm0 17zm0-12zm0-13zm0 8zm0 8zm0-12zm0 2zm0-9zm0 22zm0-14zm0 15zm1-19zm0 11zm0-29zm0 2zm0 39zm0-17zm0-14zm0 19zm0 11zm0-3zm1-6zm0-16zm0 12zm0 13zm0 12zm0-35zm0 9zm0 52zm0-43zm0-16zm0 15zm0-19zm1-2zm0 34zm0-1zm0 8zm0-26zm0-10zm0 38zm0-14zm0-14zm0 16zm0-5zm0 0zm0-15zm0 10zm0-3zm1-6zm0 19zm0-37zm0 35zm0-13zm0 1zm0-22zm0 41zm0-15zm0 18zm0-32zm1 11zm0 6zm0-16zm0 8zm0-3zm0 13zm0 29zm0-79zm0 51zm0-22zm0-24zm0 66zm0-43zm0 13zm0 6zm0-26zm1 9zm0 37zm0-50zm0 6zm0 19zm0-16zm0 5zm0-1zm0-7zm0 25zm1 14zm0-29zm0-3zm0-11zm0 10zm0 7zm0-13zm0 37zm0-27zm0-3zm0 8zm0 0zm0-26zm0 42zm1-10zm0-7zm0-1zm0-28zm0 36zm0-39zm0 30zm0-1zm0 8zm0-3zm0 4zm1-8zm0-3zm0 6zm0-9zm0 0zm0 16zm0 1zm0-6zm1 1zm0-10zm0 24zm0-20zm0 27zm0-35zm0 28zm0-10zm0-22zm0 27zm0 22zm0-24zm1-13zm0 1zm0-7zm0 23zm0-15zm0-4zm0 9zm0 14zm0-8zm0-11zm0-18zm0 3zm0 9zm0 23zm0 13zm1-25zm0-10zm0 21zm0 1zm0-7zm0-14zm0 19zm0 17zm0-30zm0 16zm0-32zm1 2zm0 43zm0 10zm0-3zm0-12zm0-2zm1-9zm0 13zm0-50zm0 50zm1-54zm0 51zm0-15zm0 0zm0-35zm0 23zm0-15zm0 23zm0 28zm0-15zm0-25zm0-6zm1-7zm0 34zm0-17zm0 10zm0-48zm0 13zm0 44zm0-28zm0-27zm0 32zm0-14zm0-3zm1 43zm0-38zm0 17zm0 24zm0-35zm0 12zm0-38zm0 73zm0-17zm0 10zm0-25zm0-32zm1 46zm0-24zm0 28zm0-55zm0 42zm0-40zm0 14zm0-17zm0 17zm0 7zm1 2zm0 3zm0-7zm0 9zm0-7zm0-22zm1 11zm0-6zm0 8zm0 15zm0-24zm0 25zm0-19zm0 16zm0 25zm0-7zm0-22zm1-8zm0 25zm0 4zm0-6zm0 0zm0 21zm0-58zm0 7zm0 0zm0 31zm0-28zm1 39zm0-28zm0-23zm0 26zm0-7zm0 6zm0-18zm0 40zm0-2zm0-28zm0 15zm0-2zm1-26zm0 4zm0 8zm0-16zm0 3zm0-4zm0 68zm1-40zm0-7zm0-21zm0-20zm0 41zm0-27zm0 5zm0 52zm0-28zm0 0zm0-6zm0-9zm0-25zm0 7zm1 16zm0-4zm0-21zm0 33zm0 17zm0 12zm0-12zm0-32zm0 14zm1 34zm0-49zm0 37zm0 37zm0-54zm0-11zm1 14zm0 21zm0-57zm0 31zm0-14zm0-14zm0 45zm0 14zm0 3zm0-37zm0-28zm0 2zm0 34zm0 2zm0 17zm0-23zm1 20zm0-41zm0 25zm0 22zm0-12zm0-18zm0-10zm0 1zm1 2zm0-7zm0 33zm0 2zm0 4zm0-4zm0 18zm0-68zm0 19zm0-1zm0-1zm0-17zm1 52zm0-32zm0-5zm0 1zm0 40zm0-3zm0-27zm0 20zm1-2zm0-22zm0 29zm0 7zm0-51zm0 13zm0 29zm0-18zm1 29zm0-27zm0 2zm0-11zm0 20zm0 33zm0-68zm0 14zm0 38zm0 15zm0 65zm0 58zm1-135zm0-17zm0-32zm0 39zm0-13zm0-7zm0 30zm1 4zm0-10zm0-11zm0 20zm0-14zm0-24zm0 26zm0-18zm0-23zm0 30zm0-18zm0 14zm0-21zm0 21zm0-16zm0-10zm1 8zm0 7zm0-20zm0-10zm0 20zm0-7zm0 9zm0-34zm0 25zm0-13zm1 35zm0-15zm0 15zm0 20zm0 0zm0 3zm0-10zm1-31zm0-3zm0-4zm0 21zm0-23zm0 56zm0-33zm0 4zm0 18zm0 5zm0-24zm1-4zm0-17zm0-13zm0 45zm0-11zm0-10zm0-2zm0 56zm0-48zm0-21zm0 35zm0-23zm1-5zm0-6zm0 48zm0-11zm0-28zm0 29zm0-62zm1 71zm0-38zm0 9zm0 19zm0-57zm0 6zm0 46zm0-49zm0-2zm0-8zm0 18zm0-15zm0 32zm0-16zm1 7zm0 35zm0-32zm0 2zm0-10zm0 30zm0-12zm0-8zm0-16zm1 23zm0 9zm0-3zm0-29zm0 38zm0 7zm0-1zm0 13zm0-5zm1-39zm0 40zm0-5zm0-5zm0 8zm0-5zm0-31zm1 12zm0-10zm0 21zm0-3zm0-16zm0 37zm0-49zm0 39zm0-16zm0 9zm0-31zm0-10zm0 61zm0-39zm1 24zm0 2zm0-35zm0 35zm0-40zm0 19zm0-36zm0 52zm0-9zm0-5zm0-14zm0-33zm0 34zm0 5zm0 9zm1 10zm0-16zm0-9zm0 14zm0-28zm0-18zm0 61zm0 5zm0-6zm0-28zm0 16zm1 13zm0-25zm0 0zm0-12zm0 31zm0 11zm0 9zm0-59zm0-1zm0 28zm0-23zm0 46zm0-8zm1-19zm0 7zm0 14zm0-19zm0-37zm0 25zm0 39zm0-5zm0 5zm0-13zm0-9zm0 15zm0-7zm0 5zm1 32zm0-32zm0 6zm0-4zm0-21zm0-3zm0 39zm0-24zm0 4zm0 51zm0-42zm0 3zm1 14zm0-21zm0-22zm0 55zm0-11zm0-21zm0-18zm0-32zm0 47zm0-40zm0 72zm0-35zm0 46zm1-34zm0-18zm0-25zm0 34zm0 1zm0-22zm0-13zm0 1zm0 55zm0-36zm0-1zm0-35zm1 57zm0-32zm0-3zm0 34zm0-5zm0-20zm0 34zm0-24zm0 41zm0-27zm0-28zm0-3zm1 21zm0 25zm0 6zm0-5zm0-6zm0-11zm0 13zm0-28zm0 3zm0-15zm0-7zm0 51zm0-38zm0 1zm0 3zm0 4zm1 61zm0-31zm0-17zm0 26zm0-43zm0 23zm0 47zm0-13zm0-24zm0 4zm1 21zm0-52zm0 59zm0-36zm0 3zm0 2zm0-3zm0-17zm0 2zm0 3zm0 6zm0-37zm0-1zm1-17zm0 58zm0-57zm0 57zm0-9zm0-16zm0 15zm0-24zm0-14zm0 38zm0-4zm0 4zm1 30zm0-53zm0 29zm0 27zm0-23zm0 7zm0-57zm0 32zm0 28zm1-35zm0 26zm0-17zm0-4zm0 14zm0 13zm0-4zm0-21zm0-12zm0 27zm0-24zm0 24zm0-26zm0 27zm1 3zm0-13zm0-20zm0 18zm0-30zm0 35zm0-10zm0-13zm0 40zm0-37zm0 0zm0 38zm1-16zm0 23zm0 0zm0-27zm0 39zm0-6zm0-40zm0 42zm0-8zm0-26zm1 11zm0 26zm0-37zm0 10zm0-6zm0 20zm0-25zm0 19zm0-18zm0 5zm0-5zm0 1zm0 37zm0-24zm0-9zm0-1zm0-18zm1 15zm0-6zm0 32zm0-2zm0-17zm0-7zm0 25zm0-7zm0-6zm0-39zm0 43zm0-32zm0 38zm0-24zm0-6zm0 15zm0 9zm0 4zm1 8zm0-25zm0 6zm0-4zm0 8zm0-21zm0 15zm0 17zm0-11zm0-9zm0-5zm1-12zm0 33zm0-33zm0 11zm0 0zm0 10zm0-18zm0 5zm0 117zm0 75zm0-208zm0-99zm0 114zm0 14zm0-5zm0 8zm0-9zm1-4zm0 5zm0 37zm0-33zm0 11zm0-32zm0 5zm0 16zm0 2zm0 17zm0-39zm0 22zm0 12zm0 1zm0-37zm0 29zm1-11zm0-24zm0 25zm0 16zm0 14zm0-9zm0 2zm0-21zm0 43zm0-33zm0-2zm1-11zm0 15zm0 3zm0 12zm0-25zm0 6zm0-13zm0 39zm0 0zm0-6zm0-14zm0 1zm0-1zm0-7zm1-9zm0-25zm0 38zm0 8zm0 1zm0 8zm0-28zm0-22zm0 16zm0 0zm1 42zm0-27zm0-2zm0 35zm0-61zm0 27zm0-18zm0 20zm0 17zm1-42zm0 27zm0-17zm0-10zm0-2zm0 7zm0-6zm1 31zm0-57zm0 37zm0 24zm0-24zm0-18zm0 15zm0 22zm0-6zm1-13zm0 13zm0-21zm0 7zm0 12zm0 2zm0-32zm0 42zm0-18zm0-34zm0 31zm0-1zm0-17zm0 2zm0 11zm0 23zm0 6zm1-7zm0-5zm0-24zm0-6zm0 51zm0 11zm0-14zm0 2zm0-26zm0 11zm0-35zm0 19zm0 1zm0-12zm1-2zm0 26zm0-7zm0-1zm0 16zm0-35zm0 28zm0-40zm0 32zm0-11zm1 13zm0 8zm0-32zm0 18zm0 27zm0-21zm0 12zm0-3zm0-2zm0 1zm1-3zm0 28zm0-38zm0 12zm0 20zm0-6zm0 6zm0-11zm0 2zm0-10zm0 19zm0-47zm0 27zm0-18zm1-16zm0 33zm0-18zm0 27zm0 2zm0-22zm0-15zm0-13zm0 30zm0 17zm0 9zm1-13zm0 11zm0-8zm0 1zm0-22zm0 27zm0-13zm0-23zm0 13zm0-5zm0 2zm1 25zm0 12zm0-17zm0 2zm0 6zm0 4zm0-38zm0 10zm0 53zm0-37zm0-59zm0 64zm0-20zm0 3zm1 17zm0-70zm0 64zm0-20zm0 2zm0 42zm0-28zm0-8zm0-7zm0 27zm0-24zm0 3zm1-14zm0 8zm0 14zm0-19zm0 3zm0-5zm0 19zm0-21zm0 15zm0-1zm1-17zm0 4zm0-11zm0 31zm0-2zm0 8zm0-49zm0 4zm0 17zm0 20zm0-34zm0 24zm0-18zm1-8zm0 50zm0-7zm0 12zm0-18zm0 13zm0-3zm0 3zm0-13zm0 14zm1-11zm0-20zm0-31zm0 53zm0 3zm0-1zm0-51zm0 55zm0-3zm0-14zm0 20zm0 1zm0-13zm0 2zm0 11zm0-14zm1-41zm0 55zm0-22zm0-2zm0 9zm0-29zm0 14zm0-18zm0 13zm0 39zm1-5zm0 1zm0-53zm0 33zm0 21zm0-4zm1-44zm0 30zm0-7zm0 4zm0-10zm0 20zm0-16zm0-6zm0 31zm0-6zm0-22zm0 29zm0-26zm1 16zm0 9zm0-2zm0-21zm0-23zm0 38zm0 6zm0-10zm0 20zm0-9zm0-39zm0 59zm0-40zm1-16zm0-2zm0-4zm0-1zm0 28zm0-19zm0 18zm0-9zm0 3zm0-8zm0-8zm1 31zm0-46zm0 6zm0 49zm0-37zm0-4zm0 9zm0-4zm0 16zm0-29zm1 14zm0 30zm0 6zm0-39zm0 45zm0-43zm0 39zm0 12zm0-34zm0 10zm0-11zm1 25zm0 0zm0-39zm0 10zm0 0zm0 25zm0-34zm0 43zm0-56zm0 17zm0 24zm0 21zm0-2zm0 1zm0-8zm1 8zm0-44zm0-9zm0-28zm0 41zm0 8zm0 0zm1 21zm0-32zm0 27zm0-62zm0 22zm0-29zm0 47zm0-17zm0 28zm0-27zm0-6zm0-19zm0 73zm0-32zm0-31zm1 38zm0 3zm0-22zm0-13zm0 36zm0-38zm0 28zm0-8zm0 8zm0-1zm1-9zm0 6zm0-5zm0-4zm0 15zm0-21zm0 25zm0 2zm0 17zm0-14zm0-38zm0 2zm0 27zm1-9zm0 12zm0 15zm0-19zm0-12zm0 21zm0-64zm0 25zm0 46zm0-2zm0-14zm0 39zm0-46zm0-4zm1 7zm0-9zm0 33zm0-8zm0-61zm0 53zm0 11zm0 4zm0-63zm1 4zm0 46zm0-25zm0 11zm0-2zm0-22zm0 38zm0 5zm0 9zm0-8zm0-39zm1 36zm0-21zm0 17zm0-14zm0-9zm0 18zm0-5zm0-22zm0 28zm1-1zm0 2zm0 1zm0-15zm0 18zm0-14zm1-32zm0 37zm0-5zm0 18zm0 1zm0-29zm0 9zm0 31zm0-14zm0-9zm0-1zm0 19zm0-40zm0-8zm1 32zm0-10zm0 19zm0-29zm0 43zm0-32zm0 12zm0-5zm1-23zm0 26zm0-12zm0-6zm0-12zm0-4zm0 52zm0 5zm0-41zm0 23zm0-32zm0 18zm0-13zm0 12zm1-27zm0 4zm0 8zm0 22zm0 2zm0-4zm0 6zm0 36zm0-61zm0 35zm0-19zm0 24zm0-22zm0-46zm0 8zm0 21zm1 31zm0-37zm0 3zm0-13zm0 33zm0-21zm0-7zm0 17zm0-38zm0 38zm1 8zm0 5zm0-1zm0-26zm0 3zm0 18zm0-26zm0 24zm0-10zm0-1zm0 16zm0 12zm0 12zm0-35zm0 33zm0-9zm0-15zm0 7zm1 12zm0-6zm0-29zm0 20zm0-1zm0 9zm0-22zm0 15zm0-11zm0 18zm0-8zm0 10zm1-2zm0-19zm0 20zm0-26zm0 13zm0 13zm0-5zm0 10zm0-23zm0-16zm0 17zm0-18zm1 13zm0-4zm0 3zm0 17zm0-28zm0 6zm0 14zm0 17zm0 11zm0-4zm0-25zm0 7zm1-5zm0 9zm0-12zm0-7zm0 5zm0 6zm0 30zm0-19zm0 14zm0-26zm0-24zm0 41zm0 5zm0-16zm1-11zm0 17zm0-10zm0-10zm0 8zm0 35zm0 1zm0-38zm0-2zm0 4zm0 3zm0 26zm0-10zm0 0zm1-2zm0 20zm0-14zm0-37zm0 40zm0-55zm0 32zm0-24zm0 36zm0-16zm1 8zm0-2zm0-31zm0 21zm0 20zm0-7zm0 26zm0-30zm0-17zm1 17zm0 6zm0 18zm0-31zm0 34zm0-57zm0 33zm0 29zm0-13zm0-8zm0-35zm0 22zm0-8zm1-16zm0 43zm0-24zm0 21zm0 28zm0-53zm0 9zm0 22zm0 0zm0 9zm1-28zm0-11zm0 39zm0-47zm0-17zm0 48zm0 23zm0-47zm0 8zm0 6zm0-1zm0 32zm0-53zm0 12zm0-27zm0 29zm0 5zm0 22zm1-37zm0-15zm0 32zm0 2zm0 11zm0 6zm0-3zm0-50zm0-14zm1 43zm0-22zm0 51zm0-47zm0 26zm0-6zm0 0zm0-2zm0-15zm0 25zm0-8zm1-13zm0 9zm0 11zm0-3zm0-16zm0 35zm0-14zm0-24zm0 22zm0-26zm0 45zm0-35zm0-11zm0-16zm1 35zm0 2zm0 24zm0-9zm0-31zm0-13zm0 27zm0 3zm0-15zm0 0zm1-17zm0 10zm0 7zm0-9zm0 14zm0-12zm0 20zm0-23zm0 18zm0-24zm0-4zm1 3zm0-22zm0 20zm0 19zm0-9zm0 3zm0-15zm0 9zm0 34zm0 18zm0-9zm0-15zm0-40zm0 59zm0-34zm0 0zm0 32zm1 4zm0-5zm0-6zm0-28zm0 17zm0-17zm0-3zm0 27zm0 1zm0-15zm1-3zm0 14zm0 6zm0 6zm0 18zm0-48zm0-11zm0 25zm0 47zm0-50zm0 34zm0-21zm0-2zm0-10zm0 20zm0-12zm1 12zm0-35zm0 0zm0-11zm0 37zm0-12zm0 10zm0 18zm0-33zm0 20zm0-6zm0-19zm0-5zm0-26zm1 35zm0-47zm0 68zm0 13zm0-28zm0 8zm0-29zm0 34zm0-44zm0 47zm0-37zm0 28zm0-16zm0-37zm1 60zm0-26zm0 16zm0 16zm0-60zm0 82zm0-56zm0 10zm0 7zm0-14zm1 22zm0-36zm0 48zm0-38zm0-2zm0 33zm0-1zm0 17zm0-54zm0 30zm0 3zm0-50zm0 66zm1-37zm0 12zm0 15zm0-16zm0-20zm0 4zm0 41zm0-15zm0-20zm0 10zm0-16zm0 2zm0-8zm0 5zm0 29zm0-42zm1 21zm0-15zm0 39zm0 5zm0-35zm0-11zm0 14zm0 29zm0-13zm0 12zm0-42zm1-8zm0 23zm0 12zm0-56zm0 57zm0-1zm0 7zm0-7zm1 10zm0-8zm0 9zm0-24zm0-17zm0 26zm0-20zm0 49zm0-19zm0-1zm0-10zm0-1zm0 22zm0-24zm1 33zm0-91zm0 37zm0 17zm0-3zm0 19zm0 13zm0-17zm0-13zm0 1zm1 32zm0-68zm0 48zm0-12zm0-31zm0 35zm0 23zm0-2zm0-56zm0 37zm0 9zm0 5zm0 5zm1-25zm0 34zm0-45zm0 35zm0-62zm0 49zm0-1zm0-10zm0 15zm0 18zm0-55zm1 0zm0 42zm0-5zm0 17zm0-57zm0 37zm0-47zm0 4zm0 14zm0 20zm0 22zm0 0zm0-21zm1 42zm0-20zm0 14zm0-57zm0 16zm0 6zm0-23zm0-15zm0 59zm0-36zm1 23zm0-28zm0 24zm0-25zm0 7zm0-8zm0 2zm0 24zm0-3zm0-10zm0-16zm1 30zm0 17zm0-42zm0-17zm0 35zm0 18zm0-29zm0-49zm0 81zm0-72zm0 87zm0-91zm0 45zm0-39zm1 56zm0-13zm0-2zm0 23zm0 0zm0-56zm1 59zm0 13zm0-48zm0 33zm0-3zm0-31zm0-10zm1 4zm0-2zm0-1zm0 0zm0 18zm0-38zm0-1zm0 27zm0 28zm0-33zm1 3zm0 15zm0 0zm0 35zm0-40zm0-1zm0 40zm0-51zm0 4zm0 24zm0-10zm0-12zm0 2zm0 60zm0-61zm0-6zm1 58zm0-25zm0-37zm0 25zm0-20zm0 11zm0 12zm0-11zm1-16zm0 24zm0-18zm0 14zm0 2zm0 5zm0-19zm0-4zm0 21zm0-36zm0 64zm0-42zm0 1zm1-5zm0 3zm0-41zm0 36zm0-15zm0 33zm0-44zm0 2zm0 23zm0 52zm0-61zm1 35zm0-20zm0 28zm0-43zm0 13zm0 24zm0 13zm0-31zm0 18zm0-10zm0-11zm0-14zm0 11zm1 22zm0-20zm0 9zm0-17zm0 42zm0-30zm0 33zm0-31zm0-51zm0 52zm0 18zm0 0zm0-38zm0-7zm0 60zm0-1zm1-41zm0 8zm0 26zm0 2zm0-22zm0 16zm1-40zm0-14zm0 17zm0 1zm0-7zm0 27zm0-26zm0 25zm0-13zm0 12zm1-20zm0 0zm0 18zm0-53zm0 59zm0-13zm0-23zm0-8zm0 51zm1 2zm0-16zm0-33zm0 80zm0-51zm0 4zm0 18zm0-42zm0-2zm0 22zm0 9zm0-14zm0-3zm0 2zm1 2zm0 8zm0-10zm0 2zm0 9zm0 5zm0-28zm0 22zm0-3zm0 1zm0-21zm0 37zm1-5zm0-23zm0 13zm0 9zm0-46zm1 18zm0 3zm0-3zm0 9zm0 4zm0 13zm0-28zm0 25zm0-37zm0 30zm0-22zm0 36zm0-22zm1 52zm0-8zm0-27zm0-12zm0-20zm0 33zm0 1zm0-24zm0 32zm0-20zm0-2zm0 3zm1 7zm0-5zm0-23zm0-2zm0 40zm0-23zm0 11zm0 28zm0-16zm1-14zm0 15zm0 6zm0 11zm0-30zm0-27zm0 23zm0 25zm0-14zm0 13zm0-58zm0 21zm0 20zm1 5zm0 16zm0-22zm0-33zm0 17zm0 10zm0-19zm0-6zm0-7zm0 47zm0-23zm0-9zm1 32zm0-34zm0-1zm0 25zm0 6zm0 16zm0-20zm0 0zm0-28zm0 30zm1 5zm0-10zm0-6zm0-1zm0-8zm0 16zm0-18zm0 2zm0 32zm0-20zm0-25zm0 50zm0-25zm0-2zm0 6zm0 34zm1-48zm0 14zm0-4zm0-5zm0 45zm0-14zm1 19zm0-38zm0 28zm0-31zm0 7zm0-44zm0 38zm0 24zm0-5zm0 0zm0-67zm0 59zm1-10zm0-13zm0-26zm0 24zm0 3zm0 1zm0-21zm0 15zm0-4zm1 0zm0-2zm0 35zm0-48zm0 52zm0-12zm0 15zm0-33zm0 46zm0-17zm0-17zm0 26zm0-1zm0-26zm0 6zm0 9zm1-55zm0-7zm0 55zm0 39zm0-110zm0 75zm0-3zm0-41zm0 42zm0-56zm0-6zm0 87zm0-20zm1 18zm0-50zm0 5zm0 32zm0-9zm0-21zm0-8zm0 30zm1-8zm0-3zm0-5zm0 28zm0-1zm0-42zm0 24zm0-1zm0-18zm0 8zm0 2zm0 13zm1 4zm0-43zm0 5zm0 53zm0-30zm0 7zm1 5zm0-15zm0 16zm0-18zm0-17zm0 33zm0-5zm0-35zm0 17zm0-10zm0 19zm0 26zm0-22zm1-17zm0 25zm0-46zm0 35zm0-21zm0 6zm0 24zm0-21zm0-7zm0 10zm0-16zm0 4zm1 15zm0 48zm0-76zm0 66zm0-28zm0 6zm0-38zm0 55zm0-19zm0-24zm0 14zm0 27zm0 27zm1-13zm0-57zm0 9zm0-4zm0-21zm0 27zm0 12zm0-1zm0 1zm0-5zm0-13zm1 53zm0-31zm0-18zm0-5zm0-1zm0 37zm0-21zm0 3zm0 31zm0-48zm0 5zm0-16zm0 25zm0 4zm0 23zm0-14zm0-15zm1 11zm0-15zm0 37zm0-20zm0 23zm0 13zm1-26zm0-9zm0 30zm0 17zm0-45zm0-1zm0-32zm0 32zm0-17zm0 42zm0-48zm0 50zm1 5zm0-22zm0 22zm0 16zm0-38zm0 27zm0-40zm0-11zm0 8zm0 45zm0-35zm1 20zm0-23zm0 7zm0 17zm0-43zm0 48zm0-3zm0 7zm0-36zm0 24zm0-32zm0 15zm0 5zm0 3zm0 24zm1-9zm0 5zm0-23zm0 0zm0 19zm0-3zm0-3zm0-6zm0-4zm0-1zm0 19zm0-14zm0 3zm0-1zm0-24zm1 22zm0 9zm0-11zm0 14zm0-17zm0-11zm0 16zm0-12zm1 11zm0-11zm0 3zm0 0zm0-28zm0 32zm0 1zm0-10zm0 21zm0 0zm0-9zm0-5zm0 20zm0-13zm0-9zm1-4zm0 14zm0 27zm0-16zm0-12zm0 10zm0-26zm0 15zm0-8zm0 0zm0 4zm1-9zm0 10zm0-29zm0 44zm0-26zm0 10zm0 26zm0-28zm0 6zm0-2zm0 20zm0-25zm1 6zm0 5zm0-7zm0-4zm0 17zm0 9zm0-18zm0 16zm0-3zm0-14zm0-22zm1 33zm0 1zm0-13zm0-4zm0-2zm0 13zm0-10zm0 20zm0-9zm0-26zm0 2zm0 29zm0-12zm0-6zm0 7zm0-18zm0 26zm0-35zm1 6zm0 0zm0 32zm0-5zm0 17zm0-40zm0-21zm0 36zm0-6zm0-8zm0-20zm1 37zm0-11zm0-17zm0 4zm0-7zm0 13zm0-4zm0-4zm0 27zm0 15zm0-32zm0-8zm0 17zm0-19zm0 47zm0-39zm1 49zm0-51zm0 22zm0 37zm0-44zm0 26zm0-30zm0 37zm0-32zm0 23zm0-16zm0 8zm0-29zm1 30zm0 2zm0-10zm0-7zm0 19zm0-7zm0-3zm0 3zm0-31zm0 33zm0-33zm0 65zm0-57zm0-20zm0 77zm0-22zm1-21zm0 26zm0-35zm0 6zm0 2zm0 17zm0-11zm0-20zm0 18zm0-16zm1-4zm0 31zm0-26zm0 24zm0-35zm0 26zm0-6zm0-4zm0 3zm0 20zm0-15zm0-5zm0-33zm1 32zm0-14zm0 11zm0 36zm0-66zm0 22zm0 19zm0 2zm0-21zm0 29zm0-15zm0 9zm0-19zm0 10zm0-32zm0 38zm1-29zm0 29zm0 13zm0-4zm0-14zm0 14zm0-36zm0 28zm0 0zm0-9zm1 12zm0-28zm0 28zm0 1zm0-6zm0 4zm0-36zm0 42zm0-10zm0 13zm0-19zm0 12zm1 21zm0-33zm0-23zm0 60zm0-11zm0-4zm0 3zm0-21zm0 24zm0-14zm0 13zm0-16zm0-22zm0 40zm1-21zm0 36zm0-74zm0 48zm0-9zm0-1zm0-31zm0 40zm0-50zm0 28zm0 6zm0-2zm1-29zm0 7zm0 10zm0 9zm0 1zm0 14zm0 2zm0-1zm0-4zm0 6zm0-2zm0-36zm1 20zm0 18zm0-12zm0 7zm0 5zm0 1zm0-6zm0-23zm0 7zm0 29zm0-14zm0-35zm0-1zm0 16zm0-10zm0 37zm1-18zm0 7zm0 6zm0-7zm0-6zm0-8zm0-17zm0 46zm0-7zm0-8zm0-2zm0 10zm0 5zm0-15zm1 34zm0-7zm0-30zm0 18zm0 15zm0-17zm0-18zm0 20zm0 8zm0-4zm0-3zm0-5zm1 5zm0-1zm0 0zm0-21zm0 17zm0-1zm0 3zm0 4zm0-13zm0-1zm0 1zm0-6zm0 4zm0 0zm0 11zm0-13zm0-1zm1 11zm0-6zm0-9zm0 11zm0 4zm0-2zm0-7zm0-5zm0 1zm0 3zm0 0zm0 9zm1-8zm0 13zm0-17zm0 21zm0-12zm0-1zm0 22zm0-24zm0 24zm0-15zm0 1zm0 2zm0-4zm1 5zm0-14zm0-3zm0-8zm0-18zm0 11zm0 16zm0-15zm0-14zm0 42zm1 5zm0 1zm0-28zm0 6zm0 19zm0-40zm0 34zm0 5zm0-3zm0 3zm1-37zm0 7zm0 6zm0 7zm0 3zm0 14zm0-32zm0 16zm0-7zm0 29zm0-18zm0-13zm0 25zm0-22zm0-15zm1 15zm0-19zm0 0zm0 30zm0 1zm0 3zm0-15zm0 17zm0 0zm0-14zm0 13zm0-17zm0-19zm0 63zm0-35zm1 16zm0-10zm0-4zm0 18zm0-17zm0 4zm0 19zm0 4zm0-23zm0-12zm0-4zm0 32zm0 2zm0-6zm0-25zm1 0zm0 14zm0-4zm0-7zm0 14zm0-11zm0 25zm0-4zm0-24zm0 30zm0-7zm0-51zm1 35zm0 13zm0-8zm0-33zm0 54zm0 3zm0-41zm0 37zm0-19zm0-23zm0 29zm0-10zm0-8zm0 28zm0-33zm0 24zm0-17zm0-14zm0 7zm1-2zm0 15zm0-13zm0 8zm0-27zm0 36zm0-1zm0 1zm0-77zm0 61zm0 9zm0-9zm0 9zm0-5zm0-9zm0 3zm0 22zm0-9zm1-9zm0 0zm0 6zm0-21zm0 23zm0-5zm0 7zm0 2zm0 7zm0-3zm0 13zm0-1zm1-16zm0 12zm0 8zm0-16zm0-7zm0 19zm0-14zm0-6zm0-5zm0 14zm0 2zm0-7zm0 22zm0-13zm0 19zm0-42zm0-13zm1 32zm0-35zm0 18zm0-5zm0 0zm0-10zm0 31zm0-15zm0 21zm0-9zm0-8zm0 28zm0-5zm1-43zm0 48zm0-13zm0 14zm0-37zm0 23zm0-1zm0-6zm0 19zm0-29zm0-19zm0 32zm0 0zm0 7zm0-4zm0-9zm1 5zm0 19zm0-14zm0-14zm0 3zm0 28zm0-28zm0-1zm0 1zm0 8zm0-25zm0 11zm0 10zm0 2zm0 2zm0-27zm0 7zm0-3zm0 25zm0-13zm0-9zm0 22zm1-28zm0-15zm0 4zm0 35zm0-1zm0-3zm0 95zm0-90zm0 18zm0-11zm0 13zm0-15zm0-20zm0 26zm1-10zm0 3zm0 2zm0 0zm0 0zm0 4zm0-41zm0 34zm0 9zm0-25zm0 23zm0-3zm0 15zm0-25zm0-4zm0 28zm1 0zm0-28zm0 34zm0-24zm0 8zm0-35zm0 48zm0 4zm0-9zm0 2zm0-1zm0-4zm0-9zm0-21zm0 18zm0 25zm0-21zm0 7zm0 15zm1-24zm0 0zm0 20zm0-18zm0 19zm0-23zm0 25zm0-16zm0 1zm0 21zm0-18zm0-18zm0 10zm0-7zm0 19zm0-9zm1-9zm0-1zm0-1zm0 6zm0 6zm0-3zm0 5zm0-3zm0 4zm0 11zm1 2zm0-29zm0-1zm0 30zm0-17zm0 8zm0 4zm0-11zm0 0zm0-1zm0 8zm0 0zm0-5zm0 1zm0 8zm0 5zm0-10zm0-8zm0 25zm1-6zm0 8zm0-13zm0 12zm0-2zm0-29zm0 7zm0 35zm0-13zm0 13zm0-18zm0-18zm0 7zm1 25zm0-52zm0 40zm0-25zm0-1zm0 17zm0 11zm0-36zm0 11zm0-7zm0 35zm0-50zm0 11zm0 20zm0 0zm0-11zm0-6zm1-9zm0 22zm0-21zm0 8zm0 21zm0-39zm0 41zm0 0zm0-19zm0 22zm0-15zm0 9zm0 11zm1-8zm0-7zm0 1zm0 8zm0-17zm0 3zm0 4zm0 7zm0-20zm0 14zm0 21zm0-5zm0-3zm0 15zm0-30zm0 5zm0-5zm0 11zm1-34zm0 24zm0-9zm0 14zm0-5zm0-11zm0 19zm0-10zm0 9zm0-9zm0 3zm0 7zm0 14zm0-21zm0 12zm0-14zm1 21zm0-37zm0 21zm0 1zm0-6zm0 23zm0-14zm0-1zm0 8zm0-31zm0-1zm0 15zm0 28zm0-40zm0 28zm1-31zm0 36zm0-22zm0 20zm0-33zm0 20zm0-3zm0-15zm0 25zm0-21zm0 18zm0 24zm0-7zm0-14zm0-12zm0 2zm1-7zm0-8zm0 4zm0 18zm0-12zm0-10zm0 5zm0 4zm0-3zm0 15zm0 2zm0-1zm0 5zm0-9zm0-28zm1 15zm0 9zm0 13zm0-26zm0 4zm0 21zm0-22zm0 16zm0-23zm0 30zm0 6zm0-5zm0-16zm1 8zm0 2zm0-17zm0 16zm0-10zm0-13zm0 7zm0 11zm0-2zm0 9zm0-8zm0 9zm0-19zm0 2zm0 6zm0-7zm0-2zm0 0zm0 3zm0-1zm0 0zm1 6zm0-11zm0 9zm0-12zm0 13zm0-25zm0 15zm0 9zm0 13zm0-2zm0-21zm0 33zm0-10zm1-10zm0 9zm0-9zm0-14zm0-8zm0 14zm0 25zm0-23zm0 20zm0-7zm0-11zm0 9zm0 1zm0-12zm1 21zm0-6zm0-13zm0-8zm0-11zm0 28zm0 16zm0-12zm0-10zm0 8zm0-17zm0 9zm0-4zm0 3zm0 8zm0-3zm0-10zm1-17zm0 19zm0 10zm0-34zm0 21zm0 29zm0-28zm0-12zm0 0zm0 10zm0 19zm0-12zm0-12zm0 7zm0 47zm0-32zm0-25zm0 11zm1-20zm0 17zm0 23zm0-4zm0 4zm0-39zm0 62zm0-40zm0 25zm0-26zm0-4zm0 44zm0-52zm0 32zm0-24zm1 22zm0 21zm0-43zm0-9zm0 18zm0-7zm0-6zm0-3zm0 43zm0-29zm0 8zm0-4zm0 6zm0 19zm0-17zm0-23zm0 13zm0-13zm1 17zm0 14zm0-5zm0-15zm0 22zm0 3zm0-11zm0 18zm0-6zm0-18zm0 5zm0 14zm0-4zm0-10zm1-1zm0 9zm0-10zm0 6zm0-10zm0-4zm0 17zm0-19zm0 4zm0-2zm0 1zm0 14zm0-13zm0 15zm0-3zm0-12zm1 32zm0-31zm0-5zm0 3zm0-3zm0 24zm0 5zm0-12zm0 25zm0-24zm0-14zm0-2zm0 12zm0-18zm0 28zm0-8zm1 11zm0-30zm0 3zm0 12zm0 23zm0-38zm0 16zm0 5zm0-17zm0 2zm0-9zm0 26zm1 8zm0-34zm0 21zm0-27zm0 7zm0-16zm0 43zm0-36zm0 42zm0-38zm0 3zm0 26zm0-9zm0 5zm0-5zm1-19zm0-26zm0 47zm0-8zm0 1zm0 38zm0-28zm0 12zm0-40zm0-19zm0 54zm0-23zm0 42zm1 1zm0-24zm0 25zm0-35zm0 18zm0-23zm0 17zm0-8zm0-20zm0 42zm0 0zm0-33zm0 12zm0 3zm0-17zm0 16zm0-44zm1 44zm0 2zm0-14zm0-10zm0 30zm0-24zm0 15zm0-4zm0-9zm0 13zm0-1zm1-1zm0 23zm0-37zm0 16zm0 26zm0-57zm0 2zm0 14zm0 5zm0 18zm0-39zm0 18zm0-6zm0 9zm1 17zm0-21zm0-10zm0 45zm0-28zm0-10zm0 9zm0 6zm0-14zm0 18zm0-22zm0-5zm0 3zm0 29zm0-11zm0-1zm1-6zm0-11zm0 19zm0-26zm0 1zm0 27zm0-13zm0-10zm0 34zm0-2zm0-17zm0-14zm0 21zm0-10zm0-9zm1 14zm0 0zm0 20zm0-47zm0 28zm0 3zm0 12zm0-34zm0 13zm0 10zm0-14zm0 36zm0-3zm0-30zm0 7zm0-13zm0 17zm0-2zm0 0zm1 16zm0-47zm0 30zm0 1zm0-23zm0-11zm0 32zm0-7zm0 4zm0-21zm0 6zm0 12zm0-11zm0 16zm0 2zm0 20zm0-43zm1 27zm0-13zm0-3zm0-5zm0 24zm0-29zm0 32zm0-27zm0 15zm0 6zm0-2zm0 11zm0-26zm0 10zm0 9zm0-20zm0 3zm1-2zm0-11zm0 5zm0 15zm0 15zm0-29zm0 34zm0-41zm0 3zm0 37zm0-33zm1 37zm0-24zm0-5zm0-5zm0 1zm0-4zm0 0zm0 11zm0 6zm0-19zm0 15zm0-4zm0 22zm0-35zm1 37zm0 6zm0-45zm0 35zm0-10zm0-20zm0 12zm0-15zm0 51zm0-50zm0 9zm0 11zm0 17zm0-21zm0-16zm1 2zm0 7zm0 16zm0-8zm0-6zm0 6zm0 2zm0-12zm0 2zm0-4zm0 1zm0-8zm1 11zm0 28zm0-20zm0-10zm0 8zm0-14zm0-5zm0 16zm0-3zm0 48zm0-69zm0 44zm0-13zm0-23zm0-3zm0 26zm0-16zm1 11zm0-16zm0-14zm0 9zm0 23zm0-29zm0 22zm0 20zm0-8zm0-11zm0 25zm0-48zm1 20zm0 14zm0-2zm0 17zm0-32zm0 8zm0-8zm0 11zm0 7zm0 2zm0-13zm0 18zm0-37zm0-15zm0 18zm1 1zm0-15zm0-6zm0 13zm0 53zm0-33zm0 27zm0-33zm0 7zm0-17zm0-9zm0 30zm0-16zm0 28zm0-17zm1 19zm0-34zm0 20zm0-3zm0-24zm0 25zm0 25zm0-37zm0 26zm0-23zm0-2zm0-4zm0 24zm0-8zm0-14zm0-2zm1 10zm0-19zm0 13zm0 20zm0-13zm0 6zm0-16zm0 22zm0-35zm0 34zm1-20zm0 3zm0 5zm0 33zm0 0zm0 4zm0-19zm0 13zm0-34zm0 15zm0-24zm0 41zm0 11zm0-40zm0 8zm0 9zm0 1zm1 2zm0-11zm0 6zm0-4zm0 6zm0 6zm0 21zm0-30zm0 23zm0-11zm0-14zm0-18zm0 18zm0-4zm0-14zm0 29zm0-13zm0-21zm1 4zm0 34zm0-9zm0-10zm0 17zm0-14zm0-9zm0 26zm0-29zm0 4zm0-10zm0 20zm0-3zm1 4zm0 3zm0-13zm0 20zm0 7zm0 11zm0-42zm0-1zm0-10zm0 34zm0-48zm0 22zm0 0zm0 25zm0-5zm0-2zm0 16zm0-2zm0-19zm0-11zm1 20zm0 21zm0-33zm0 35zm0-36zm0 0zm0 37zm0-30zm0 4zm0 33zm0-19zm0-26zm0 3zm0-2zm1 3zm0 23zm0-22zm0 9zm0 23zm0-15zm0-18zm0-7zm0-2zm0-25zm0 20zm0 33zm0-28zm0-13zm1 36zm0-22zm0-8zm0-18zm0 36zm0 15zm0-25zm0 19zm0-26zm0-1zm0 20zm0 12zm1-4zm0-27zm0 4zm0 10zm0-9zm0 9zm0-35zm0 50zm0-28zm0-13zm0-1zm0 41zm0 10zm0-35zm0 29zm0 17zm0-20zm0-7zm0 30zm0-42zm0 18zm0-33zm1 20zm0 27zm0-14zm0-11zm0 2zm0 8zm0 1zm0-14zm0-8zm0 33zm1-16zm0-13zm0 8zm0 18zm0-8zm0-10zm0 3zm0-5zm0 15zm0-16zm0 13zm0 0zm0-10zm0 8zm0-6zm1 4zm0 9zm0-21zm0-5zm0 1zm0 4zm0 3zm0-3zm0-15zm0 24zm0-36zm0 22zm0 16zm0-18zm0-12zm0 25zm1-9zm0-25zm0 44zm0-11zm0-3zm0 26zm0-16zm0-21zm0 13zm1-15zm0 18zm0-5zm0 29zm0 2zm0-45zm0 34zm0-31zm0-3zm0 25zm0-49zm0 28zm0 29zm0-4zm0-53zm1 6zm0 25zm0 0zm0 0zm0 4zm0-24zm0 9zm0 5zm0-7zm0 10zm0 21zm0-5zm0-8zm0 6zm0 21zm1-2zm0-57zm0 44zm0-21zm0 11zm0 16zm0 0zm0-38zm0 32zm0-10zm0-18zm0-4zm0 13zm0 28zm1 16zm0-14zm0-6zm0 1zm0-16zm0-28zm0 42zm0-49zm0 33zm0 22zm0-29zm0 3zm0 4zm0 19zm0-17zm0-29zm0 37zm0-15zm1 30zm0-12zm0-18zm0 7zm0-6zm0 17zm0 12zm0-10zm0-35zm0 5zm0 28zm0-13zm0-6zm0 10zm1 4zm0-5zm0 9zm0-16zm0 15zm0 10zm0-4zm0 6zm0-37zm0 28zm0-7zm0-3zm0-8zm0 27zm0-27zm1 21zm0-11zm0 6zm0 7zm0-10zm0-17zm0-19zm0 18zm0 22zm0-6zm0-21zm0 24zm0-6zm0-37zm0 53zm0-13zm1-1zm0-14zm0 15zm0-2zm0 14zm0-30zm0 32zm0-25zm0-4zm0 17zm0-8zm0 8zm0-16zm0 12zm0-23zm0 28zm1-13zm0 17zm0-13zm0-8zm0-13zm0 9zm0 0zm0 5zm0-2zm0 19zm0-11zm0-5zm0 12zm0-10zm1-1zm0 4zm0 4zm0 1zm0-1zm0-4zm0-11zm0 27zm0-8zm0 6zm0-16zm0 9zm0 6zm0-29zm0 29zm0 9zm0-35zm1 6zm0 3zm0 5zm0-36zm0 31zm0 4zm0-7zm0 13zm0-15zm0 0zm0-7zm0 31zm0-40zm0-8zm0 24zm0 9zm0 5zm0-8zm1 11zm0-12zm0-31zm0 48zm0 1zm0-8zm0-15zm0 18zm0-16zm0 20zm0-36zm0 28zm0-1zm0-23zm0 24zm1 9zm0 9zm0 8zm0-29zm0 1zm0-11zm0-1zm0 42zm0-27zm0 30zm0-31zm0 21zm0-3zm0 3zm1-150zm0 118zm0 5zm0-6zm0 9zm0-7zm0 7zm0 17zm0-9zm0 22zm0-22zm0 44zm0-59zm0 21zm0 6zm0-30zm0 27zm0 24zm0-119zm1 96zm0-19zm0 11zm0-7zm0-159zm0 165zm0-9zm0 9zm0 16zm0-15zm0-9zm0 11zm0 6zm0-24zm0 9zm0 3zm0 74zm0-85zm0-3zm0 20zm1-11zm0-137zm0 144zm0-7zm0 47zm0-31zm0-16zm0-120zm0-19zm0 137zm0-14zm0 25zm0 6zm0-27zm0 115zm0-100zm0-10zm0 3zm1-8zm0 12zm0-10zm0 3zm0 6zm0 0zm0 18zm0-16zm0-12zm0-10zm0-2zm0 28zm0-10zm0-23zm0 35zm0 7zm0 0zm0 7zm0-17zm1 10zm0 1zm0-4zm0 0zm0-1zm0-10zm0-13zm0 22z"/>
<path transform="scale(0.5)" stroke="#00fa00" stroke-width="4.9" d="M1402 222zm0 6zm0-12zm0 2zm0 12zm0 2zm0-16zm1 12zm0-7zm0 7zm1 4zm0-13zm0 0zm0-2zm0 2zm1-4zm0-3zm0 4zm0-10zm1 8zm0-2zm0 7zm0 2zm0-9zm1 6zm0 3zm0 1zm0 2zm0 0zm1-4zm0 1zm0-2zm0 0zm1-9zm0-1zm0-10zm0 9zm0 7zm0-17zm0 11zm1 13zm0-9zm0 8zm0-7zm1 5zm0-2zm1 6zm0-3zm0 1zm0 1zm0-2zm1 3zm0 1zm0-3zm0-2zm0 4zm1-6zm0 5zm0-1zm0-1zm0-2zm1 0zm0 1zm0-1zm1 7zm0 0zm0-5zm0 3zm0 3zm0 6zm0-5zm1-5zm0 6zm0-6zm0 5zm1-4zm1-4zm0 5zm0-3zm0-3zm0-2zm0 0zm0 8zm1-1zm0 5zm0 6zm0-6zm0 0zm1-1zm0-3zm0 4zm0-5zm1 0zm0-3zm0-9zm0 3zm0 1zm1-10zm0-4zm0 24zm0-14zm0 14zm1-8zm0-4zm0 0zm0 6zm1-3zm0-5zm0 7zm1 6zm0-2zm0-2zm0 7zm0-10zm0 9zm0 3zm1-11zm0-2zm0 2zm1 2zm0 3zm0-2zm1-7zm0 5zm0 5zm0 4zm0-15zm1 6zm0 1zm0-2zm0-4zm0 4zm1 0zm0-3zm0-5zm0 5zm1 5zm0-4zm0-5zm0 3zm0-3zm1 4zm0 3zm0-2zm0 2zm1-7zm0 6zm0 0zm0-9zm0 12zm1-2zm0-9zm0 17zm0-17zm0 10zm1-12zm0-10zm0 7zm1-4zm0 12zm0-28zm0 12zm0 25zm1-2zm0 0zm0-3zm0 10zm1-4zm0-4zm0-1zm0 3zm0-6zm1 3zm0 0zm0 0zm0-4zm0 5zm1 0zm0-5zm0 3zm0 0zm0 2zm0-3zm1 9zm0-2zm0-1zm1-1zm0 0zm0 0zm0 0zm0-1zm0 2zm1 0zm0 3zm0-4zm1 8zm0-6zm0-8zm0 1zm0 2zm0-3zm1 7zm0-5zm0 2zm1-6zm0 4zm0-8zm0 8zm0-1zm1 2zm0-2zm0 7zm0-1zm1 3zm0-7zm0 3zm0-6zm1 6zm0 0zm0 6zm0-1zm0 0zm1-4zm0 1zm0-1zm0 15zm0-7zm0-12zm1 8zm0 0zm0-5zm0-5zm1 7zm0 6zm0-10zm0 4zm0 1zm1-7zm0-5zm0 18zm1-15zm0 3zm0 8zm0-9zm1 5zm0-2zm0-5zm0 2zm1 7zm0-1zm0-3zm0 0zm0 6zm0-7zm0 3zm1 3zm0-4zm0 3zm0 2zm0-9zm1 6zm0 15zm0-12zm0 11zm1 10zm0-33zm1 4zm0-4zm0 3zm0 1zm0 4zm1 2zm0 0zm0 2zm0-4zm0 7zm0-12zm0 9zm1-11zm0 10zm0-6zm0-3zm0 15zm1 0zm1 2zm0-2zm0 1zm0-6zm1-3zm0-6zm0 0zm0 4zm0-2zm0-3zm1 7zm0 0zm0-2zm0-4zm0 9zm1 2zm0-4zm0-6zm0 5zm0 0zm1 0zm0 1zm0-13zm0 8zm1 6zm0-6zm0-3zm1 6zm0-5zm0 1zm0-1zm0 3zm0-3zm1 5zm0 5zm0-11zm0 5zm1 4zm0-11zm0 7zm0 0zm0-1zm1 0zm0-7zm0-1zm0 5zm1-3zm0-5zm0 4zm0 2zm0-2zm1 4zm0-1zm0 2zm0-5zm0 12zm1-12zm0 10zm0-4zm0 4zm0-5zm1-1zm0-4zm0-5zm0 14zm1-7zm0-5zm0 9zm1-10zm0 15zm0 19zm0-27zm0-2zm1 4zm0 12zm0-6zm0 13zm0-18zm1 10zm0-7zm0-2zm1 14zm0 5zm0-7zm0-4zm0 10zm0-11zm0 11zm1-16zm0-23zm0 19zm0 11zm0-17zm1-9zm0 19zm1 2zm0-9zm0-10zm0 4zm0 34zm1-15zm0-2zm0-27zm0 26zm0 6zm0 4zm1-55zm0 44zm0-2zm0-41zm1 30zm0-2zm0 8zm0 3zm1 10zm0-17zm0 16zm0-19zm0 18zm1-5zm0-1zm0 4zm0-3zm1-11zm0 13zm0-5zm0-1zm1 0zm0-4zm0-3zm0 0zm0-2zm0 8zm1-6zm0 9zm0-14zm1 2zm0 7zm0-5zm0 7zm0 3zm1 8zm0-22zm0 39zm0-15zm1 10zm0-4zm0-8zm0-17zm0 16zm0-46zm1 8zm0 6zm0-4zm0-15zm1 10zm0 18zm0 1zm0 18zm1 0zm0-15zm0 22zm0-22zm1-34zm0 39zm0-17zm0-13zm0 19zm0-3zm1 6zm0-9zm0 15zm0-4zm1-1zm0 4zm0 9zm1 4zm0-3zm0 1zm0-6zm0 3zm0-7zm1 15zm0-7zm0 9zm0 3zm0-3zm1-11zm0-7zm0 6zm0 3zm0 0zm1-9zm0 9zm0-2zm0 1zm0 5zm0-1zm1 3zm0 0zm0-8zm0-3zm2-1zm0-14zm0 21zm0 4zm0-8zm0-2zm0-5zm1 6zm0-7zm0 4zm0-4zm1-9zm0 13zm0 0zm0-21zm0 20zm0 13zm0-18zm1 3zm0 21zm0-21zm0 8zm1-8zm0-1zm0 10zm1-18zm0 13zm0 4zm0-5zm1 5zm0-3zm0 3zm0 9zm1-22zm0-1zm0 27zm0-4zm0 7zm0-2zm1-18zm0 5zm0 4zm0-1zm1 1zm0-21zm0 0zm0-5zm1 14zm0-1zm0 9zm1 19zm0-24zm0 35zm0-9zm0-8zm0 5zm0-12zm1 6zm0-15zm0-12zm1 10zm0-17zm0 12zm0-14zm0 15zm1 0zm0 0zm0 9zm0-6zm0 4zm1 0zm0-36zm0 44zm0-8zm1 1zm0-18zm0-4zm0-3zm0 11zm0-14zm1 37zm0-17zm0 12zm0-3zm1-9zm0-4zm0 1zm0 5zm0 3zm1 0zm0-3zm0 4zm1 11zm0-2zm0-1zm0-2zm1 4zm0-8zm0 2zm0 1zm0-3zm0 1zm1-1zm0 4zm0-9zm0 5zm1 8zm0-6zm0 1zm0 0zm0-5zm1-5zm0 15zm0-3zm0-16zm0 27zm1-28zm0 3zm0 9zm0-7zm0 8zm0 3zm1 6zm0 5zm1-6zm0-2zm0-1zm0-1zm0-3zm0 9zm1-11zm0-20zm1 6zm0-1zm0-9zm0-1zm0 14zm1 11zm0 1zm0 5zm0-3zm0-1zm0 3zm1-7zm0 1zm0-1zm1-6zm0-5zm0 0zm0 11zm0-11zm0-1zm1 9zm0 2zm0-10zm0 16zm0 4zm1-11zm0-4zm1 3zm0-13zm0-9zm0 1zm0 8zm0 1zm0 4zm1 0zm0 3zm0 5zm1-6zm0 7zm0-2zm0 1zm1-2zm0 4zm0-3zm0-6zm0 6zm1-4zm0 0zm0-4zm0 1zm1-4zm0 17zm0 0zm0 8zm1 4zm0 4zm0-9zm0-7zm0 9zm1-14zm0-3zm0 16zm0-14zm1 17zm0-19zm0 22zm0-46zm0 32zm1 12zm0-9zm0 13zm0-16zm0-7zm0 2zm1-9zm0 0zm0 10zm0-4zm0-3zm1 12zm0 6zm1-6zm0-3zm0-4zm0 2zm0 7zm0-12zm0 7zm1-1zm0 8zm0-18zm1 13zm0 7zm0 1zm0-3zm0 1zm1 0zm0-2zm0 4zm0-1zm1-6zm0 8zm0-6zm1 1zm0 2zm0-3zm0 0zm0 1zm1 2zm0 2zm0-1zm0 2zm0-1zm1 1zm0 1zm0-1zm0-2zm0 1zm1 0zm0 0zm0 0zm0 1zm0 1zm1-2zm0 0zm0 0zm1 0zm0-3zm0 5zm0 0zm0-3zm1 4zm0 1zm0-3zm0 2zm1 0zm0-1zm0-1zm0-2zm0 0zm1 1zm0-2zm0 0zm0 2zm0-1zm1 3zm0-2zm0-1zm0 5zm1 1zm0-5zm0 3zm0-3zm0 0zm1 0zm0 2zm0 1zm0 1zm1-2zm0-2zm0 3zm0-1zm0-5zm0 4zm1-1zm0-2zm0 0zm0 1zm1 0zm0-1zm0 2zm1-3zm0 2zm0-2zm0-1zm0 2zm1 1zm0 0zm0-5zm0 2zm0 1zm1 0zm0-1zm0-2zm0 5zm0-2zm0 6zm1-6zm0 4zm0 1zm0-2zm0-2zm1 0zm1 1zm0-2zm0-2zm0 1zm0 0zm0 1zm1 2zm0-1zm0-2zm0 1zm1-5zm0-3zm0 3zm0 1zm0 1zm0-1zm1-3zm0-1zm0-1zm0-4zm1 10zm0-2zm0-3zm1 6zm0 2zm0-6zm0-1zm0 0zm1 9zm0-1zm0-1zm0-1zm1 2zm0-1zm0 3zm0-2zm0 0zm1 0zm0 0zm0 3zm0-3zm1 3zm0-2zm0 2zm0-2zm0 0zm1 0zm0 1zm0-1zm0-2zm0 3zm0 0zm1-2zm0 0zm0 2zm1-1zm0 1zm0-4zm0 3zm0-3zm0 2zm1 1zm0 0zm0 2zm1 0zm0 2zm0-1zm0-2zm1 0zm0-2zm0 3zm0 0zm0-1zm1-6zm0 2zm0 3zm0-3zm0 1zm0 0zm1 2zm0-1zm0 1zm0 0zm1-2zm0 1zm0 1zm0-1zm0 2zm1 1zm0 0zm0-2zm1 1zm0 0zm0-2zm0-1zm1 2zm0-1zm0 2zm0-4zm0 0zm1 3zm0-1zm0 0zm0-3zm0 2zm0 0zm1 1zm0 1zm0 0zm0-3zm1 2zm0-1zm0 0zm1 2zm0-2zm0 0zm0-1zm0 1zm0-2zm1 2zm0-1zm1 0zm0 3zm0-1zm0-1zm0 1zm0-2zm0 3zm0 1zm1 2zm0-2zm0-1zm0-3zm1 1zm0 2zm0 2zm0 1zm0 2zm1-2zm0-1zm0-3zm1 4zm0-2zm0 2zm0-1zm0-2zm0-9zm1 3zm0 1zm0 0zm0 1zm1 3zm0-6zm0 8zm1-1zm0-2zm0 1zm0 0zm0-1zm1 0zm0-1zm0 2zm0 0zm1-1zm0-1zm0 1zm0-1zm1 2zm0-2zm0 2zm0-2zm0-1zm0 3zm1-2zm0 2zm0 0zm1 7zm0-4zm0 2zm0 1zm1 2zm0 0zm0-5zm0-4zm0-1zm0 16zm0-4zm1-4zm0 1zm0 2zm1-4zm0 3zm0-2zm0 1zm0-3zm1-1zm0-3zm0 1zm0-5zm1 9zm0-5zm0-1zm0-4zm0 13zm1-5zm0-1zm0-5zm0 2zm0 2zm1-1zm0-2zm0 5zm0-5zm1 4zm0 2zm0-7zm0 3zm0 1zm1 2zm0-1zm0 1zm0 0zm0-1zm1 1zm0 1zm0 0zm1 1zm0-1zm0-2zm0 2zm0-1zm0 2zm1-2zm0 1zm0 1zm0 1zm1-2zm0-2zm0-2zm0 6zm0-3zm1 0zm0-2zm0-4zm0 5zm0 1zm0 5zm1-1zm1-2zm0 5zm0-6zm0 4zm0-3zm1-3zm0 3zm0 0zm0 1zm0-1zm0-2zm1 7zm0-5zm0-2zm1-2zm0 1zm0 1zm0 0zm0 1zm1-2zm0 6zm0-4zm0 1zm0-2zm1-2zm0 2zm0 1zm0-5zm1 2zm0-6zm0 0zm0 0zm0-3zm1-1zm0 10zm0-3zm0 0zm0 6zm1-1zm0-1zm0 1zm0 1zm0-3zm1 4zm0 5zm0-3zm0-5zm1 9zm0-7zm0-3zm0 5zm1-5zm0 2zm0 1zm0-2zm0-2zm1 2zm0-3zm0 3zm0 0zm0 5zm1-6zm0 2zm1-3zm0 0zm0-3zm0 1zm0 7zm0-4zm1 1zm0 6zm0-4zm0-1zm0 2zm1-1zm0 0zm0 1zm0-3zm1 0zm0 1zm0 0zm0 2zm1-4zm0 1zm0-1zm0 2zm0 2zm1-5zm0 0zm0 3zm0 2zm0-5zm1 1zm0 0zm0 4zm0-5zm1 6zm0-2zm0-2zm1 2zm0-1zm0-3zm0 2zm0-1zm1 1zm0 0zm0 3zm0 2zm0 3zm1-4zm0 1zm0-4zm0-3zm0 1zm1-4zm0 4zm0-2zm0-1zm1-2zm0 3zm0 1zm0 1zm0 0zm1-2zm0-1zm0 4zm0-3zm0-1zm0 4zm1 2zm0-3zm1-1zm0 2zm0-1zm0 0zm0-1zm1 2zm0-4zm0 3zm0-2zm1 5zm0-2zm0 1zm0-3zm0 1zm1 1zm0-1zm0 2zm0 0zm0-5zm1-1zm0 3zm0-2zm1-1zm0-1zm0 5zm0-1zm0-2zm0 2zm1 2zm0 1zm0 3zm0-4zm0 1zm1 2zm0-2zm0 2zm0 1zm0 0zm1-4zm0-2zm0 0zm0 3zm1-5zm0 4zm0 1zm1-1zm0-4zm0-1zm0 5zm1 1zm0-2zm0-1zm0 1zm1 2zm0-1zm0 0zm0-2zm0 5zm0-4zm0 3zm1-2zm0 6zm0-7zm0-3zm0 6zm1-7zm0 3zm0 3zm0-1zm1 1zm0-1zm0 3zm0-2zm1 11zm0-10zm0-1zm0 14zm0-7zm1-2zm0 0zm0-6zm0-3zm0 4zm1-5zm0 5zm0 1zm0-2zm1 1zm0-2zm0 2zm0-4zm1 1zm0 1zm0 2zm0-1zm0 0zm0 0zm1-1zm0 2zm0-1zm0 3zm1-5zm0 3zm0-5zm0 2zm0-1zm1 1zm0-1zm0 2zm0-1zm1-4zm0 1zm0 1zm0 3zm0 2zm1-3zm0 4zm0 0zm1 0zm0 0zm0 1zm0-3zm1 1zm0-1zm0 0zm0-5zm0 4zm1-1zm0-1zm0 0zm0 0zm0-1zm0 2zm1-2zm0 2zm1-1zm0 1zm0-1zm0 0zm0 0zm0 2zm1 2zm0-3zm0 1zm1 1zm0-1zm0 1zm0 1zm1-1zm0 0zm0 0zm0-1zm0 0zm1 1zm0-79zm0 78zm0 1zm0-2zm0 1zm1 1zm0-1zm0-1zm0 0zm0 1zm1 0zm0-1zm0 1zm0 1zm1-1zm0 1zm0 0zm0 0zm0-1zm0 2zm1 0zm0-3zm0 1zm0 0zm1 0zm0-1zm0 2zm0-1zm1 2zm0-6zm0 2zm0 0zm1 2zm0-1zm0-5zm0 1zm0 3zm0-3zm1 3zm0 1zm0 0zm1 1zm0 0zm0-3zm0 3zm0 0zm1-2zm0-1zm0 2zm0-2zm0 5zm1-4zm0 8zm0-7zm0 2zm0-1zm1-1zm0-1zm0-1zm0 1zm1 3zm0 0zm0-3zm0 3zm1-3zm0 0zm0-1zm0 6zm1-7zm0 1zm0 2zm0-3zm1 1zm0-1zm0 0zm0 4zm0 1zm0-4zm0 5zm1-1zm0-8zm1 3zm0 0zm0 2zm0 1zm0 3zm1-5zm0 5zm0-2zm0 3zm0-5zm1-1zm0-2zm0 6zm0 3zm0 4zm1-2zm0-10zm0 5zm1-1zm0-4zm0-3zm0 3zm0-3zm0 4zm1-3zm0 0zm0-7zm0-1zm1 5zm0-4zm0-1zm0 1zm1 0zm0-1zm0 4zm0-1zm0 0zm0-2zm1 3zm0-1zm1 0zm0-2zm0 0zm0 4zm0-4zm0 2zm1 3zm0 2zm0-1zm0-1zm0-1zm1-2zm0-3zm0 4zm0-1zm0-2zm1-1zm0 3zm1-3zm0 3zm0-4zm0 1zm0 4zm0-20zm1 4zm0 6zm0 1zm0 1zm1-6zm0 8zm0 1zm1-2zm0 4zm0 1zm0 4zm0-3zm0 3zm1 0zm0-4zm0 9zm0-1zm0-3zm0 2zm1-1zm0 1zm0-2zm1-5zm0 4zm0 1zm0-5zm0-2zm0 5zm1-4zm0 1zm0 0zm0-1zm0-1zm1 0zm0 1zm0 1zm0-3zm1 2zm0-2zm0 1zm0 1zm0 2zm1-4zm0 3zm1-1zm0 3zm0-3zm0 0zm0 0zm1 2zm0 0zm0 5zm0-6zm1 3zm0 0zm0 1zm0 1zm0-7zm0 1zm1 2zm0-1zm0-6zm1 7zm0-2zm0-3zm0 3zm0-5zm0 7zm0-3zm0 4zm1 1zm0-2zm0 0zm1 3zm0 0zm0 2zm0-5zm1 8zm0-5zm0 2zm0 6zm0-5zm1 3zm0-2zm0-3zm0 5zm1-7zm0-1zm0-3zm0-3zm0 11zm1-5zm0-5zm0-2zm1 1zm0 10zm0 1zm0-4zm0 3zm1-2zm0-2zm0-1zm0 2zm0 2zm1-4zm0 1zm0 2zm0-2zm1 2zm0 2zm0-2zm0-2zm0 1zm0-1zm1 2zm0-2zm0-2zm1 4zm0 0zm0-61zm0 61zm1 0zm0 2zm0-67zm0 69zm0-2zm0-2zm0 2zm0-84zm1 38zm0 44zm0 2zm0-1zm0-3zm0 3zm1-18zm0 18zm0-1zm0-74zm0 78zm0-2zm1 0zm0-1zm0 1zm0 2zm0-28zm0 28zm0 1zm0-2zm1-71zm0 41zm0 32zm0-67zm0-4zm0 71zm1-36zm0 38zm0-1zm0-57zm0-30zm0 86zm0 0zm0 1zm1-1zm0-3zm0 1zm0 0zm0-1zm1-1zm0 2zm0 4zm0-3zm1 2zm0-2zm0-2zm1-2zm0 3zm0-1zm0 0zm0-1zm0 2zm0-1zm1-1zm0 2zm0-1zm1 1zm0 0zm0-1zm0 1zm1 0zm0-2zm0 5zm0-4zm0-2zm1 6zm0 0zm0 0zm0-2zm0 0zm0 1zm1-1zm0-2zm0 1zm0 0zm1 2zm0 1zm0-1zm0 1zm1-1zm0-2zm0-1zm0-1zm1 1zm0 3zm0 2zm0-8zm0 1zm0 4zm1-6zm0 5zm0 11zm0-14zm1 7zm0-2zm0 8zm1-9zm0-2zm0 3zm0 0zm0-7zm0 5zm1-3zm0 3zm0 2zm0-1zm1 2zm0-1zm0-2zm0 4zm0-3zm1-3zm0 0zm0 3zm0-1zm0-1zm1 0zm0 4zm0-4zm0 0zm1 4zm0 0zm0-3zm0-1zm0 2zm1-3zm0 9zm0-8zm0 6zm0-6zm1 1zm0-2zm1 2zm0 0zm0 4zm0-3zm0 2zm1-2zm0-3zm0-1zm0 2zm1 1zm0-4zm0 1zm0 1zm0 2zm1 3zm0-5zm0-3zm0 6zm0 3zm1-2zm0 1zm0 0zm1-4zm0 2zm0-1zm0 0zm0 6zm0-7zm0 6zm1-5zm0 1zm0-2zm1-1zm0 1zm0-2zm0 1zm0 2zm0 0zm1 3zm0 0zm0-2zm0-3zm1 5zm0-8zm0-2zm0 5zm1-3zm0-1zm0 2zm0-4zm1 2zm0 0zm0 1zm0 0zm0-3zm1 2zm0 1zm0 4zm0-10zm1 7zm0 1zm0 1zm0-3zm0 1zm0 1zm1-2zm0 2zm1 4zm0-3zm0 2zm0-3zm0 2zm0 1zm0-2zm1 0zm0 2zm0-6zm0 0zm1 2zm0 0zm0-3zm1 1zm0 0zm0 2zm0-3zm0 3zm1 0zm0 3zm0-4zm0 4zm0 2zm1-2zm0-1zm0-1zm0 2zm1 0zm0-1zm0 0zm0 0zm0 1zm0-1zm1-1zm0 1zm0-4zm0 4zm1-3zm0 3zm0 1zm0-1zm1-1zm0-3zm0 1zm0 2zm0 0zm0 1zm0 1zm1-1zm0 0zm1 1zm0 1zm0-1zm0 0zm0-1zm1 4zm0 0zm0-2zm1-1zm0 2zm0-1zm0 1zm0-3zm0 2zm1 1zm0 1zm0-2zm1 0zm0-1zm0 1zm0-2zm0 1zm1 0zm0-1zm0 2zm0-3zm0 1zm0 0zm1-1zm0 1zm0 0zm1 0zm0 1zm0 0zm0 0zm0 2zm1-3zm0 2zm0-1zm0-1zm1-1zm0-3zm0 3zm0 5zm0-7zm0 2zm1 0zm0-1zm0-3zm0 7zm1-3zm0-1zm0 3zm0 4zm0-5zm1 3zm0-3zm0 2zm1-6zm0 2zm0 4zm0-1zm0-1zm1-5zm0 0zm0 1zm0 6zm0 3zm1-6zm0 2zm0 0zm0 1zm0-1zm1-7zm0 7zm0-5zm0 4zm0-3zm0 1zm1 2zm1 2zm0-2zm0-1zm0 1zm0 2zm0-4zm1 5zm0-3zm0 1zm0-1zm1-1zm0 2zm0-2zm0 1zm0 1zm1-2zm0 1zm0 2zm1-2zm0 3zm0-3zm0 2zm0 1zm0 1zm1 2zm0-3zm0 1zm0-3zm1 2zm0 1zm0-1zm0-3zm1 2zm0 0zm0 1zm0-3zm0 4zm0-2zm0-2zm1-1zm0-1zm0 1zm1 1zm0-2zm0 2zm0-2zm1 1zm0 1zm0-1zm0 0zm0 2zm1-4zm0 0zm0 1zm0 1zm0-1zm0 1zm1 2zm0-3zm0 3zm1-1zm0 1zm0 0zm0-1zm1-1zm0 1zm0 1zm0 1zm1-1zm0 0zm0 0zm0-4zm0 1zm0 2zm1-2zm0-3zm0 4zm0 0zm1-4zm0 8zm0-1zm0-2zm0-7zm0 10zm1-6zm0 3zm0 2zm1-7zm0 2zm0 0zm0 3zm0-3zm0 2zm1-3zm0 3zm0-3zm1 3zm0-3zm0 2zm1 1zm0 0zm0 0zm0-1zm0-3zm0 2zm0-1zm0-1zm1 5zm0 0zm0-1zm1 0zm0-2zm0-2zm0 2zm1-1zm0-2zm0 0zm0 3zm1 0zm0-4zm0 9zm0-7zm0 1zm1 3zm0 0zm0 1zm0 0zm0 0zm1-4zm0 0zm0 2zm0-2zm1 3zm0-4zm0 3zm0 1zm0 1zm1-2zm0-1zm1 2zm0-2zm0 3zm0-3zm0 0zm0-3zm1 4zm0 1zm0-2zm0 2zm0-1zm0-3zm1 1zm0-2zm1 3zm0 0zm0 0zm0-2zm0 0zm1-1zm0-1zm0 0zm0 1zm0-4zm1 2zm0 2zm0 5zm0-6zm0 3zm0 2zm0-3zm1 1zm0 4zm0 4zm1-6zm0 1zm0 4zm0 2zm1 0zm0 2zm0-6zm0 5zm1 4zm0-9zm0-5zm0 2zm0 1zm0-2zm1 0zm0 1zm0 2zm0-1zm1-2zm0 5zm0-3zm0-4zm1 0zm0 2zm0-5zm0 2zm0 1zm1-3zm0 6zm0-1zm0-2zm1 3zm0 0zm0 2zm0-7zm0 0zm0 9zm1-8zm0-3zm1 7zm0 3zm0 2zm0-12zm0-6zm0 7zm0 3zm1-3zm0-1zm1 3zm0-3zm0 2zm0 2zm0 5zm0 1zm1 1zm0-3zm0 1zm0 4zm1 1zm0-6zm0 0zm0 2zm1-2zm0-2zm0 3zm0-1zm1-1zm0 2zm0-2zm0 2zm0-2zm0 1zm1-1zm0-1zm0 2zm0 0zm0-1zm1 6zm0-1zm1 1zm0-1zm0-3zm0 6zm0-12zm0 7zm0-3zm1 3zm0-3zm0-2zm1 1zm0 0zm0 4zm0-6zm1 1zm0 3zm0-4zm0 5zm0-2zm1 1zm0-4zm0 3zm0 2zm0-1zm1 2zm0-2zm0 0zm0 1zm0 2zm0-1zm1-2zm0-2zm0-1zm1 4zm0-5zm0 2zm0-4zm0-1zm1 0zm0 5zm0-4zm1 6zm0 1zm0 1zm0-2zm0 0zm0 4zm1-6zm0 0zm1 4zm0 2zm0-4zm0 2zm0-2zm0 0zm1 2zm0-5zm0-1zm0-3zm1-1zm0 1zm0 1zm0-1zm0 1zm1 0zm0-3zm0 5zm1-5zm0 8zm0-2zm0 1zm0 1zm0 1zm1-1zm0-3zm0 1zm0-1zm0-1zm1 1zm0 2zm0-3zm0 0zm0 2zm1-6zm0 4zm0-1zm0-1zm1 0zm0 5zm0-4zm0 4zm0-1zm1 2zm0-5zm0-1zm0 1zm1-2zm0-2zm0 3zm0 2zm1-2zm0 3zm0 8zm0-2zm0-4zm1 1zm0-1zm0-1zm0 4zm0-3zm1 4zm0-2zm0 1zm0-4zm1 1zm0-2zm0 2zm0 0zm1-2zm0-1zm0 1zm0 0zm0 0zm1 0zm0 1zm0 0zm0-2zm1 3zm0 0zm0 0zm0 0zm0 2zm1-5zm0 5zm0-5zm0 2zm0-2zm0 3zm1 3zm0-2zm0-2zm0-1zm0 1zm1 8zm0-3zm0-4zm1 5zm0 3zm0 0zm0 0zm1-4zm0 2zm0 0zm0 0zm1 1zm0 2zm0 2zm0-1zm0 2zm1-2zm0-1zm0 1zm0 1zm1-1zm0 2zm0-4zm0 5zm1-3zm0-2zm0-66zm0 65zm0 2zm0-2zm0 2zm1-1zm0 1zm0 4zm0 6zm1-1zm0-3zm0-2zm0-1zm0 3zm1-3zm0 0zm0 1zm0-1zm0-3zm0 3zm1 0zm0 2zm0-1zm1 1zm0 0zm0-4zm0 5zm1-8zm0 2zm0-4zm0 7zm0-9zm1 8zm0 0zm0-2zm0-1zm1-2zm0-3zm1 9zm0-1zm0-1zm0 4zm0 1zm0-2zm1-2zm0 0zm0-3zm0 4zm0-3zm0 2zm1-5zm0 6zm0-2zm0-3zm1 3zm0-2zm0 2zm0 3zm1-4zm0 1zm0 6zm0-2zm0-2zm1-2zm0 4zm0-3zm0 2zm1 3zm0-1zm0 1zm0 0zm0 0zm0-2zm1 3zm0-1zm0-1zm0 2zm0-1zm1 1zm0-6zm0 2zm0-2zm1 3zm0-1zm0 0zm1-3zm0-5zm0 4zm0 2zm0 4zm0-3zm1 3zm0 1zm0-2zm1-2zm0-3zm0 1zm0 4zm0 1zm1-3zm0 1zm0-3zm0-2zm0 7zm1-3zm0-4zm0 1zm0 1zm1 1zm0 1zm0 0zm0-1zm0 1zm1 0zm0 3zm0-3zm0-2zm1 0zm0-1zm0-1zm1-1zm0 3zm0 2zm0 0zm1 0zm0 0zm0 0zm0-1zm0 3zm0 1zm1-3zm0 2zm0 2zm0-1zm1-2zm0-2zm0 3zm0-3zm0 1zm0 1zm0-2zm1 2zm0 0zm0-4zm1 3zm0-3zm0 4zm0-3zm1 5zm0-4zm0 3zm0 0zm0-1zm1-1zm0 3zm0 0zm0-3zm0 4zm0 2zm1-10zm0-3zm0 6zm0-4zm0 3zm1 10zm0 8zm0-14zm1 3zm0 3zm0-7zm0 4zm1-2zm0 0zm0-3zm0 0zm1 4zm0 2zm0 0zm0 0zm0-10zm1 10zm0-3zm0-13zm0 11zm0 3zm0-11zm1 13zm0-8zm0 7zm1 5zm0 2zm0-7zm0 9zm1-3zm0-2zm0-4zm0-1zm0-9zm1 8zm0-8zm0 10zm1 5zm0-3zm0-4zm0 4zm0-7zm0 2zm0 2zm1-12zm0 7zm0-3zm0 3zm1 0zm0 3zm0 3zm0-6zm1 4zm0-6zm1 5zm0 4zm0 10zm0-8zm0 3zm0 4zm1-4zm0 4zm0-6zm0-1zm0-9zm1 5zm0-3zm0 3zm0-3zm0 7zm0-2zm1-2zm0 0zm1-1zm0 0zm0-1zm0-1zm0 1zm0 2zm0 2zm1-5zm0 1zm0-1zm0 0zm0 3zm1 0zm0-2zm0 5zm0-2zm1-2zm0-5zm0 5zm1-9zm0 2zm0 0zm0 0zm0 5zm0-1zm1 1zm0-2zm0 0zm0 3zm1 2zm0 0zm0-7zm0 2zm0-1zm1 3zm0 2zm0 4zm0-9zm1 2zm0-1zm0 1zm0-1zm1 0zm0 3zm0-2zm0 1zm0 2zm0-1zm1 1zm0-4zm0 3zm0 2zm0-2zm1 2zm0 0zm0-4zm1-1zm0 3zm0-5zm0 0zm1 2zm0 0zm0 2zm0-1zm0 8zm0 2zm1-2z"/>
<path transform="scale(0.5)" stroke="#a41ef2" stroke-width="4.9" d="M1401 206zm0-1zm1 2zm0 0zm0 5zm0-3zm0 4zm0-3zm1 4zm0-4zm0 3zm0 1zm1-5zm0 0zm0 1zm1-1zm0 3zm0 0zm0 1zm1 0zm0-1zm0 0zm0 2zm0-1zm0-3zm1 2zm0 0zm0-1zm0-1zm1 0zm0 2zm0-1zm0 0zm1 1zm0 0zm0 0zm0-1zm1 2zm0-2zm0 2zm0 1zm0-4zm1-2zm0 2zm0 0zm0-3zm0 0zm1 1zm0 2zm0-2zm0 1zm0-1zm1 2zm0 0zm0 0zm0 1zm1-1zm0-1zm0 0zm0-1zm1-2zm0 1zm0 1zm0-1zm1 0zm0 2zm0-3zm0 0zm0 2zm0-3zm1 0zm0 1zm0 0zm0 0zm1 3zm0-2zm0 0zm0 2zm0 0zm1-1zm0 1zm0 0zm0-3zm0 0zm1 1zm0-1zm0 1zm0 1zm1-2zm0 3zm0 0zm0 0zm1 0zm0 0zm1 3zm0-5zm0 1zm0 2zm0 1zm0-2zm0 1zm0-2zm1 6zm0-4zm0 3zm0 1zm1 0zm0 2zm0 0zm0 2zm1 0zm0 0zm0-2zm0 0zm1 2zm0 1zm0-2zm0 2zm0-2zm1 1zm0 8zm0-3zm0-5zm0 14zm1 7zm0 3zm0-6zm1 16zm0 13zm0-16zm0 20zm0-14zm0 18zm1-13zm0 19zm0 0zm0-2zm1 5zm0-7zm0-4zm0 1zm0-3zm1-5zm0 2zm0-4zm0 1zm1-3zm0-4zm0 4zm0 3zm0-1zm0-7zm1-2zm0-8zm0 6zm0-8zm1 6zm0-11zm0 5zm1-3zm0 3zm0-1zm0-6zm0 0zm0-1zm1 0zm0-3zm0 2zm0-1zm0 0zm1-2zm0-1zm0 3zm0-4zm1 3zm0-3zm1-2zm0 2zm0-5zm0 1zm0-5zm0 6zm1-9zm0-2zm0 5zm0-3zm1-1zm0 0zm0 0zm0-2zm1 2zm0 1zm0-1zm0 3zm0-4zm0 2zm1-2zm0-3zm0 0zm0 3zm1-4zm0 0zm0-1zm0 2zm0-2zm1-1zm0-1zm0 4zm0-5zm1 2zm0 0zm0-2zm0 1zm0-1zm1-1zm0-2zm0 2zm0 0zm0-2zm1 1zm0 0zm0 1zm0 0zm1-1zm0 0zm0 0zm1-1zm0 0zm0 1zm0 1zm1-1zm0 3zm0-2zm0 2zm0-2zm0 2zm1 0zm0 0zm0-1zm0 0zm1-2zm0 0zm0 1zm0-1zm1-1zm0 1zm0 0zm0 1zm0 0zm0-1zm1 0zm0 5zm0-2zm0-2zm0 2zm1-2zm0 1zm0 0zm0-2zm1 4zm0 0zm0-1zm0 0zm1-1zm0-1zm0 1zm1 1zm0-1zm0-1zm0-1zm0 0zm0 1zm0-1zm1 2zm0-1zm0 1zm0-2zm1 0zm0 1zm0 0zm0-2zm1 1zm0-1zm0 0zm0 2zm0-1zm1 1zm0-1zm1 0zm0-1zm0-1zm0 1zm0-2zm0 2zm0 0zm1-1zm0 1zm0-1zm0 4zm1-2zm0-1zm0 0zm0 1zm0 0zm1 0zm0-1zm0 2zm0 2zm1-3zm0 4zm0-2zm0-1zm0 1zm1 2zm0 6zm0-3zm0-5zm0 5zm1-1zm0 6zm1-4zm0 1zm0-1zm0 1zm1-5zm0-3zm0-5zm0-3zm0 10zm2 5zm0-3zm0 2zm1 5zm0-2zm0 6zm1 4zm1-16zm0 19zm0-20zm0-10zm1-9zm1 28zm0 2zm0-2zm1 13zm0-1zm0-3zm0-1zm1-7zm0 10zm0 0zm0 0zm1-23zm0 4zm1-6zm0 4zm1 3zm0 4zm1-2zm0 18zm1-13zm0-13zm0 16zm1-28zm0-6zm1 16zm1 1zm0-4zm0 1zm1 2zm0 4zm0 17zm0-12zm0 9zm1-9zm0-3zm0-1zm1 4zm0-1zm0 2zm0-14zm1-8zm0-14zm0 18zm1 8zm0 1zm1-3zm0 10zm2-5zm0 15zm1-47zm0-9zm1 47zm0 9zm0-6zm1-13zm0-11zm0-4zm0-15zm1 19zm0-7zm0 21zm0-24zm0-5zm1 45zm1-17zm0 13zm0-10zm1-4zm0 3zm0 14zm0-16zm1 1zm1 4zm0-17zm0 14zm0 19zm2-4zm0-15zm1 7zm0 20zm0-30zm1 12zm0 23zm1-22zm0-3zm1 4zm0 3zm0 4zm0 9zm0 0zm1 5zm1-9zm0-1zm0 5zm0-5zm1 9zm0 9zm0-11zm0-8zm0-6zm1 3zm1 16zm0-7zm0-1zm1-16zm0-12zm0 2zm0-2zm0 5zm1-11zm0 8zm0 1zm1-9zm0 10zm1-9zm0-6zm1 3zm1 27zm0-4zm0 6zm0 0zm1-2zm0-3zm1-1zm0 8zm0-28zm1 15zm1-20zm0-2zm0 10zm0 10zm1-7zm0 10zm1 10zm0-7zm0 5zm0-10zm1 9zm0-11zm1-18zm1 15zm0-6zm1 0zm0 9zm0 7zm1 2zm0 6zm0-14zm0 24zm0-8zm1-14zm0 25zm0-25zm0 30zm1-44zm0 1zm0 3zm1-1zm0-3zm1 1zm0 6zm0 0zm0-11zm0 0zm1 2zm0-15zm0 7zm0-10zm1 2zm0 38zm0-13zm0-3zm0 22zm1-2zm0 13zm1 3zm0 2zm0 7zm0-10zm1 0zm0 7zm0-19zm1 3zm0-8zm0 13zm1-10zm0 5zm0-9zm1 5zm0-6zm1-8zm0 12zm0-11zm0-6zm1 15zm0 2zm1 2zm0-1zm1-1zm0 7zm0-21zm0 3zm0 5zm0-4zm1 1zm0 0zm0 7zm1 0zm0-15zm0 6zm0 5zm0 0zm1-3zm0 14zm0-1zm0-3zm1-6zm0 1zm0 5zm1-10zm0 3zm0-1zm0 4zm0 2zm0-6zm1 5zm0 0zm0 9zm1-7zm0 4zm0-5zm0 2zm0 6zm0-9zm1 0zm0-1zm0-1zm0 1zm0-3zm1 1zm0 2zm0-2zm1 1zm0 1zm0-2zm0 1zm0 0zm1-1zm0 1zm0 1zm0-1zm0 1zm1 0zm0 0zm0 0zm0 2zm1-1zm0 1zm0-1zm0 1zm0-3zm0 1zm1 1zm0 1zm0-1zm1 2zm0 0zm0-1zm0 0zm1-1zm0 0zm0 3zm0-2zm1-1zm0 1zm0 0zm0-3zm0 4zm1-1zm0-2zm0-1zm0 4zm1 0zm0 0zm0-1zm0 0zm0-1zm1 1zm0-1zm0 0zm0 0zm1 0zm0 0zm0 0zm0 0zm0 0zm0 1zm0-1zm1 1zm0 0zm0-3zm1 2zm0 0zm0-1zm0-1zm1 2zm0 0zm0 1zm0-1zm0 0zm0 1zm1 0zm0 0zm0-1zm1 0zm0 0zm0 1zm0-3zm0 2zm1 0zm0-1zm0 0zm0 0zm0 3zm1-1zm0 0zm0-1zm0 1zm1-2zm0 1zm0-1zm0 1zm1-1zm0 0zm0-1zm0 1zm0 0zm0 0zm1-1zm0 0zm0 1zm1-2zm0 1zm0-1zm0-1zm0 1zm0 0zm1 1zm0-2zm0 2zm0 0zm1-1zm0 0zm0 0zm0 0zm1 0zm0 1zm0 1zm0-1zm0-1zm1 1zm0 0zm0 1zm1-1zm0 0zm0 1zm0 0zm0 1zm0-1zm1 1zm0-1zm0 1zm0-1zm0 1zm1 0zm0 1zm0-1zm1-2zm0 0zm0 1zm0 1zm0-2zm1 1zm0 0zm0 0zm0 1zm0 0zm0-1zm1 0zm0 2zm0-2zm0 0zm1 0zm0-1zm0 0zm0-1zm1 2zm0-2zm0 0zm0 0zm0-1zm1 2zm0-1zm0 0zm0 0zm0-1zm1 0zm0 2zm0-2zm1 1zm0 0zm0 1zm0 0zm1 0zm0 0zm0-1zm0 1zm0-1zm0 1zm1-2zm0 2zm0 0zm1-2zm0 3zm0-4zm0 2zm0-1zm0 2zm1-2zm0 2zm0-1zm0 1zm1-1zm0-1zm0 1zm0 0zm1 1zm0-1zm0 0zm0 1zm1 1zm0-2zm0 0zm0 0zm0 0zm1-1zm0 1zm0 0zm0-1zm1 1zm0 1zm0 1zm0-1zm1-1zm0 1zm0 1zm0 1zm0-2zm0 1zm1-1zm0 1zm0-1zm0 2zm1-2zm0 0zm0 1zm0 1zm1-1zm0-1zm0 1zm0-1zm1 0zm0-1zm0 1zm0-2zm1 0zm0-1zm0 2zm0-1zm0 0zm0-1zm1 0zm0 0zm0 3zm1-4zm0 3zm0-2zm0 1zm0 2zm0-1zm1 1zm0 0zm0 0zm0-1zm1 0zm0 1zm0 0zm0 1zm1-1zm0 0zm0-1zm0 2zm0-1zm0 0zm1 4zm0-3zm0 1zm0 3zm0 0zm0-3zm1 1zm0 0zm1 1zm0 0zm0 1zm1-1zm0-1zm0 1zm0-1zm0 0zm0 0zm0 1zm0-3zm1 1zm0 2zm1 1zm0 0zm0-2zm0 3zm0-1zm1-2zm0 0zm0-1zm0 0zm0-1zm1-1zm0 3zm0-1zm0 0zm0-1zm1 0zm0 1zm0 0zm0 1zm1 0zm0 1zm0-1zm0 1zm0 0zm1 1zm0-1zm0-2zm0 0zm0 1zm1-1zm0 1zm0 1zm0 0zm1-1zm0-2zm0 2zm0-3zm1 1zm0 0zm0-1zm0 0zm1 1zm0 1zm0-2zm0 1zm1-3zm0 2zm0-1zm0 1zm0 0zm1 1zm0 1zm0 0zm0-3zm0 2zm1 1zm0-1zm0-1zm0 1zm1 1zm0-1zm0 2zm0-4zm1-1zm0 0zm0 0zm0 0zm0 1zm1-1zm0 1zm0 0zm0 1zm1 0zm0 0zm0 2zm0 0zm0 1zm1 1zm0-1zm0 2zm0-2zm0 1zm0-1zm1-1zm0 2zm0-2zm0 0zm1 1zm0 1zm0-1zm0-2zm0 2zm0 0zm1-1zm0 0zm0 1zm0 0zm1-1zm0 0zm0 1zm1 0zm0 0zm0 0zm0 0zm0-1zm1 0zm0 1zm0 0zm1-5zm0 4zm0-1zm0-1zm0 1zm1-2zm0 0zm0 0zm0 0zm0 0zm0 0zm1 0zm0-1zm0-1zm0 0zm1 0zm0 3zm0-1zm0 0zm0-1zm1 2zm0-3zm0-1zm1 0zm0 1zm0 0zm0-1zm0 2zm0 2zm0-1zm1 0zm0 1zm0-2zm0 0zm1-2zm0 1zm0 0zm1 0zm0 0zm0 0zm1 0zm0 1zm0 0zm0 2zm0 0zm0-1zm1 0zm0-2zm0 2zm0-1zm0 1zm0-1zm0 0zm1-1zm1 0zm0 0zm0 0zm0-1zm0 0zm0 2zm1 0zm0 0zm0-2zm0 3zm1-2zm0 1zm0 0zm0 0zm0 0zm1-2zm0 0zm0-2zm1 0zm0 1zm0-2zm0 4zm0-2zm0 1zm1 0zm0-1zm0 1zm0-1zm1 3zm0-1zm0 3zm0-1zm1-1zm0 0zm0 1zm0-1zm0 1zm1 1zm0-1zm0-1zm0 1zm0 0zm1-1zm0 1zm0-1zm1 0zm0 1zm0-1zm0 1zm0 0zm0 1zm1 0zm0-1zm0-1zm0 0zm0 2zm1-1zm0 2zm0 0zm0 0zm1 0zm0 0zm0 1zm0-2zm0 1zm1-3zm0 1zm0 1zm0 0zm0 0zm1-1zm0 0zm0 1zm0 3zm1 0zm0-1zm0 3zm0-1zm0-1zm1 1zm0-1zm0 1zm1 0zm0-4zm0 2zm1-1zm0 1zm0-1zm0 0zm0-1zm0 0zm0 1zm0 0zm1 0zm0-1zm0 0zm1 1zm0-1zm0 1zm0 1zm1 0zm0 0zm0 0zm0 2zm0 0zm0-3zm1 2zm0 1zm0 0zm1-1zm0 0zm0 0zm0 0zm0 0zm1-1zm0 1zm0-1zm0 0zm0 0zm1 2zm0-3zm0 0zm0 0zm0-2zm1-1zm0 2zm0-2zm0-1zm1 0zm0 4zm0-4zm0-4zm1 7zm0-1zm0-6zm0 2zm1 1zm0 2zm0-4zm0-3zm0 3zm0 0zm1-3zm0 1zm0 0zm0-6zm1 1zm0-4zm0 4zm1-1zm0-3zm0 0zm0 4zm0 0zm1 6zm0-3zm0 6zm0-1zm0 5zm0-9zm1-1zm0 3zm0-2zm0 4zm0-3zm1 2zm0-2zm0 11zm0-1zm1-2zm0-7zm0-2zm0 7zm1-17zm0-1zm0 1zm0 9zm0-8zm1 0zm0 1zm0 4zm0 1zm1-1zm0-4zm0 5zm0 1zm1-1zm0 0zm0-5zm0-2zm0 1zm0-5zm1 10zm0 8zm0-3zm1 4zm0-3zm0 3zm1-4zm0 2zm0 0zm0 2zm0 1zm0-3zm1 0zm0 1zm0 0zm0 3zm0-4zm1 0zm0 0zm0-1zm0-2zm0 1zm1 2zm0 0zm0 3zm0-2zm0 0zm1-4zm1 2zm0-1zm0 2zm0-5zm0 2zm0-1zm0 1zm1 1zm0-4zm0 1zm0 5zm0 2zm0-2zm0-2zm1-1zm1-2zm0 2zm0-1zm0 1zm0-3zm1 3zm0-3zm0 1zm0 2zm1-2zm0-1zm0-3zm0 1zm0-1zm0-1zm1 2zm0-1zm0-1zm0 4zm1-4zm0-1zm0 4zm0-1zm1-3zm0 1zm0 5zm0-1zm1-6zm0-5zm0 4zm0 1zm0-4zm1 4zm0-4zm0-2zm1 5zm0-2zm0 0zm0-2zm0 4zm1-2zm0-4zm0 2zm0-3zm0 5zm1-1zm0-4zm0 6zm0-4zm0-3zm1 0zm0 1zm0 0zm0-2zm1 1zm0 2zm0 2zm0-3zm0 3zm0-1zm0 1zm1 1zm0 0zm0-1zm1 0zm0 0zm0-1zm0 0zm1-1zm0 3zm0-3zm0 3zm0-1zm0-1zm0 3zm1 0zm0-2zm0 0zm0-2zm1 6zm0-4zm0 1zm1 0zm0-2zm0-11zm0-2zm1 7zm0 0zm0-2zm0 2zm0 2zm1-8zm0 2zm0 2zm0-7zm1 2zm0 0zm0 3zm0 4zm1-5zm0 3zm0-1zm0 2zm0 0zm1 5zm0-1zm0-2zm0 0zm1-2zm0 9zm0-5zm0-2zm0 2zm0 1zm1 0zm0 2zm0-4zm1 7zm0-5zm0 4zm0-1zm0 0zm1-1zm0-7zm0 3zm0 2zm1-4zm0 6zm0 1zm0 1zm0-1zm0-3zm0-4zm1 7zm0-5zm1-1zm0-2zm0 2zm0 1zm0 1zm0-2zm1 5zm0 0zm1 1zm0 6zm0 0zm0-3zm0 2zm0 1zm0 0zm1-4zm0 3zm0 1zm0-3zm1-2zm0 2zm0 2zm0 0zm1 4zm0-1zm0-1zm0 1zm0-1zm1 8zm0-6zm0 1zm0-3zm0-3zm1 5zm0-2zm0 2zm0 0zm1-2zm0 0zm0-2zm0-1zm1 0zm0 0zm0-2zm0-6zm0 2zm0 5zm1-11zm0 2zm0-1zm1 2zm0-3zm0 9zm0-7zm0-1zm1 4zm0 5zm0-4zm0 5zm1-2zm0-3zm0-2zm1-3zm0 2zm0 1zm0 1zm0-1zm0-1zm0 5zm1-2zm0-1zm0-1zm0 0zm1 2zm0-6zm0 9zm0-3zm0 5zm1 1zm0-1zm0 0zm0-2zm0 5zm1 1zm0 7zm1-1zm0-9zm0 3zm0 10zm0-6zm0 10zm0 2zm1-3zm0 1zm0-1zm1-4zm0 2zm0 1zm0 2zm0 4zm1 3zm0 3zm0 0zm1 7zm0 1zm0-6zm0 2zm0-5zm0 2zm1-11zm0 4zm0-4zm0 4zm0-3zm1 4zm0-6zm0-2zm0-2zm1-2zm0 15zm0 1zm0-7zm0-5zm0 8zm1 2zm0-2zm0 2zm0 0zm1-2zm0-1zm0 4zm0-5zm1-5zm0 3zm0 2zm0 3zm1-1zm0-4zm0 7zm0 1zm0-4zm1 8zm0-6zm0 5zm0 0zm1-1zm0 0zm0 2zm1 1zm0-7zm0 7zm0-4zm0-1zm0 0zm0 2zm1-3zm0 2zm0 2zm0-4zm0 2zm1 0zm0 1zm0-2zm0 0zm1 3zm0 0zm0 0zm0 1zm1-1zm0-1zm0 2zm0-2zm1-3zm0 3zm0-3zm0-2zm0-1zm1 5zm0-2zm0-3zm0 0zm0-1zm1 0zm0-1zm0 2zm1-1zm0 3zm0 0zm0-2zm0 2zm0-2zm1 0zm0 3zm1-3zm0 0zm0 3zm0-3zm0 0zm0 2zm1 1zm0 2zm0-2zm0 0zm1 4zm0 0zm0-4zm0 1zm0 2zm1-2zm0-5zm0 1zm0-3zm0 4zm1-1zm0 0zm0 0zm0-1zm1 0zm0 1zm0 1zm1 1zm0 0zm0-1zm0 2zm0 0zm0-1zm1 1zm0-1zm0 0zm1 0zm0-2zm0 1zm0 1zm0 0zm0 1zm0-3zm1 1zm0-1zm0 2zm1 0zm0 0zm0 3zm0-3zm0 3zm1-1zm0-1zm0 1zm0 0zm0 0zm0 0zm1-1zm0 2zm0-4zm1 1zm0 2zm0-2zm0-1zm1 1zm0 0zm0 1zm0 0zm0-1zm1 2zm0 1zm0-2zm0 1zm0 1zm0-1zm1 1zm0 0zm0 0zm0 2zm1 0zm0-3zm0 1zm1 2zm0-3zm0 2zm0 0zm0 0zm1 1zm0 0zm0-1zm0 0zm0 1zm1-2zm0 2zm0-1zm1 0zm0 0zm0 0zm0 2zm0-2zm0 2zm1-2zm0 1zm0 0zm0-4zm1 2zm0-1zm0 0zm0 2zm0 1zm1-1zm0 4zm0-3zm0 2zm1-1zm0 0zm0-1zm0 0zm0 1zm1-2zm0 0zm0 1zm0-2zm0-1zm1-2zm0 3zm0-2zm0-1zm1 0zm0 0zm0 0zm0 2zm1-1zm0-1zm0 2zm0 1zm0 0zm0 0zm1 1zm0-1zm0 1zm0 0zm1 0zm0 0zm0-3zm0 1zm0 0zm1 2zm0-2zm0 2zm1-2zm0 2zm0-4zm0 3zm0 1zm1-3zm0-1zm0 1zm0 0zm1 1zm0-1zm0 1zm1-3zm0 0zm0 1zm0-1zm0-3zm0 0zm0 3zm0-2zm1 5zm0-2zm0 0zm1-1zm0 0zm0 2zm1-3zm0 4zm0 0zm0-3zm0-1zm0 6zm1-2zm0 2zm0 1zm0 1zm0-1zm1 1zm0 0zm0 0zm1 0zm0 1zm0-4zm0 3zm0-1zm1-3zm0 0zm0 0zm0 1zm0 1zm1-1zm0 0zm0-2zm0 1zm1 1zm0 2zm0 1zm0-1zm0 1zm1-1zm0-1zm0 1zm0 0zm1-3zm0 0zm0 1zm0-1zm1 1zm0 0zm0-1zm0 0zm0 0zm1 0zm0 3zm0-2zm0-1zm1 2zm0-1zm0 1zm0 0zm0 1zm0 0zm1 0zm0 0zm0 1zm0-2zm1 1zm0 0zm0-6zm0 0zm1-2zm0 4zm0 0zm1-8zm0 3zm0 2zm0-3zm0 2zm0 3zm1-6zm0 2zm0 3zm1-6zm0 0zm0 3zm0-9zm0 8zm1-7zm0-1zm0 7zm0-7zm0 6zm0-8zm1 0zm0 5zm0 0zm0 2zm0-4zm1 1zm0-1zm0-20zm1 15zm0-17zm0 4zm0 0zm0 0zm0-1zm1-2zm0 4zm0 1zm0 2zm1 5zm0-2zm0 4zm0 2zm0 3zm1-7zm0 11zm0-1zm0-8zm1 10zm0-11zm0-7zm0 7zm1-1zm0 11zm0-5zm0 2zm0-3zm1 5zm0 10zm0-5zm0-7zm0-4zm1 4zm0 0zm0 9zm1-10zm0 6zm0 3zm0-2zm0 4zm1-5zm0 2zm0 2zm0 4zm1-24zm0 5zm0 1zm0 5zm0-10zm0 10zm1 12zm0-10zm0 7zm0 3zm0-5zm0-4zm1-8zm0-3zm1 2zm0 6zm0 3zm1-2zm0 1zm0 1zm0 10zm0-5zm0-10zm0 2zm1-21zm0 11zm0-7zm0 2zm0 13zm1-15zm0-1zm0 2zm0 5zm1 1zm0-2zm0 0zm1 11zm0-3zm0-1zm0 2zm0-4zm1 6zm0-7zm0 0zm0 8zm0 2zm0 1zm1-7zm0-3zm0 6zm0-4zm1-7zm0-2zm0 11zm0 1zm1-7zm0 11zm0-6zm0 5zm0-1zm1-6zm0 4zm0-7zm1 4zm0 0zm0 2zm0 3zm0 1zm1-7zm0 8zm0-4zm1-2zm0 5zm0 1zm0-8zm0 11zm0-6zm1 2zm0-14zm0 2zm0-6zm0 8zm1-8zm0 9zm0 1zm0 5zm1-4zm0 6zm0-8zm0 8zm1-4zm0 9zm0 1zm0-5zm1 2zm0 1zm0-5zm0 12zm0-4zm0 3zm0 3zm0-1zm1 0zm0-4zm1-1zm0 0zm0-2zm0 8zm1-5zm0 3zm0 0zm0 3zm0-2zm0-4zm1 2zm0-1zm0 0zm0-2zm1 0zm0-1zm0 2zm0 5zm1 1zm0-2zm0 0zm1-2zm0 2zm0 2zm0-1zm0 0zm0 2zm1-5zm0 4zm0-1zm0-2zm0 0zm1 2zm0 0zm0 0zm0-1zm0-1zm1 4zm0-2zm0 2zm0-2zm1 0zm0-3zm0 1zm0 0zm0-2zm0 1zm1 5zm0-3zm0 0zm1 1zm0-2zm0 2zm0 2zm1-2zm0 1zm0-2zm0-3zm0 2zm1 0zm0-3zm0 2zm0 0zm0 2zm1-4zm0 3zm0 2zm0-1zm0 0zm1 0zm0 0zm0-1zm1 1zm0-1zm0-2zm0 5zm0-4zm1 4zm0 1zm0-3zm0 2zm1-4zm0 1zm0 0zm0-3zm0 1zm1 3zm0 0zm0 4zm0 0zm1-2zm0 3zm0-5zm0 0zm1-1zm0-1zm0-2zm0 0zm0 1zm1-1zm0 1zm0-1zm0 1zm0 3zm0-5zm1 2zm0 5zm1 1zm0-5zm0 6zm0-3zm0 0zm0 0zm1 0zm0 1zm0-3zm0-2zm0 0zm1 3zm0 3zm0-4zm0-1zm0 3zm0 1zm1-3zm0-4zm1 2zm0 1zm0-1zm0-1zm0 2zm0 3zm1 1zm0-1zm1-2zm0 1zm0-3zm0 3zm0-2zm0 1zm1-1zm0 1zm0-1zm0-2zm0 1zm1 2zm0 1zm0 1zm0-3zm1-1zm0 3zm0 1zm0-4zm1 0zm0 3zm0-2zm0 0zm0 1zm0 1zm0 1zm1-2zm0 1zm0 0zm1 2zm0-4zm0 3zm1 1zm0-1zm0 1zm0 1zm0-5zm0 1zm1 4zm0 2zm0 5zm0-4zm1 10zm0-2zm0-1zm0 1zm0 0zm0-1zm1 4zm0-1zm0-1zm0-1zm1 3zm0-4zm0 2zm0 6zm0-8zm1 7zm0 0zm1-3zm0 4zm0 3zm0-3zm0 1zm0 2zm1 2zm0-1zm0 2zm0-2zm1 3zm0 1zm0-1zm0 1zm0 2zm1-4zm0 9zm0 1zm0 1zm1-4zm0 3zm0-6zm0 0zm1-3zm0 0zm0-3zm0 2zm0-4zm0 4zm0-2zm1-3zm0 0zm1-1zm0 1zm0-3zm0 4zm0-1zm0 1zm0 0zm1 2zm0 4zm1 1zm0-1zm0-3zm0 0zm1 2zm0-3zm0-1zm0-1zm0 1zm1 0zm0-5zm0 4zm0 4zm0-10zm0 6zm1-2zm0 9zm0-5zm0 0zm0-1zm1 1zm0-2zm0 3zm1-6zm0 8zm0 2zm0 1zm0-3zm1 0zm0 0zm0 4zm0-3zm0 1zm1 0zm0-3zm0 1zm0 1zm0-3zm1 2zm0 2zm1 3zm0-5zm0 5zm0-2zm0 1zm1-2zm0-2zm0 8zm0-9zm0 8zm0 0zm0 0zm1 0zm0 3zm1-10zm0 8zm0-11zm0 2zm0 4zm0-6zm1-1zm0 4zm0 0zm1-1zm0 2zm0 2zm0-9zm0 1zm1 6zm0-8zm0 1zm0 5zm1-1zm0 1zm0 3zm0-1zm0-1zm0 1zm0-2zm1 2zm0-4zm0 4zm1 0zm0-5zm0 2zm0-3zm1 1zm0-1zm0 6zm0-3zm1 2zm0 1zm0-4zm0 1zm0-1zm0 7zm1-1zm0-10zm0 7zm1 2zm0-1zm0-5zm0-3zm0 6zm0-5zm0 2zm1-4zm0 0zm1 0zm0 3zm0-4zm0 0zm0 2zm1 2zm0 0zm0 0zm0 0zm0 5zm1-1zm0-3zm0 3zm0-4zm1 3zm0-3zm0 2zm0 1zm1 5zm0-3zm0 4zm0-2zm0 0zm0-4zm1-2zm0 0zm0-1zm1 0zm0 2zm0-1zm0 2zm0-1zm1-1zm0-5zm0 6zm0 0zm1-4zm0-1zm0 2zm0-1zm1 3zm0-1zm0 0zm0 4zm1-4zm0 4zm0-1zm0-4zm0 3zm0-2zm1 2zm0 1zm0 1zm0 1zm0-4zm0-3zm1 9zm0-2zm0-3zm1 5zm0-5zm0 0zm0 3zm0-1zm0-3zm1 8zm0-7zm0 9zm1-1zm0-1zm0 0zm0 1zm0-1zm0-6zm0 0zm1-3zm0 4zm1 3zm0-2zm0 1zm0-4zm0 3zm1 0zm0-2zm0 4zm0-2zm1 5zm0-1zm0-4zm0 1zm0-3zm1 7zm0-6zm0 3zm1-6zm0 6zm0-2zm0-3zm0-1zm0 1zm0-2zm1 3zm0 0zm0 0zm0-2zm0 2zm1 8zm0-7zm0 2zm0 0zm0-2zm1 1zm0 0zm0 1zm0 2zm1-3zm0-6zm0 6zm1-3zm0-4zm0 1zm0-1zm0 1zm1-1zm0 2zm0-1zm0 1zm1 1zm0-3zm0-1zm1 2zm0 3zm0-2zm0 0zm0 2zm0 3zm0-3zm1 3zm0-3zm0 2zm0 1zm1-1zm0 4zm0-4zm0 2zm1 2zm0-4zm0 1zm0 3zm0 0zm1-3zm0 3zm0-3zm0 5zm1-5zm0 6zm0-1zm1 0zm0 1zm0-2zm0-1zm0-2zm1 3zm0-2zm0 0z"/>
</g>
<text x="58.5" y="223.6" font-size="14" text-anchor="middle">0</text>
<text x="132.25" y="223.6" font-size="14" text-anchor="middle">400</text>
<text x="206" y="223.6" font-size="14" text-anchor="middle">800</text>
<text x="279.75" y="223.6" font-size="14" text-anchor="middle">1200</text>
<text x="353.5" y="223.6" font-size="14" text-anchor="middle">1600</text>
<text x="378.5" y="223.6" font-size="14" text-anchor="middle">0</text>
<text x="452.5" y="223.6" font-size="14" text-anchor="middle">400</text>
<text x="526.5" y="223.6" font-size="14" text-anchor="middle">800</text>
<text x="600.5" y="223.6" font-size="14" text-anchor="middle">1200</text>
<text x="674.5" y="223.6" font-size="14" text-anchor="middle">1600</text>
<text x="699.5" y="223.6" font-size="14" text-anchor="middle">0</text>
<text x="773.5" y="223.6" font-size="14" text-anchor="middle">400</text>
<text x="847.5" y="223.6" font-size="14" text-anchor="middle">800</text>
<text x="921.5" y="223.6" font-size="14" text-anchor="middle">1200</text>
<text x="995.5" y="223.6" font-size="14" text-anchor="middle">1600</text>
<text x="52.8" y="213.5" font-size="14" text-anchor="end">−3</text>
<text x="52.8" y="180.5" font-size="14" text-anchor="end">−2</text>
<text x="52.8" y="147.5" font-size="14" text-anchor="end">−1</text>
<text x="52.8" y="114.5" font-size="14" text-anchor="end">0</text>
<text x="52.8" y="81.5" font-size="14" text-anchor="end">1</text>
<text x="52.8" y="48.5" font-size="14" text-anchor="end">2</text>
<text x="52.8" y="15.5" font-size="14" text-anchor="end">3</text>
<text x="1017" y="213.5" font-size="14" text-anchor="end">−3</text>
<text x="1017" y="180.5" font-size="14" text-anchor="end">−2</text>
<text x="1017" y="147.5" font-size="14" text-anchor="end">−1</text>
<text x="1017" y="114.5" font-size="14" text-anchor="end">0</text>
<text x="1017" y="81.5" font-size="14" text-anchor="end">1</text>
<text x="1017" y="48.5" font-size="14" text-anchor="end">2</text>
<text x="1017" y="15.5" font-size="14" text-anchor="end">3</text>
<text transform="translate(18.6 123.8) rotate(-90)" font-size="17.5" text-anchor="middle">Position Error [m]</text>
<text x="205.6" y="250.5" font-size="17.9" text-anchor="middle">Time [s]</text>
<text x="527.3" y="250.5" font-size="17.9" text-anchor="middle">Time [s]</text>
<text x="847.2" y="250.5" font-size="17.9" text-anchor="middle">Time [s]</text>
<text x="187.9" y="278.3" font-size="23.5" text-anchor="middle" style="font-family:'Liberation Serif', 'Times New Roman', serif">(<tspan font-weight="bold" font-size="22">a</tspan>)</text>
<text x="530.2" y="278.3" font-size="23.5" text-anchor="middle" style="font-family:'Liberation Serif', 'Times New Roman', serif">(<tspan font-weight="bold" font-size="22">b</tspan>)</text>
<text x="837.7" y="278.3" font-size="23.5" text-anchor="middle" style="font-family:'Liberation Serif', 'Times New Roman', serif">(<tspan font-weight="bold" font-size="22">c</tspan>)</text>
<circle cx="102.2" cy="35.2" r="2.3" fill="#a41ef2"/>
<text x="111.1" y="41.6" font-size="17.5" font-weight="bold">East</text>
<circle cx="191.1" cy="35.2" r="2.3" fill="#00fa00"/>
<text x="199.7" y="41.6" font-size="17.5" font-weight="bold">North</text>
<circle cx="280.1" cy="35.2" r="2.3" fill="#ff0000"/>
<text x="288.9" y="41.6" font-size="17.5" font-weight="bold">UP</text>
<circle cx="422.8" cy="35.2" r="2.3" fill="#a41ef2"/>
<text x="431.7" y="41.6" font-size="17.5" font-weight="bold">East</text>
<circle cx="511.7" cy="35.2" r="2.3" fill="#00fa00"/>
<text x="520.3" y="41.6" font-size="17.5" font-weight="bold">North</text>
<circle cx="600.7" cy="35.2" r="2.3" fill="#ff0000"/>
<text x="609.5" y="41.6" font-size="17.5" font-weight="bold">UP</text>
<circle cx="743.7" cy="35.2" r="2.3" fill="#a41ef2"/>
<text x="752.6" y="41.6" font-size="17.5" font-weight="bold">East</text>
<circle cx="832.6" cy="35.2" r="2.3" fill="#00fa00"/>
<text x="841.2" y="41.6" font-size="17.5" font-weight="bold">North</text>
<circle cx="921.6" cy="35.2" r="2.3" fill="#ff0000"/>
<text x="930.4" y="41.6" font-size="17.5" font-weight="bold">UP</text>
</svg></body></html>
